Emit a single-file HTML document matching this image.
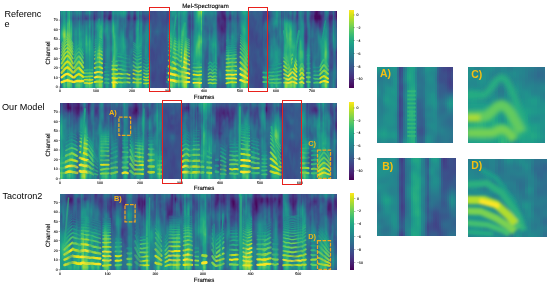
<!DOCTYPE html><html><head><meta charset="utf-8"><title>Mel-Spectrogram</title><style>
html,body{margin:0;padding:0;background:#fff}
body{width:550px;height:286px;position:relative;overflow:hidden;font-family:"Liberation Sans",sans-serif;color:#000}
.sp{position:absolute;display:flex;overflow:hidden}
.sp i{display:block;flex:0 0 1px;height:100%}
.p2 i{flex:0 0 2px}
.p3 i{flex:0 0 3px}
.t{position:absolute;white-space:nowrap;line-height:1}
.rb{position:absolute;border:1.4px solid #e8211c;box-sizing:border-box}
.db{position:absolute;border:1.2px dashed #eaa81c;box-sizing:border-box}
.yl{position:absolute;color:#f4b515;font-weight:bold;font-size:7.4px;line-height:1;white-space:nowrap}
.pl{position:absolute;color:#f5bf12;font-weight:bold;font-size:10.4px;line-height:1;white-space:nowrap}
svg{position:absolute;left:0;top:0}
.hm{overflow:hidden}
svg text{font-family:"Liberation Sans",sans-serif;fill:#000;stroke:#000;stroke-width:.9px;text-rendering:geometricPrecision}
</style></head><body>
<svg width="0" height="0"><defs><filter id="bl" x="-5%" y="-5%" width="110%" height="110%"><feGaussianBlur stdDeviation="0.6"/></filter></defs></svg>
<div class="sp" style="left:60px;top:11px;width:277px;height:76.5px"><i style="background:linear-gradient(#29798e,#2a778e,#31678e,#375a8c,#375b8d,#33628d,#2f6c8e,#2d708e,#287c8e,#24878e,#238a8d,#25858e,#2c728e,#32648e,#33638d,#31668e,#2d718e,#297b8e,#297a8e,#25858e,#23888e,#24868e,#26828e,#297b8e,#2c718e,#2e6e8e,#32658e,#32658e,#33638d,#38598c,#3e4a89)"></i><i style="background:linear-gradient(#1f998a,#1f958b,#24878e,#287c8e,#297a8e,#25848e,#228d8d,#1f978b,#20a486,#25ab82,#22a785,#1f9e89,#228d8d,#277f8e,#277e8e,#26818e,#25858e,#228b8d,#21908d,#1f9a8a,#1f998a,#1f998a,#1f968b,#238a8d,#26828e,#25838e,#25838e,#27808e,#27808e,#2a768e,#32648e)"></i><i style="background:linear-gradient(#20928c,#228c8d,#25838e,#27808e,#25838e,#218f8d,#1f9a8a,#23a983,#35b779,#42be71,#37b878,#24aa83,#1f998a,#20928c,#1f948c,#1f9a8a,#1e9b8a,#1e9c89,#20a386,#1fa287,#1f9f88,#1e9c89,#1f998a,#218f8d,#228d8d,#20928c,#1f998a,#1f958b,#1f9a8a,#20928c,#26818e)"></i><i style="background:linear-gradient(#1fa088,#1f9a8a,#20928c,#1f948c,#1e9c89,#1fa287,#28ae80,#3bbb75,#58c765,#7ad151,#70cf57,#50c46a,#32b67a,#32b67a,#38b977,#42be71,#44bf70,#46c06f,#42be71,#2eb37c,#28ae80,#24aa83,#22a884,#21a585,#21a685,#25ac82,#32b67a,#34b679,#3aba76,#35b779,#24aa83)"></i><i style="background:linear-gradient(#1fa088,#1e9b8a,#20938c,#1f968b,#1fa188,#21a685,#2db27d,#44bf70,#69cd5b,#8ed645,#8ed645,#70cf57,#50c46a,#48c16e,#50c46a,#5ac864,#5ec962,#5ac864,#4ac16d,#34b679,#2db27d,#2cb17e,#2cb17e,#28ae80,#24aa83,#2ab07f,#3aba76,#42be71,#4ac16d,#4ec36b,#32b67a)"></i><i style="background:linear-gradient(#20928c,#228d8d,#25848e,#23898e,#1f948c,#1f9f88,#24aa83,#2fb47c,#4cc26c,#60ca60,#69cd5b,#50c46a,#32b67a,#28ae80,#2ab07f,#29af7f,#2fb47c,#27ad81,#24aa83,#20a386,#1fa287,#20a486,#22a785,#1fa187,#1f988b,#1f9e89,#20a386,#26ad81,#31b57b,#37b878,#26ad81)"></i><i style="background:linear-gradient(#277e8e,#29798e,#2c718e,#2a788e,#24868e,#1f978b,#1e9d89,#20a386,#2ab07f,#3bbb75,#44bf70,#37b878,#25ab82,#22a785,#24aa83,#23a983,#23a983,#21a585,#20a386,#1fa187,#21a585,#21a585,#22a884,#1fa188,#1f958b,#1f978b,#1f9e89,#21a685,#29af7f,#2ab07f,#1fa187)"></i><i style="background:linear-gradient(#1e9c89,#1e9b8a,#1f948c,#1f9a8a,#21a585,#31b57b,#37b878,#3dbc74,#50c46a,#6ccd5a,#7ad151,#7ad151,#6ccd5a,#69cd5b,#69cd5b,#69cd5b,#63cb5f,#56c667,#4ec36b,#4cc26c,#54c568,#4ec36b,#50c46a,#46c06f,#35b779,#37b878,#42be71,#56c667,#65cb5e,#5ac864,#35b779)"></i><i style="background:linear-gradient(#21a585,#22a884,#20a486,#20a486,#2ab07f,#3aba76,#3bbb75,#3dbc74,#4ac16d,#60ca60,#6ece58,#75d054,#75d054,#70cf57,#67cc5c,#69cd5b,#65cb5e,#5cc863,#4ec36b,#46c06f,#4cc26c,#4ec36b,#50c46a,#44bf70,#3dbc74,#40bd72,#4ac16d,#5ec962,#6ccd5a,#5cc863,#3bbb75)"></i><i style="background:linear-gradient(#23a983,#25ac82,#25ab82,#25ab82,#3fbc73,#48c16e,#46c06f,#46c06f,#4cc26c,#5ec962,#69cd5b,#6ece58,#70cf57,#6ccd5a,#6ccd5a,#67cc5c,#6ccd5a,#67cc5c,#58c765,#4ac16d,#4ec36b,#58c765,#52c569,#3fbc73,#3fbc73,#46c06f,#4cc26c,#56c667,#69cd5b,#5cc863,#3aba76)"></i><i style="background:linear-gradient(#25858e,#23888e,#26828e,#26828e,#1e9c89,#21a585,#24aa83,#2db27d,#35b779,#44bf70,#4ac16d,#48c16e,#50c46a,#52c569,#60ca60,#5ec962,#5ac864,#50c46a,#4ac16d,#40bd72,#44bf70,#46c06f,#3aba76,#2cb17e,#2cb17e,#32b67a,#34b679,#35b779,#48c16e,#48c16e,#28ae80)"></i><i style="background:linear-gradient(#24878e,#228c8d,#26818e,#297b8e,#1f968b,#21a585,#25ac82,#2eb37c,#35b779,#3fbc73,#3bbb75,#34b679,#3aba76,#3fbc73,#50c46a,#56c667,#4ec36b,#3dbc74,#3aba76,#37b878,#3bbb75,#35b779,#2fb47c,#27ad81,#2ab07f,#2db27d,#28ae80,#2ab07f,#34b679,#3dbc74,#25ab82)"></i><i style="background:linear-gradient(#2c728e,#2a778e,#31678e,#375a8c,#2e6e8e,#277e8e,#24868e,#218e8d,#21908d,#1f948c,#21908d,#228d8d,#21918c,#20938c,#1f9f88,#20a386,#1fa188,#1f958b,#21908d,#218f8d,#228d8d,#23898e,#228c8d,#218f8d,#21918c,#228d8d,#23888e,#24868e,#228d8d,#20928c,#23888e)"></i><i style="background:linear-gradient(#2c718e,#2c738e,#34608d,#3c508b,#34618d,#2e6d8e,#2b758e,#277e8e,#287c8e,#27808e,#297b8e,#287c8e,#277f8e,#26818e,#228b8d,#218f8d,#218e8d,#24878e,#26828e,#26828e,#277e8e,#29798e,#27808e,#25848e,#26828e,#2a768e,#2c738e,#2d708e,#29798e,#277e8e,#2b748e)"></i><i style="background:linear-gradient(#277e8e,#29798e,#31668e,#375a8c,#30698e,#2e6e8e,#2a778e,#25848e,#23898e,#228d8d,#24878e,#23888e,#228d8d,#21908d,#1f958b,#1f978b,#1f968b,#1f9a8a,#1f9a8a,#1e9c89,#1f988b,#1f978b,#1e9c89,#1f968b,#218f8d,#26818e,#27808e,#25838e,#21908d,#1f978b,#228b8d)"></i><i style="background:linear-gradient(#26828e,#29798e,#31668e,#375b8d,#306a8e,#2d718e,#297a8e,#23888e,#20928c,#1f958b,#218e8d,#20928c,#1f988b,#1e9c89,#1fa187,#1fa287,#1f9e89,#20a486,#22a884,#27ad81,#23a983,#27ad81,#29af7f,#20a386,#1e9d89,#20928c,#20938c,#1fa088,#25ac82,#31b57b,#24aa83)"></i><i style="background:linear-gradient(#228d8d,#25848e,#2d708e,#33628d,#2e6e8e,#2a768e,#277f8e,#238a8d,#20938c,#1f968b,#20928c,#20938c,#1e9c89,#1f9e89,#22a785,#21a585,#1fa287,#21a685,#26ad81,#2cb17e,#26ad81,#2eb37c,#2db27d,#21a685,#20a386,#1e9c89,#1fa187,#2ab07f,#3dbc74,#4ac16d,#2fb47c)"></i><i style="background:linear-gradient(#228d8d,#24878e,#2c718e,#355f8d,#2e6f8e,#2a788e,#27808e,#23888e,#23888e,#228b8d,#24878e,#24868e,#21918c,#20938c,#1e9c89,#1f9e89,#1fa088,#20a386,#26ad81,#28ae80,#28ae80,#2eb37c,#2db27d,#24aa83,#22a884,#20a386,#25ab82,#37b878,#4ec36b,#54c568,#32b67a)"></i><i style="background:linear-gradient(#26828e,#277f8e,#31688e,#3c4f8a,#2d708e,#287d8e,#25838e,#218e8d,#228d8d,#21918c,#228d8d,#228c8d,#1f978b,#1f978b,#1e9c89,#1fa287,#1fa088,#1fa188,#24aa83,#28ae80,#2ab07f,#2db27d,#34b679,#2fb47c,#28ae80,#22a884,#26ad81,#35b779,#4cc26c,#58c765,#3aba76)"></i><i style="background:linear-gradient(#228b8d,#238a8d,#2b758e,#32648e,#26818e,#228d8d,#1f948c,#1e9d89,#1fa287,#21a685,#20a386,#1fa187,#24aa83,#24aa83,#24aa83,#27ad81,#21a685,#20a386,#28ae80,#2eb37c,#2eb37c,#37b878,#3fbc73,#40bd72,#37b878,#2db27d,#34b679,#3aba76,#4ac16d,#5cc863,#3fbc73)"></i><i style="background:linear-gradient(#277e8e,#297b8e,#31678e,#365d8d,#2e6e8e,#29798e,#26828e,#23898e,#1f968b,#1f9f88,#1e9c89,#1f9e89,#20a486,#25ac82,#24aa83,#25ab82,#22a785,#20a486,#25ab82,#25ac82,#23a983,#2cb17e,#29af7f,#31b57b,#2fb47c,#2eb37c,#35b779,#31b57b,#35b779,#3fbc73,#28ae80)"></i><i style="background:linear-gradient(#2b758e,#2b748e,#32648e,#355f8d,#2e6d8e,#2b748e,#26828e,#24868e,#21908d,#1f978b,#1f958b,#1e9b8a,#1fa188,#23a983,#21a585,#21a585,#20a486,#1fa187,#20a486,#20a386,#20a386,#22a785,#23a983,#25ac82,#2eb37c,#37b878,#3fbc73,#3bbb75,#3aba76,#35b779,#24aa83)"></i><i style="background:linear-gradient(#39568c,#375b8d,#3d4d8a,#3e4989,#365d8d,#31688e,#297a8e,#25838e,#228b8d,#228d8d,#228b8d,#20928c,#1f968b,#1f988b,#20938c,#20938c,#218f8d,#228d8d,#218f8d,#218f8d,#20928c,#20938c,#1f968b,#1f998a,#20a486,#27ad81,#2cb17e,#29af7f,#27ad81,#22a785,#1f998a)"></i><i style="background:linear-gradient(#34608d,#32648e,#39568c,#3c508b,#33638d,#2e6f8e,#287d8e,#25838e,#228c8d,#228c8d,#238a8d,#21918c,#20938c,#1f948c,#20938c,#20928c,#228c8d,#24868e,#25858e,#26828e,#25848e,#25848e,#24878e,#228c8d,#1f968b,#1f9e89,#1e9c89,#1e9d89,#1f9a8a,#20928c,#24878e)"></i><i style="background:linear-gradient(#33628d,#31688e,#3a538b,#3d4d8a,#31678e,#2c718e,#2a788e,#287c8e,#25838e,#24878e,#23888e,#228d8d,#21908d,#20928c,#218f8d,#228b8d,#24868e,#277e8e,#29798e,#2a768e,#297b8e,#287d8e,#27808e,#24878e,#20928c,#1f948c,#20928c,#1e9b8a,#1fa088,#1e9d89,#20928c)"></i><i style="background:linear-gradient(#2f6b8e,#2c718e,#3c4f8a,#414287,#306a8e,#2a778e,#26818e,#24868e,#228d8d,#20938c,#1e9d89,#1fa188,#21a585,#23a983,#1fa088,#1e9c89,#1f998a,#228d8d,#24878e,#25858e,#23888e,#228c8d,#228c8d,#1f968b,#1fa088,#1fa188,#20a386,#25ab82,#37b878,#38b977,#25ab82)"></i><i style="background:linear-gradient(#297b8e,#287d8e,#3a548c,#423f85,#2d708e,#277e8e,#228b8d,#1f948c,#1f998a,#1f9f88,#27ad81,#2cb17e,#31b57b,#34b679,#27ad81,#24aa83,#23a983,#1e9b8a,#1f958b,#21908d,#218f8d,#20928c,#20928c,#1e9c89,#1fa188,#21a685,#27ad81,#31b57b,#4cc26c,#4ec36b,#2db27d)"></i><i style="background:linear-gradient(#277f8e,#287c8e,#38588c,#3f4788,#2f6b8e,#2a778e,#26818e,#25848e,#238a8d,#218e8d,#1f9a8a,#1fa088,#21a685,#26ad81,#22a785,#20a486,#1fa188,#1f978b,#1f948c,#21908d,#228d8d,#218f8d,#21908d,#1e9d89,#1fa088,#22a884,#29af7f,#3aba76,#50c46a,#4ec36b,#2db27d)"></i><i style="background:linear-gradient(#25838e,#287d8e,#355e8d,#3b528b,#2f6c8e,#29798e,#26828e,#277f8e,#27808e,#24868e,#21908d,#1f978b,#1fa188,#21a685,#1fa287,#20a386,#1f9e89,#1f978b,#20928c,#20928c,#228d8d,#218e8d,#218f8d,#1f9a8a,#1fa188,#22a785,#29af7f,#40bd72,#4cc26c,#46c06f,#2cb17e)"></i><i style="background:linear-gradient(#1f9a8a,#1f958b,#2a778e,#2e6e8e,#24878e,#20928c,#1e9c89,#1f968b,#20928c,#1f988b,#1fa187,#25ac82,#2fb47c,#2fb47c,#2db27d,#2fb47c,#26ad81,#23a983,#1fa188,#1fa188,#1f9e89,#1f9e89,#1f9e89,#20a386,#27ad81,#2db27d,#3aba76,#5ac864,#6ccd5a,#5ec962,#44bf70)"></i><i style="background:linear-gradient(#27808e,#26818e,#31678e,#34608d,#287c8e,#24868e,#228b8d,#24878e,#25838e,#23898e,#20928c,#1f9e89,#22a884,#22a884,#22a884,#23a983,#1fa188,#1fa287,#1f9a8a,#1f988b,#1e9b8a,#1f988b,#1f998a,#1e9b8a,#21a685,#25ac82,#29af7f,#3fbc73,#58c765,#54c568,#37b878)"></i><i style="background:linear-gradient(#2e6d8e,#2e6f8e,#365c8d,#38588c,#2d718e,#2a788e,#2a768e,#2c728e,#2c738e,#2a788e,#26818e,#238a8d,#1f978b,#1e9d89,#1f9f88,#1fa188,#1f988b,#1f998a,#1f948c,#21918c,#20938c,#20938c,#1f968b,#1f978b,#1e9d89,#20a486,#21a685,#29af7f,#3dbc74,#42be71,#2db27d)"></i><i style="background:linear-gradient(#2f6b8e,#30698e,#375b8d,#375b8d,#29798e,#25838e,#25838e,#24868e,#23888e,#238a8d,#218f8d,#20928c,#1f978b,#1f968b,#1f998a,#1e9c89,#1e9b8a,#1f978b,#1f948c,#1f948c,#1f968b,#1f988b,#1f9f88,#1f9e89,#1f9f88,#1fa088,#1e9c89,#1f9f88,#22a884,#26ad81,#1fa287)"></i><i style="background:linear-gradient(#32648e,#38588c,#3f4889,#414487,#32658e,#2c728e,#2a768e,#297b8e,#2a788e,#2a788e,#26818e,#26828e,#25838e,#27808e,#25848e,#228d8d,#20928c,#218f8d,#24878e,#25848e,#26828e,#277e8e,#25848e,#24868e,#228b8d,#23888e,#24878e,#238a8d,#21908d,#1f948c,#218e8d)"></i><i style="background:linear-gradient(#3a548c,#3e4989,#453581,#472e7c,#3c508b,#34618d,#32658e,#2f6c8e,#32648e,#32658e,#2d708e,#2c738e,#2d708e,#2f6c8e,#2d708e,#287d8e,#25848e,#25858e,#277e8e,#2a788e,#2c718e,#2f6c8e,#2e6f8e,#2a778e,#277f8e,#277f8e,#26818e,#26828e,#25858e,#228c8d,#25838e)"></i><i style="background:linear-gradient(#3a538b,#3a548c,#404588,#3f4788,#31688e,#297b8e,#277e8e,#26828e,#297b8e,#27808e,#238a8d,#21908d,#228b8d,#23888e,#23898e,#1f988b,#20a386,#25ac82,#24aa83,#1fa088,#1f968b,#20928c,#1f948c,#1fa188,#21a685,#22a785,#22a785,#20a486,#24aa83,#31b57b,#20a486)"></i><i style="background:linear-gradient(#3d4d8a,#3a538b,#3e4989,#3a548c,#2a768e,#228c8d,#21908d,#228d8d,#25838e,#23888e,#228c8d,#218e8d,#218e8d,#218e8d,#21918c,#1fa187,#29af7f,#37b878,#3bbb75,#29af7f,#22a785,#21a585,#21a585,#29af7f,#2eb37c,#31b57b,#2eb37c,#2db27d,#3aba76,#4cc26c,#2fb47c)"></i><i style="background:linear-gradient(#38598c,#355f8d,#3a548c,#375b8d,#27808e,#1f988b,#1fa088,#1e9c89,#1f948c,#1f968b,#1f988b,#20938c,#1f948c,#1e9b8a,#1fa187,#2cb17e,#3bbb75,#42be71,#46c06f,#35b779,#29af7f,#27ad81,#26ad81,#2ab07f,#29af7f,#2eb37c,#31b57b,#38b977,#46c06f,#4ec36b,#34b679)"></i><i style="background:linear-gradient(#31668e,#30698e,#355f8d,#34608d,#26818e,#1e9c89,#21a685,#20a386,#1fa187,#1fa187,#1fa287,#1fa088,#1fa187,#25ab82,#2cb17e,#3fbc73,#4cc26c,#52c569,#54c568,#42be71,#2db27d,#26ad81,#28ae80,#28ae80,#25ab82,#2cb17e,#35b779,#48c16e,#58c765,#5ac864,#3aba76)"></i><i style="background:linear-gradient(#306a8e,#2e6d8e,#32648e,#32648e,#25858e,#1f9f88,#26ad81,#25ac82,#29af7f,#2db27d,#2eb37c,#34b679,#32b67a,#44bf70,#4cc26c,#58c765,#65cb5e,#67cc5c,#69cd5b,#5cc863,#42be71,#38b977,#3aba76,#38b977,#35b779,#40bd72,#4ec36b,#69cd5b,#7cd250,#7fd34e,#50c46a)"></i><i style="background:linear-gradient(#32648e,#306a8e,#33638d,#32658e,#24878e,#1f9a8a,#26ad81,#28ae80,#31b57b,#2fb47c,#35b779,#38b977,#2eb37c,#2fb47c,#31b57b,#38b977,#44bf70,#3fbc73,#44bf70,#3fbc73,#31b57b,#2fb47c,#32b67a,#35b779,#3aba76,#3dbc74,#42be71,#5cc863,#75d054,#7fd34e,#50c46a)"></i><i style="background:linear-gradient(#2d718e,#2b748e,#30698e,#2d718e,#228d8d,#1f9f88,#27ad81,#2db27d,#34b679,#2eb37c,#35b779,#38b977,#2cb17e,#26ad81,#25ac82,#2eb37c,#3aba76,#31b57b,#35b779,#2fb47c,#25ac82,#26ad81,#29af7f,#2fb47c,#32b67a,#34b679,#32b67a,#46c06f,#65cb5e,#75d054,#50c46a)"></i><i style="background:linear-gradient(#2a788e,#297a8e,#2f6c8e,#2b758e,#238a8d,#1e9d89,#1fa187,#24aa83,#22a884,#1fa187,#1fa188,#20a386,#1fa088,#1f998a,#1f958b,#1e9d89,#1fa088,#1f9f88,#1f9f88,#1f988b,#218e8d,#238a8d,#218e8d,#21918c,#20938c,#1f968b,#1f988b,#21a585,#32b67a,#37b878,#25ac82)"></i><i style="background:linear-gradient(#365c8d,#355f8d,#3d4e8a,#39568c,#306a8e,#287d8e,#27808e,#238a8d,#23888e,#277f8e,#2b758e,#2b748e,#2a768e,#2b748e,#2b758e,#2a788e,#2c738e,#2b758e,#2b758e,#2e6e8e,#33628d,#365d8d,#34618d,#32648e,#30698e,#2e6e8e,#2c738e,#26818e,#23888e,#26828e,#29798e)"></i><i style="background:linear-gradient(#424086,#404588,#46337f,#433d84,#3a538b,#2f6b8e,#2d718e,#287d8e,#26828e,#2a768e,#31688e,#355e8d,#34618d,#33638d,#31668e,#30698e,#306a8e,#30698e,#31688e,#32658e,#365c8d,#375b8d,#33628d,#32658e,#2f6c8e,#2e6d8e,#2a778e,#277f8e,#297b8e,#2d708e,#32658e)"></i><i style="background:linear-gradient(#3e4c8a,#3e4989,#443b84,#3d4d8a,#31688e,#297a8e,#26828e,#218e8d,#20928c,#24878e,#297b8e,#2d708e,#2c718e,#2c718e,#2c728e,#297a8e,#277e8e,#287c8e,#2a788e,#29798e,#2b748e,#297a8e,#26818e,#26828e,#24878e,#26828e,#21908d,#1f958b,#20928c,#238a8d,#27808e)"></i><i style="background:linear-gradient(#39558c,#3b518b,#414487,#3b528b,#2b748e,#25838e,#21908d,#1f998a,#1f968b,#228d8d,#24868e,#277f8e,#297b8e,#287c8e,#287c8e,#25858e,#23888e,#23888e,#25848e,#26828e,#27808e,#24868e,#23888e,#238a8d,#228b8d,#238a8d,#1f968b,#1f9f88,#1f9f88,#1f9e89,#1f958b)"></i><i style="background:linear-gradient(#365c8d,#38598c,#3f4788,#3f4889,#2c718e,#25848e,#20928c,#1f988b,#1f968b,#20928c,#20928c,#228c8d,#24868e,#24878e,#228b8d,#20928c,#20928c,#20928c,#21908d,#228b8d,#24868e,#228c8d,#23888e,#238a8d,#23888e,#228d8d,#20928c,#1f978b,#1e9d89,#1fa187,#1f9a8a)"></i><i style="background:linear-gradient(#39558c,#3b518b,#463480,#482576,#33628d,#29798e,#25838e,#23898e,#24878e,#238a8d,#218f8d,#228b8d,#25858e,#24878e,#228c8d,#218f8d,#218e8d,#218e8d,#228c8d,#23888e,#26828e,#25848e,#25838e,#26818e,#25838e,#25848e,#25858e,#228b8d,#21908d,#20938c,#238a8d)"></i><i style="background:linear-gradient(#414287,#433e85,#482374,#481769,#39568c,#2d708e,#297b8e,#25838e,#26828e,#26828e,#25848e,#25848e,#27808e,#25848e,#23888e,#238a8d,#238a8d,#23888e,#25838e,#26828e,#26818e,#26818e,#26828e,#27808e,#26828e,#277f8e,#27808e,#26828e,#25838e,#26818e,#2a788e)"></i><i style="background:linear-gradient(#433d84,#443a83,#482475,#482576,#3a538b,#2f6b8e,#2b758e,#287d8e,#297b8e,#2b758e,#2c728e,#2c728e,#2d708e,#2b748e,#297a8e,#277e8e,#2a768e,#2c728e,#2d708e,#2c728e,#29798e,#27808e,#277e8e,#277f8e,#287d8e,#27808e,#26818e,#26828e,#27808e,#2a788e,#2c738e)"></i><i style="background:linear-gradient(#3b528b,#3a538b,#423f85,#3f4788,#31668e,#29798e,#27808e,#24878e,#24878e,#277e8e,#29798e,#2a768e,#2c728e,#2b758e,#277e8e,#26828e,#2a768e,#2d718e,#2d718e,#2a768e,#277f8e,#23898e,#238a8d,#238a8d,#23888e,#228c8d,#20928c,#1f9a8a,#1f9a8a,#1f968b,#228d8d)"></i><i style="background:linear-gradient(#25848e,#24878e,#2a788e,#287d8e,#20938c,#1fa187,#22a884,#28ae80,#26ad81,#20a486,#1fa088,#1e9b8a,#1f978b,#1f978b,#1fa187,#20a486,#1e9c89,#1e9b8a,#1fa088,#21a585,#25ab82,#2eb37c,#37b878,#38b977,#3bbb75,#3fbc73,#52c569,#6ccd5a,#8bd646,#8ed645,#69cd5b)"></i><i style="background:linear-gradient(#1f988b,#1f988b,#24878e,#25858e,#1e9c89,#26ad81,#34b679,#3aba76,#3aba76,#35b779,#35b779,#29af7f,#27ad81,#26ad81,#2ab07f,#2cb17e,#28ae80,#2fb47c,#40bd72,#52c569,#56c667,#54c568,#5cc863,#6ccd5a,#70cf57,#75d054,#8ed645,#b2dd2d,#e5e419,#f6e620,#d2e21b)"></i><i style="background:linear-gradient(#228d8d,#23898e,#2b758e,#2d708e,#25838e,#1f958b,#20a386,#22a884,#23a983,#2ab07f,#35b779,#31b57b,#38b977,#3bbb75,#3aba76,#37b878,#38b977,#3bbb75,#44bf70,#46c06f,#46c06f,#3aba76,#3aba76,#48c16e,#4cc26c,#5cc863,#73d056,#95d840,#c0df25,#dae319,#b2dd2d)"></i><i style="background:linear-gradient(#228b8d,#23898e,#2c738e,#2e6f8e,#277f8e,#228c8d,#1f988b,#1e9b8a,#1f998a,#1fa187,#23a983,#23a983,#27ad81,#2cb17e,#2db27d,#2db27d,#2eb37c,#2cb17e,#2cb17e,#27ad81,#2eb37c,#29af7f,#27ad81,#2cb17e,#2ab07f,#40bd72,#4ec36b,#5ec962,#7ad151,#89d548,#63cb5f)"></i><i style="background:linear-gradient(#23898e,#228b8d,#2a768e,#2c718e,#26818e,#228b8d,#20928c,#20928c,#20928c,#1f958b,#1f9a8a,#1f9a8a,#1f9e89,#1fa287,#21a685,#25ab82,#24aa83,#21a685,#1fa287,#1e9d89,#20a486,#20a486,#20a386,#20a386,#1fa287,#2ab07f,#2cb17e,#2db27d,#34b679,#3aba76,#25ac82)"></i><i style="background:linear-gradient(#218f8d,#21918c,#27808e,#2a778e,#24878e,#228d8d,#228d8d,#228c8d,#228c8d,#228b8d,#21918c,#1f948c,#1f968b,#1e9b8a,#1f9a8a,#1f9e89,#1e9c89,#1f978b,#1f958b,#218e8d,#21908d,#20928c,#1f948c,#20938c,#20938c,#1fa088,#1fa088,#1fa188,#21a585,#1fa287,#1f968b)"></i><i style="background:linear-gradient(#20928c,#218f8d,#277e8e,#2b758e,#277e8e,#26828e,#25838e,#26818e,#26818e,#27808e,#23888e,#21908d,#21918c,#20938c,#20938c,#20928c,#218e8d,#228c8d,#228d8d,#25858e,#26818e,#26828e,#25848e,#26828e,#25858e,#218f8d,#20938c,#1f9f88,#20a486,#1f9f88,#20928c)"></i><i style="background:linear-gradient(#20928c,#228d8d,#2a778e,#2f6c8e,#306a8e,#2d718e,#2b748e,#2c738e,#2a778e,#287c8e,#25848e,#228d8d,#218f8d,#1f948c,#1f948c,#218f8d,#21908d,#20928c,#218e8d,#25848e,#277e8e,#287d8e,#26818e,#277f8e,#24868e,#218e8d,#1f948c,#1fa287,#22a884,#20a386,#20938c)"></i><i style="background:linear-gradient(#1f988b,#1f968b,#277e8e,#31688e,#31668e,#2e6e8e,#2d718e,#2a778e,#27808e,#23888e,#228d8d,#20928c,#20938c,#1f988b,#1f978b,#20928c,#1f958b,#1f988b,#21918c,#24878e,#24868e,#25838e,#24878e,#238a8d,#20928c,#1f998a,#1f9f88,#24aa83,#29af7f,#27ad81,#1f9f88)"></i><i style="background:linear-gradient(#1f9a8a,#1e9c89,#25848e,#2e6d8e,#2e6e8e,#2c738e,#2d718e,#297b8e,#25858e,#218f8d,#20938c,#1f998a,#1e9b8a,#1e9d89,#1f9a8a,#1f998a,#1f9a8a,#1f998a,#1f948c,#228b8d,#21918c,#228d8d,#218e8d,#20928c,#1f958b,#1f968b,#1f9a8a,#1f9e89,#22a785,#28ae80,#1fa188)"></i><i style="background:linear-gradient(#1f988b,#1f978b,#25858e,#2d708e,#2d718e,#2c738e,#2d718e,#2a778e,#25848e,#218f8d,#1f998a,#1fa088,#1fa088,#1fa188,#1f9f88,#1e9d89,#1f9e89,#1f958b,#20928c,#21908d,#1f978b,#1f978b,#1f988b,#1f988b,#1f968b,#1f968b,#1f998a,#20938c,#1e9b8a,#1fa088,#21908d)"></i><i style="background:linear-gradient(#22a785,#1f9f88,#238a8d,#2c738e,#2c718e,#2a768e,#297b8e,#277e8e,#23888e,#20928c,#1e9c89,#20a486,#20a486,#22a785,#22a785,#1fa187,#1f9f88,#1f948c,#20928c,#20928c,#1e9b8a,#1f9e89,#1f9e89,#1fa188,#1e9b8a,#1e9b8a,#1f9e89,#1e9b8a,#20a386,#1e9b8a,#238a8d)"></i><i style="background:linear-gradient(#1fa188,#1e9b8a,#25848e,#2e6e8e,#2f6b8e,#2d718e,#2a778e,#2c738e,#2a778e,#29798e,#26828e,#21918c,#1f968b,#1f9e89,#1fa287,#1e9d89,#1f968b,#20938c,#20928c,#20928c,#1f998a,#1e9b8a,#1f9a8a,#1f9f88,#1f998a,#1f998a,#1f9e89,#1fa187,#26ad81,#1f998a,#23888e)"></i><i style="background:linear-gradient(#1f988b,#1f968b,#277e8e,#2e6f8e,#2c718e,#2b758e,#2a778e,#2e6e8e,#2e6d8e,#2f6c8e,#2c738e,#25838e,#23898e,#218e8d,#1f998a,#1f948c,#20938c,#1f958b,#1f958b,#20928c,#1f978b,#1f988b,#1f968b,#1f9a8a,#1f958b,#1f978b,#1e9c89,#1fa088,#22a785,#1f968b,#26828e)"></i><i style="background:linear-gradient(#26828e,#287d8e,#33628d,#38588c,#33638d,#32648e,#32648e,#375b8d,#38588c,#38598c,#355f8d,#2e6f8e,#29798e,#297b8e,#26828e,#287c8e,#27808e,#26818e,#26818e,#277f8e,#26818e,#27808e,#27808e,#25838e,#26828e,#24878e,#228b8d,#218f8d,#20938c,#218e8d,#297a8e)"></i><i style="background:linear-gradient(#2d708e,#31668e,#3e4a89,#424086,#3a548c,#375a8c,#38588c,#3a548c,#39558c,#38588c,#375b8d,#31688e,#2c718e,#2b758e,#2a778e,#2d718e,#2c728e,#2b748e,#29798e,#297a8e,#2a768e,#2b758e,#2a768e,#2a768e,#2b758e,#297a8e,#287d8e,#25838e,#23898e,#24878e,#2a778e)"></i><i style="background:linear-gradient(#3a548c,#3c508b,#453581,#472e7c,#3e4989,#3a548c,#3a548c,#39568c,#375b8d,#355e8d,#33628d,#32658e,#31668e,#2e6d8e,#2e6d8e,#2f6c8e,#2e6e8e,#2d708e,#2a768e,#2a778e,#2a788e,#2a768e,#2c728e,#2f6c8e,#30698e,#31688e,#2e6d8e,#2a768e,#287c8e,#277e8e,#2c718e)"></i><i style="background:linear-gradient(#3a548c,#3b518b,#443983,#463480,#3e4c8a,#38598c,#365d8d,#355f8d,#31678e,#2e6f8e,#2c728e,#2e6d8e,#30698e,#2e6d8e,#2e6f8e,#2d718e,#2b758e,#2a768e,#287c8e,#287d8e,#26818e,#287d8e,#2a788e,#2d708e,#2f6b8e,#31668e,#2e6e8e,#297a8e,#26818e,#26828e,#2a788e)"></i><i style="background:linear-gradient(#31678e,#31668e,#3b528b,#3e4989,#38598c,#32648e,#31668e,#32658e,#2e6f8e,#2b758e,#297a8e,#2a768e,#2c738e,#2d708e,#2c718e,#2a778e,#287d8e,#297a8e,#287c8e,#277e8e,#277e8e,#26818e,#26818e,#297b8e,#2a768e,#2d718e,#2b748e,#25858e,#228b8d,#228c8d,#27808e)"></i><i style="background:linear-gradient(#2e6d8e,#2e6f8e,#355e8d,#3b528b,#355e8d,#31678e,#32658e,#32658e,#2d708e,#2d718e,#2a788e,#297a8e,#2c738e,#2e6e8e,#2c718e,#297b8e,#26818e,#2a778e,#2b758e,#2a778e,#297a8e,#25838e,#25858e,#26818e,#297a8e,#2b758e,#2a768e,#25838e,#23888e,#23888e,#297b8e)"></i><i style="background:linear-gradient(#2c728e,#2d708e,#365d8d,#3c508b,#365d8d,#32648e,#34608d,#31688e,#2d708e,#2d708e,#2b748e,#2a768e,#2d718e,#2e6f8e,#2c718e,#297b8e,#297b8e,#2c718e,#2e6f8e,#2d718e,#2a778e,#25848e,#25838e,#287c8e,#2b748e,#2c728e,#2a768e,#277e8e,#24878e,#25858e,#2c738e)"></i><i style="background:linear-gradient(#34618d,#375b8d,#414287,#46327e,#3d4e8a,#375a8c,#38588c,#34618d,#34608d,#34618d,#34618d,#32648e,#31678e,#306a8e,#2e6d8e,#2c728e,#2d718e,#2f6b8e,#306a8e,#2e6d8e,#2c738e,#287c8e,#287d8e,#2a778e,#2d718e,#2e6f8e,#2a768e,#277e8e,#228d8d,#228c8d,#29798e)"></i><i style="background:linear-gradient(#3e4c8a,#3f4788,#472d7b,#481f70,#404588,#3a548c,#38598c,#365d8d,#38598c,#375a8c,#39568c,#375b8d,#31678e,#2c718e,#2a778e,#297b8e,#2a768e,#2d718e,#2c718e,#2b758e,#2b758e,#2a788e,#277f8e,#277e8e,#29798e,#2a788e,#26828e,#238a8d,#1f968b,#1f978b,#238a8d)"></i><i style="background:linear-gradient(#3a538b,#3c508b,#453581,#472c7a,#3b518b,#33638d,#2f6c8e,#2d718e,#2c728e,#2e6f8e,#306a8e,#2c718e,#2a788e,#26828e,#23888e,#24878e,#26828e,#26828e,#24878e,#228c8d,#24878e,#23888e,#228d8d,#228c8d,#228d8d,#228d8d,#1f988b,#1fa088,#23a983,#21a585,#1f9a8a)"></i><i style="background:linear-gradient(#2b758e,#2b758e,#33628d,#39558c,#29798e,#23888e,#218f8d,#1f978b,#1f998a,#1f968b,#1f948c,#1e9c89,#1f9f88,#1fa287,#21a585,#1fa088,#1f978b,#1f958b,#1f9a8a,#1e9d89,#1f9e89,#1fa188,#1fa187,#20a386,#21a685,#22a785,#34b679,#40bd72,#4ec36b,#44bf70,#28ae80)"></i><i style="background:linear-gradient(#26828e,#25838e,#2a768e,#31678e,#218e8d,#1e9c89,#1e9d89,#22a785,#1fa287,#20a386,#20a486,#22a884,#22a785,#22a884,#28ae80,#24aa83,#20a486,#1fa188,#1f9e89,#1fa188,#22a785,#26ad81,#2ab07f,#2db27d,#2eb37c,#31b57b,#48c16e,#56c667,#63cb5f,#5ec962,#31b57b)"></i><i style="background:linear-gradient(#228d8d,#228b8d,#277f8e,#297b8e,#1f978b,#1fa287,#1f9e89,#1fa287,#1e9d89,#1f9e89,#1fa088,#1fa187,#1fa188,#20a386,#24aa83,#23a983,#21a585,#1f9e89,#1f998a,#1e9b8a,#1f9f88,#21a685,#29af7f,#2ab07f,#2fb47c,#35b779,#40bd72,#4ec36b,#5cc863,#54c568,#2eb37c)"></i><i style="background:linear-gradient(#30698e,#2f6b8e,#38598c,#33628d,#2c738e,#277f8e,#287d8e,#277f8e,#26828e,#228b8d,#21918c,#1f968b,#1f998a,#1fa187,#20a486,#20a386,#1e9c89,#1f948c,#20928c,#218f8d,#228c8d,#20928c,#1f9a8a,#1f998a,#1fa287,#20a486,#22a884,#29af7f,#38b977,#2db27d,#1fa187)"></i><i style="background:linear-gradient(#2c738e,#2a788e,#34618d,#306a8e,#297a8e,#228b8d,#228d8d,#21918c,#20928c,#1f958b,#1f968b,#1e9b8a,#1e9d89,#1fa287,#1e9d89,#1f978b,#1f948c,#21908d,#21908d,#24878e,#25848e,#238a8d,#20928c,#20928c,#1fa188,#21a685,#22a785,#28ae80,#32b67a,#26ad81,#1e9c89)"></i><i style="background:linear-gradient(#2a778e,#297b8e,#31678e,#306a8e,#297b8e,#218e8d,#20928c,#20928c,#20928c,#20928c,#1f968b,#1e9b8a,#1e9c89,#1f9a8a,#1f958b,#218e8d,#21918c,#21908d,#20928c,#228d8d,#238a8d,#20928c,#1f958b,#1f968b,#1fa088,#20a386,#1fa188,#20a386,#24aa83,#20a386,#21908d)"></i><i style="background:linear-gradient(#39568c,#375a8c,#3f4889,#3e4c8a,#355e8d,#2e6f8e,#2c718e,#2c718e,#2a768e,#297a8e,#25838e,#25848e,#26828e,#287c8e,#297b8e,#2b758e,#2b748e,#2b758e,#2b758e,#2c738e,#2b748e,#297b8e,#297b8e,#277e8e,#26828e,#26828e,#277f8e,#26818e,#23898e,#24868e,#2a788e)"></i><i style="background:linear-gradient(#355e8d,#355e8d,#3f4788,#424186,#3b528b,#355e8d,#32648e,#33628d,#2f6c8e,#2a768e,#277f8e,#287d8e,#297a8e,#2a768e,#297b8e,#2b758e,#2c738e,#2b758e,#2d718e,#2e6e8e,#2d708e,#2b748e,#2c728e,#2a768e,#287c8e,#287d8e,#27808e,#25858e,#228b8d,#25858e,#297a8e)"></i><i style="background:linear-gradient(#32658e,#34618d,#3f4889,#443983,#3e4c8a,#38588c,#32648e,#31678e,#2d708e,#287d8e,#277e8e,#297b8e,#2a788e,#2a778e,#287c8e,#297b8e,#287c8e,#287d8e,#2a768e,#2e6d8e,#2e6f8e,#2a768e,#2a768e,#287d8e,#25838e,#228b8d,#20928c,#1f9a8a,#1fa088,#1f988b,#23898e)"></i><i style="background:linear-gradient(#2f6b8e,#31678e,#3c508b,#433e85,#3b518b,#33628d,#2e6f8e,#2a768e,#277f8e,#23898e,#24878e,#24878e,#23898e,#23898e,#218f8d,#20928c,#20938c,#21918c,#228b8d,#26828e,#277e8e,#26828e,#24878e,#218f8d,#1f948c,#1f9e89,#1fa187,#22a884,#2eb37c,#29af7f,#1fa088)"></i><i style="background:linear-gradient(#31688e,#31668e,#3c508b,#414487,#375b8d,#2e6d8e,#297b8e,#26828e,#23888e,#228b8d,#228b8d,#218f8d,#228d8d,#24878e,#228b8d,#20928c,#20938c,#228d8d,#228b8d,#24878e,#25838e,#24868e,#218e8d,#1f968b,#1fa188,#20a486,#23a983,#27ad81,#34b679,#34b679,#23a983)"></i><i style="background:linear-gradient(#2e6d8e,#31688e,#3c508b,#3e4989,#355f8d,#2c738e,#277e8e,#26818e,#24878e,#238a8d,#228c8d,#218f8d,#23898e,#25848e,#25838e,#24868e,#228b8d,#25858e,#23898e,#238a8d,#23888e,#238a8d,#228c8d,#20928c,#1f9e89,#1e9d89,#1fa187,#21a685,#22a785,#21a585,#1f9a8a)"></i><i style="background:linear-gradient(#2b748e,#31678e,#3d4d8a,#3e4989,#375b8d,#2e6f8e,#2b758e,#2b748e,#287d8e,#26828e,#26828e,#277e8e,#2a768e,#2c738e,#2c718e,#2e6f8e,#2a778e,#2a768e,#2a788e,#297b8e,#27808e,#26818e,#297b8e,#287d8e,#25838e,#24878e,#228b8d,#20928c,#20928c,#21918c,#24868e)"></i><i style="background:linear-gradient(#2e6d8e,#355f8d,#3e4a89,#3d4d8a,#365c8d,#2f6c8e,#2c718e,#2c738e,#287d8e,#27808e,#287d8e,#2c738e,#2f6c8e,#32648e,#33628d,#365d8d,#32648e,#32658e,#33628d,#30698e,#2b748e,#2a778e,#2c738e,#2c728e,#2e6f8e,#2c738e,#2b758e,#287d8e,#26818e,#26828e,#297a8e)"></i><i style="background:linear-gradient(#3b518b,#3c4f8a,#414487,#3f4788,#39558c,#34608d,#31688e,#2e6d8e,#2b748e,#2c718e,#2c728e,#2f6c8e,#32658e,#365d8d,#38598c,#3b518b,#3a538b,#39558c,#3b528b,#3a548c,#365c8d,#33638d,#31678e,#31668e,#355f8d,#355f8d,#365c8d,#33638d,#30698e,#30698e,#33638d)"></i><i style="background:linear-gradient(#3e4a89,#3d4e8a,#3e4a89,#3e4c8a,#3a538b,#38598c,#365d8d,#34608d,#34618d,#365d8d,#365d8d,#365d8d,#375b8d,#39568c,#3b518b,#3e4989,#3f4889,#3e4989,#3f4889,#3e4989,#3e4c8a,#3b518b,#39558c,#3a548c,#3c4f8a,#3e4c8a,#3e4989,#3d4d8a,#39558c,#3a548c,#3c4f8a)"></i><i style="background:linear-gradient(#3e4c8a,#3c4f8a,#3d4e8a,#3c508b,#3a548c,#3a538b,#3a538b,#38598c,#375a8c,#39558c,#39568c,#375a8c,#375a8c,#39558c,#3c4f8a,#3e4989,#3f4889,#3e4989,#3e4a89,#3e4a89,#3e4a89,#3e4c8a,#3d4e8a,#3d4e8a,#3f4889,#414487,#414287,#404688,#3d4d8a,#3b518b,#3c508b)"></i><i style="background:linear-gradient(#3e4c8a,#3c508b,#3c508b,#3b528b,#39558c,#3a538b,#3b528b,#39568c,#375b8d,#375a8c,#38588c,#38598c,#38598c,#39568c,#3a538b,#3d4e8a,#3e4989,#3f4788,#3f4889,#3e4989,#3e4c8a,#3d4d8a,#3c4f8a,#3c4f8a,#3e4a89,#404588,#414287,#404588,#3e4c8a,#3b528b,#3a538b)"></i><i style="background:linear-gradient(#3f4889,#3e4c8a,#3d4d8a,#3c508b,#3b518b,#3a538b,#39558c,#38588c,#355e8d,#365d8d,#39568c,#3a538b,#3a538b,#39558c,#3a548c,#3c508b,#3e4c8a,#3f4889,#3e4989,#3e4c8a,#3d4e8a,#3c4f8a,#3c4f8a,#3d4d8a,#3e4989,#3f4788,#404588,#3f4889,#3c508b,#3a538b,#3a538b)"></i><i style="background:linear-gradient(#3e4a89,#3d4d8a,#3d4d8a,#3c4f8a,#3c4f8a,#3b518b,#39558c,#375b8d,#34618d,#365d8d,#3a548c,#3b518b,#3c508b,#3a548c,#39558c,#3b518b,#3c4f8a,#3d4d8a,#3e4c8a,#3e4a89,#3d4d8a,#3d4e8a,#3d4d8a,#3e4a89,#3f4889,#3f4889,#3e4989,#3e4c8a,#3c4f8a,#3c4f8a,#3d4d8a)"></i><i style="background:linear-gradient(#3c508b,#3b518b,#3d4e8a,#3c508b,#3b528b,#3a538b,#38588c,#355f8d,#31678e,#355f8d,#39568c,#3a548c,#3b528b,#3a548c,#3a538b,#3c4f8a,#3d4e8a,#3e4a89,#3e4a89,#3e4c8a,#3c4f8a,#3b518b,#3c508b,#3c4f8a,#3e4c8a,#3e4c8a,#3d4d8a,#3d4e8a,#3c4f8a,#3c4f8a,#3c4f8a)"></i><i style="background:linear-gradient(#39558c,#39568c,#3b518b,#3b528b,#39558c,#38588c,#375b8d,#34618d,#30698e,#33628d,#375a8c,#39568c,#39558c,#3a548c,#3c508b,#3d4e8a,#3d4e8a,#3d4d8a,#3c4f8a,#3b518b,#3b518b,#3b518b,#3c508b,#3b528b,#3b518b,#3c4f8a,#3c4f8a,#3c4f8a,#3c508b,#3b518b,#3b518b)"></i><i style="background:linear-gradient(#38598c,#375b8d,#38588c,#3a548c,#39568c,#375b8d,#365c8d,#355f8d,#31668e,#34608d,#38598c,#39558c,#3a538b,#3a538b,#3c508b,#3d4e8a,#3d4e8a,#3c508b,#3a538b,#3a538b,#3b528b,#3c4f8a,#3d4d8a,#3b518b,#3b518b,#3d4d8a,#3d4d8a,#3d4e8a,#3c508b,#3b518b,#3c508b)"></i><i style="background:linear-gradient(#39568c,#375a8c,#38588c,#39558c,#38598c,#365c8d,#365d8d,#355e8d,#34618d,#375b8d,#39568c,#39558c,#3b528b,#3b518b,#3c508b,#3d4e8a,#3d4d8a,#3c508b,#3a538b,#39558c,#39568c,#3b518b,#3d4e8a,#3c508b,#3c4f8a,#3e4c8a,#3e4a89,#3e4c8a,#3c4f8a,#3c508b,#3c4f8a)"></i><i style="background:linear-gradient(#3b518b,#39558c,#3a538b,#3a538b,#38588c,#365c8d,#365c8d,#365c8d,#365d8d,#38588c,#3a548c,#3a538b,#3c4f8a,#3c4f8a,#3b518b,#3c508b,#3d4e8a,#3c4f8a,#3b528b,#39558c,#38588c,#3b528b,#3c4f8a,#3d4e8a,#3e4a89,#3f4889,#3f4788,#404688,#3f4889,#3e4c8a,#3e4c8a)"></i><i style="background:linear-gradient(#3b528b,#39558c,#3a538b,#3b518b,#3b528b,#39568c,#38598c,#375a8c,#375b8d,#3a548c,#3b528b,#3b528b,#3c508b,#3c508b,#3a538b,#3a538b,#3b528b,#3a548c,#39558c,#39558c,#3a548c,#3c4f8a,#3d4e8a,#3d4d8a,#3e4989,#3f4788,#3f4788,#404688,#3f4788,#3e4c8a,#3d4d8a)"></i><i style="background:linear-gradient(#3a548c,#39568c,#3b528b,#3c4f8a,#3d4e8a,#3b518b,#3a548c,#38588c,#38588c,#3b528b,#3c508b,#3b528b,#3a548c,#3a538b,#3a538b,#3a538b,#3a548c,#39568c,#38598c,#38588c,#3a548c,#3c508b,#3c508b,#3c508b,#3e4a89,#404688,#404588,#404588,#404588,#3f4889,#3e4a89)"></i><i style="background:linear-gradient(#38598c,#38588c,#3b528b,#3c508b,#3d4e8a,#3c4f8a,#3a538b,#38588c,#38598c,#3a548c,#3b518b,#3b518b,#3a548c,#39558c,#3a538b,#3a548c,#3a548c,#3a538b,#39558c,#3a548c,#3a538b,#3b518b,#3c508b,#3c508b,#3e4a89,#414487,#424186,#424186,#424186,#404588,#3f4889)"></i><i style="background:linear-gradient(#365c8d,#365c8d,#39558c,#3b528b,#3d4d8a,#3d4e8a,#39558c,#365c8d,#365c8d,#39568c,#3a538b,#3c508b,#3b518b,#39558c,#39558c,#38588c,#3a548c,#3b518b,#3b518b,#3b528b,#3b528b,#3c508b,#3d4d8a,#3f4889,#404588,#424086,#423f85,#424186,#424186,#414487,#404588)"></i><i style="background:linear-gradient(#365c8d,#365c8d,#39568c,#3b518b,#3d4d8a,#3d4e8a,#39558c,#375b8d,#375a8c,#39568c,#3a548c,#3c508b,#3b528b,#3a548c,#3a548c,#39568c,#3a538b,#3b528b,#3a538b,#3a538b,#3b528b,#3b518b,#3d4d8a,#3f4788,#414287,#424186,#414287,#404588,#404688,#404588,#414287)"></i><i style="background:linear-gradient(#3a538b,#3b528b,#3e4c8a,#3f4788,#3f4788,#3e4a89,#3b518b,#39568c,#38598c,#38588c,#38588c,#39568c,#39568c,#39568c,#39558c,#39558c,#3a538b,#3a548c,#3a538b,#3b528b,#3c508b,#3c4f8a,#3c4f8a,#3d4e8a,#3f4889,#3f4889,#3f4889,#3d4d8a,#3d4d8a,#3f4889,#404688)"></i><i style="background:linear-gradient(#3d4d8a,#3f4788,#414287,#424086,#3e4989,#3c508b,#375a8c,#365d8d,#31668e,#30698e,#306a8e,#31688e,#34608d,#365c8d,#355e8d,#365d8d,#355f8d,#355e8d,#39568c,#39558c,#39558c,#3a548c,#38588c,#355e8d,#355e8d,#355f8d,#355e8d,#355e8d,#355e8d,#375a8c,#3a548c)"></i><i style="background:linear-gradient(#3a538b,#3c508b,#3e4c8a,#3e4a89,#3b528b,#355e8d,#31678e,#306a8e,#2a788e,#277f8e,#26818e,#297a8e,#2d718e,#306a8e,#2e6e8e,#31678e,#30698e,#31688e,#33628d,#34618d,#34618d,#34608d,#31668e,#2d718e,#2b758e,#2a768e,#29798e,#2b758e,#2a788e,#2c728e,#30698e)"></i><i style="background:linear-gradient(#2c738e,#2b758e,#2d718e,#2d718e,#2b758e,#277e8e,#25838e,#24878e,#1f988b,#20a486,#23a983,#20a486,#1fa088,#1f998a,#1e9c89,#20928c,#21918c,#218f8d,#21908d,#218e8d,#21908d,#228c8d,#21918c,#1e9d89,#1fa088,#1fa287,#27ad81,#29af7f,#2cb17e,#25ab82,#1f9a8a)"></i><i style="background:linear-gradient(#287c8e,#277f8e,#2a788e,#287c8e,#26828e,#23888e,#218e8d,#21908d,#1e9d89,#25ac82,#2eb37c,#32b67a,#31b57b,#2db27d,#32b67a,#27ad81,#22a884,#1fa188,#1fa287,#20a486,#22a884,#20a486,#21a685,#29af7f,#26ad81,#28ae80,#3dbc74,#4cc26c,#5cc863,#5ac864,#32b67a)"></i><i style="background:linear-gradient(#218f8d,#21908d,#23888e,#27808e,#228c8d,#20928c,#1f998a,#1f9a8a,#1fa088,#24aa83,#29af7f,#32b67a,#38b977,#3dbc74,#44bf70,#32b67a,#29af7f,#22a785,#22a785,#24aa83,#2db27d,#31b57b,#35b779,#3aba76,#2db27d,#28ae80,#38b977,#4cc26c,#67cc5c,#73d056,#4ac16d)"></i><i style="background:linear-gradient(#1f9a8a,#1f9a8a,#218e8d,#2a788e,#24878e,#218f8d,#1f968b,#1f978b,#1e9d89,#1fa187,#23a983,#2eb37c,#3fbc73,#4ec36b,#48c16e,#3aba76,#29af7f,#23a983,#21a585,#22a884,#2ab07f,#32b67a,#3fbc73,#3fbc73,#2db27d,#29af7f,#38b977,#44bf70,#5ac864,#5ec962,#3dbc74)"></i><i style="background:linear-gradient(#1f9a8a,#1f988b,#228c8d,#287c8e,#26828e,#24868e,#228d8d,#228d8d,#1f968b,#1e9b8a,#20a386,#29af7f,#3dbc74,#4ec36b,#3bbb75,#37b878,#2ab07f,#26ad81,#22a785,#22a785,#25ab82,#27ad81,#2fb47c,#31b57b,#26ad81,#2ab07f,#35b779,#38b977,#48c16e,#44bf70,#27ad81)"></i><i style="background:linear-gradient(#1e9b8a,#1f988b,#238a8d,#26828e,#27808e,#26828e,#25848e,#24878e,#20928c,#1f9a8a,#1fa287,#28ae80,#3aba76,#46c06f,#38b977,#3dbc74,#38b977,#35b779,#37b878,#31b57b,#2db27d,#2cb17e,#2fb47c,#2fb47c,#2eb37c,#3aba76,#3fbc73,#42be71,#52c569,#44bf70,#22a884)"></i><i style="background:linear-gradient(#1e9d89,#1f9a8a,#218e8d,#24878e,#24878e,#238a8d,#24868e,#25858e,#228d8d,#20938c,#1e9b8a,#20a386,#2ab07f,#34b679,#2eb37c,#32b67a,#2eb37c,#32b67a,#3bbb75,#32b67a,#2cb17e,#27ad81,#24aa83,#20a386,#21a685,#27ad81,#2db27d,#35b779,#3fbc73,#2cb17e,#1f978b)"></i><i style="background:linear-gradient(#228b8d,#228c8d,#25838e,#297b8e,#2a778e,#297b8e,#2a778e,#2c728e,#2a788e,#287d8e,#25858e,#20928c,#1f9f88,#20a486,#20a386,#20a486,#1fa187,#23a983,#25ab82,#1fa188,#1e9b8a,#1f998a,#1f998a,#20938c,#1f998a,#1fa187,#22a884,#25ac82,#28ae80,#1fa188,#25848e)"></i><i style="background:linear-gradient(#26828e,#24868e,#277f8e,#2c728e,#2e6d8e,#2d718e,#2c718e,#2d718e,#2b748e,#2b758e,#277e8e,#238a8d,#1f968b,#1e9b8a,#1fa088,#1fa088,#1e9d89,#1e9d89,#1e9b8a,#238a8d,#25858e,#25848e,#21908d,#20938c,#1e9b8a,#20a386,#25ab82,#25ab82,#25ab82,#1f9e89,#26828e)"></i><i style="background:linear-gradient(#1f968b,#1f9f88,#1f978b,#218e8d,#228b8d,#228c8d,#1f948c,#1f9a8a,#1f998a,#1f988b,#1e9d89,#22a884,#2db27d,#37b878,#40bd72,#40bd72,#34b679,#26ad81,#23a983,#1f998a,#1f948c,#20928c,#1f9f88,#22a884,#2db27d,#35b779,#48c16e,#48c16e,#44bf70,#38b977,#1f9e89)"></i><i style="background:linear-gradient(#1f978b,#1f9e89,#20928c,#218e8d,#218e8d,#228b8d,#20938c,#1f998a,#1f998a,#1f988b,#1fa088,#24aa83,#34b679,#44bf70,#42be71,#3bbb75,#2eb37c,#24aa83,#25ab82,#1fa287,#1f9f88,#1e9c89,#1f9f88,#21a585,#28ae80,#2eb37c,#35b779,#35b779,#38b977,#2eb37c,#1f978b)"></i><i style="background:linear-gradient(#21918c,#228c8d,#287c8e,#29798e,#287d8e,#29798e,#277f8e,#25848e,#228c8d,#218f8d,#1f968b,#1e9b8a,#21a685,#28ae80,#25ac82,#24aa83,#23a983,#20a486,#24aa83,#21a685,#21a585,#1fa287,#1e9d89,#1fa187,#26ad81,#2cb17e,#26ad81,#22a785,#23a983,#1fa187,#23898e)"></i><i style="background:linear-gradient(#1f9a8a,#1f958b,#23888e,#25858e,#228c8d,#23898e,#218f8d,#1f998a,#23a983,#28ae80,#2cb17e,#25ac82,#2ab07f,#31b57b,#2eb37c,#37b878,#40bd72,#3aba76,#4ac16d,#40bd72,#3dbc74,#3aba76,#31b57b,#38b977,#5ac864,#65cb5e,#50c46a,#3dbc74,#3aba76,#2fb47c,#1e9d89)"></i><i style="background:linear-gradient(#1f958b,#1f978b,#218e8d,#228d8d,#20928c,#1f958b,#1fa088,#23a983,#35b779,#3dbc74,#40bd72,#34b679,#31b57b,#35b779,#37b878,#48c16e,#56c667,#54c568,#67cc5c,#5ac864,#56c667,#52c569,#40bd72,#50c46a,#73d056,#89d548,#7cd250,#6ece58,#65cb5e,#56c667,#2cb17e)"></i><i style="background:linear-gradient(#1f9f88,#1fa188,#1f988b,#1f968b,#1f968b,#1fa188,#26ad81,#31b57b,#42be71,#4ac16d,#4ec36b,#4ac16d,#42be71,#46c06f,#50c46a,#5cc863,#67cc5c,#6ccd5a,#7cd250,#73d056,#70cf57,#6ccd5a,#50c46a,#56c667,#63cb5f,#7fd34e,#86d549,#86d549,#8ed645,#7ad151,#4cc26c)"></i><i style="background:linear-gradient(#21a585,#1fa287,#1f988b,#20938c,#1f968b,#1fa088,#22a785,#2ab07f,#38b977,#3fbc73,#42be71,#4ac16d,#52c569,#60ca60,#69cd5b,#7ad151,#89d548,#93d741,#9dd93b,#93d741,#95d840,#95d840,#70cf57,#6ccd5a,#63cb5f,#7cd250,#86d549,#95d840,#b0dd2f,#a5db36,#75d054)"></i><i style="background:linear-gradient(#1fa187,#1e9b8a,#20928c,#21908d,#20928c,#1f978b,#1f988b,#1e9d89,#21a685,#25ab82,#25ab82,#2ab07f,#3bbb75,#52c569,#58c765,#67cc5c,#75d054,#7cd250,#81d34d,#7ad151,#8bd646,#89d548,#6ece58,#63cb5f,#5ac864,#65cb5e,#75d054,#89d548,#a2da37,#a0da39,#73d056)"></i><i style="background:linear-gradient(#1f988b,#21908d,#24878e,#24878e,#23898e,#228c8d,#218e8d,#20928c,#1e9b8a,#1e9c89,#1e9d89,#22a884,#31b57b,#40bd72,#4ec36b,#58c765,#5ec962,#60ca60,#63cb5f,#67cc5c,#77d153,#70cf57,#60ca60,#50c46a,#4ec36b,#52c569,#67cc5c,#77d153,#90d743,#8bd646,#6ccd5a)"></i><i style="background:linear-gradient(#26818e,#297a8e,#2e6f8e,#31678e,#2f6b8e,#30698e,#2f6b8e,#2e6e8e,#2a768e,#2c728e,#2a788e,#24878e,#20938c,#1e9d89,#21a585,#21a585,#20a486,#21a585,#1fa187,#20a486,#22a884,#1fa187,#1e9b8a,#20928c,#20928c,#1f958b,#1e9d89,#20a486,#2ab07f,#27ad81,#21a585)"></i><i style="background:linear-gradient(#31678e,#32658e,#3b528b,#3e4a89,#3a548c,#3b528b,#3a538b,#38598c,#34608d,#365d8d,#306a8e,#2b748e,#277e8e,#26828e,#228d8d,#228d8d,#23888e,#23888e,#27808e,#26828e,#25838e,#277e8e,#287c8e,#297a8e,#29798e,#277e8e,#25838e,#23898e,#20928c,#21908d,#26818e)"></i><i style="background:linear-gradient(#355e8d,#375a8c,#414287,#423f85,#3e4a89,#404688,#414287,#3e4a89,#3a538b,#39558c,#34618d,#32648e,#306a8e,#2e6d8e,#2c738e,#29798e,#2c728e,#2c718e,#306a8e,#306a8e,#2f6b8e,#30698e,#2e6f8e,#2e6f8e,#2f6b8e,#2d718e,#2b758e,#2c718e,#2a788e,#29798e,#2f6b8e)"></i><i style="background:linear-gradient(#32658e,#355f8d,#3e4989,#404588,#3d4d8a,#3e4989,#404688,#3d4d8a,#3b518b,#3a548c,#375b8d,#375b8d,#365c8d,#365d8d,#33628d,#306a8e,#32648e,#30698e,#33638d,#33628d,#33628d,#33628d,#2f6c8e,#306a8e,#32648e,#306a8e,#2e6f8e,#31678e,#2e6e8e,#2c728e,#30698e)"></i><i style="background:linear-gradient(#2a768e,#2e6f8e,#34618d,#375b8d,#34608d,#355e8d,#365c8d,#33628d,#306a8e,#2d708e,#2b748e,#2a768e,#2b758e,#2b758e,#287d8e,#27808e,#277f8e,#24878e,#26828e,#277e8e,#297b8e,#297a8e,#26828e,#27808e,#297a8e,#26818e,#26818e,#277e8e,#27808e,#27808e,#2c718e)"></i><i style="background:linear-gradient(#355e8d,#375b8d,#3a538b,#3d4d8a,#3a538b,#3c508b,#3e4c8a,#3b528b,#34608d,#32648e,#2f6b8e,#2e6f8e,#2c728e,#2b758e,#297a8e,#297a8e,#27808e,#25858e,#25838e,#26828e,#277f8e,#277e8e,#25848e,#26828e,#277f8e,#25848e,#26828e,#26828e,#26828e,#25838e,#2d718e)"></i><i style="background:linear-gradient(#2b748e,#2c738e,#31688e,#34618d,#33638d,#33628d,#365d8d,#33638d,#2d718e,#2b748e,#287d8e,#26818e,#24868e,#25858e,#24878e,#23898e,#218f8d,#20928c,#1f958b,#1f978b,#20928c,#228b8d,#20928c,#228c8d,#218f8d,#20938c,#1f948c,#1f988b,#1e9d89,#1fa187,#20928c)"></i><i style="background:linear-gradient(#228d8d,#218e8d,#25838e,#287d8e,#277f8e,#287d8e,#297a8e,#287d8e,#25838e,#24878e,#21918c,#20938c,#1e9b8a,#1f9a8a,#1e9c89,#1e9c89,#1fa188,#1fa287,#20a386,#21a585,#1f9e89,#1f958b,#1f9e89,#1f978b,#1f9e89,#1fa088,#1fa287,#25ac82,#35b779,#3fbc73,#2db27d)"></i><i style="background:linear-gradient(#21908d,#20938c,#20928c,#218e8d,#20928c,#228d8d,#228c8d,#228c8d,#218f8d,#21918c,#1f978b,#1f9a8a,#1fa188,#21a585,#25ab82,#25ac82,#26ad81,#25ac82,#21a685,#1fa187,#1f9a8a,#1f958b,#1e9d89,#1e9b8a,#1fa088,#1fa188,#20a386,#27ad81,#3fbc73,#52c569,#38b977)"></i><i style="background:linear-gradient(#20a386,#21a685,#20a386,#1f9e89,#1fa187,#1f968b,#20938c,#21918c,#20928c,#1f988b,#1f9e89,#1fa287,#25ab82,#31b57b,#3aba76,#3dbc74,#3bbb75,#2fb47c,#26ad81,#21a585,#20a386,#1fa088,#20a486,#20a486,#22a785,#23a983,#25ac82,#31b57b,#4ac16d,#65cb5e,#3bbb75)"></i><i style="background:linear-gradient(#35b779,#34b679,#2ab07f,#22a884,#21a585,#1f998a,#20928c,#228b8d,#20928c,#1e9c89,#21a585,#26ad81,#37b878,#48c16e,#46c06f,#3dbc74,#38b977,#2db27d,#25ab82,#20a386,#23a983,#22a785,#21a685,#21a685,#23a983,#24aa83,#2db27d,#3bbb75,#5ac864,#75d054,#40bd72)"></i><i style="background:linear-gradient(#5ac864,#52c569,#40bd72,#2fb47c,#26ad81,#1fa287,#1f9a8a,#1f948c,#1e9d89,#22a785,#34b679,#3dbc74,#52c569,#60ca60,#58c765,#40bd72,#38b977,#2eb37c,#25ac82,#21a585,#26ad81,#26ad81,#24aa83,#22a884,#25ac82,#29af7f,#3dbc74,#4cc26c,#75d054,#86d549,#58c765)"></i><i style="background:linear-gradient(#67cc5c,#5ec962,#40bd72,#2cb17e,#25ac82,#20a486,#1f9e89,#1e9d89,#1fa188,#25ac82,#3fbc73,#4ac16d,#60ca60,#5ac864,#50c46a,#3bbb75,#3dbc74,#32b67a,#27ad81,#21a685,#25ab82,#28ae80,#25ac82,#26ad81,#2eb37c,#37b878,#48c16e,#5ac864,#84d44b,#93d741,#75d054)"></i><i style="background:linear-gradient(#6ccd5a,#5ac864,#37b878,#25ac82,#25ac82,#21a685,#20a386,#20a486,#1fa088,#20a386,#2fb47c,#3dbc74,#50c46a,#3bbb75,#34b679,#2ab07f,#2db27d,#29af7f,#22a785,#1f9e89,#1e9d89,#20a486,#21a585,#22a884,#28ae80,#2fb47c,#32b67a,#3aba76,#52c569,#56c667,#3fbc73)"></i><i style="background:linear-gradient(#addc30,#89d548,#5ac864,#42be71,#4cc26c,#3dbc74,#37b878,#3aba76,#2ab07f,#26ad81,#34b679,#44bf70,#50c46a,#37b878,#2cb17e,#25ac82,#26ad81,#25ac82,#20a486,#1f9a8a,#1f978b,#1e9b8a,#1f9f88,#20a486,#23a983,#28ae80,#22a785,#1fa187,#20a386,#1fa187,#1f948c)"></i><i style="background:linear-gradient(#2db27d,#1fa287,#20928c,#24878e,#23898e,#24878e,#26818e,#25848e,#287d8e,#287d8e,#24878e,#20938c,#1f998a,#218e8d,#24868e,#26818e,#26828e,#25848e,#26828e,#287c8e,#2a788e,#2a768e,#29798e,#277e8e,#26828e,#25848e,#287d8e,#2b748e,#2c718e,#2e6e8e,#34618d)"></i><i style="background:linear-gradient(#25ac82,#1f9f88,#228c8d,#26828e,#26828e,#26818e,#2b748e,#2b748e,#2b758e,#2a788e,#277e8e,#238a8d,#228b8d,#26828e,#277e8e,#2a768e,#2a768e,#297a8e,#287c8e,#2a778e,#2b748e,#2c738e,#2b758e,#29798e,#297a8e,#297a8e,#29798e,#2a768e,#2b748e,#2e6e8e,#33628d)"></i><i style="background:linear-gradient(#1f998a,#21908d,#2a788e,#2d708e,#2b748e,#2b758e,#2f6b8e,#306a8e,#2a768e,#297a8e,#297b8e,#25858e,#24868e,#26828e,#277e8e,#2a768e,#2e6f8e,#2e6e8e,#2e6d8e,#31668e,#32648e,#32648e,#30698e,#2f6b8e,#2f6c8e,#2d708e,#2c728e,#2b748e,#2c738e,#2e6e8e,#33638d)"></i><i style="background:linear-gradient(#218f8d,#23898e,#2d718e,#32648e,#306a8e,#2d718e,#31678e,#32658e,#2e6f8e,#2c728e,#2b758e,#287d8e,#26828e,#277f8e,#29798e,#2d718e,#31678e,#32648e,#355e8d,#355e8d,#375b8d,#38588c,#34608d,#32658e,#31688e,#2f6b8e,#306a8e,#2e6e8e,#306a8e,#32658e,#365d8d)"></i><i style="background:linear-gradient(#228d8d,#23888e,#2b758e,#30698e,#306a8e,#2c718e,#306a8e,#32658e,#31688e,#2e6f8e,#2c738e,#297b8e,#297a8e,#2a778e,#2e6f8e,#31668e,#34608d,#365d8d,#38598c,#33628d,#34618d,#375b8d,#34608d,#31668e,#31678e,#2f6b8e,#2f6b8e,#2e6f8e,#306a8e,#31688e,#355e8d)"></i><i style="background:linear-gradient(#24878e,#25848e,#2a778e,#2c718e,#2f6c8e,#2e6f8e,#31688e,#34618d,#34608d,#2f6b8e,#2c718e,#2a788e,#2e6f8e,#2e6f8e,#30698e,#33628d,#355f8d,#375b8d,#375a8c,#34608d,#34608d,#34618d,#31668e,#2f6c8e,#2f6c8e,#2d708e,#2c718e,#2d718e,#2e6e8e,#306a8e,#34608d)"></i><i style="background:linear-gradient(#25848e,#25838e,#2a788e,#2b748e,#2d718e,#2c728e,#2e6d8e,#31688e,#33638d,#2e6e8e,#2a778e,#287d8e,#2c738e,#2c738e,#2b758e,#2d708e,#2d708e,#2e6d8e,#2e6d8e,#2e6d8e,#2e6d8e,#2b748e,#2a768e,#29798e,#29798e,#297b8e,#287d8e,#297b8e,#297b8e,#2a768e,#2e6d8e)"></i><i style="background:linear-gradient(#23888e,#25858e,#29798e,#2c728e,#2d718e,#2c718e,#2c718e,#2b758e,#2c738e,#277e8e,#23898e,#218f8d,#23898e,#23898e,#23898e,#24878e,#25848e,#27808e,#26828e,#26818e,#25838e,#228c8d,#24868e,#23888e,#25838e,#25838e,#228d8d,#21908d,#1f978b,#20938c,#24878e)"></i><i style="background:linear-gradient(#23898e,#23888e,#2a788e,#2c738e,#2c718e,#2e6e8e,#2e6e8e,#2e6e8e,#2f6b8e,#2c738e,#287c8e,#25858e,#228b8d,#228d8d,#23888e,#238a8d,#26828e,#297b8e,#277e8e,#277e8e,#24868e,#228c8d,#26828e,#26828e,#287d8e,#277f8e,#23898e,#21908d,#1f9e89,#1f9a8a,#23898e)"></i><i style="background:linear-gradient(#24878e,#238a8d,#297a8e,#2b748e,#2b748e,#2d718e,#2f6c8e,#30698e,#32648e,#2e6f8e,#2a778e,#25858e,#218f8d,#20938c,#218f8d,#228d8d,#24878e,#287c8e,#297b8e,#297a8e,#25838e,#238a8d,#27808e,#27808e,#277f8e,#26828e,#238a8d,#20928c,#1e9c89,#1f958b,#25858e)"></i><i style="background:linear-gradient(#25858e,#24878e,#297a8e,#2c718e,#2b748e,#2b758e,#2d708e,#2f6c8e,#2e6e8e,#2a788e,#26828e,#228d8d,#1f948c,#1e9d89,#1f9a8a,#1f948c,#1f948c,#238a8d,#24878e,#24868e,#24878e,#228d8d,#23888e,#24878e,#228d8d,#1f948c,#1f958b,#1e9c89,#1fa187,#1e9b8a,#228d8d)"></i><i style="background:linear-gradient(#26828e,#26828e,#2a768e,#2c718e,#2a768e,#287c8e,#287c8e,#2a768e,#277e8e,#25848e,#228d8d,#20938c,#1f9a8a,#20a486,#1f9f88,#1f958b,#1f978b,#218f8d,#21908d,#21918c,#21908d,#20928c,#21918c,#20928c,#1e9b8a,#1fa187,#1f9f88,#1fa187,#20a486,#1f9e89,#218f8d)"></i><i style="background:linear-gradient(#27808e,#26818e,#2e6f8e,#2e6f8e,#2a788e,#277e8e,#277f8e,#287c8e,#25838e,#23888e,#218f8d,#1f948c,#1f998a,#1fa187,#1f998a,#21908d,#218e8d,#218e8d,#21918c,#21918c,#21908d,#218f8d,#218e8d,#20928c,#1f978b,#1e9d89,#1e9c89,#1f9e89,#1fa287,#1f9f88,#218f8d)"></i><i style="background:linear-gradient(#23898e,#238a8d,#2a768e,#2c738e,#2a788e,#287c8e,#297a8e,#297b8e,#25838e,#238a8d,#218e8d,#1f958b,#1f9e89,#21a685,#20a386,#1f9e89,#1e9d89,#1fa188,#20a386,#20a486,#1fa188,#1e9b8a,#1f998a,#1f9e89,#1fa088,#20a386,#20a486,#21a685,#22a884,#20a486,#20928c)"></i><i style="background:linear-gradient(#2c738e,#2b758e,#31678e,#34608d,#33638d,#31688e,#31688e,#2e6d8e,#2b748e,#297a8e,#277f8e,#24868e,#228b8d,#21918c,#20938c,#20928c,#218f8d,#20928c,#21908d,#20928c,#21908d,#228c8d,#24868e,#23888e,#228c8d,#218f8d,#218f8d,#218f8d,#238a8d,#26828e,#2c718e)"></i><i style="background:linear-gradient(#3b528b,#3c508b,#433e85,#453781,#453882,#424186,#404588,#3e4a89,#3a548c,#365c8d,#33628d,#31688e,#2e6f8e,#2c728e,#2a768e,#2b748e,#2c718e,#2c728e,#31668e,#33638d,#33628d,#31668e,#32658e,#30698e,#2e6e8e,#2c728e,#2d718e,#2e6e8e,#31678e,#365c8d,#3c508b)"></i><i style="background:linear-gradient(#3f4889,#404588,#463480,#472c7a,#472d7b,#463480,#453882,#423f85,#3f4788,#3b518b,#3a538b,#39558c,#34618d,#31688e,#306a8e,#2f6c8e,#2f6b8e,#31688e,#375b8d,#3b528b,#3a538b,#375a8c,#34608d,#30698e,#2d708e,#2c728e,#2f6b8e,#31678e,#33628d,#365c8d,#3b518b)"></i><i style="background:linear-gradient(#404588,#433d84,#463480,#472c7a,#472d7b,#472f7d,#46307e,#453781,#424086,#3e4a89,#3d4d8a,#3e4c8a,#38588c,#365c8d,#365d8d,#355f8d,#34618d,#34618d,#375b8d,#39558c,#38588c,#365c8d,#33628d,#2e6e8e,#297b8e,#287d8e,#2c738e,#2f6b8e,#32648e,#34608d,#38598c)"></i><i style="background:linear-gradient(#443b84,#443983,#453781,#46327e,#463480,#463480,#472d7b,#46307e,#443983,#404588,#3e4a89,#3d4e8a,#3a548c,#39568c,#3a538b,#3a538b,#38598c,#34608d,#32648e,#34618d,#33638d,#33638d,#31678e,#2d708e,#287d8e,#26828e,#29798e,#2d718e,#30698e,#34618d,#365c8d)"></i><i style="background:linear-gradient(#472c7a,#472c7a,#472a7a,#472c7a,#453581,#46307e,#482677,#482173,#472f7d,#433d84,#404588,#3e4c8a,#3c4f8a,#3a538b,#3d4d8a,#3f4889,#3c4f8a,#365d8d,#32658e,#33638d,#31668e,#31688e,#31688e,#2f6b8e,#2c728e,#2c738e,#2d708e,#2f6c8e,#31668e,#375b8d,#3a548c)"></i><i style="background:linear-gradient(#482979,#482576,#481f70,#482576,#46337f,#472e7c,#482979,#482071,#472d7b,#433e85,#3e4989,#3b528b,#3b528b,#38588c,#3b518b,#3c4f8a,#39558c,#34618d,#31688e,#306a8e,#2e6d8e,#2d708e,#2e6f8e,#2f6c8e,#2e6d8e,#2e6d8e,#2e6e8e,#31678e,#33628d,#375a8c,#3b528b)"></i><i style="background:linear-gradient(#472f7d,#472c7a,#481b6d,#481f70,#472e7c,#472d7b,#472a7a,#482878,#472c7a,#424086,#3d4d8a,#3c508b,#3b518b,#3b528b,#3d4d8a,#3d4d8a,#39558c,#34618d,#32658e,#31678e,#31688e,#2e6d8e,#2e6f8e,#2e6f8e,#31688e,#2f6c8e,#2d708e,#30698e,#33638d,#375a8c,#3a548c)"></i><i style="background:linear-gradient(#46337f,#46337f,#481c6e,#48186a,#482475,#482878,#482677,#472a7a,#472e7c,#423f85,#3f4788,#3f4788,#3f4889,#424186,#424086,#404588,#3a548c,#33628d,#31688e,#31668e,#355f8d,#32658e,#306a8e,#2c718e,#2f6b8e,#2d708e,#2c728e,#2f6b8e,#33628d,#38598c,#3a548c)"></i><i style="background:linear-gradient(#404688,#404688,#472e7c,#482071,#482878,#472d7b,#472c7a,#463480,#443983,#404588,#3e4989,#3e4c8a,#3e4989,#423f85,#414487,#3d4e8a,#33628d,#2f6c8e,#2c718e,#2d708e,#31678e,#2e6d8e,#2c728e,#297b8e,#297a8e,#287c8e,#287d8e,#2c738e,#30698e,#365c8d,#38588c)"></i><i style="background:linear-gradient(#2f6c8e,#31688e,#3a548c,#414287,#3e4a89,#3b518b,#3c508b,#38598c,#355f8d,#31688e,#2e6d8e,#2d708e,#2f6c8e,#32648e,#2e6d8e,#2b758e,#24878e,#218f8d,#20928c,#21908d,#21908d,#1f948c,#1f978b,#1f9f88,#1fa187,#1fa287,#1fa088,#1f998a,#218e8d,#26818e,#2a768e)"></i><i style="background:linear-gradient(#2b758e,#2d708e,#365c8d,#3e4a89,#39558c,#34608d,#32648e,#31688e,#2d718e,#29798e,#26828e,#24878e,#25858e,#26818e,#23898e,#21908d,#20a486,#27ad81,#2cb17e,#29af7f,#29af7f,#28ae80,#27ad81,#2cb17e,#2fb47c,#32b67a,#31b57b,#2cb17e,#23a983,#1f9e89,#228d8d)"></i><i style="background:linear-gradient(#2d708e,#2f6c8e,#375a8c,#3e4a89,#375b8d,#306a8e,#2e6e8e,#2e6d8e,#2c728e,#2a778e,#26828e,#25858e,#24878e,#25858e,#218e8d,#1f988b,#25ab82,#2fb47c,#38b977,#3fbc73,#3bbb75,#2eb37c,#29af7f,#2ab07f,#31b57b,#3aba76,#3dbc74,#3aba76,#31b57b,#24aa83,#1f958b)"></i><i style="background:linear-gradient(#355f8d,#375b8d,#414287,#463480,#3d4e8a,#33638d,#33638d,#33638d,#33628d,#31678e,#2c718e,#2c718e,#2a778e,#29798e,#25838e,#21918c,#1e9b8a,#1fa287,#22a785,#28ae80,#2fb47c,#25ac82,#21a585,#22a884,#2cb17e,#2db27d,#2eb37c,#29af7f,#24aa83,#1e9b8a,#24868e)"></i><i style="background:linear-gradient(#34618d,#375b8d,#433d84,#453581,#3c508b,#34618d,#34608d,#33628d,#33628d,#30698e,#2b748e,#2c728e,#297b8e,#277e8e,#23888e,#20928c,#20928c,#1e9b8a,#1fa287,#22a785,#26ad81,#23a983,#25ab82,#28ae80,#34b679,#2fb47c,#37b878,#2cb17e,#25ac82,#1f9f88,#228b8d)"></i><i style="background:linear-gradient(#2a788e,#2b748e,#38598c,#3a548c,#33638d,#2e6f8e,#2e6e8e,#2e6e8e,#2c718e,#297b8e,#23898e,#23898e,#218f8d,#228c8d,#20928c,#1f948c,#1f958b,#1f9f88,#25ab82,#2ab07f,#2cb17e,#2eb37c,#38b977,#3dbc74,#44bf70,#46c06f,#4cc26c,#3fbc73,#3fbc73,#32b67a,#20a386)"></i><i style="background:linear-gradient(#25858e,#26818e,#31688e,#31668e,#2c728e,#297a8e,#29798e,#2a768e,#287d8e,#23888e,#1f958b,#1f958b,#1f968b,#20928c,#20938c,#20938c,#1f968b,#20a386,#2db27d,#31b57b,#34b679,#3dbc74,#3dbc74,#42be71,#44bf70,#4cc26c,#4ec36b,#48c16e,#52c569,#4cc26c,#2ab07f)"></i><i style="background:linear-gradient(#287d8e,#2a778e,#32648e,#32648e,#2c718e,#29798e,#297a8e,#2b758e,#297b8e,#25848e,#218e8d,#218e8d,#218f8d,#228d8d,#21908d,#21908d,#1f948c,#21a585,#2db27d,#2db27d,#28ae80,#2db27d,#29af7f,#2db27d,#31b57b,#3aba76,#3dbc74,#37b878,#46c06f,#42be71,#27ad81)"></i><i style="background:linear-gradient(#297b8e,#2b758e,#306a8e,#31668e,#2d708e,#29798e,#277e8e,#287c8e,#277f8e,#24868e,#238a8d,#228d8d,#228b8d,#23898e,#238a8d,#228b8d,#21918c,#1fa187,#25ac82,#27ad81,#20a486,#1fa287,#1fa287,#22a884,#2db27d,#37b878,#35b779,#31b57b,#32b67a,#37b878,#21a585)"></i><i style="background:linear-gradient(#29798e,#2a778e,#2e6e8e,#32648e,#2e6d8e,#2a778e,#297b8e,#287c8e,#27808e,#26828e,#26828e,#23888e,#26828e,#297b8e,#29798e,#297a8e,#26818e,#218f8d,#1f978b,#1f988b,#20928c,#218f8d,#1f948c,#1f9e89,#22a884,#25ac82,#25ab82,#22a785,#20a486,#22a785,#20928c)"></i><i style="background:linear-gradient(#2c718e,#2e6f8e,#32648e,#365d8d,#31688e,#2c728e,#2b748e,#2a778e,#297a8e,#277f8e,#277e8e,#25848e,#2a788e,#2c718e,#2e6d8e,#2f6c8e,#2c728e,#27808e,#26828e,#26828e,#25848e,#24878e,#21908d,#1f988b,#1e9b8a,#1e9b8a,#1f968b,#218f8d,#228d8d,#218e8d,#277f8e)"></i><i style="background:linear-gradient(#33628d,#365d8d,#3d4d8a,#3e4989,#3a538b,#355f8d,#33638d,#31678e,#30698e,#2d718e,#2e6e8e,#2d708e,#32648e,#365d8d,#38588c,#3a538b,#365c8d,#32648e,#31688e,#31668e,#2f6b8e,#2d718e,#297a8e,#26818e,#277f8e,#297b8e,#2b758e,#2d708e,#2d718e,#2d718e,#2f6b8e)"></i><i style="background:linear-gradient(#2f6c8e,#31678e,#38598c,#3b518b,#38598c,#33638d,#31678e,#30698e,#2f6b8e,#2d718e,#306a8e,#31678e,#34608d,#38588c,#39568c,#3b518b,#375a8c,#365d8d,#32648e,#34618d,#32658e,#306a8e,#2c738e,#2a768e,#2c728e,#2e6f8e,#2f6b8e,#2f6b8e,#2c718e,#2e6e8e,#2e6d8e)"></i><i style="background:linear-gradient(#2c738e,#2c718e,#31688e,#34608d,#31678e,#2e6e8e,#2e6e8e,#2f6c8e,#2f6b8e,#31688e,#34618d,#355e8d,#365d8d,#39568c,#375b8d,#38598c,#355f8d,#32658e,#31688e,#32648e,#31668e,#2e6f8e,#2b758e,#297a8e,#2a778e,#2b748e,#2c728e,#2a768e,#27808e,#277f8e,#27808e)"></i><i style="background:linear-gradient(#26828e,#27808e,#2a768e,#2c728e,#2a788e,#277e8e,#26818e,#297b8e,#297a8e,#2c738e,#2b748e,#2b758e,#2c718e,#2e6d8e,#2b758e,#2a778e,#29798e,#27808e,#26828e,#26818e,#25838e,#218f8d,#1f988b,#1fa088,#1f9f88,#1f988b,#20938c,#20938c,#1e9d89,#1fa187,#20a386)"></i><i style="background:linear-gradient(#21918c,#228b8d,#26828e,#277e8e,#24878e,#218f8d,#1f968b,#1f948c,#20928c,#228d8d,#20938c,#20938c,#228d8d,#238a8d,#20928c,#1f958b,#20938c,#1f968b,#1f998a,#1e9c89,#1fa188,#22a884,#2db27d,#2fb47c,#37b878,#2fb47c,#2eb37c,#2db27d,#38b977,#40bd72,#40bd72)"></i><i style="background:linear-gradient(#1fa188,#1f968b,#23898e,#24868e,#21908d,#1f988b,#1fa287,#20a486,#1fa188,#1e9d89,#1fa187,#1fa187,#1f9f88,#1f9f88,#1fa187,#22a785,#1fa187,#1fa287,#22a785,#24aa83,#28ae80,#2db27d,#35b779,#31b57b,#40bd72,#42be71,#4ac16d,#48c16e,#46c06f,#4ac16d,#3bbb75)"></i><i style="background:linear-gradient(#25ab82,#1fa187,#218f8d,#228c8d,#20938c,#1f9e89,#23a983,#28ae80,#25ac82,#22a884,#21a685,#23a983,#26ad81,#29af7f,#27ad81,#2db27d,#24aa83,#24aa83,#2ab07f,#2cb17e,#31b57b,#3aba76,#3bbb75,#3dbc74,#5ac864,#63cb5f,#70cf57,#69cd5b,#56c667,#56c667,#37b878)"></i><i style="background:linear-gradient(#24aa83,#22a785,#1f968b,#20938c,#1e9c89,#1fa287,#22a785,#2cb17e,#2db27d,#26ad81,#22a884,#28ae80,#35b779,#3dbc74,#37b878,#3aba76,#2fb47c,#32b67a,#3dbc74,#40bd72,#46c06f,#52c569,#56c667,#60ca60,#81d34d,#8ed645,#98d83e,#90d743,#7ad151,#73d056,#44bf70)"></i><i style="background:linear-gradient(#21a685,#21a585,#1f988b,#20928c,#1f998a,#1f9e89,#1fa088,#22a884,#22a884,#21a585,#1fa088,#20a386,#26ad81,#34b679,#37b878,#32b67a,#32b67a,#3bbb75,#4ac16d,#50c46a,#52c569,#56c667,#56c667,#65cb5e,#7ad151,#89d548,#8ed645,#7fd34e,#73d056,#6ece58,#42be71)"></i><i style="background:linear-gradient(#1e9d89,#1f9e89,#20928c,#238a8d,#228d8d,#21918c,#20938c,#1e9b8a,#1e9c89,#1e9d89,#1f988b,#1f988b,#1fa088,#29af7f,#2db27d,#2db27d,#38b977,#3dbc74,#46c06f,#44bf70,#42be71,#3bbb75,#3fbc73,#48c16e,#4ac16d,#5ac864,#63cb5f,#52c569,#50c46a,#48c16e,#2eb37c)"></i><i style="background:linear-gradient(#218f8d,#21908d,#26818e,#2b758e,#2c738e,#287c8e,#27808e,#23888e,#228d8d,#218e8d,#228d8d,#238a8d,#228d8d,#1f978b,#1e9c89,#1fa088,#28ae80,#28ae80,#24aa83,#21a685,#20a386,#1e9b8a,#1fa088,#1f9f88,#1fa187,#26ad81,#29af7f,#25ab82,#25ab82,#20a386,#1f968b)"></i><i style="background:linear-gradient(#2f6c8e,#2f6c8e,#375a8c,#3d4d8a,#3d4d8a,#3b528b,#39558c,#365c8d,#375b8d,#365d8d,#34608d,#355e8d,#33628d,#32648e,#2d708e,#2c728e,#287c8e,#29798e,#2e6f8e,#2e6d8e,#2e6d8e,#33638d,#32648e,#33628d,#31668e,#2c728e,#2c738e,#2c728e,#2b748e,#2c728e,#306a8e)"></i><i style="background:linear-gradient(#31678e,#31668e,#39568c,#3c4f8a,#3b518b,#3d4e8a,#3e4c8a,#3d4d8a,#3f4788,#3e4989,#3c4f8a,#3b528b,#39568c,#39558c,#34608d,#33628d,#33638d,#355e8d,#3a538b,#39568c,#365c8d,#3a548c,#3a538b,#3a538b,#3a538b,#365c8d,#365d8d,#375a8c,#365d8d,#34608d,#365c8d)"></i><i style="background:linear-gradient(#365d8d,#355f8d,#39558c,#3a538b,#3a538b,#3b518b,#3c4f8a,#3e4c8a,#3f4889,#3f4889,#3e4989,#3e4a89,#3e4c8a,#3c4f8a,#3a548c,#39568c,#39568c,#39568c,#3a548c,#3a548c,#38598c,#38588c,#38588c,#375a8c,#38588c,#39558c,#3a548c,#3b518b,#3b528b,#38588c,#38588c)"></i><i style="background:linear-gradient(#38588c,#375a8c,#39558c,#3a538b,#3a538b,#3b528b,#3b518b,#3e4c8a,#3f4889,#3f4788,#3f4788,#3f4889,#3e4a89,#3c4f8a,#3b518b,#3b528b,#3b528b,#3a538b,#3a548c,#3a538b,#3a548c,#38588c,#375b8d,#365c8d,#375b8d,#39558c,#3c508b,#3d4e8a,#3c508b,#39568c,#375a8c)"></i><i style="background:linear-gradient(#365c8d,#365d8d,#39558c,#3b518b,#3a538b,#39558c,#3b528b,#3d4d8a,#3e4989,#3f4788,#404688,#3f4889,#3e4c8a,#3c4f8a,#3b518b,#3b518b,#3a538b,#3a548c,#3a538b,#3b518b,#3c508b,#3b518b,#3a548c,#39568c,#39568c,#3a548c,#3c4f8a,#3d4d8a,#3c4f8a,#3a548c,#39568c)"></i><i style="background:linear-gradient(#33638d,#33628d,#38588c,#3b518b,#3b518b,#3a538b,#3b518b,#3d4e8a,#3d4d8a,#3e4c8a,#3e4989,#3f4889,#3e4c8a,#3c4f8a,#3b518b,#3b528b,#3a548c,#3a538b,#3b528b,#3b518b,#3c4f8a,#3d4d8a,#3c508b,#3a538b,#3a538b,#3b528b,#3c4f8a,#3d4e8a,#3c4f8a,#3b518b,#3a538b)"></i><i style="background:linear-gradient(#31678e,#32658e,#365c8d,#39568c,#3b528b,#3b518b,#3b518b,#3b518b,#3c508b,#3d4e8a,#3e4c8a,#3e4a89,#3e4c8a,#3d4e8a,#3c4f8a,#3b518b,#3a548c,#3c508b,#3c508b,#3b518b,#3d4e8a,#3e4c8a,#3c4f8a,#3a538b,#3b528b,#3d4e8a,#3e4c8a,#3e4c8a,#3e4c8a,#3d4d8a,#3d4e8a)"></i><i style="background:linear-gradient(#32658e,#32648e,#355f8d,#375b8d,#3a538b,#3b518b,#39558c,#39558c,#3b518b,#3d4d8a,#3e4989,#3f4889,#3e4a89,#3d4e8a,#3c508b,#3a538b,#39558c,#3b518b,#3c508b,#3c508b,#3d4d8a,#3e4a89,#3d4d8a,#3c508b,#3d4e8a,#3e4a89,#3f4889,#3e4989,#3f4889,#3e4989,#3e4a89)"></i><i style="background:linear-gradient(#34618d,#33628d,#355f8d,#375b8d,#39558c,#39568c,#38598c,#38588c,#3a538b,#3e4c8a,#3f4788,#404688,#3f4889,#3e4989,#3d4d8a,#3a548c,#39568c,#3a548c,#3a538b,#3a538b,#3c508b,#3e4a89,#3e4c8a,#3d4e8a,#3d4d8a,#3e4a89,#3f4788,#3f4889,#3f4889,#3f4889,#3e4989)"></i><i style="background:linear-gradient(#365d8d,#34608d,#355f8d,#365d8d,#365c8d,#375b8d,#38598c,#38588c,#3a548c,#3d4e8a,#3e4a89,#3e4c8a,#3d4d8a,#3e4989,#3e4c8a,#39558c,#375a8c,#38588c,#39558c,#38588c,#39568c,#3c4f8a,#3c4f8a,#3d4e8a,#3e4c8a,#3e4989,#3f4788,#3f4889,#3e4989,#3e4989,#3e4a89)"></i><i style="background:linear-gradient(#355e8d,#355f8d,#365c8d,#365d8d,#355e8d,#375a8c,#39568c,#38598c,#38598c,#3b528b,#3b518b,#3a538b,#3b518b,#3e4c8a,#3e4c8a,#3a548c,#375b8d,#38598c,#38598c,#375a8c,#38598c,#3a538b,#3c508b,#3d4d8a,#3e4c8a,#3d4d8a,#3e4c8a,#3e4a89,#3f4889,#3f4788,#404688)"></i><i style="background:linear-gradient(#33628d,#33628d,#375b8d,#375a8c,#375b8d,#375a8c,#38598c,#375b8d,#365c8d,#39568c,#3a548c,#3a548c,#3c508b,#3d4d8a,#3d4d8a,#3a538b,#39558c,#3a548c,#38588c,#375b8d,#38588c,#3a548c,#3b518b,#3d4e8a,#3e4c8a,#3d4d8a,#3d4d8a,#3e4989,#404588,#414487,#414487)"></i><i style="background:linear-gradient(#33628d,#34618d,#375b8d,#38598c,#375a8c,#365c8d,#375b8d,#365c8d,#355e8d,#375b8d,#38598c,#3a548c,#3c4f8a,#3d4d8a,#3c508b,#3b528b,#3c508b,#3c4f8a,#3a548c,#38588c,#39568c,#39558c,#3a538b,#3c508b,#3e4c8a,#3e4989,#3e4989,#404688,#404588,#404688,#3f4788)"></i><i style="background:linear-gradient(#365d8d,#355e8d,#38588c,#3a548c,#39568c,#38598c,#38598c,#375a8c,#365d8d,#375b8d,#38588c,#3a538b,#3d4e8a,#3e4a89,#3c4f8a,#3b518b,#3d4e8a,#3d4e8a,#3a538b,#38588c,#38598c,#38598c,#39558c,#3b518b,#3d4d8a,#3e4c8a,#3e4a89,#404688,#414487,#404688,#3f4788)"></i><i style="background:linear-gradient(#3a538b,#3b528b,#3e4c8a,#3f4788,#3e4c8a,#3c508b,#39558c,#38598c,#375a8c,#39568c,#3a538b,#3b518b,#3b528b,#3c508b,#3a538b,#3a548c,#3a538b,#3b528b,#3a548c,#39558c,#38598c,#375b8d,#365c8d,#375a8c,#39558c,#3a538b,#3a538b,#3c508b,#3d4e8a,#3b518b,#3c4f8a)"></i><i style="background:linear-gradient(#3e4989,#404688,#433e85,#423f85,#3f4788,#3b518b,#355f8d,#32658e,#34618d,#34608d,#355e8d,#375a8c,#355e8d,#365c8d,#365c8d,#34618d,#34618d,#365c8d,#375a8c,#39568c,#365c8d,#355e8d,#31678e,#30698e,#306a8e,#306a8e,#2e6f8e,#2d708e,#2d708e,#2d718e,#31668e)"></i><i style="background:linear-gradient(#404688,#404588,#423f85,#414287,#3d4e8a,#34618d,#31678e,#31668e,#355e8d,#34618d,#355f8d,#375b8d,#375b8d,#365c8d,#365d8d,#31668e,#31688e,#31668e,#355f8d,#375b8d,#355e8d,#355f8d,#2f6c8e,#2c718e,#2a768e,#277e8e,#25858e,#23898e,#25848e,#23898e,#297a8e)"></i><i style="background:linear-gradient(#433e85,#414287,#424186,#3f4788,#375b8d,#2d708e,#2d718e,#2f6c8e,#33638d,#32648e,#34608d,#365c8d,#38598c,#355e8d,#355f8d,#31688e,#2e6e8e,#2c718e,#31668e,#32658e,#31668e,#306a8e,#2c728e,#297b8e,#26828e,#228d8d,#21908d,#1f978b,#1f948c,#1f958b,#25848e)"></i><i style="background:linear-gradient(#423f85,#414487,#423f85,#404688,#34608d,#2c718e,#2b748e,#2c728e,#31688e,#34618d,#365d8d,#38588c,#38588c,#355f8d,#34608d,#306a8e,#2c728e,#2c738e,#30698e,#31688e,#30698e,#2f6b8e,#2c718e,#287c8e,#24868e,#218f8d,#21918c,#1e9c89,#1e9b8a,#1f968b,#25848e)"></i><i style="background:linear-gradient(#404588,#414287,#453581,#443b84,#3a538b,#33628d,#306a8e,#30698e,#375b8d,#3c4f8a,#3e4c8a,#3e4a89,#3b518b,#375a8c,#34618d,#30698e,#2d708e,#2e6f8e,#31678e,#34608d,#355f8d,#34608d,#30698e,#2c718e,#297a8e,#26828e,#24868e,#23898e,#23888e,#26828e,#2b758e)"></i><i style="background:linear-gradient(#404588,#433e85,#46307e,#443a83,#3b518b,#365d8d,#31678e,#31678e,#365c8d,#3d4e8a,#404688,#3e4c8a,#39558c,#39568c,#33628d,#32648e,#306a8e,#2f6b8e,#31678e,#33638d,#355e8d,#355f8d,#32658e,#2d708e,#2a768e,#287d8e,#25838e,#27808e,#297a8e,#2b748e,#30698e)"></i><i style="background:linear-gradient(#3c4f8a,#3d4e8a,#414487,#3e4989,#365c8d,#31668e,#2f6c8e,#2d708e,#2f6c8e,#34618d,#365d8d,#33638d,#30698e,#31668e,#2e6d8e,#2e6e8e,#2c728e,#2a778e,#2b748e,#2a768e,#2e6f8e,#2e6f8e,#2d718e,#287c8e,#25838e,#23898e,#20928c,#218f8d,#228b8d,#238a8d,#29798e)"></i><i style="background:linear-gradient(#38598c,#375b8d,#3a538b,#38598c,#32658e,#2e6d8e,#2e6d8e,#2e6f8e,#2e6d8e,#30698e,#306a8e,#2c718e,#2b748e,#2c738e,#297b8e,#277e8e,#26818e,#24878e,#25848e,#26828e,#297b8e,#297b8e,#297b8e,#26828e,#228d8d,#21908d,#1f998a,#1e9d89,#1e9c89,#1fa187,#218f8d)"></i><i style="background:linear-gradient(#32658e,#33638d,#365d8d,#30698e,#2e6f8e,#2c738e,#2d718e,#2e6d8e,#306a8e,#2e6e8e,#2e6e8e,#29798e,#277e8e,#27808e,#23898e,#228c8d,#21918c,#1f948c,#21918c,#23898e,#26828e,#25858e,#25858e,#238a8d,#20928c,#1f948c,#1e9c89,#1fa188,#21a585,#29af7f,#1f9e89)"></i><i style="background:linear-gradient(#2b748e,#2d708e,#32658e,#2c738e,#2a788e,#287c8e,#2b748e,#2e6f8e,#306a8e,#2e6f8e,#2d708e,#297a8e,#27808e,#26828e,#25858e,#228b8d,#21908d,#1f948c,#21918c,#23888e,#23888e,#218e8d,#218e8d,#228c8d,#20928c,#20928c,#1f968b,#1f9e89,#20a486,#29af7f,#1fa187)"></i><i style="background:linear-gradient(#277e8e,#287c8e,#2c738e,#277e8e,#25838e,#23898e,#27808e,#29798e,#2d718e,#2c728e,#29798e,#26828e,#25848e,#23888e,#25848e,#238a8d,#228d8d,#21918c,#218f8d,#218e8d,#218f8d,#20938c,#21918c,#228b8d,#21908d,#20928c,#20928c,#1f998a,#1e9b8a,#20a386,#1f988b)"></i><i style="background:linear-gradient(#277e8e,#26818e,#277e8e,#25838e,#218e8d,#20928c,#25848e,#2a788e,#2d708e,#2b758e,#297b8e,#25858e,#23888e,#23898e,#23888e,#228d8d,#20928c,#1f958b,#20938c,#1f948c,#1f958b,#1f948c,#20928c,#218e8d,#1f948c,#1f978b,#1f968b,#1e9d89,#1f9e89,#1fa088,#20928c)"></i><i style="background:linear-gradient(#277e8e,#24878e,#24868e,#24878e,#1f968b,#1f948c,#26828e,#2e6d8e,#31688e,#2e6d8e,#2d708e,#297b8e,#26828e,#25858e,#228b8d,#218e8d,#1f9a8a,#1e9b8a,#1e9b8a,#1f968b,#1f9a8a,#1f948c,#1f948c,#21918c,#1f968b,#1e9b8a,#1e9c89,#22a785,#26ad81,#27ad81,#1f9f88)"></i><i style="background:linear-gradient(#21918c,#1f988b,#1f958b,#218f8d,#1e9c89,#1f958b,#25848e,#2e6e8e,#31678e,#31678e,#2e6e8e,#2a768e,#297b8e,#26818e,#238a8d,#218e8d,#1f9a8a,#1e9b8a,#1f9e89,#1e9b8a,#1e9d89,#1f948c,#1f978b,#1f948c,#1e9b8a,#1fa088,#1fa188,#26ad81,#2eb37c,#37b878,#29af7f)"></i><i style="background:linear-gradient(#20928c,#1f968b,#1f958b,#228b8d,#20928c,#218f8d,#25848e,#2b758e,#2e6f8e,#2d708e,#2a788e,#2a778e,#2a768e,#287d8e,#23888e,#21908d,#1f988b,#1f988b,#1f9a8a,#1e9c89,#1e9b8a,#21918c,#20928c,#20928c,#1f958b,#1f968b,#1f9a8a,#20a386,#22a785,#26ad81,#1fa287)"></i><i style="background:linear-gradient(#26828e,#24868e,#26818e,#29798e,#27808e,#287c8e,#2a778e,#2c728e,#2c728e,#2b748e,#2b758e,#2d708e,#2e6d8e,#2c728e,#277e8e,#238a8d,#20928c,#20928c,#218f8d,#1f948c,#20928c,#23898e,#23888e,#25858e,#25858e,#26828e,#23898e,#20928c,#1e9c89,#1f9e89,#218f8d)"></i><i style="background:linear-gradient(#27808e,#26828e,#297b8e,#2a788e,#26818e,#297b8e,#297a8e,#297b8e,#27808e,#277f8e,#297a8e,#2a778e,#2c738e,#2a788e,#297b8e,#23898e,#218e8d,#218f8d,#228b8d,#218f8d,#24868e,#25848e,#25838e,#287d8e,#277e8e,#297b8e,#25838e,#238a8d,#1f968b,#1f978b,#24868e)"></i><i style="background:linear-gradient(#277f8e,#26818e,#297a8e,#277e8e,#238a8d,#23888e,#25838e,#25838e,#23888e,#24868e,#26828e,#27808e,#287c8e,#297b8e,#29798e,#25838e,#24878e,#23898e,#24878e,#25838e,#297a8e,#297a8e,#287d8e,#2b758e,#2a768e,#2a768e,#287d8e,#27808e,#24878e,#228b8d,#26818e)"></i><i style="background:linear-gradient(#365c8d,#375a8c,#39558c,#355f8d,#2e6e8e,#2c728e,#2e6e8e,#2e6e8e,#2c738e,#2a788e,#287d8e,#287c8e,#2a768e,#2d718e,#2d718e,#2b758e,#297a8e,#297b8e,#297b8e,#2b748e,#306a8e,#2f6b8e,#2e6f8e,#306a8e,#306a8e,#31688e,#2d718e,#2c718e,#297a8e,#287c8e,#2a768e)"></i><i style="background:linear-gradient(#31668e,#32648e,#355e8d,#31688e,#2a778e,#297a8e,#2b748e,#2c718e,#2c738e,#29798e,#287c8e,#297b8e,#2b748e,#2d718e,#2c718e,#2c718e,#2a768e,#297b8e,#297b8e,#2b748e,#2e6e8e,#2f6c8e,#2e6e8e,#2f6b8e,#31668e,#33628d,#2f6b8e,#2e6e8e,#2a768e,#2a768e,#2d718e)"></i><i style="background:linear-gradient(#31668e,#34618d,#38598c,#32658e,#297a8e,#277f8e,#287d8e,#297a8e,#287c8e,#277e8e,#27808e,#27808e,#287c8e,#277e8e,#26828e,#26828e,#24868e,#21908d,#228d8d,#25838e,#26818e,#277e8e,#287c8e,#297a8e,#2b758e,#2d718e,#2a768e,#297b8e,#25858e,#24878e,#26828e)"></i><i style="background:linear-gradient(#2a768e,#2c718e,#2d718e,#287c8e,#1f978b,#21a585,#21a685,#21a685,#22a785,#21a585,#23a983,#20a486,#1fa088,#20a386,#22a785,#24aa83,#25ac82,#2eb37c,#29af7f,#21a685,#23a983,#21a685,#1fa287,#1fa088,#1e9b8a,#1f978b,#1f9a8a,#24aa83,#3aba76,#46c06f,#38b977)"></i><i style="background:linear-gradient(#31678e,#32658e,#31688e,#2b758e,#1f948c,#23a983,#26ad81,#2cb17e,#29af7f,#2fb47c,#35b779,#2eb37c,#2cb17e,#2eb37c,#2eb37c,#2ab07f,#29af7f,#34b679,#3bbb75,#2fb47c,#37b878,#38b977,#35b779,#2cb17e,#25ac82,#24aa83,#2cb17e,#4ac16d,#77d153,#93d741,#7ad151)"></i><i style="background:linear-gradient(#306a8e,#31688e,#2f6b8e,#2a788e,#1f978b,#28ae80,#2cb17e,#34b679,#37b878,#42be71,#4ec36b,#4cc26c,#4cc26c,#4cc26c,#4cc26c,#35b779,#2cb17e,#34b679,#44bf70,#3bbb75,#38b977,#3bbb75,#40bd72,#2cb17e,#28ae80,#2cb17e,#3bbb75,#60ca60,#90d743,#a2da37,#7cd250)"></i><i style="background:linear-gradient(#2e6e8e,#31688e,#33638d,#2c738e,#20938c,#25ab82,#26ad81,#26ad81,#2db27d,#35b779,#3aba76,#3bbb75,#40bd72,#42be71,#3fbc73,#2db27d,#23a983,#29af7f,#3aba76,#3aba76,#2fb47c,#32b67a,#38b977,#28ae80,#28ae80,#2ab07f,#37b878,#54c568,#77d153,#84d44b,#5cc863)"></i><i style="background:linear-gradient(#306a8e,#32658e,#39568c,#31668e,#228c8d,#20a486,#24aa83,#21a685,#24aa83,#2fb47c,#31b57b,#37b878,#37b878,#34b679,#2db27d,#29af7f,#23a983,#2eb37c,#3bbb75,#3aba76,#2fb47c,#2fb47c,#35b779,#2eb37c,#2eb37c,#2cb17e,#3aba76,#4ac16d,#60ca60,#6ccd5a,#4ec36b)"></i><i style="background:linear-gradient(#2a768e,#2b748e,#33628d,#30698e,#228b8d,#21a585,#2ab07f,#2eb37c,#31b57b,#44bf70,#46c06f,#4cc26c,#42be71,#3dbc74,#32b67a,#2eb37c,#2cb17e,#38b977,#3dbc74,#3dbc74,#34b679,#32b67a,#38b977,#3aba76,#3dbc74,#38b977,#40bd72,#4ec36b,#67cc5c,#69cd5b,#50c46a)"></i><i style="background:linear-gradient(#277e8e,#27808e,#306a8e,#31678e,#24868e,#1fa187,#26ad81,#35b779,#46c06f,#4ec36b,#4ac16d,#54c568,#44bf70,#42be71,#3aba76,#2eb37c,#2fb47c,#3aba76,#3aba76,#46c06f,#42be71,#3fbc73,#3bbb75,#3bbb75,#46c06f,#48c16e,#46c06f,#5ac864,#81d34d,#7ad151,#52c569)"></i><i style="background:linear-gradient(#2c738e,#2a768e,#32648e,#355e8d,#277e8e,#1f9a8a,#20a486,#26ad81,#35b779,#38b977,#32b67a,#3aba76,#37b878,#35b779,#35b779,#27ad81,#26ad81,#2ab07f,#2cb17e,#38b977,#42be71,#40bd72,#31b57b,#2eb37c,#38b977,#3dbc74,#44bf70,#58c765,#81d34d,#7fd34e,#4cc26c)"></i><i style="background:linear-gradient(#34608d,#32648e,#3a538b,#3b528b,#2f6c8e,#25838e,#21908d,#1f958b,#1f9f88,#1fa187,#1fa187,#22a884,#27ad81,#29af7f,#31b57b,#27ad81,#22a884,#23a983,#25ab82,#26ad81,#2db27d,#2fb47c,#25ac82,#22a884,#24aa83,#27ad81,#32b67a,#3dbc74,#5cc863,#60ca60,#3aba76)"></i><i style="background:linear-gradient(#30698e,#2e6d8e,#33628d,#33628d,#2d708e,#277f8e,#228c8d,#20928c,#1f988b,#1f998a,#1f9a8a,#1f9f88,#20a386,#25ab82,#2eb37c,#28ae80,#25ac82,#24aa83,#26ad81,#23a983,#26ad81,#29af7f,#25ac82,#28ae80,#29af7f,#2cb17e,#38b977,#42be71,#5ec962,#6ccd5a,#48c16e)"></i><i style="background:linear-gradient(#297a8e,#277e8e,#2d708e,#31688e,#2e6f8e,#287d8e,#24868e,#238a8d,#21908d,#20938c,#1f958b,#1e9b8a,#1fa088,#23a983,#2cb17e,#2cb17e,#2eb37c,#29af7f,#2ab07f,#28ae80,#2cb17e,#31b57b,#32b67a,#44bf70,#48c16e,#44bf70,#54c568,#5cc863,#7cd250,#8ed645,#65cb5e)"></i><i style="background:linear-gradient(#2b758e,#2a788e,#32648e,#375b8d,#32648e,#2c738e,#287d8e,#27808e,#25838e,#228c8d,#218e8d,#20938c,#1f988b,#1e9c89,#22a785,#26ad81,#29af7f,#2ab07f,#29af7f,#29af7f,#2fb47c,#37b878,#38b977,#48c16e,#3bbb75,#32b67a,#3aba76,#44bf70,#5cc863,#63cb5f,#46c06f)"></i><i style="background:linear-gradient(#39558c,#38598c,#404688,#404688,#39558c,#32658e,#2e6e8e,#2c718e,#2c738e,#297a8e,#287c8e,#297b8e,#287d8e,#277f8e,#218f8d,#1f968b,#1f9a8a,#1fa287,#1fa187,#1fa088,#20a386,#24aa83,#25ab82,#29af7f,#20a486,#1e9c89,#1e9d89,#21a585,#29af7f,#2ab07f,#21a685)"></i><i style="background:linear-gradient(#414287,#404688,#453882,#423f85,#3c508b,#365d8d,#365d8d,#34608d,#33638d,#32658e,#32658e,#34608d,#33628d,#31688e,#2a788e,#27808e,#25848e,#218e8d,#218e8d,#238a8d,#228b8d,#21908d,#20928c,#1f948c,#228c8d,#24878e,#24878e,#228d8d,#1f998a,#1f988b,#20928c)"></i><i style="background:linear-gradient(#34608d,#32648e,#365c8d,#365d8d,#2f6b8e,#2b748e,#2d708e,#2c728e,#29798e,#297b8e,#2a788e,#2a778e,#277e8e,#25848e,#21918c,#1f998a,#1fa088,#20a486,#20a486,#1fa088,#1e9b8a,#1e9c89,#1fa088,#1f9f88,#1e9d89,#1e9c89,#1e9b8a,#1f9f88,#25ab82,#22a785,#1f9f88)"></i><i style="background:linear-gradient(#2a778e,#287d8e,#2a768e,#2d708e,#29798e,#277e8e,#287c8e,#27808e,#25848e,#228b8d,#238a8d,#21918c,#1f9e89,#1fa187,#21a685,#26ad81,#31b57b,#31b57b,#2eb37c,#29af7f,#21a585,#20a486,#25ac82,#25ab82,#23a983,#22a884,#22a884,#28ae80,#37b878,#2eb37c,#25ab82)"></i><i style="background:linear-gradient(#25848e,#238a8d,#26828e,#277f8e,#25858e,#23888e,#24878e,#228c8d,#21908d,#1f958b,#20938c,#1fa188,#2db27d,#31b57b,#34b679,#37b878,#4ac16d,#44bf70,#40bd72,#35b779,#28ae80,#28ae80,#3aba76,#37b878,#35b779,#37b878,#3dbc74,#4cc26c,#5cc863,#50c46a,#32b67a)"></i><i style="background:linear-gradient(#277e8e,#26828e,#297a8e,#277e8e,#23898e,#21908d,#228c8d,#21908d,#20938c,#20938c,#21918c,#1f988b,#22a785,#25ab82,#29af7f,#2db27d,#42be71,#42be71,#3dbc74,#2fb47c,#2db27d,#2db27d,#44bf70,#42be71,#4ac16d,#4ec36b,#58c765,#65cb5e,#70cf57,#65cb5e,#38b977)"></i><i style="background:linear-gradient(#2c738e,#2a778e,#2d708e,#2a768e,#25858e,#218f8d,#218f8d,#1f948c,#1f968b,#20938c,#20928c,#20928c,#1f9a8a,#1f9e89,#1fa188,#22a785,#35b779,#3aba76,#37b878,#27ad81,#25ac82,#26ad81,#38b977,#3bbb75,#4ec36b,#4ac16d,#50c46a,#58c765,#5cc863,#54c568,#2db27d)"></i><i style="background:linear-gradient(#2b758e,#2b748e,#31678e,#306a8e,#2b758e,#26818e,#24878e,#23898e,#238a8d,#25848e,#26818e,#26828e,#23888e,#228b8d,#228d8d,#1f948c,#20a386,#21a685,#21a685,#1e9b8a,#1f978b,#1f948c,#1f9f88,#1fa287,#23a983,#23a983,#22a785,#25ac82,#25ac82,#22a785,#1f998a)"></i><i style="background:linear-gradient(#32648e,#365c8d,#3f4788,#3f4788,#3d4e8a,#375b8d,#33638d,#355f8d,#365d8d,#39568c,#3b518b,#39558c,#375a8c,#355f8d,#32648e,#2f6b8e,#2b748e,#2b758e,#29798e,#2a778e,#2c718e,#30698e,#2e6f8e,#2c718e,#2d718e,#2d718e,#2f6c8e,#2d708e,#2e6e8e,#306a8e,#31688e)"></i><i style="background:linear-gradient(#365c8d,#3a538b,#404688,#404588,#3f4788,#3b518b,#3a548c,#3d4e8a,#3e4989,#414487,#423f85,#414287,#414487,#3d4e8a,#39568c,#355f8d,#31678e,#2f6b8e,#2e6d8e,#2d718e,#2e6d8e,#31668e,#33638d,#32658e,#34608d,#33628d,#365c8d,#365c8d,#365d8d,#38598c,#3b528b)"></i><i style="background:linear-gradient(#31668e,#34618d,#375a8c,#39568c,#3a548c,#38598c,#3a538b,#3e4989,#414487,#414287,#433e85,#423f85,#423f85,#3d4e8a,#38588c,#32648e,#2e6d8e,#2a768e,#2a768e,#2a778e,#2c728e,#2c718e,#2f6c8e,#2f6c8e,#31688e,#2e6f8e,#2e6d8e,#2e6f8e,#2e6e8e,#2f6c8e,#375b8d)"></i><i style="background:linear-gradient(#26828e,#27808e,#29798e,#2b748e,#2b748e,#2b748e,#2e6f8e,#33638d,#355e8d,#365d8d,#39558c,#375a8c,#355f8d,#2e6e8e,#29798e,#23888e,#228c8d,#1f988b,#1e9b8a,#1f988b,#20938c,#20928c,#20938c,#20928c,#218f8d,#1e9b8a,#1fa088,#20a386,#1fa287,#1fa188,#228b8d)"></i><i style="background:linear-gradient(#287c8e,#277e8e,#2b758e,#2e6f8e,#2b758e,#287d8e,#287d8e,#2a768e,#2b748e,#2c728e,#2f6c8e,#2e6f8e,#2b758e,#277f8e,#23888e,#1f968b,#1f998a,#1fa287,#21a685,#1fa188,#1fa188,#1fa088,#21a585,#20a386,#20a486,#2ab07f,#35b779,#37b878,#38b977,#32b67a,#21a685)"></i><i style="background:linear-gradient(#2f6b8e,#2e6f8e,#34618d,#39568c,#33628d,#2c718e,#29798e,#2a788e,#29798e,#297a8e,#2a778e,#2b748e,#2b758e,#2a778e,#287d8e,#24878e,#228d8d,#20928c,#21918c,#24878e,#23888e,#228b8d,#218f8d,#218e8d,#20938c,#1e9d89,#1fa287,#1fa287,#20a486,#1fa287,#1f988b)"></i><i style="background:linear-gradient(#3b528b,#39568c,#414487,#433e85,#3e4a89,#38588c,#34618d,#32658e,#2f6b8e,#2e6d8e,#2d708e,#31668e,#32658e,#31668e,#32658e,#2f6c8e,#2f6c8e,#2e6d8e,#2f6b8e,#34608d,#33628d,#31688e,#2f6b8e,#2e6d8e,#2c728e,#297b8e,#277e8e,#27808e,#26818e,#287d8e,#2c728e)"></i><i style="background:linear-gradient(#424086,#404588,#463480,#453781,#404688,#3c508b,#375a8c,#32648e,#2e6e8e,#2d708e,#2c718e,#31668e,#31678e,#2f6c8e,#32658e,#31688e,#33638d,#355f8d,#355e8d,#39568c,#375b8d,#34608d,#33638d,#31668e,#30698e,#2d708e,#2c738e,#2c738e,#2d708e,#306a8e,#355e8d)"></i><i style="background:linear-gradient(#433d84,#433e85,#46327e,#453781,#3d4e8a,#375a8c,#34608d,#2f6b8e,#2b748e,#2a768e,#2b748e,#31688e,#2f6c8e,#2c718e,#2e6e8e,#2e6f8e,#2e6e8e,#306a8e,#30698e,#31668e,#2f6c8e,#2d708e,#2c728e,#2d718e,#2d708e,#2b748e,#297a8e,#2b748e,#2e6f8e,#2f6c8e,#32658e)"></i><i style="background:linear-gradient(#424086,#423f85,#46337f,#453781,#3c508b,#365c8d,#355f8d,#32658e,#2f6b8e,#2e6f8e,#2e6d8e,#32648e,#31678e,#2f6c8e,#2e6d8e,#2f6c8e,#2c728e,#2d718e,#2c738e,#2c738e,#297b8e,#26818e,#26818e,#297b8e,#287c8e,#287c8e,#277e8e,#297a8e,#2b758e,#2a768e,#2e6e8e)"></i><i style="background:linear-gradient(#463480,#482979,#481467,#481b6d,#443b84,#3c508b,#375a8c,#355f8d,#34618d,#31688e,#2f6c8e,#31688e,#2e6e8e,#2d718e,#2d718e,#2c728e,#2b748e,#2b758e,#297b8e,#297a8e,#297b8e,#26828e,#24868e,#27808e,#25858e,#25838e,#26818e,#26828e,#26818e,#25858e,#2a778e)"></i><i style="background:linear-gradient(#482071,#471365,#46085c,#46085c,#482576,#414487,#3a538b,#365d8d,#33628d,#306a8e,#2f6b8e,#2f6b8e,#2d718e,#2d708e,#2e6f8e,#2d718e,#2d708e,#2b758e,#287c8e,#2b758e,#2d708e,#2b748e,#27808e,#27808e,#24878e,#25858e,#26828e,#25838e,#23888e,#23898e,#2a778e)"></i><i style="background:linear-gradient(#471164,#460a5d,#46085c,#46085c,#481d6f,#443b84,#3d4e8a,#355e8d,#30698e,#2e6f8e,#2f6b8e,#2e6d8e,#2d708e,#2e6d8e,#2f6c8e,#2f6c8e,#2e6f8e,#2b748e,#29798e,#2d708e,#2f6c8e,#2e6f8e,#2a778e,#297a8e,#277e8e,#277f8e,#277f8e,#27808e,#23898e,#23888e,#2a778e)"></i><i style="background:linear-gradient(#471365,#471063,#46085c,#46085c,#481f70,#443a83,#3c4f8a,#32648e,#2e6f8e,#2b748e,#2a768e,#2b758e,#2b748e,#2e6f8e,#2e6f8e,#2d708e,#2c738e,#2a788e,#2a778e,#2d718e,#2d718e,#2c718e,#2b758e,#2a788e,#2a778e,#287d8e,#287d8e,#277f8e,#23898e,#218e8d,#26828e)"></i><i style="background:linear-gradient(#482374,#481d6f,#46085c,#460b5e,#482878,#443b84,#3e4c8a,#33638d,#2d718e,#287c8e,#23888e,#24878e,#25858e,#277e8e,#29798e,#297a8e,#297b8e,#297b8e,#2a788e,#2c728e,#2c728e,#2c738e,#2c728e,#29798e,#297a8e,#277e8e,#297b8e,#287d8e,#25858e,#24868e,#287c8e)"></i><i style="background:linear-gradient(#472c7a,#482576,#46085c,#460a5d,#482576,#472e7c,#443983,#3c508b,#33628d,#2b748e,#25838e,#23898e,#228c8d,#24868e,#27808e,#287d8e,#2a778e,#2a768e,#2c738e,#2d718e,#2e6d8e,#2e6d8e,#2e6e8e,#2a778e,#29798e,#277e8e,#2a788e,#29798e,#277e8e,#2b758e,#31678e)"></i><i style="background:linear-gradient(#414287,#424086,#481769,#481467,#472d7b,#46307e,#443a83,#3b518b,#33628d,#2c718e,#26818e,#218e8d,#1f998a,#1f948c,#21908d,#238a8d,#24868e,#26828e,#26828e,#26828e,#297a8e,#29798e,#287c8e,#25858e,#23888e,#228c8d,#24868e,#26828e,#23898e,#25848e,#2c728e)"></i><i style="background:linear-gradient(#3d4e8a,#3e4c8a,#482979,#482576,#46337f,#443a83,#404688,#39568c,#34618d,#2f6c8e,#277e8e,#218f8d,#1f9a8a,#1e9c89,#1f9a8a,#1f978b,#1f988b,#1f958b,#20928c,#1f958b,#218f8d,#218e8d,#218f8d,#20928c,#20938c,#1f978b,#20938c,#21918c,#1f9e89,#20a386,#1f958b)"></i><i style="background:linear-gradient(#3b518b,#3e4a89,#453581,#443983,#424086,#3e4a89,#38588c,#34618d,#31688e,#2c738e,#26828e,#20928c,#1f988b,#1f9e89,#1fa287,#1fa188,#1fa187,#1fa287,#1f9f88,#1fa188,#1f9f88,#1f9e89,#1f9a8a,#1f948c,#1f968b,#1f9e89,#1fa088,#1fa287,#2db27d,#35b779,#24aa83)"></i><i style="background:linear-gradient(#3e4a89,#404688,#433e85,#3f4889,#3b518b,#355e8d,#2d708e,#2a768e,#287d8e,#24878e,#20928c,#1f9f88,#1f9e89,#1fa188,#21a585,#1fa287,#20a386,#22a884,#21a685,#1fa187,#20a386,#21a585,#1f9e89,#1f968b,#1e9b8a,#20a386,#22a785,#27ad81,#3aba76,#42be71,#25ac82)"></i><i style="background:linear-gradient(#30698e,#31668e,#365d8d,#34608d,#34618d,#2e6d8e,#297b8e,#25838e,#238a8d,#21918c,#1f9a8a,#20a386,#25ab82,#26ad81,#2ab07f,#2cb17e,#34b679,#3dbc74,#3bbb75,#29af7f,#2cb17e,#2ab07f,#23a983,#22a785,#25ac82,#2fb47c,#34b679,#40bd72,#5ac864,#5ec962,#37b878)"></i><i style="background:linear-gradient(#287d8e,#2a788e,#2e6d8e,#30698e,#306a8e,#2a768e,#25838e,#21908d,#1f958b,#1f978b,#1f9e89,#20a386,#2db27d,#34b679,#38b977,#46c06f,#5ec962,#60ca60,#56c667,#3fbc73,#3dbc74,#3aba76,#34b679,#32b67a,#38b977,#44bf70,#48c16e,#5cc863,#89d548,#95d840,#65cb5e)"></i><i style="background:linear-gradient(#23898e,#26828e,#2b758e,#306a8e,#2f6b8e,#2a778e,#25838e,#218f8d,#1f968b,#1f948c,#1f988b,#20a386,#25ab82,#2ab07f,#31b57b,#3bbb75,#4ec36b,#4ac16d,#40bd72,#32b67a,#34b679,#32b67a,#31b57b,#37b878,#3aba76,#46c06f,#46c06f,#54c568,#75d054,#81d34d,#58c765)"></i><i style="background:linear-gradient(#238a8d,#277e8e,#306a8e,#365c8d,#365d8d,#2f6c8e,#2b748e,#287d8e,#25838e,#25848e,#25858e,#21908d,#21908d,#1f988b,#1f9a8a,#1f9f88,#22a785,#23a983,#21a685,#1e9d89,#1e9b8a,#1f968b,#1f958b,#1f9e89,#1fa187,#25ac82,#25ab82,#2cb17e,#34b679,#37b878,#25ab82)"></i><i style="background:linear-gradient(#2a768e,#2e6d8e,#3b528b,#404588,#3c4f8a,#34608d,#31678e,#2d718e,#2c728e,#2a768e,#2a778e,#2a768e,#297a8e,#25838e,#277f8e,#25848e,#228d8d,#21918c,#218f8d,#26828e,#287d8e,#2a778e,#297a8e,#27808e,#26828e,#21908d,#218e8d,#1f948c,#1f988b,#1f978b,#23888e)"></i><i style="background:linear-gradient(#3d4d8a,#414487,#472a7a,#482374,#472f7d,#433e85,#3f4788,#3b528b,#3c508b,#39558c,#39558c,#3a548c,#375b8d,#375b8d,#3a548c,#375a8c,#355f8d,#34618d,#34618d,#38588c,#38588c,#3a538b,#39558c,#365d8d,#34618d,#2f6b8e,#32658e,#2f6b8e,#2c718e,#2d708e,#33638d)"></i><i style="background:linear-gradient(#404688,#424086,#482979,#482173,#472f7d,#453882,#414487,#3d4e8a,#3c4f8a,#39568c,#39558c,#38588c,#375b8d,#3a538b,#3c508b,#3b518b,#3c4f8a,#3c508b,#3b518b,#3c4f8a,#3c508b,#3e4a89,#3e4989,#39558c,#34618d,#32658e,#355f8d,#33628d,#31678e,#31688e,#355f8d)"></i><i style="background:linear-gradient(#3f4788,#424186,#482677,#482475,#443983,#424086,#3e4a89,#3a548c,#38588c,#34618d,#34608d,#34618d,#34608d,#39568c,#39568c,#3c508b,#3f4889,#3f4889,#3c4f8a,#3c4f8a,#3c508b,#3e4989,#404688,#39568c,#31688e,#306a8e,#31668e,#31688e,#2f6b8e,#2d708e,#31668e)"></i><i style="background:linear-gradient(#3b518b,#3d4d8a,#46327e,#453581,#3d4d8a,#39568c,#34608d,#30698e,#306a8e,#2c728e,#2c738e,#2c738e,#2e6f8e,#31678e,#32648e,#38588c,#3c4f8a,#3e4c8a,#3b518b,#3b528b,#3b518b,#3c4f8a,#3c508b,#34608d,#2e6d8e,#2e6f8e,#2e6e8e,#2b748e,#2b748e,#29798e,#2e6f8e)"></i><i style="background:linear-gradient(#2e6d8e,#2f6b8e,#375b8d,#34608d,#2c718e,#2a788e,#25848e,#228c8d,#228c8d,#1f948c,#1f998a,#1e9b8a,#20938c,#228b8d,#26818e,#2c728e,#2f6c8e,#31678e,#34618d,#32648e,#32658e,#30698e,#2e6e8e,#2a778e,#277e8e,#277e8e,#277e8e,#24868e,#26828e,#24878e,#277e8e)"></i><i style="background:linear-gradient(#3e4989,#3e4c8a,#424186,#3f4889,#33628d,#306a8e,#2d718e,#2a768e,#2a788e,#277e8e,#25858e,#228b8d,#24878e,#24878e,#25858e,#287c8e,#2d708e,#2e6e8e,#31668e,#31668e,#2f6c8e,#2c738e,#2a778e,#287c8e,#26818e,#287d8e,#297b8e,#29798e,#2b758e,#297b8e,#2c728e)"></i><i style="background:linear-gradient(#463480,#443b84,#453581,#424086,#365d8d,#30698e,#2f6b8e,#2c718e,#2a768e,#297b8e,#287d8e,#26828e,#277f8e,#27808e,#287d8e,#2c728e,#34618d,#33628d,#365d8d,#355f8d,#33638d,#306a8e,#2e6f8e,#2b748e,#297a8e,#2a768e,#2b758e,#2f6b8e,#306a8e,#31688e,#34608d)"></i><i style="background:linear-gradient(#471063,#471365,#470e61,#482071,#433e85,#3e4c8a,#3d4d8a,#355e8d,#33628d,#31688e,#31668e,#306a8e,#2f6b8e,#31668e,#355e8d,#3e4c8a,#453781,#423f85,#433e85,#404588,#404688,#3f4889,#3b528b,#375b8d,#33638d,#34608d,#355e8d,#3c508b,#3c4f8a,#3f4788,#414287)"></i></div><svg class="hm" style="left:60px;top:11px" width="277" height="76.5" viewBox="0 0 277 76" preserveAspectRatio="none"><defs><linearGradient id="g10" gradientUnits="userSpaceOnUse" x1="0" x2="277" y1="0" y2="0"><stop offset="0" stop-color="#ffffff"/><stop offset="0.00722" stop-color="#ffffff"/><stop offset="0.01444" stop-color="#ffffff"/><stop offset="0.02166" stop-color="#ffffff"/><stop offset="0.02888" stop-color="#fefefe"/><stop offset="0.0361" stop-color="#eeeeee"/><stop offset="0.04332" stop-color="#ededed"/><stop offset="0.05054" stop-color="#ffffff"/><stop offset="0.05776" stop-color="#ffffff"/><stop offset="0.06498" stop-color="#ffffff"/><stop offset="0.0722" stop-color="#ffffff"/><stop offset="0.07942" stop-color="#fdfdfd"/><stop offset="0.08664" stop-color="#f8f8f8"/><stop offset="0.09386" stop-color="#eeeeee"/><stop offset="0.1011" stop-color="#e9e9e9"/><stop offset="0.1083" stop-color="#fdfdfd"/><stop offset="0.1155" stop-color="#ffffff"/><stop offset="0.1227" stop-color="#ffffff"/><stop offset="0.13" stop-color="#ffffff"/><stop offset="0.1372" stop-color="#cfcfcf"/><stop offset="0.1444" stop-color="#bcbcbc"/><stop offset="0.1516" stop-color="#d7d7d7"/><stop offset="0.1588" stop-color="#c3c3c3"/><stop offset="0.1661" stop-color="#c4c4c4"/><stop offset="0.1733" stop-color="#e6e6e6"/><stop offset="0.1805" stop-color="#f5f5f5"/><stop offset="0.1877" stop-color="#ececec"/><stop offset="0.1949" stop-color="#ffffff"/><stop offset="0.2022" stop-color="#ffffff"/><stop offset="0.2094" stop-color="#ffffff"/><stop offset="0.2166" stop-color="#ffffff"/><stop offset="0.2238" stop-color="#f3f3f3"/><stop offset="0.231" stop-color="#949494"/><stop offset="0.2383" stop-color="#888888"/><stop offset="0.2455" stop-color="#f5f5f5"/><stop offset="0.2527" stop-color="#ffffff"/><stop offset="0.2599" stop-color="#f5f5f5"/><stop offset="0.2671" stop-color="#dddddd"/><stop offset="0.2744" stop-color="#a2a2a2"/><stop offset="0.2816" stop-color="#919191"/><stop offset="0.2888" stop-color="#b3b3b3"/><stop offset="0.296" stop-color="#aaaaaa"/><stop offset="0.3032" stop-color="#d8d8d8"/><stop offset="0.3105" stop-color="#ffffff"/><stop offset="0.3177" stop-color="#ffffff"/><stop offset="0.3249" stop-color="#ffffff"/><stop offset="0.3321" stop-color="#ffffff"/><stop offset="0.3394" stop-color="#ffffff"/><stop offset="0.3466" stop-color="#c3c3c3"/><stop offset="0.3538" stop-color="#797979"/><stop offset="0.361" stop-color="#acacac"/><stop offset="0.3682" stop-color="#d0d0d0"/><stop offset="0.3755" stop-color="#a0a0a0"/><stop offset="0.3827" stop-color="#a2a2a2"/><stop offset="0.3899" stop-color="#e8e8e8"/><stop offset="0.3971" stop-color="#ffffff"/><stop offset="0.4043" stop-color="#f7f7f7"/><stop offset="0.4116" stop-color="#fbfbfb"/><stop offset="0.4188" stop-color="#f7f7f7"/><stop offset="0.426" stop-color="#aeaeae"/><stop offset="0.4332" stop-color="#727272"/><stop offset="0.4404" stop-color="#5c5c5c"/><stop offset="0.4477" stop-color="#6b6b6b"/><stop offset="0.4549" stop-color="#e3e3e3"/><stop offset="0.4621" stop-color="#ffffff"/><stop offset="0.4693" stop-color="#ffffff"/><stop offset="0.4765" stop-color="#ffffff"/><stop offset="0.4838" stop-color="#ffffff"/><stop offset="0.491" stop-color="#ffffff"/><stop offset="0.4982" stop-color="#ffffff"/><stop offset="0.5054" stop-color="#ffffff"/><stop offset="0.5126" stop-color="#ffffff"/><stop offset="0.5199" stop-color="#f0f0f0"/><stop offset="0.5271" stop-color="#dfdfdf"/><stop offset="0.5343" stop-color="#f9f9f9"/><stop offset="0.5415" stop-color="#ffffff"/><stop offset="0.5487" stop-color="#ffffff"/><stop offset="0.556" stop-color="#ffffff"/><stop offset="0.5632" stop-color="#aaaaaa"/><stop offset="0.5704" stop-color="#595959"/><stop offset="0.5776" stop-color="#777777"/><stop offset="0.5848" stop-color="#e5e5e5"/><stop offset="0.5921" stop-color="#ffffff"/><stop offset="0.5993" stop-color="#ffffff"/><stop offset="0.6065" stop-color="#ffffff"/><stop offset="0.6137" stop-color="#ffffff"/><stop offset="0.6209" stop-color="#fbfbfb"/><stop offset="0.6282" stop-color="#f9f9f9"/><stop offset="0.6354" stop-color="#ffffff"/><stop offset="0.6426" stop-color="#ffffff"/><stop offset="0.6498" stop-color="#ffffff"/><stop offset="0.657" stop-color="#ffffff"/><stop offset="0.6643" stop-color="#d2d2d2"/><stop offset="0.6715" stop-color="#a6a6a6"/><stop offset="0.6787" stop-color="#eaeaea"/><stop offset="0.6859" stop-color="#ffffff"/><stop offset="0.6931" stop-color="#f5f5f5"/><stop offset="0.7004" stop-color="#d2d2d2"/><stop offset="0.7076" stop-color="#dddddd"/><stop offset="0.7148" stop-color="#f6f6f6"/><stop offset="0.722" stop-color="#ffffff"/><stop offset="0.7292" stop-color="#ffffff"/><stop offset="0.7365" stop-color="#ffffff"/><stop offset="0.7437" stop-color="#f9f9f9"/><stop offset="0.7509" stop-color="#d5d5d5"/><stop offset="0.7581" stop-color="#bbbbbb"/><stop offset="0.7653" stop-color="#dadada"/><stop offset="0.7726" stop-color="#fafafa"/><stop offset="0.7798" stop-color="#f4f4f4"/><stop offset="0.787" stop-color="#ffffff"/><stop offset="0.7942" stop-color="#c4c4c4"/><stop offset="0.8014" stop-color="#8a8a8a"/><stop offset="0.8087" stop-color="#949494"/><stop offset="0.8159" stop-color="#aeaeae"/><stop offset="0.8231" stop-color="#f7f7f7"/><stop offset="0.8303" stop-color="#ececec"/><stop offset="0.8375" stop-color="#b8b8b8"/><stop offset="0.8448" stop-color="#d9d9d9"/><stop offset="0.852" stop-color="#e5e5e5"/><stop offset="0.8592" stop-color="#dedede"/><stop offset="0.8664" stop-color="#d3d3d3"/><stop offset="0.8736" stop-color="#d4d4d4"/><stop offset="0.8809" stop-color="#c5c5c5"/><stop offset="0.8881" stop-color="#e4e4e4"/><stop offset="0.8953" stop-color="#ffffff"/><stop offset="0.9025" stop-color="#f1f1f1"/><stop offset="0.9097" stop-color="#f4f4f4"/><stop offset="0.917" stop-color="#f8f8f8"/><stop offset="0.9242" stop-color="#f9f9f9"/><stop offset="0.9314" stop-color="#ffffff"/><stop offset="0.9386" stop-color="#fcfcfc"/><stop offset="0.9458" stop-color="#e3e3e3"/><stop offset="0.9531" stop-color="#f3f3f3"/><stop offset="0.9603" stop-color="#ffffff"/><stop offset="0.9675" stop-color="#ffffff"/><stop offset="0.9747" stop-color="#ffffff"/><stop offset="0.9819" stop-color="#ffffff"/><stop offset="0.9892" stop-color="#ffffff"/><stop offset="0.9964" stop-color="#ffffff"/></linearGradient><mask id="m10" maskUnits="userSpaceOnUse" x="0" y="0" width="277" height="76"><rect width="277" height="76" fill="url(#g10)"/></mask><linearGradient id="g11" gradientUnits="userSpaceOnUse" x1="0" x2="277" y1="0" y2="0"><stop offset="0" stop-color="#f0f0f0"/><stop offset="0.00722" stop-color="#c4c4c4"/><stop offset="0.01444" stop-color="#e3e3e3"/><stop offset="0.02166" stop-color="#ffffff"/><stop offset="0.02888" stop-color="#ffffff"/><stop offset="0.0361" stop-color="#e8e8e8"/><stop offset="0.04332" stop-color="#c6c6c6"/><stop offset="0.05054" stop-color="#d5d5d5"/><stop offset="0.05776" stop-color="#9e9e9e"/><stop offset="0.06498" stop-color="#bbbbbb"/><stop offset="0.0722" stop-color="#ffffff"/><stop offset="0.07942" stop-color="#ffffff"/><stop offset="0.08664" stop-color="#f4f4f4"/><stop offset="0.09386" stop-color="#e1e1e1"/><stop offset="0.1011" stop-color="#c6c6c6"/><stop offset="0.1083" stop-color="#a0a0a0"/><stop offset="0.1155" stop-color="#c8c8c8"/><stop offset="0.1227" stop-color="#f1f1f1"/><stop offset="0.13" stop-color="#9b9b9b"/><stop offset="0.1372" stop-color="#686868"/><stop offset="0.1444" stop-color="#eaeaea"/><stop offset="0.1516" stop-color="#ffffff"/><stop offset="0.1588" stop-color="#ffffff"/><stop offset="0.1661" stop-color="#bbbbbb"/><stop offset="0.1733" stop-color="#777777"/><stop offset="0.1805" stop-color="#a9a9a9"/><stop offset="0.1877" stop-color="#ececec"/><stop offset="0.1949" stop-color="#f6f6f6"/><stop offset="0.2022" stop-color="#f9f9f9"/><stop offset="0.2094" stop-color="#ffffff"/><stop offset="0.2166" stop-color="#ffffff"/><stop offset="0.2238" stop-color="#ffffff"/><stop offset="0.231" stop-color="#b5b5b5"/><stop offset="0.2383" stop-color="#8f8f8f"/><stop offset="0.2455" stop-color="#404040"/><stop offset="0.2527" stop-color="#525252"/><stop offset="0.2599" stop-color="#a7a7a7"/><stop offset="0.2671" stop-color="#b2b2b2"/><stop offset="0.2744" stop-color="#cfcfcf"/><stop offset="0.2816" stop-color="#d4d4d4"/><stop offset="0.2888" stop-color="#f9f9f9"/><stop offset="0.296" stop-color="#f3f3f3"/><stop offset="0.3032" stop-color="#c0c0c0"/><stop offset="0.3105" stop-color="#d9d9d9"/><stop offset="0.3177" stop-color="#ffffff"/><stop offset="0.3249" stop-color="#cecece"/><stop offset="0.3321" stop-color="#bbbbbb"/><stop offset="0.3394" stop-color="#e7e7e7"/><stop offset="0.3466" stop-color="#dddddd"/><stop offset="0.3538" stop-color="#5a5a5a"/><stop offset="0.361" stop-color="#505050"/><stop offset="0.3682" stop-color="#9a9a9a"/><stop offset="0.3755" stop-color="#b7b7b7"/><stop offset="0.3827" stop-color="#bcbcbc"/><stop offset="0.3899" stop-color="#cfcfcf"/><stop offset="0.3971" stop-color="#a7a7a7"/><stop offset="0.4043" stop-color="#9e9e9e"/><stop offset="0.4116" stop-color="#ffffff"/><stop offset="0.4188" stop-color="#f5f5f5"/><stop offset="0.426" stop-color="#c2c2c2"/><stop offset="0.4332" stop-color="#aaaaaa"/><stop offset="0.4404" stop-color="#b1b1b1"/><stop offset="0.4477" stop-color="#f6f6f6"/><stop offset="0.4549" stop-color="#b8b8b8"/><stop offset="0.4621" stop-color="#868686"/><stop offset="0.4693" stop-color="#c6c6c6"/><stop offset="0.4765" stop-color="#a2a2a2"/><stop offset="0.4838" stop-color="#a5a5a5"/><stop offset="0.491" stop-color="#c7c7c7"/><stop offset="0.4982" stop-color="#e0e0e0"/><stop offset="0.5054" stop-color="#ffffff"/><stop offset="0.5126" stop-color="#ffffff"/><stop offset="0.5199" stop-color="#939393"/><stop offset="0.5271" stop-color="#525252"/><stop offset="0.5343" stop-color="#cecece"/><stop offset="0.5415" stop-color="#ffffff"/><stop offset="0.5487" stop-color="#ffffff"/><stop offset="0.556" stop-color="#fafafa"/><stop offset="0.5632" stop-color="#c0c0c0"/><stop offset="0.5704" stop-color="#bebebe"/><stop offset="0.5776" stop-color="#d8d8d8"/><stop offset="0.5848" stop-color="#fcfcfc"/><stop offset="0.5921" stop-color="#d3d3d3"/><stop offset="0.5993" stop-color="#ededed"/><stop offset="0.6065" stop-color="#ffffff"/><stop offset="0.6137" stop-color="#dadada"/><stop offset="0.6209" stop-color="#8f8f8f"/><stop offset="0.6282" stop-color="#9e9e9e"/><stop offset="0.6354" stop-color="#dedede"/><stop offset="0.6426" stop-color="#ffffff"/><stop offset="0.6498" stop-color="#ececec"/><stop offset="0.657" stop-color="#afafaf"/><stop offset="0.6643" stop-color="#a2a2a2"/><stop offset="0.6715" stop-color="#9c9c9c"/><stop offset="0.6787" stop-color="#8b8b8b"/><stop offset="0.6859" stop-color="#494949"/><stop offset="0.6931" stop-color="#797979"/><stop offset="0.7004" stop-color="#e5e5e5"/><stop offset="0.7076" stop-color="#eaeaea"/><stop offset="0.7148" stop-color="#b6b6b6"/><stop offset="0.722" stop-color="#c1c1c1"/><stop offset="0.7292" stop-color="#fbfbfb"/><stop offset="0.7365" stop-color="#c9c9c9"/><stop offset="0.7437" stop-color="#525252"/><stop offset="0.7509" stop-color="#3f3f3f"/><stop offset="0.7581" stop-color="#414141"/><stop offset="0.7653" stop-color="#757575"/><stop offset="0.7726" stop-color="#bfbfbf"/><stop offset="0.7798" stop-color="#e6e6e6"/><stop offset="0.787" stop-color="#ffffff"/><stop offset="0.7942" stop-color="#ffffff"/><stop offset="0.8014" stop-color="#eeeeee"/><stop offset="0.8087" stop-color="#dbdbdb"/><stop offset="0.8159" stop-color="#c7c7c7"/><stop offset="0.8231" stop-color="#5f5f5f"/><stop offset="0.8303" stop-color="#7d7d7d"/><stop offset="0.8375" stop-color="#d1d1d1"/><stop offset="0.8448" stop-color="#f1f1f1"/><stop offset="0.852" stop-color="#ffffff"/><stop offset="0.8592" stop-color="#ffffff"/><stop offset="0.8664" stop-color="#efefef"/><stop offset="0.8736" stop-color="#d3d3d3"/><stop offset="0.8809" stop-color="#949494"/><stop offset="0.8881" stop-color="#414141"/><stop offset="0.8953" stop-color="#8b8b8b"/><stop offset="0.9025" stop-color="#828282"/><stop offset="0.9097" stop-color="#d3d3d3"/><stop offset="0.917" stop-color="#f8f8f8"/><stop offset="0.9242" stop-color="#7c7c7c"/><stop offset="0.9314" stop-color="#b0b0b0"/><stop offset="0.9386" stop-color="#ffffff"/><stop offset="0.9458" stop-color="#ffffff"/><stop offset="0.9531" stop-color="#ffffff"/><stop offset="0.9603" stop-color="#b8b8b8"/><stop offset="0.9675" stop-color="#9f9f9f"/><stop offset="0.9747" stop-color="#ffffff"/><stop offset="0.9819" stop-color="#ffffff"/><stop offset="0.9892" stop-color="#ebebeb"/><stop offset="0.9964" stop-color="#f9f9f9"/></linearGradient><mask id="m11" maskUnits="userSpaceOnUse" x="0" y="0" width="277" height="76"><rect width="277" height="76" fill="url(#g11)"/></mask></defs><g fill="none" stroke-linecap="round" stroke-linejoin="round"><g mask="url(#m10)"><g filter="url(#bl)"><path d="M1.7,70.7L3.1,70.2L4.5,69.6L5.9,69.2L7.4,68.8L8.8,69.2L10.2,69.7L11.6,69.9L13,70.5" stroke="#fde725" stroke-width="2.4"/><path d="M1.7,65.8L3.1,64.7L4.5,63.6L5.9,62.8L7.4,62.4L8.8,63L10.2,63.7L11.6,64.8L13,65.9" stroke="#fde725" stroke-width="2.3"/><path d="M14.3,70.5L15.8,70L17.3,69.5L18.8,69.5L20.2,69.8L21.7,69.6L23.2,69.7" stroke="#f6e620" stroke-width="2.4"/><path d="M14.3,65.9L15.8,64.3L17.3,63.4L18.8,62.6L20.2,63.3L21.7,64.2L23.2,65.4" stroke="#dfe318" stroke-width="2.3"/><path d="M24.3,71.6L25.7,71.5L27.1,71.6L28.5,71.9L29.9,71.9L31.3,71.5L32.7,71.1" stroke="#e7e419" stroke-width="1.5"/><path d="M24.3,68.3L25.7,68.3L27.1,68.4L28.5,68.5L29.9,68.4L31.3,68.5L32.7,68.4" stroke="#cde11d" stroke-width="1.5"/><path d="M24.3,65.4L25.7,65.3L27.1,65.2L28.5,65L29.9,65L31.3,64.9L32.7,64.8" stroke="#98d83e" stroke-width="1.5"/><path d="M24.3,61.8L25.7,61.7L27.1,61.7L28.5,61.7L29.9,61.6L31.3,61.7L32.7,61.7" stroke="#70cf57" stroke-width="1.4"/><path d="M34.8,70.6L36.3,70.2L37.8,70.1L39.2,70.2L40.7,70.3L42.2,70.1" stroke="#d0e11c" stroke-width="2.1"/><path d="M34.8,66L36.3,65.5L37.8,65.2L39.2,65.4L40.7,65.9L42.2,66.2" stroke="#fde725" stroke-width="2.1"/><path d="M34.8,61.4L36.3,61L37.8,60.6L39.2,60.6L40.7,60.8L42.2,61.4" stroke="#fde725" stroke-width="2"/><path d="M44.8,71.3L46.1,71.1L47.4,71.3L48.7,71.6" stroke="#40bd72" stroke-width="1.7"/><path d="M44.8,67.4L46.1,67.5L47.4,67.7L48.7,67.7" stroke="#37b878" stroke-width="1.7"/><path d="M44.8,63.6L46.1,63.4L47.4,63.4L48.7,63.7" stroke="#27ad81" stroke-width="1.6"/><path d="M52.3,71L53.5,70.9L54.8,70.8L56,70.9L57.2,71.2" stroke="#fde725" stroke-width="1.9"/><path d="M52.3,66.4L53.5,66.6L54.8,66.8L56,67L57.2,67.0" stroke="#e2e418" stroke-width="1.8"/><path d="M52.3,62.7L53.5,62.5L54.8,62.5L56,62.6L57.2,62.7" stroke="#aadc32" stroke-width="1.8"/><path d="M57.8,70.6L59.3,70.9L60.8,71L62.3,71.1L63.8,71L65.2,70.9L66.7,70.8L68.2,70.8L69.7,71.1" stroke="#98d83e" stroke-width="1.8"/><path d="M57.8,66.2L59.3,66.3L60.8,66.6L62.3,66.7L63.8,66.5L65.2,66.5L66.7,66.7L68.2,67L69.7,67.0" stroke="#8bd646" stroke-width="1.8"/><path d="M57.8,62.3L59.3,62.2L60.8,62.4L62.3,62.6L63.8,62.7L65.2,62.5L66.7,62.4L68.2,63L69.7,63.4" stroke="#a2da37" stroke-width="1.8"/><path d="M73.3,71L74.6,71L75.9,71.1L77.2,71.2L78.4,71.1L79.7,71.1L81,71.1" stroke="#cde11d" stroke-width="1.8"/><path d="M73.3,66.8L74.6,67.2L75.9,67.6L77.2,67.9L78.4,67.9L79.7,67.7L81,67.4" stroke="#cde11d" stroke-width="1.7"/><path d="M73.3,62.2L74.6,62.8L75.9,63.4L77.2,63.5L78.4,63.5L79.7,63.5L81,63.4" stroke="#c5e021" stroke-width="1.7"/><path d="M83.7,72L85.1,72L86.5,72L87.8,71.8L89.2,71.5" stroke="#b0dd2f" stroke-width="1.4"/><path d="M83.7,68.1L85.1,68.6L86.5,68.7L87.8,68.7L89.2,68.7" stroke="#c8e020" stroke-width="1.4"/><path d="M83.7,65.3L85.1,65.9L86.5,66.2L87.8,65.7L89.2,65.4" stroke="#addc30" stroke-width="1.4"/><path d="M83.7,61.8L85.1,62.4L86.5,62.8L87.8,62.7L89.2,62.3" stroke="#8bd646" stroke-width="1.3"/><path d="M106.8,70.6L108.3,70.9" stroke="#218f8d" stroke-width="2"/><path d="M106.8,65.9L108.3,65.8" stroke="#218f8d" stroke-width="2"/><path d="M106.8,61.4L108.3,61.5" stroke="#25848e" stroke-width="1.9"/><path d="M108.9,68.2L110.3,68.6L111.7,68.8L113.2,69L114.6,69.4L116,69.8" stroke="#fde725" stroke-width="2.7"/><path d="M108.9,61.9L110.3,62.3L111.7,62.7L113.2,63L114.6,63.3L116,63.7" stroke="#fde725" stroke-width="2.6"/><path d="M116.6,69.6L118,70.1L119.3,70.1L120.7,70.1" stroke="#c0df25" stroke-width="2.4"/><path d="M116.6,63.6L118,64.3L119.3,64.9L120.7,65.1" stroke="#d8e219" stroke-width="2.3"/><path d="M121.3,69.9L122.6,70.1L124,70.4L125.3,70.6L126.6,70.7L128,70.6L129.3,70.5" stroke="#fde725" stroke-width="2.1"/><path d="M121.3,64.9L122.6,64.9L124,65.4L125.3,65.9L126.6,66.2L128,66.4L129.3,66.5" stroke="#fde725" stroke-width="2"/><path d="M121.3,60.4L122.6,60.5L124,60.9L125.3,61.3L126.6,61.5L128,61.7L129.3,62.3" stroke="#fde725" stroke-width="2"/><path d="M133.3,71.4L134.6,71.3L136,71.3L137.3,71.3L138.6,71.3L140,71.6L141.3,71.4" stroke="#fde725" stroke-width="1.7"/><path d="M133.3,67.7L134.6,67.5L136,67.6L137.3,67.6L138.6,67.5L140,67.7L141.3,67.9" stroke="#70cf57" stroke-width="1.7"/><path d="M133.3,63.2L134.6,63.2L136,63.5L137.3,63.7L138.6,63.7L140,63.5L141.3,63.3" stroke="#e5e419" stroke-width="1.6"/><path d="M148.3,71.7L149.7,71.4L151.1,71.5L152.5,72L153.9,71.8L155.3,71.6L156.7,71.7" stroke="#98d83e" stroke-width="1.5"/><path d="M148.3,68.5L149.7,68L151.1,68L152.5,68.6L153.9,68.1L155.3,68.1L156.7,68.7" stroke="#8bd646" stroke-width="1.5"/><path d="M148.3,65.4L149.7,64.7L151.1,64.8L152.5,65.9L153.9,65L155.3,64.8L156.7,65.4" stroke="#73d056" stroke-width="1.4"/><path d="M148.3,62.6L149.7,61.4L151.1,61.1L152.5,62.3L153.9,61.4L155.3,61.3L156.7,62.0" stroke="#5ec962" stroke-width="1.4"/><path d="M166.3,71.8L167.7,71.4L169.1,71.1L170.5,70.8L172,70.8L173.4,70.9L174.8,71L176.2,70.9" stroke="#c5e021" stroke-width="1.8"/><path d="M166.3,67L167.7,66.9L169.1,66.9L170.5,67L172,66.9L173.4,66.9L174.8,67L176.2,67.3" stroke="#fde725" stroke-width="1.7"/><path d="M166.3,63.5L167.7,63.3L169.1,63.3L170.5,63.3L172,63.4L173.4,63.5L174.8,63.1L176.2,62.9" stroke="#f8e621" stroke-width="1.7"/><path d="M180.3,68.7L181.8,69L183.3,69.7L184.7,70.4L186.2,70.6L187.7,70.7" stroke="#fde725" stroke-width="2.3"/><path d="M180.3,62.8L181.8,63.7L183.3,64.4L184.7,65.1L186.2,66L187.7,66.8" stroke="#fde725" stroke-width="2.2"/><path d="M203.3,70.6L204.5,70.6L205.8,70.6L207,70.6L208.2,70.3" stroke="#4ac16d" stroke-width="2"/><path d="M203.3,65.9L204.5,66L205.8,66.1L207,66L208.2,66.0" stroke="#50c46a" stroke-width="2"/><path d="M203.3,61.1L204.5,61.2L205.8,61.4L207,61.4L208.2,61.2" stroke="#25ac82" stroke-width="1.9"/><path d="M209.3,71.5L210.8,71.4L212.2,71.3L213.7,71.3" stroke="#5cc863" stroke-width="1.6"/><path d="M209.3,68.1L210.8,68L212.2,68L213.7,67.9" stroke="#65cb5e" stroke-width="1.5"/><path d="M209.3,64.4L210.8,64.4L212.2,64.5L213.7,64.5" stroke="#4ac16d" stroke-width="1.5"/><path d="M209.3,60.9L210.8,61.1L212.2,61.1L213.7,60.6" stroke="#34b679" stroke-width="1.5"/><path d="M214.3,71.7L215.7,71.6L217.1,71.5L218.4,71.4L219.8,71.2L221.2,71.2" stroke="#56c667" stroke-width="1.6"/><path d="M214.3,67.9L215.7,67.8L217.1,67.7L218.4,67.8L219.8,67.8L221.2,67.4" stroke="#50c46a" stroke-width="1.6"/><path d="M214.3,64.6L215.7,64.4L217.1,64.2L218.4,63.9L219.8,63.6L221.2,63.3" stroke="#32b67a" stroke-width="1.6"/><path d="M223.9,71.1L225.3,71.2L226.7,71.4L228.2,71.5L229.6,71.2L231,70.6L232.4,70.1L233.9,70.7L235.3,71.2L236.7,71.9" stroke="#fde725" stroke-width="1.8"/><path d="M223.9,66.5L225.3,67.1L226.7,67.6L228.2,68.2L229.6,67.5L231,66.6L232.4,65.5L233.9,66.3L235.3,67.2L236.7,68.0" stroke="#fde725" stroke-width="1.8"/><path d="M223.9,62.5L225.3,63.2L226.7,64L228.2,64.6L229.6,63.2L231,61.8L232.4,60.5L233.9,61.9L235.3,63.3L236.7,64.9" stroke="#fde725" stroke-width="1.7"/><path d="M240,71.1L241.2,70.5L242.5,70.7L243.7,71.7" stroke="#fde725" stroke-width="1.8"/><path d="M240,67.8L241.2,66.3L242.5,66L243.7,67.2" stroke="#fde725" stroke-width="1.8"/><path d="M240,63.5L241.2,61.4L242.5,61.4L243.7,63.7" stroke="#e2e418" stroke-width="1.8"/><path d="M246.8,70.4L248.2,70.5L249.7,70.6" stroke="#70cf57" stroke-width="2"/><path d="M246.8,65.8L248.2,65.7L249.7,65.9" stroke="#77d153" stroke-width="2"/><path d="M246.8,61.5L248.2,61.5L249.7,61.5" stroke="#50c46a" stroke-width="1.9"/><path d="M254,71.4L255.4,71.2L256.9,71L258.3,71.1L259.7,71.3" stroke="#4cc26c" stroke-width="1.7"/><path d="M254,67L255.4,67.5L256.9,67.5L258.3,67.6L259.7,67.5" stroke="#42be71" stroke-width="1.7"/><path d="M254,63.8L255.4,63.8L256.9,63.9L258.3,63.8L259.7,63.9" stroke="#35b779" stroke-width="1.6"/><path d="M260.3,70.9L261.6,70.3L262.9,69.9L264.1,69.5L265.4,69.7L266.7,70.2L268,70.7" stroke="#f6e620" stroke-width="2.1"/><path d="M260.3,66.8L261.6,65.8L262.9,65.1L264.1,64.6L265.4,65.5L266.7,66.3L268,67.2" stroke="#d8e219" stroke-width="2"/><path d="M260.3,62.8L261.6,61.3L262.9,59.9L264.1,58.8L265.4,59.9L266.7,61.2L268,62.5" stroke="#90d743" stroke-width="2"/></g></g><g mask="url(#m11)"><g filter="url(#bl)"><path d="M1.7,61.4L3.1,59.5L4.5,57.8L5.9,56.7L7.4,55.9L8.8,56.9L10.2,58.1L11.6,59.5L13,61.2" stroke="#e5e419" stroke-width="2.3"/><path d="M1.7,56.8L3.1,54.5L4.5,52.7L5.9,51.3L7.4,50L8.8,51L10.2,52.5L11.6,54.4L13,56.5" stroke="#cde11d" stroke-width="2.1"/><path d="M1.7,52.2L3.1,49.3L4.5,47.3L5.9,45.5L7.4,44.1L8.8,45.3L10.2,47L11.6,49.3L13,52.3" stroke="#bddf26" stroke-width="1.8"/><path d="M1.7,48L3.1,44.9L4.5,42.6L5.9,41.2L7.4,40L8.8,41.2L10.2,42.8L11.6,45L13,47.4" stroke="#b2dd2d" stroke-width="1.4"/><path d="M1.7,44.3L3.1,41.2L4.5,39.1L5.9,37.4L7.4,36.3L8.8,37.5L10.2,38.9L11.6,40.8L13,43.5" stroke="#a2da37" stroke-width="1.2"/><path d="M1.7,41L3.1,38L4.5,35.6L5.9,33.9L7.4,32.8L8.8,34.1L10.2,35.8L11.6,38L13,40.7" stroke="#95d840" stroke-width="1.1"/><path d="M1.7,38L3.1,35.1L4.5,32.9L5.9,31.2L7.4,29.9L8.8,31L10.2,32.7L11.6,34.9L13,37.7" stroke="#7ad151" stroke-width="1"/><path d="M1.7,35.4L3.1,32.6L4.5,30.5L5.9,28.7L7.4,27.4L8.8,28.8L10.2,30.4L11.6,32.4L13,35.4" stroke="#6ece58" stroke-width="1"/><path d="M1.7,33.1L3.1,30.2L4.5,28L5.9,26.3L7.4,25.2L8.8,26.4L10.2,28L11.6,30.1L13,32.8" stroke="#5ec962" stroke-width="1"/><path d="M14.3,60.6L15.8,58.6L17.3,57.1L18.8,56.3L20.2,57.9L21.7,59.5L23.2,61.2" stroke="#d5e21a" stroke-width="2.3"/><path d="M14.3,56.6L15.8,54.1L17.3,51.9L18.8,50.2L20.2,51.6L21.7,53.6L23.2,56.1" stroke="#a8db34" stroke-width="2.1"/><path d="M14.3,51.5L15.8,48.6L17.3,46.3L18.8,44.9L20.2,46.4L21.7,48.5L23.2,51.6" stroke="#73d056" stroke-width="1.8"/><path d="M14.3,47.1L15.8,43.7L17.3,41.7L18.8,40.4L20.2,41.8L21.7,43.9L23.2,46.8" stroke="#4cc26c" stroke-width="1.4"/><path d="M14.3,43.8L15.8,40.6L17.3,38.3L18.8,36.8L20.2,38.2L21.7,40.3L23.2,43.2" stroke="#35b779" stroke-width="1.2"/><path d="M14.3,40.1L15.8,37.2L17.3,35L18.8,33.4L20.2,34.8L21.7,37L23.2,40.1" stroke="#23a983" stroke-width="1.1"/><path d="M24.3,58.8L25.7,58.7L27.1,58.6L28.5,58.5L29.9,58.5L31.3,58.6L32.7,58.6" stroke="#42be71" stroke-width="1.4"/><path d="M34.8,56.6L36.3,56L37.8,55.6L39.2,55.5L40.7,56.1L42.2,56.9" stroke="#cae11f" stroke-width="2"/><path d="M34.8,52.2L36.3,51.3L37.8,50.7L39.2,50.5L40.7,51.2L42.2,52.0" stroke="#aadc32" stroke-width="1.8"/><path d="M34.8,47.6L36.3,46.7L37.8,46.1L39.2,46.1L40.7,46.8L42.2,47.8" stroke="#bade28" stroke-width="1.5"/><path d="M34.8,44L36.3,43.2L37.8,42.5L39.2,42.4L40.7,43L42.2,43.9" stroke="#a0da39" stroke-width="1.2"/><path d="M34.8,40.8L36.3,39.9L37.8,39.3L39.2,39.2L40.7,39.7L42.2,40.6" stroke="#7ad151" stroke-width="1.1"/><path d="M34.8,37.8L36.3,36.8L37.8,36.2L39.2,36.3L40.7,36.9L42.2,37.6" stroke="#3fbc73" stroke-width="1"/><path d="M34.8,35.3L36.3,34.5L37.8,33.8L39.2,33.6L40.7,34.2L42.2,35.1" stroke="#2ab07f" stroke-width="1"/><path d="M34.8,33L36.3,32L37.8,31.4L39.2,31.5L40.7,32.1L42.2,32.9" stroke="#24aa83" stroke-width="1"/><path d="M34.8,30.9L36.3,29.9L37.8,29.2L39.2,29.1L40.7,29.9L42.2,30.9" stroke="#22a785" stroke-width="1"/><path d="M34.8,28.9L36.3,28L37.8,27.3L39.2,27.1L40.7,27.6L42.2,28.7" stroke="#20a386" stroke-width="1"/><path d="M44.8,60.5L46.1,60.3L47.4,60.1L48.7,60.1" stroke="#21a585" stroke-width="1.6"/><path d="M44.8,56L46.1,56L47.4,56.1L48.7,56.1" stroke="#1e9d89" stroke-width="1.6"/><path d="M44.8,52.2L46.1,52.3L47.4,52.2L48.7,52.2" stroke="#21908d" stroke-width="1.5"/><path d="M52.3,58L53.5,58L54.8,58L56,58.3L57.2,58.5" stroke="#cae11f" stroke-width="1.8"/><path d="M52.3,54.2L53.5,54.3L54.8,54.3L56,54.2L57.2,54.2" stroke="#90d743" stroke-width="1.7"/><path d="M52.3,50.1L53.5,50.4L54.8,50.4L56,50L57.2,50.0" stroke="#42be71" stroke-width="1.5"/><path d="M57.8,57.5L59.3,57.7L60.8,57.8L62.3,58.3L63.8,58.7L65.2,59L66.7,59.1L68.2,59.2L69.7,59.5" stroke="#4ac16d" stroke-width="1.7"/><path d="M57.8,53.2L59.3,53.9L60.8,54L62.3,54.1L63.8,54.6L65.2,54.9L66.7,55.2L68.2,55.4L69.7,55.6" stroke="#2ab07f" stroke-width="1.7"/><path d="M57.8,49.1L59.3,49.5L60.8,49.7L62.3,49.8L63.8,50.4L65.2,51.1L66.7,51.4L68.2,51.3L69.7,51.4" stroke="#23a983" stroke-width="1.5"/><path d="M57.8,45L59.3,45.3L60.8,45.7L62.3,46.1L63.8,46.6L65.2,46.9L66.7,47.2L68.2,47.6L69.7,47.9" stroke="#24aa83" stroke-width="1.3"/><path d="M57.8,42L59.3,42.5L60.8,42.9L62.3,43.2L63.8,43.4L65.2,43.7L66.7,44.1L68.2,44.4L69.7,44.7" stroke="#1fa187" stroke-width="1.1"/><path d="M73.3,58.6L74.6,59L75.9,59.3L77.2,60L78.4,60.2L79.7,60L81,59.2" stroke="#c0df25" stroke-width="1.6"/><path d="M73.3,53.9L74.6,55.2L75.9,56L77.2,56.4L78.4,56L79.7,55.8L81,55.4" stroke="#6ece58" stroke-width="1.6"/><path d="M73.3,50.2L74.6,51.2L75.9,51.9L77.2,52.7L78.4,52.4L79.7,51.9L81,51.3" stroke="#42be71" stroke-width="1.5"/><path d="M73.3,46.4L74.6,47.3L75.9,48.2L77.2,48.8L78.4,48.3L79.7,47.8L81,47.3" stroke="#3aba76" stroke-width="1.3"/><path d="M73.3,42.9L74.6,44.2L75.9,45.2L77.2,45.8L78.4,45.3L79.7,44.8L81,44.1" stroke="#35b779" stroke-width="1.1"/><path d="M73.3,40L74.6,41L75.9,41.9L77.2,42.7L78.4,42.4L79.7,41.8L81,41.1" stroke="#2ab07f" stroke-width="1"/><path d="M73.3,37.7L74.6,38.7L75.9,39.4L77.2,40.1L78.4,39.9L79.7,39.5L81,38.8" stroke="#22a785" stroke-width="1"/><path d="M73.3,35.3L74.6,36.3L75.9,37.2L77.2,38L78.4,37.6L79.7,37.1L81,36.4" stroke="#21a585" stroke-width="1"/><path d="M73.3,33.2L74.6,34.3L75.9,35.1L77.2,35.7L78.4,35.3L79.7,34.9L81,34.1" stroke="#24aa83" stroke-width="1"/><path d="M73.3,31.4L74.6,32.3L75.9,33.1L77.2,33.8L78.4,33.5L79.7,33L81,32.3" stroke="#21a685" stroke-width="1"/><path d="M83.7,58.5L85.1,59.3L86.5,59.7L87.8,59.4L89.2,59.1" stroke="#5ac864" stroke-width="1.3"/><path d="M83.7,55.4L85.1,56.3L86.5,57.1L87.8,56.7L89.2,55.8" stroke="#3bbb75" stroke-width="1.3"/><path d="M83.7,52.4L85.1,53.2L86.5,53.8L87.8,53.2L89.2,52.5" stroke="#25ac82" stroke-width="1.3"/><path d="M83.7,48.8L85.1,49.9L86.5,50.7L87.8,50.1L89.2,49.4" stroke="#1e9b8a" stroke-width="1.1"/><path d="M83.7,46.1L85.1,47.1L86.5,48L87.8,47.4L89.2,46.5" stroke="#1f968b" stroke-width="1"/><path d="M106.8,56.9L108.3,57.2" stroke="#2b758e" stroke-width="1.9"/><path d="M108.9,55L110.3,55.9L111.7,56.8L113.2,57.1L114.6,57.1L116,57.7" stroke="#dfe318" stroke-width="2.5"/><path d="M108.9,49.2L110.3,49.6L111.7,50.3L113.2,51L114.6,52L116,52.9" stroke="#a8db34" stroke-width="2.2"/><path d="M108.9,43.8L110.3,44.4L111.7,45.1L113.2,45.8L114.6,46.5L116,46.9" stroke="#7ad151" stroke-width="1.7"/><path d="M108.9,39.3L110.3,39.6L111.7,40.3L113.2,41.3L114.6,42L116,42.7" stroke="#6ece58" stroke-width="1.4"/><path d="M108.9,35.1L110.3,35.8L111.7,36.4L113.2,37L114.6,37.9L116,38.9" stroke="#7ad151" stroke-width="1.2"/><path d="M108.9,32.1L110.3,32.6L111.7,33.3L113.2,34.2L114.6,35L116,35.7" stroke="#69cd5b" stroke-width="1"/><path d="M108.9,29.1L110.3,29.8L111.7,30.5L113.2,31.3L114.6,32L116,32.6" stroke="#5ac864" stroke-width="1"/><path d="M108.9,26.2L110.3,27L111.7,27.9L113.2,28.7L114.6,29.4L116,30.3" stroke="#4ac16d" stroke-width="1"/><path d="M108.9,24.4L110.3,24.9L111.7,25.6L113.2,26.3L114.6,27.1L116,27.9" stroke="#2db27d" stroke-width="1"/><path d="M116.6,58.3L118,59L119.3,59.6L120.7,60.1" stroke="#90d743" stroke-width="2.2"/><path d="M116.6,52.5L118,53.1L119.3,54.2L120.7,54.9" stroke="#6ece58" stroke-width="2.1"/><path d="M116.6,46.6L118,47.9L119.3,49.2L120.7,50.3" stroke="#65cb5e" stroke-width="1.8"/><path d="M116.6,42.8L118,43.4L119.3,44.5L120.7,45.8" stroke="#5ac864" stroke-width="1.5"/><path d="M116.6,39L118,39.6L119.3,40.6L120.7,41.9" stroke="#46c06f" stroke-width="1.2"/><path d="M116.6,35.4L118,36.2L119.3,37.2L120.7,38.3" stroke="#3dbc74" stroke-width="1.1"/><path d="M116.6,32.7L118,33.5L119.3,34.3L120.7,35.4" stroke="#37b878" stroke-width="1"/><path d="M116.6,30.2L118,31.1L119.3,31.9L120.7,33.0" stroke="#2db27d" stroke-width="1"/><path d="M121.3,55.3L122.6,55.6L124,56L125.3,56.4L126.6,56.9L128,57.5L129.3,58.0" stroke="#fde725" stroke-width="1.9"/><path d="M121.3,49.4L122.6,50L124,50.6L125.3,51.2L126.6,52L128,52.6L129.3,53.2" stroke="#fde725" stroke-width="1.8"/><path d="M121.3,45.3L122.6,45.9L124,46.6L125.3,47.4L126.6,48L128,48.6L129.3,49.3" stroke="#f8e621" stroke-width="1.5"/><path d="M121.3,41.5L122.6,42.3L124,42.8L125.3,43.4L126.6,43.9L128,44.7L129.3,45.4" stroke="#c8e020" stroke-width="1.3"/><path d="M121.3,38.2L122.6,38.9L124,39.5L125.3,40L126.6,40.7L128,41.5L129.3,42.1" stroke="#a8db34" stroke-width="1.1"/><path d="M121.3,35.3L122.6,36L124,36.5L125.3,37.3L126.6,38L128,38.5L129.3,39.0" stroke="#89d548" stroke-width="1"/><path d="M121.3,33.1L122.6,33.5L124,34L125.3,34.7L126.6,35.4L128,35.9L129.3,36.5" stroke="#69cd5b" stroke-width="1"/><path d="M121.3,30.6L122.6,31.2L124,31.8L125.3,32.3L126.6,33L128,33.6L129.3,34.2" stroke="#58c765" stroke-width="1"/><path d="M121.3,28.6L122.6,29.1L124,29.7L125.3,30.2L126.6,30.8L128,31.5L129.3,32.2" stroke="#50c46a" stroke-width="1"/><path d="M121.3,26.6L122.6,27L124,27.5L125.3,28.1L126.6,28.9L128,29.6L129.3,30.1" stroke="#3aba76" stroke-width="1"/><path d="M121.3,24.7L122.6,25.3L124,26L125.3,26.6L126.6,27.2L128,27.8L129.3,28.5" stroke="#34b679" stroke-width="1"/><path d="M133.3,59.5L134.6,59.9L136,60L137.3,60.2L138.6,60.2L140,60L141.3,59.8" stroke="#95d840" stroke-width="1.6"/><path d="M133.3,56.1L134.6,56.2L136,56.2L137.3,56.2L138.6,56.1L140,56L141.3,55.9" stroke="#65cb5e" stroke-width="1.6"/><path d="M133.3,52.4L134.6,52.5L136,52.4L137.3,52.5L138.6,52.7L140,52.8L141.3,52.8" stroke="#2ab07f" stroke-width="1.5"/><path d="M148.3,58.6L149.7,57.5L151.1,58L152.5,59.8L153.9,58L155.3,57.7L156.7,58.8" stroke="#3bbb75" stroke-width="1.4"/><path d="M148.3,56L149.7,54.5L151.1,54.7L152.5,56.7L153.9,54.9L155.3,54.5L156.7,55.8" stroke="#28ae80" stroke-width="1.4"/><path d="M148.3,52.5L149.7,50.8L151.1,51.2L152.5,53.6L153.9,51.4L155.3,50.9L156.7,52.2" stroke="#20a486" stroke-width="1.3"/><path d="M166.3,59L167.7,59.2L169.1,59.3L170.5,59.2L172,58.9L173.4,59L174.8,59.3L176.2,59.4" stroke="#d0e11c" stroke-width="1.7"/><path d="M166.3,55.6L167.7,55.4L169.1,55.3L170.5,55.2L172,55.1L173.4,54.9L174.8,54.7L176.2,54.9" stroke="#a2da37" stroke-width="1.6"/><path d="M166.3,51.6L167.7,51.6L169.1,51.5L170.5,51.2L172,51L173.4,51.1L174.8,51.2L176.2,50.9" stroke="#98d83e" stroke-width="1.5"/><path d="M166.3,47.9L167.7,47.7L169.1,47.5L170.5,47.4L172,47.3L173.4,47.3L174.8,47.3L176.2,47.1" stroke="#81d34d" stroke-width="1.3"/><path d="M166.3,44.5L167.7,44.3L169.1,44.4L170.5,44.3L172,44L173.4,43.7L174.8,43.6L176.2,43.5" stroke="#5cc863" stroke-width="1.1"/><path d="M166.3,41.7L167.7,41.5L169.1,41.4L170.5,41.3L172,41.2L173.4,41L174.8,40.8L176.2,40.8" stroke="#32b67a" stroke-width="1"/><path d="M166.3,38.9L167.7,39L169.1,38.9L170.5,38.9L172,38.9L173.4,38.7L174.8,38.6L176.2,38.5" stroke="#27ad81" stroke-width="1"/><path d="M166.3,36.7L167.7,36.7L169.1,36.6L170.5,36.5L172,36.3L173.4,36.2L174.8,36.2L176.2,36.1" stroke="#1fa287" stroke-width="1"/><path d="M166.3,35.1L167.7,34.9L169.1,34.6L170.5,34.3L172,34.2L173.4,34.2L174.8,34.1L176.2,33.9" stroke="#1f988b" stroke-width="1"/><path d="M166.3,32.9L167.7,32.7L169.1,32.5L170.5,32.4L172,32.4L173.4,32.3L174.8,32.1L176.2,31.9" stroke="#218f8d" stroke-width="1"/><path d="M166.3,30.9L167.7,30.8L169.1,30.8L170.5,30.7L172,30.5L173.4,30.4L174.8,30.3L176.2,30.2" stroke="#228d8d" stroke-width="1"/><path d="M166.3,29.1L167.7,29L169.1,28.9L170.5,28.8L172,28.7L173.4,28.6L174.8,28.6L176.2,28.6" stroke="#218e8d" stroke-width="1"/><path d="M180.3,57L181.8,58.2L183.3,59L184.7,60L186.2,61.5L187.7,62.7" stroke="#fde725" stroke-width="2.2"/><path d="M180.3,51L181.8,52.4L183.3,54L184.7,55.5L186.2,56.9L187.7,58.5" stroke="#c0df25" stroke-width="2"/><path d="M180.3,45.5L181.8,46.8L183.3,48.4L184.7,50.5L186.2,52.4L187.7,54.1" stroke="#84d44b" stroke-width="1.8"/><path d="M180.3,41L181.8,42.5L183.3,44.3L184.7,46.1L186.2,48.2L187.7,50.4" stroke="#73d056" stroke-width="1.5"/><path d="M180.3,37.3L181.8,38.7L183.3,40.4L184.7,42.2L186.2,44L187.7,46.3" stroke="#60ca60" stroke-width="1.2"/><path d="M180.3,34.2L181.8,35.8L183.3,37.3L184.7,39L186.2,41.1L187.7,43.3" stroke="#60ca60" stroke-width="1.1"/><path d="M180.3,31L181.8,32.7L183.3,34.4L184.7,36.2L186.2,38L187.7,39.9" stroke="#50c46a" stroke-width="1"/><path d="M180.3,28.7L181.8,30.2L183.3,31.8L184.7,33.4L186.2,35.2L187.7,37.4" stroke="#3aba76" stroke-width="1"/><path d="M180.3,26.3L181.8,27.8L183.3,29.4L184.7,31.2L186.2,33.1L187.7,35.3" stroke="#2db27d" stroke-width="1"/><path d="M180.3,23.8L181.8,25.4L183.3,27.2L184.7,29.2L186.2,31.1L187.7,33.2" stroke="#25ac82" stroke-width="1"/><path d="M209.3,57.7L210.8,57.5L212.2,57.6L213.7,57.7" stroke="#20a386" stroke-width="1.5"/><path d="M209.3,53.9L210.8,54.1L212.2,54.1L213.7,53.8" stroke="#1f998a" stroke-width="1.4"/><path d="M214.3,61L215.7,60.6L217.1,60.5L218.4,60.3L219.8,60L221.2,59.7" stroke="#2ab07f" stroke-width="1.6"/><path d="M214.3,57.9L215.7,57.3L217.1,56.8L218.4,56.4L219.8,56.1L221.2,55.7" stroke="#21a585" stroke-width="1.5"/><path d="M214.3,54.2L215.7,53.7L217.1,53L218.4,52.6L219.8,52.4L221.2,52.2" stroke="#1e9d89" stroke-width="1.5"/><path d="M223.9,58.3L225.3,59.4L226.7,60.4L228.2,61.4L229.6,59.6L231,57.7L232.4,55.9L233.9,57.8L235.3,59.3L236.7,60.6" stroke="#d5e21a" stroke-width="1.7"/><path d="M223.9,54.6L225.3,55.8L226.7,56.7L228.2,57.7L229.6,55.4L231,53.1L232.4,50.9L233.9,53.2L235.3,55.5L236.7,57.6" stroke="#bddf26" stroke-width="1.6"/><path d="M223.9,49.9L225.3,51.3L226.7,52.7L228.2,54.1L229.6,51.5L231,49L232.4,46.9L233.9,49L235.3,51.3L236.7,53.7" stroke="#8bd646" stroke-width="1.5"/><path d="M223.9,46.5L225.3,47.8L226.7,49.2L228.2,50.8L229.6,47.8L231,45.1L232.4,42.8L233.9,45.2L235.3,47.7L236.7,50.5" stroke="#54c568" stroke-width="1.3"/><path d="M240,59.7L241.2,57.1L242.5,57.1L243.7,59.6" stroke="#a2da37" stroke-width="1.7"/><path d="M240,56.3L241.2,52.8L242.5,52.6L243.7,55.9" stroke="#4ec36b" stroke-width="1.7"/><path d="M246.8,57.5L248.2,57.3L249.7,57.0" stroke="#32b67a" stroke-width="1.9"/><path d="M246.8,52.5L248.2,52.3L249.7,52.1" stroke="#25ab82" stroke-width="1.8"/><path d="M246.8,47.6L248.2,47.8L249.7,48.0" stroke="#1fa188" stroke-width="1.5"/><path d="M246.8,44.2L248.2,44.1L249.7,44.1" stroke="#22a884" stroke-width="1.3"/><path d="M246.8,40.6L248.2,40.7L249.7,40.8" stroke="#1f998a" stroke-width="1.1"/><path d="M254,59.9L255.4,60L256.9,60L258.3,60L259.7,60.0" stroke="#23a983" stroke-width="1.6"/><path d="M254,56L255.4,56.1L256.9,56.1L258.3,56.2L259.7,56.3" stroke="#1f988b" stroke-width="1.6"/><path d="M260.3,58.8L261.6,56.5L262.9,54.7L264.1,53.7L265.4,55L266.7,56.7L268,58.6" stroke="#6ece58" stroke-width="1.9"/><path d="M260.3,55L261.6,51.9L262.9,49.5L264.1,48.1L265.4,49.7L266.7,52.1L268,55.0" stroke="#38b977" stroke-width="1.7"/><path d="M224.0,20.0L227.0,34.0L231.0,56.0" stroke="#22a884" stroke-width="2.4"/><path d="M239.0,20.0L236.0,36.0L232.5,56.0" stroke="#20a386" stroke-width="2.2"/><path d="M262.0,30.0L265.5,10.0" stroke="#1e9c89" stroke-width="1.4"/><path d="M111.0,50.0L114.0,20.0L116.0,4.0" stroke="#20a386" stroke-width="1.6"/><path d="M122.0,55.0L124.0,30.0L125.0,12.0" stroke="#26ad81" stroke-width="1.8"/><path d="M36.0,48.0L38.0,24.0L39.0,8.0" stroke="#20a386" stroke-width="1.6"/></g></g></g></svg>
<div class="sp" style="left:60px;top:103px;width:277px;height:76px"><i style="background:linear-gradient(#414487,#3f4788,#3c4f8a,#3b528b,#365d8d,#2c718e,#26828e,#228b8d,#21908d,#1f9a8a,#1fa088,#1f9e89,#1f9e89,#1f968b,#1f958b,#218e8d,#228b8d,#228c8d,#23888e,#228c8d,#218f8d,#1f968b,#1e9d89,#22a785,#23a983,#24aa83,#27ad81,#27ad81,#3bbb75,#48c16e,#2fb47c)"></i><i style="background:linear-gradient(#355e8d,#355e8d,#32658e,#31678e,#2d718e,#25848e,#21918c,#1e9b8a,#1fa287,#26ad81,#27ad81,#27ad81,#26ad81,#24aa83,#22a785,#1e9d89,#1f9f88,#1f9f88,#1fa088,#20a486,#22a884,#26ad81,#29af7f,#2db27d,#28ae80,#2ab07f,#34b679,#3dbc74,#5ec962,#67cc5c,#4ec36b)"></i><i style="background:linear-gradient(#3c4f8a,#3c508b,#38588c,#365c8d,#32658e,#2a778e,#25838e,#228d8d,#20938c,#1f9a8a,#1f9a8a,#1e9b8a,#1e9d89,#1f9e89,#1e9d89,#218e8d,#20928c,#1f948c,#1f9a8a,#1fa088,#20a386,#20a486,#25ab82,#24aa83,#21a685,#22a884,#25ac82,#2cb17e,#3fbc73,#40bd72,#2db27d)"></i><i style="background:linear-gradient(#443983,#433e85,#414487,#3c4f8a,#38598c,#31688e,#2b748e,#25838e,#24868e,#228b8d,#228c8d,#228b8d,#218e8d,#20928c,#20938c,#238a8d,#23898e,#23888e,#218e8d,#1f948c,#1f998a,#1f948c,#1fa088,#1fa188,#1fa187,#1fa287,#1f9e89,#1fa188,#23a983,#24aa83,#1f988b)"></i><i style="background:linear-gradient(#443a83,#433d84,#433d84,#3d4d8a,#365c8d,#32648e,#2c738e,#24878e,#25848e,#23898e,#228b8d,#25848e,#23888e,#228b8d,#228d8d,#228b8d,#23888e,#27808e,#24878e,#21908d,#1f998a,#20928c,#1f9e89,#1fa088,#21a585,#21a585,#1e9b8a,#1e9d89,#1fa187,#1fa187,#20928c)"></i><i style="background:linear-gradient(#443983,#453882,#463480,#404588,#365d8d,#33638d,#2c738e,#26828e,#277f8e,#26828e,#25848e,#25848e,#24878e,#24878e,#25858e,#23888e,#23888e,#26828e,#238a8d,#20938c,#1e9d89,#1f988b,#1e9d89,#1f9f88,#20a486,#20a486,#1f998a,#1f9a8a,#1e9c89,#1e9b8a,#218e8d)"></i><i style="background:linear-gradient(#46307e,#472c7a,#472e7c,#433e85,#375b8d,#32648e,#2c718e,#29798e,#2a788e,#2a778e,#297b8e,#26828e,#26828e,#26818e,#287d8e,#26818e,#24868e,#23888e,#21908d,#1f958b,#1e9c89,#1e9c89,#1f9e89,#1fa187,#22a884,#21a585,#1fa188,#1fa287,#22a884,#20a486,#1f968b)"></i><i style="background:linear-gradient(#481f70,#471365,#471365,#472f7d,#3c4f8a,#365d8d,#31688e,#2e6e8e,#2e6d8e,#2f6c8e,#2c738e,#287c8e,#297b8e,#287c8e,#2a788e,#287c8e,#25838e,#228c8d,#1f958b,#1f978b,#1f9e89,#1fa187,#21a585,#21a585,#24aa83,#24aa83,#24aa83,#28ae80,#35b779,#2eb37c,#1fa287)"></i><i style="background:linear-gradient(#481769,#460a5d,#46085c,#482475,#3c4f8a,#355f8d,#31688e,#2e6e8e,#2e6f8e,#2f6b8e,#2b758e,#297a8e,#2a788e,#297a8e,#287d8e,#277f8e,#26828e,#228c8d,#1f958b,#1f988b,#1f9e89,#1fa187,#21a685,#20a486,#22a785,#23a983,#27ad81,#2eb37c,#3aba76,#31b57b,#21a585)"></i><i style="background:linear-gradient(#46327e,#482173,#460b5e,#472f7d,#375a8c,#306a8e,#2c718e,#2a768e,#2a778e,#2c738e,#277e8e,#26828e,#25838e,#25838e,#23888e,#228d8d,#228b8d,#1f948c,#1e9d89,#1fa187,#25ac82,#27ad81,#2cb17e,#31b57b,#34b679,#32b67a,#3dbc74,#44bf70,#4cc26c,#3dbc74,#24aa83)"></i><i style="background:linear-gradient(#463480,#482374,#470e61,#482677,#3e4989,#39568c,#355e8d,#33638d,#32658e,#31678e,#2c738e,#297a8e,#26828e,#26818e,#25838e,#238a8d,#238a8d,#20938c,#1f9a8a,#1fa188,#28ae80,#28ae80,#29af7f,#32b67a,#31b57b,#2cb17e,#3aba76,#37b878,#38b977,#2cb17e,#1f998a)"></i><i style="background:linear-gradient(#423f85,#46327e,#482979,#453781,#3c508b,#39558c,#365c8d,#32658e,#31688e,#2e6d8e,#2a788e,#287c8e,#24878e,#24868e,#24878e,#228b8d,#20928c,#1f9f88,#20a386,#21a685,#2db27d,#28ae80,#29af7f,#2fb47c,#28ae80,#26ad81,#2eb37c,#29af7f,#2ab07f,#22a884,#21918c)"></i><i style="background:linear-gradient(#424186,#443983,#453781,#433d84,#3c508b,#39568c,#365d8d,#32658e,#306a8e,#2d718e,#2a778e,#297a8e,#26828e,#26828e,#26818e,#25848e,#218e8d,#1e9d89,#22a785,#25ac82,#2fb47c,#2db27d,#35b779,#34b679,#29af7f,#28ae80,#27ad81,#27ad81,#2db27d,#25ac82,#1f9a8a)"></i><i style="background:linear-gradient(#46337f,#46307e,#482979,#472e7c,#423f85,#3e4c8a,#38588c,#375b8d,#355f8d,#31678e,#30698e,#2c728e,#2c738e,#2d708e,#2d708e,#2a778e,#277e8e,#228b8d,#1f958b,#1e9d89,#1fa287,#21a685,#25ac82,#22a785,#20a386,#20a386,#1fa088,#1fa188,#20a386,#1fa187,#20938c)"></i><i style="background:linear-gradient(#463480,#46307e,#482677,#472e7c,#443a83,#3e4989,#39568c,#39568c,#365c8d,#32658e,#306a8e,#2a778e,#2b758e,#2d708e,#2d708e,#2b748e,#26818e,#24878e,#218f8d,#1f948c,#1f988b,#1e9c89,#1e9b8a,#1e9b8a,#1f9a8a,#1e9d89,#1f998a,#1f998a,#1f978b,#1f968b,#23888e)"></i><i style="background:linear-gradient(#46337f,#472d7b,#481f70,#482979,#46337f,#414287,#3c508b,#38588c,#34608d,#2f6c8e,#2c718e,#297a8e,#2b758e,#2e6f8e,#2f6c8e,#2e6f8e,#277f8e,#26828e,#238a8d,#218e8d,#218f8d,#20928c,#228d8d,#20928c,#20928c,#21918c,#218e8d,#228c8d,#238a8d,#24868e,#297a8e)"></i><i style="background:linear-gradient(#472d7b,#482979,#481a6c,#482071,#482878,#443a83,#3f4788,#3a538b,#355e8d,#2f6b8e,#2e6d8e,#2d708e,#30698e,#34618d,#355f8d,#33638d,#2e6e8e,#2b758e,#277e8e,#26828e,#26828e,#25848e,#277f8e,#26828e,#26828e,#297a8e,#29798e,#2b748e,#2d718e,#2d708e,#31678e)"></i><i style="background:linear-gradient(#482475,#482173,#481668,#481c6e,#482071,#453581,#3f4889,#3b528b,#365d8d,#31668e,#30698e,#31688e,#33628d,#39568c,#39568c,#365d8d,#34618d,#306a8e,#2d708e,#2c738e,#2b748e,#2b748e,#2b748e,#2c728e,#2e6e8e,#31688e,#31678e,#33628d,#365d8d,#355e8d,#375b8d)"></i><i style="background:linear-gradient(#482173,#481a6c,#471365,#481b6d,#482576,#443983,#3a548c,#355e8d,#31678e,#2f6b8e,#2d708e,#2c718e,#31688e,#365d8d,#365d8d,#33638d,#32658e,#2e6d8e,#2a768e,#2b758e,#2b758e,#2c718e,#2c718e,#2c728e,#2f6b8e,#2f6b8e,#2e6d8e,#30698e,#33628d,#32658e,#34618d)"></i><i style="background:linear-gradient(#46327e,#482677,#482071,#482878,#453781,#404688,#33628d,#2e6e8e,#2b758e,#29798e,#287d8e,#287d8e,#2b748e,#2e6e8e,#2d718e,#2a768e,#2a788e,#26828e,#228c8d,#23888e,#25838e,#297b8e,#2a768e,#287c8e,#297b8e,#27808e,#25838e,#277e8e,#29798e,#297a8e,#2c738e)"></i><i style="background:linear-gradient(#3c508b,#404588,#46307e,#423f85,#3a538b,#33628d,#297b8e,#228c8d,#20938c,#1f998a,#1f988b,#20938c,#218f8d,#21918c,#1f998a,#1fa287,#22a884,#29af7f,#2db27d,#27ad81,#20a486,#1e9c89,#1f968b,#1f9a8a,#1fa187,#21a685,#25ac82,#22a884,#22a884,#26ad81,#1fa188)"></i><i style="background:linear-gradient(#375b8d,#3d4d8a,#472a7a,#433e85,#375a8c,#2e6f8e,#25848e,#1f998a,#1e9b8a,#1fa088,#1e9d89,#1f998a,#1f978b,#1fa088,#2ab07f,#3fbc73,#42be71,#42be71,#3bbb75,#35b779,#28ae80,#25ab82,#24aa83,#23a983,#28ae80,#2cb17e,#38b977,#48c16e,#56c667,#65cb5e,#42be71)"></i><i style="background:linear-gradient(#31678e,#365c8d,#423f85,#3e4c8a,#32658e,#297b8e,#228b8d,#1f978b,#1e9b8a,#1f9e89,#1f9f88,#1fa088,#1fa088,#24aa83,#42be71,#5ac864,#54c568,#4ec36b,#42be71,#40bd72,#3aba76,#37b878,#34b679,#29af7f,#29af7f,#2eb37c,#46c06f,#67cc5c,#84d44b,#93d741,#58c765)"></i><i style="background:linear-gradient(#2a788e,#2d718e,#355f8d,#31668e,#2c738e,#27808e,#24878e,#228d8d,#1f958b,#1e9c89,#20a486,#24aa83,#26ad81,#32b67a,#58c765,#65cb5e,#65cb5e,#58c765,#50c46a,#58c765,#58c765,#4ec36b,#46c06f,#35b779,#37b878,#3dbc74,#52c569,#77d153,#a0da39,#addc30,#63cb5f)"></i><i style="background:linear-gradient(#23888e,#26828e,#2b748e,#297a8e,#25838e,#24878e,#24878e,#228c8d,#1f998a,#20a386,#29af7f,#31b57b,#34b679,#44bf70,#63cb5f,#70cf57,#7ad151,#6ccd5a,#77d153,#7fd34e,#77d153,#5ac864,#56c667,#5ac864,#5ac864,#67cc5c,#6ece58,#89d548,#a5db36,#b8de29,#7cd250)"></i><i style="background:linear-gradient(#2c728e,#2f6c8e,#355f8d,#32658e,#2c738e,#297a8e,#287c8e,#25848e,#20928c,#1fa187,#29af7f,#2fb47c,#32b67a,#3bbb75,#48c16e,#52c569,#67cc5c,#63cb5f,#6ece58,#73d056,#5ec962,#3fbc73,#3bbb75,#4ac16d,#4cc26c,#5ac864,#58c765,#5cc863,#69cd5b,#6ece58,#4cc26c)"></i><i style="background:linear-gradient(#38598c,#3c4f8a,#3f4788,#3d4d8a,#365d8d,#30698e,#2d718e,#297b8e,#25858e,#20928c,#1fa188,#22a785,#25ac82,#2db27d,#35b779,#35b779,#50c46a,#56c667,#5ac864,#60ca60,#50c46a,#37b878,#34b679,#3aba76,#35b779,#3aba76,#34b679,#35b779,#3fbc73,#37b878,#21a685)"></i><i style="background:linear-gradient(#3b518b,#404588,#424086,#404588,#3a538b,#34618d,#30698e,#2b748e,#2a768e,#2a788e,#25848e,#228b8d,#20928c,#1e9b8a,#1fa187,#1fa287,#28ae80,#2db27d,#2cb17e,#29af7f,#29af7f,#21a585,#21a585,#21a585,#1fa187,#1fa188,#1e9b8a,#1e9b8a,#21a585,#1fa287,#218e8d)"></i><i style="background:linear-gradient(#46327e,#472a7a,#482979,#472e7c,#443a83,#3d4e8a,#3a538b,#34608d,#355f8d,#355e8d,#32658e,#2f6b8e,#2c738e,#297b8e,#26828e,#24878e,#228d8d,#228d8d,#228c8d,#238a8d,#228b8d,#26818e,#25838e,#25838e,#24868e,#238a8d,#25858e,#25858e,#218e8d,#20928c,#25838e)"></i><i style="background:linear-gradient(#46337f,#453781,#443b84,#443a83,#414287,#3b528b,#38588c,#365c8d,#365c8d,#355e8d,#34618d,#306a8e,#2b748e,#2a768e,#26828e,#228b8d,#228d8d,#228d8d,#228b8d,#238a8d,#228c8d,#27808e,#26818e,#26828e,#23888e,#20928c,#1f968b,#1f9e89,#1fa187,#1f9f88,#20928c)"></i><i style="background:linear-gradient(#404588,#3c4f8a,#3a538b,#3b528b,#365d8d,#34608d,#33638d,#355e8d,#365c8d,#355e8d,#355e8d,#31678e,#2c728e,#2b748e,#26818e,#228b8d,#21918c,#1f958b,#1f968b,#1e9b8a,#1e9b8a,#218f8d,#228d8d,#228b8d,#228b8d,#1f958b,#1fa187,#25ac82,#28ae80,#1fa187,#21908d)"></i><i style="background:linear-gradient(#33628d,#32658e,#31668e,#2e6d8e,#2b758e,#2b758e,#2d718e,#2f6c8e,#31688e,#34608d,#355f8d,#33638d,#30698e,#2d708e,#297b8e,#25848e,#21908d,#1f968b,#1e9d89,#22a884,#22a884,#1f9f88,#1e9c89,#1f978b,#238a8d,#218f8d,#1f978b,#1fa088,#20a386,#1f948c,#27808e)"></i><i style="background:linear-gradient(#2f6c8e,#2e6d8e,#2f6b8e,#2a768e,#297b8e,#297a8e,#2b758e,#2c738e,#2b748e,#306a8e,#2f6c8e,#2d718e,#2c728e,#2a788e,#26828e,#23888e,#20938c,#1f958b,#1f9a8a,#21a685,#21a585,#1fa188,#1fa188,#1f9a8a,#23888e,#23898e,#228b8d,#228d8d,#218e8d,#23888e,#2a778e)"></i><i style="background:linear-gradient(#2e6d8e,#2f6c8e,#31688e,#2d708e,#2c718e,#2c718e,#2c718e,#2c728e,#297a8e,#2b758e,#2a788e,#26818e,#26828e,#26828e,#228b8d,#23888e,#228d8d,#228c8d,#218f8d,#1f968b,#1f998a,#1f998a,#1f978b,#20928c,#24868e,#228c8d,#228c8d,#228c8d,#238a8d,#228b8d,#277e8e)"></i><i style="background:linear-gradient(#355e8d,#38588c,#3d4d8a,#3c4f8a,#3c4f8a,#3a548c,#33628d,#33638d,#2e6f8e,#2e6d8e,#2f6c8e,#2b748e,#2a788e,#2a788e,#287d8e,#2a768e,#297a8e,#29798e,#297b8e,#277f8e,#24868e,#23888e,#26828e,#297a8e,#2c718e,#2c728e,#2c738e,#297a8e,#27808e,#25848e,#29798e)"></i><i style="background:linear-gradient(#3a538b,#3e4c8a,#443b84,#453781,#443b84,#3f4889,#355f8d,#34608d,#31688e,#31688e,#31678e,#2c718e,#2a788e,#2b748e,#297a8e,#2a778e,#287c8e,#287d8e,#297a8e,#2a778e,#287d8e,#26828e,#277e8e,#2b758e,#2e6d8e,#31678e,#31678e,#2b748e,#26828e,#228d8d,#26828e)"></i><i style="background:linear-gradient(#3d4d8a,#3e4989,#453882,#46327e,#443a83,#3e4989,#34618d,#33628d,#32648e,#32658e,#32658e,#2c718e,#297b8e,#2a768e,#287d8e,#277f8e,#26828e,#26828e,#277e8e,#2c738e,#2c738e,#297a8e,#287d8e,#29798e,#2e6f8e,#30698e,#31678e,#2f6c8e,#2b748e,#277f8e,#2a768e)"></i><i style="background:linear-gradient(#3e4a89,#3e4989,#443983,#443a83,#433e85,#3e4a89,#375a8c,#33628d,#34608d,#31668e,#2e6d8e,#2a788e,#277e8e,#2a778e,#2b748e,#2a768e,#287c8e,#277f8e,#287d8e,#2a778e,#2a768e,#297a8e,#277e8e,#287c8e,#2b748e,#2d708e,#2e6d8e,#32658e,#31668e,#30698e,#34608d)"></i><i style="background:linear-gradient(#3b518b,#3a538b,#3f4788,#3d4e8a,#3e4c8a,#3c508b,#38588c,#33638d,#31688e,#2b758e,#287d8e,#25848e,#25848e,#297a8e,#2b758e,#2a768e,#287c8e,#25838e,#23888e,#24878e,#23888e,#23888e,#23888e,#26828e,#297b8e,#29798e,#2a768e,#2e6e8e,#30698e,#34618d,#39568c)"></i><i style="background:linear-gradient(#30698e,#2e6f8e,#31688e,#2f6b8e,#30698e,#306a8e,#2d718e,#2a768e,#277f8e,#228b8d,#21908d,#1f948c,#20928c,#218e8d,#21908d,#20928c,#1f968b,#1e9c89,#1fa187,#1fa187,#20a486,#1fa188,#1f9f88,#1f998a,#20928c,#21918c,#228b8d,#25858e,#25838e,#297a8e,#2f6b8e)"></i><i style="background:linear-gradient(#297b8e,#27808e,#2a778e,#2a768e,#2a788e,#287d8e,#277f8e,#277f8e,#25858e,#228d8d,#20928c,#1f958b,#1f958b,#1e9d89,#1fa187,#20a386,#20a486,#22a785,#25ac82,#25ab82,#23a983,#1fa287,#1f9e89,#1e9d89,#1f988b,#1f958b,#21908d,#21908d,#20928c,#218f8d,#26818e)"></i><i style="background:linear-gradient(#238a8d,#228b8d,#277f8e,#297b8e,#27808e,#25858e,#26818e,#297a8e,#297a8e,#26828e,#24878e,#21918c,#1f978b,#20a486,#21a585,#23a983,#26ad81,#27ad81,#31b57b,#31b57b,#2db27d,#22a884,#1fa088,#1f9f88,#1e9d89,#1f998a,#1f958b,#1e9c89,#20a386,#21a585,#1f978b)"></i><i style="background:linear-gradient(#24878e,#24878e,#287c8e,#29798e,#26828e,#24878e,#26828e,#2a778e,#2e6e8e,#2c728e,#297a8e,#23898e,#21918c,#1fa187,#1fa287,#22a884,#25ac82,#25ab82,#29af7f,#2eb37c,#2cb17e,#21a585,#1e9b8a,#1f998a,#1f9a8a,#1f998a,#1f9a8a,#20a386,#29af7f,#2eb37c,#21a585)"></i><i style="background:linear-gradient(#2e6f8e,#2d708e,#306a8e,#31678e,#2e6f8e,#2a768e,#2c738e,#2f6c8e,#30698e,#31678e,#2c728e,#25838e,#21908d,#1fa088,#21a585,#25ab82,#24aa83,#21a585,#22a884,#28ae80,#25ab82,#1fa188,#1f988b,#20938c,#21918c,#1f948c,#1f9a8a,#21a585,#2fb47c,#35b779,#23a983)"></i><i style="background:linear-gradient(#39558c,#3b528b,#3d4d8a,#3e4c8a,#3b518b,#39558c,#38598c,#375a8c,#34608d,#32648e,#2a768e,#24868e,#1f948c,#1fa187,#23a983,#27ad81,#22a884,#1fa188,#1fa088,#20a486,#1fa188,#1f9a8a,#20928c,#218f8d,#228d8d,#218f8d,#1f998a,#23a983,#32b67a,#37b878,#24aa83)"></i><i style="background:linear-gradient(#3c508b,#3d4d8a,#414287,#414287,#3e4a89,#3d4d8a,#3b518b,#3a548c,#355e8d,#30698e,#297b8e,#23888e,#20938c,#1fa287,#26ad81,#2ab07f,#24aa83,#1fa188,#1e9b8a,#1f988b,#20928c,#218e8d,#23898e,#228c8d,#20928c,#20938c,#1fa188,#2ab07f,#3dbc74,#44bf70,#2db27d)"></i><i style="background:linear-gradient(#3c508b,#3a538b,#404688,#404688,#3b518b,#39568c,#375b8d,#375a8c,#33628d,#2e6f8e,#29798e,#24868e,#218e8d,#1f9e89,#21a685,#25ab82,#21a585,#1f9f88,#1f9a8a,#20938c,#24878e,#24868e,#25838e,#238a8d,#1f948c,#1f998a,#1fa287,#29af7f,#37b878,#42be71,#2db27d)"></i><i style="background:linear-gradient(#3a548c,#38598c,#3d4d8a,#3d4d8a,#38588c,#355e8d,#33638d,#355f8d,#33638d,#2e6f8e,#2b748e,#26828e,#228b8d,#1f958b,#1e9c89,#1fa088,#1f9f88,#1e9d89,#1e9b8a,#1f988b,#23888e,#25848e,#25838e,#238a8d,#20938c,#1f968b,#1e9c89,#21a685,#27ad81,#2eb37c,#21a685)"></i><i style="background:linear-gradient(#375a8c,#365c8d,#3b518b,#3a538b,#365c8d,#30698e,#2e6f8e,#2e6d8e,#2f6c8e,#2c738e,#297a8e,#24868e,#21918c,#1f948c,#1f988b,#1e9c89,#1e9b8a,#1f958b,#20938c,#21918c,#25848e,#26828e,#26828e,#25858e,#228b8d,#228d8d,#228d8d,#1f948c,#1e9d89,#20a486,#1f988b)"></i><i style="background:linear-gradient(#375b8d,#375a8c,#3e4989,#3f4788,#3d4d8a,#39568c,#355e8d,#355f8d,#33628d,#31678e,#2d708e,#2a788e,#277e8e,#26818e,#277f8e,#287c8e,#297b8e,#2c718e,#2d708e,#2d708e,#2f6b8e,#2f6b8e,#2e6e8e,#2b758e,#2a788e,#297b8e,#2a768e,#297a8e,#26828e,#228b8d,#25838e)"></i><i style="background:linear-gradient(#355e8d,#375a8c,#3e4c8a,#3f4788,#404588,#3f4889,#3d4d8a,#3d4e8a,#365c8d,#34618d,#2e6d8e,#2d708e,#2c728e,#2b758e,#2d718e,#2e6e8e,#2e6d8e,#31678e,#32658e,#31668e,#32648e,#33628d,#30698e,#2b748e,#2b748e,#297b8e,#29798e,#297a8e,#287d8e,#24878e,#25838e)"></i><i style="background:linear-gradient(#2d718e,#306a8e,#32658e,#34618d,#375b8d,#39568c,#39558c,#39568c,#32648e,#2f6b8e,#2a768e,#2b758e,#2a788e,#26818e,#277f8e,#27808e,#27808e,#277e8e,#277f8e,#287c8e,#2a788e,#2c738e,#2a778e,#27808e,#26828e,#228c8d,#228c8d,#21918c,#1f988b,#1fa088,#1e9c89)"></i><i style="background:linear-gradient(#31688e,#33638d,#355e8d,#38598c,#3b518b,#3f4889,#414487,#3f4889,#3c508b,#38598c,#32658e,#30698e,#2e6f8e,#297a8e,#277f8e,#26828e,#24868e,#25858e,#23888e,#25838e,#26818e,#287d8e,#297b8e,#277e8e,#277f8e,#228c8d,#21918c,#1f9a8a,#21a685,#25ac82,#20a386)"></i><i style="background:linear-gradient(#306a8e,#31668e,#34608d,#355f8d,#38588c,#3b518b,#3c508b,#38588c,#39568c,#355e8d,#31668e,#2e6e8e,#2e6e8e,#2b748e,#2a788e,#287d8e,#25848e,#24868e,#23898e,#24878e,#23888e,#24868e,#25858e,#24878e,#25838e,#228d8d,#1f948c,#1fa188,#24aa83,#24aa83,#1f9f88)"></i><i style="background:linear-gradient(#30698e,#33628d,#355e8d,#365c8d,#365c8d,#375b8d,#355e8d,#31668e,#31668e,#2e6d8e,#2e6d8e,#2b748e,#2c718e,#2c718e,#2b748e,#2b758e,#27808e,#26828e,#25838e,#24878e,#228b8d,#238a8d,#23898e,#228c8d,#23898e,#21918c,#1f948c,#1f9f88,#22a785,#22a785,#1e9b8a)"></i><i style="background:linear-gradient(#2c728e,#31688e,#355e8d,#38598c,#365c8d,#375a8c,#33628d,#2e6e8e,#2d718e,#2b748e,#2c718e,#2a778e,#2b758e,#2b758e,#29798e,#297a8e,#26818e,#26828e,#26828e,#228d8d,#1f948c,#21918c,#20928c,#20928c,#20928c,#1f978b,#1f9a8a,#1fa088,#22a785,#25ab82,#1e9d89)"></i><i style="background:linear-gradient(#287c8e,#2d718e,#365d8d,#39568c,#3b528b,#3c4f8a,#39568c,#33638d,#31678e,#30698e,#31668e,#2f6c8e,#31678e,#306a8e,#2f6c8e,#2c728e,#2a768e,#287d8e,#277e8e,#26828e,#238a8d,#24868e,#24868e,#25848e,#26828e,#25858e,#24878e,#228c8d,#218f8d,#20928c,#24868e)"></i><i style="background:linear-gradient(#2a768e,#2e6d8e,#375a8c,#38588c,#3a538b,#3a538b,#38588c,#33638d,#31688e,#2e6d8e,#2e6e8e,#2c728e,#306a8e,#2f6b8e,#30698e,#2d708e,#2d718e,#2a768e,#297a8e,#29798e,#277e8e,#287c8e,#29798e,#29798e,#2b748e,#2a788e,#2a788e,#297b8e,#297a8e,#287d8e,#2e6f8e)"></i><i style="background:linear-gradient(#32648e,#355e8d,#3b528b,#38588c,#39558c,#365c8d,#34618d,#31678e,#31688e,#2e6f8e,#2c718e,#2c718e,#2f6c8e,#32648e,#33628d,#31678e,#33638d,#33628d,#32658e,#30698e,#2e6d8e,#2f6c8e,#306a8e,#2e6f8e,#306a8e,#2e6d8e,#2e6d8e,#2f6c8e,#2e6d8e,#2e6e8e,#355f8d)"></i><i style="background:linear-gradient(#33628d,#355e8d,#39558c,#365d8d,#365c8d,#33638d,#306a8e,#2e6d8e,#2e6f8e,#2b748e,#2b748e,#2e6e8e,#32648e,#38588c,#38598c,#375b8d,#375b8d,#375a8c,#39558c,#375b8d,#34608d,#355f8d,#32648e,#2e6e8e,#2e6d8e,#2f6c8e,#2f6b8e,#31688e,#306a8e,#306a8e,#355f8d)"></i><i style="background:linear-gradient(#31688e,#31678e,#38598c,#365d8d,#365d8d,#355f8d,#32648e,#31668e,#306a8e,#2b748e,#2c738e,#2f6b8e,#355e8d,#3a538b,#38588c,#3a538b,#38588c,#375a8c,#3b518b,#3b528b,#38588c,#3a538b,#355e8d,#306a8e,#2f6c8e,#31678e,#31678e,#30698e,#31668e,#31668e,#355f8d)"></i><i style="background:linear-gradient(#33638d,#31668e,#3c508b,#39558c,#39558c,#39558c,#38598c,#39568c,#38588c,#33628d,#33638d,#375a8c,#3b528b,#3c4f8a,#375a8c,#3a548c,#38588c,#3a538b,#3d4e8a,#3c4f8a,#3a538b,#3b528b,#375b8d,#31688e,#2f6c8e,#31668e,#33638d,#31668e,#33628d,#33638d,#365c8d)"></i><i style="background:linear-gradient(#2d718e,#2c718e,#34608d,#32648e,#32658e,#32648e,#32648e,#355e8d,#39568c,#365d8d,#34608d,#365c8d,#34618d,#33628d,#2d708e,#2c718e,#2d708e,#30698e,#31668e,#31668e,#2e6d8e,#2e6d8e,#2d708e,#297b8e,#297b8e,#29798e,#2c738e,#2c738e,#2d718e,#2d718e,#31688e)"></i><i style="background:linear-gradient(#23888e,#26828e,#2a768e,#2b758e,#2c728e,#2c738e,#2a768e,#2c738e,#2f6c8e,#2f6c8e,#2d718e,#2c718e,#297b8e,#26818e,#23888e,#21918c,#228c8d,#24878e,#25848e,#26828e,#23898e,#228c8d,#228c8d,#1f978b,#1f988b,#1e9c89,#1f958b,#1f958b,#1f978b,#1f948c,#23888e)"></i><i style="background:linear-gradient(#1f988b,#20928c,#228b8d,#238a8d,#26828e,#24868e,#23888e,#228d8d,#23888e,#24878e,#23898e,#238a8d,#20928c,#1f978b,#1e9c89,#1fa088,#1e9c89,#1e9d89,#1f998a,#1f998a,#1e9c89,#1fa187,#20a386,#21a685,#21a685,#24aa83,#20a486,#22a785,#28ae80,#25ac82,#1f998a)"></i><i style="background:linear-gradient(#26828e,#26828e,#277f8e,#277e8e,#297a8e,#26818e,#26828e,#238a8d,#23888e,#25858e,#26828e,#24868e,#228c8d,#21908d,#1f968b,#20938c,#20928c,#1f978b,#1f998a,#1f9e89,#1fa188,#22a884,#2ab07f,#29af7f,#25ac82,#24aa83,#20a486,#25ab82,#2fb47c,#2cb17e,#1f9f88)"></i><i style="background:linear-gradient(#287d8e,#287d8e,#287c8e,#2a788e,#29798e,#277f8e,#26818e,#25848e,#25848e,#27808e,#297b8e,#26828e,#25858e,#218e8d,#20928c,#218f8d,#228c8d,#21918c,#1f998a,#1fa088,#1fa187,#22a884,#2eb37c,#27ad81,#22a884,#1fa188,#1f9a8a,#1fa287,#26ad81,#23a983,#1f968b)"></i><i style="background:linear-gradient(#287c8e,#29798e,#2c738e,#2d708e,#2c728e,#2a778e,#29798e,#29798e,#2a778e,#2a768e,#2c738e,#297b8e,#287d8e,#24868e,#23888e,#228b8d,#25848e,#25838e,#20928c,#1f968b,#1f948c,#1f9e89,#1f9f88,#1f978b,#20928c,#238a8d,#25838e,#23898e,#20928c,#228b8d,#297a8e)"></i><i style="background:linear-gradient(#2e6e8e,#31678e,#39558c,#3c4f8a,#3b528b,#3a548c,#365d8d,#34618d,#34608d,#355e8d,#355f8d,#30698e,#2f6b8e,#2c738e,#2c728e,#2b758e,#2e6d8e,#306a8e,#2a788e,#297b8e,#297a8e,#27808e,#29798e,#2b748e,#2e6d8e,#31678e,#32658e,#306a8e,#2e6e8e,#31688e,#365c8d)"></i><i style="background:linear-gradient(#306a8e,#365d8d,#414287,#443983,#433d84,#423f85,#3e4a89,#39558c,#39568c,#3a538b,#3a548c,#33628d,#32658e,#306a8e,#2e6d8e,#2d718e,#30698e,#31678e,#2b758e,#29798e,#297a8e,#287d8e,#2b758e,#2e6e8e,#31668e,#32648e,#33628d,#31668e,#2f6b8e,#33628d,#375a8c)"></i><i style="background:linear-gradient(#30698e,#365c8d,#433e85,#453781,#443a83,#423f85,#3e4a89,#3a548c,#365d8d,#375a8c,#375a8c,#31688e,#31688e,#306a8e,#2d718e,#2b748e,#2c718e,#2c728e,#277e8e,#24878e,#238a8d,#228d8d,#24878e,#297a8e,#2a768e,#297a8e,#297a8e,#297a8e,#277f8e,#2a788e,#2d708e)"></i><i style="background:linear-gradient(#34608d,#38588c,#433e85,#453882,#463480,#423f85,#3e4c8a,#3a538b,#355e8d,#34608d,#365d8d,#31688e,#31678e,#30698e,#2d708e,#2b748e,#2a788e,#287d8e,#25858e,#218e8d,#21908d,#20928c,#238a8d,#277e8e,#297a8e,#277e8e,#25848e,#25848e,#228b8d,#228d8d,#26818e)"></i><i style="background:linear-gradient(#39558c,#3c4f8a,#433d84,#463480,#482979,#443b84,#3f4788,#3b528b,#365d8d,#33638d,#34618d,#31668e,#31668e,#31668e,#2e6f8e,#2b758e,#277f8e,#25858e,#24878e,#23898e,#23898e,#238a8d,#27808e,#297a8e,#2a778e,#297a8e,#27808e,#26828e,#228c8d,#20938c,#26818e)"></i><i style="background:linear-gradient(#3f4889,#414287,#46307e,#482677,#481f70,#463480,#414487,#3c4f8a,#375a8c,#31668e,#31688e,#2f6b8e,#2f6c8e,#30698e,#2e6d8e,#2c728e,#277f8e,#26828e,#287d8e,#287c8e,#287c8e,#27808e,#297a8e,#2b758e,#2d708e,#2c728e,#2b758e,#2a788e,#25838e,#228b8d,#2a768e)"></i><i style="background:linear-gradient(#433d84,#443983,#482677,#481b6d,#481a6c,#46327e,#414487,#3c508b,#365c8d,#31668e,#2d708e,#2a768e,#2b748e,#2d708e,#2e6e8e,#2c728e,#297b8e,#297a8e,#2c728e,#2b748e,#2b758e,#297a8e,#297a8e,#2d708e,#32658e,#34618d,#34618d,#31668e,#2c738e,#287c8e,#2e6d8e)"></i><i style="background:linear-gradient(#472e7c,#482878,#48186a,#471063,#481a6c,#472d7b,#424086,#3d4e8a,#365c8d,#32648e,#2e6f8e,#2b748e,#2c728e,#2c718e,#2b748e,#297a8e,#26818e,#27808e,#297a8e,#277f8e,#277f8e,#25858e,#24868e,#2a778e,#2f6b8e,#32648e,#31668e,#2e6f8e,#297a8e,#287d8e,#2d718e)"></i><i style="background:linear-gradient(#463480,#482677,#481769,#460a5d,#481d6f,#472d7b,#423f85,#3e4c8a,#375a8c,#34618d,#31678e,#31688e,#30698e,#306a8e,#2c728e,#287d8e,#24878e,#23888e,#23898e,#218f8d,#20938c,#1e9b8a,#1f988b,#23888e,#277e8e,#297a8e,#287c8e,#25838e,#21908d,#218e8d,#287d8e)"></i><i style="background:linear-gradient(#3e4989,#453882,#482576,#482071,#472c7a,#424086,#3a538b,#355f8d,#31688e,#2e6f8e,#2c728e,#2b748e,#2a768e,#2b748e,#297a8e,#23898e,#1f968b,#1e9c89,#1fa088,#21a685,#22a785,#25ab82,#21a585,#1f988b,#228d8d,#228b8d,#228d8d,#20938c,#1fa088,#1e9c89,#23888e)"></i><i style="background:linear-gradient(#39558c,#3f4788,#443983,#453781,#463480,#3e4c8a,#33638d,#2e6e8e,#2b748e,#2a788e,#297b8e,#277f8e,#24868e,#26828e,#25848e,#20928c,#1f9e89,#21a585,#28ae80,#2db27d,#2ab07f,#2db27d,#29af7f,#22a884,#1e9b8a,#1f978b,#1f988b,#1f9f88,#1fa287,#1fa187,#218f8d)"></i><i style="background:linear-gradient(#355e8d,#39558c,#3c4f8a,#3c4f8a,#3d4d8a,#365c8d,#2e6e8e,#2b748e,#29798e,#2b758e,#2b758e,#2a778e,#27808e,#27808e,#25848e,#20928c,#1fa287,#26ad81,#34b679,#38b977,#3bbb75,#3dbc74,#3dbc74,#38b977,#25ac82,#20a486,#1f9f88,#1fa287,#1fa088,#1f9e89,#228c8d)"></i><i style="background:linear-gradient(#3a548c,#3d4d8a,#404688,#3e4a89,#3d4e8a,#39568c,#31688e,#2e6f8e,#2a778e,#2d708e,#2d708e,#2e6e8e,#2e6e8e,#2c718e,#287d8e,#23898e,#1e9b8a,#21a585,#24aa83,#24aa83,#24aa83,#26ad81,#28ae80,#27ad81,#23a983,#21a685,#1e9b8a,#1f9e89,#1f9f88,#1f988b,#24868e)"></i><i style="background:linear-gradient(#3a548c,#3c4f8a,#3e4989,#3c4f8a,#39568c,#34618d,#2c738e,#2a778e,#26818e,#297a8e,#29798e,#2a768e,#2c718e,#2a788e,#26828e,#238a8d,#1f978b,#20a386,#21a685,#21a585,#1fa187,#24aa83,#27ad81,#27ad81,#2ab07f,#27ad81,#1fa187,#1f9e89,#1e9d89,#20938c,#27808e)"></i><i style="background:linear-gradient(#2d708e,#2e6e8e,#2f6c8e,#2e6f8e,#2a788e,#25848e,#1f958b,#1e9b8a,#1f9f88,#1f998a,#1f958b,#21918c,#23888e,#228d8d,#20928c,#1f988b,#22a884,#2db27d,#35b779,#32b67a,#2cb17e,#32b67a,#38b977,#3aba76,#42be71,#3dbc74,#31b57b,#25ab82,#20a486,#1f988b,#26828e)"></i><i style="background:linear-gradient(#27808e,#287d8e,#287c8e,#287d8e,#25848e,#20938c,#1fa287,#25ab82,#21a585,#1f9f88,#1f998a,#21908d,#23888e,#23898e,#21908d,#20928c,#1fa188,#22a785,#26ad81,#22a884,#21a685,#1fa187,#21a585,#21a585,#25ab82,#24aa83,#22a785,#20a386,#1f998a,#238a8d,#29798e)"></i><i style="background:linear-gradient(#2f6c8e,#31688e,#32658e,#33638d,#31688e,#2c738e,#26818e,#24878e,#26828e,#277f8e,#297a8e,#2d708e,#2e6f8e,#2e6e8e,#2b748e,#2a788e,#26828e,#26828e,#25858e,#26828e,#26818e,#287d8e,#277f8e,#287c8e,#287d8e,#29798e,#2a788e,#29798e,#2b748e,#31688e,#355f8d)"></i><i style="background:linear-gradient(#31678e,#33628d,#39568c,#39558c,#365c8d,#33628d,#2f6b8e,#2e6e8e,#2c718e,#2c718e,#2e6d8e,#306a8e,#2f6c8e,#30698e,#2e6e8e,#2b748e,#2a778e,#2a768e,#2b748e,#2c738e,#2b748e,#2b758e,#2b758e,#2c728e,#2c738e,#2c718e,#2e6f8e,#31688e,#31668e,#365d8d,#3c508b)"></i><i style="background:linear-gradient(#34618d,#355f8d,#3d4e8a,#3e4c8a,#3c508b,#3b528b,#365d8d,#32658e,#2e6d8e,#306a8e,#30698e,#31668e,#32648e,#31668e,#2f6b8e,#2c718e,#2c728e,#2c718e,#2f6c8e,#2e6e8e,#2d708e,#2c718e,#2d718e,#2d708e,#2e6e8e,#2e6d8e,#2e6f8e,#31678e,#31688e,#355f8d,#3a548c)"></i><i style="background:linear-gradient(#365d8d,#365d8d,#3d4d8a,#404588,#414487,#424186,#3a548c,#32658e,#2f6b8e,#31668e,#31678e,#355e8d,#39558c,#375a8c,#32648e,#2f6b8e,#2f6c8e,#2f6c8e,#31668e,#31688e,#31678e,#2f6b8e,#2f6b8e,#31688e,#2f6b8e,#306a8e,#306a8e,#306a8e,#30698e,#33628d,#365d8d)"></i><i style="background:linear-gradient(#2f6b8e,#30698e,#39568c,#3e4c8a,#404588,#404588,#375a8c,#2e6e8e,#2b748e,#2c718e,#2c738e,#31678e,#355e8d,#34608d,#2f6b8e,#2e6f8e,#2d708e,#2d718e,#2c738e,#2b758e,#2b758e,#287d8e,#297b8e,#2b748e,#29798e,#2a788e,#2c728e,#2d708e,#2e6d8e,#2f6b8e,#33638d)"></i><i style="background:linear-gradient(#277f8e,#2a788e,#306a8e,#34608d,#38588c,#34618d,#2b748e,#25838e,#228c8d,#228d8d,#218e8d,#287d8e,#2a768e,#2a788e,#277f8e,#25848e,#238a8d,#21918c,#1f998a,#1f9f88,#20a386,#22a785,#21a585,#1fa188,#1e9d89,#1e9b8a,#20938c,#218e8d,#238a8d,#23888e,#297b8e)"></i><i style="background:linear-gradient(#2d708e,#30698e,#34618d,#365c8d,#3a548c,#32648e,#2c738e,#277e8e,#24868e,#24878e,#25858e,#2a788e,#2a768e,#297b8e,#277f8e,#238a8d,#20938c,#1f9e89,#23a983,#2ab07f,#31b57b,#2eb37c,#2eb37c,#28ae80,#23a983,#23a983,#20a486,#1f9f88,#1e9c89,#1f998a,#228c8d)"></i><i style="background:linear-gradient(#375b8d,#39558c,#39568c,#365d8d,#365d8d,#30698e,#2e6d8e,#2c718e,#29798e,#297a8e,#29798e,#2c738e,#2a768e,#287c8e,#277f8e,#218e8d,#1f968b,#1fa088,#25ac82,#31b57b,#34b679,#2fb47c,#31b57b,#2db27d,#29af7f,#29af7f,#24aa83,#21a585,#1fa287,#20a486,#1f958b)"></i><i style="background:linear-gradient(#3b518b,#3c4f8a,#3a538b,#365d8d,#355f8d,#31678e,#31668e,#306a8e,#2d708e,#2e6d8e,#2e6e8e,#306a8e,#2e6e8e,#2c728e,#297b8e,#25858e,#228d8d,#20928c,#1e9d89,#21a685,#21a685,#22a785,#21a585,#20a386,#20a386,#1fa187,#1e9c89,#1f9a8a,#1f998a,#1f9a8a,#23888e)"></i><i style="background:linear-gradient(#38588c,#375a8c,#365c8d,#34608d,#32648e,#2e6e8e,#2d708e,#2c728e,#2c738e,#31688e,#33628d,#355e8d,#31668e,#2d708e,#287d8e,#25838e,#25838e,#25848e,#23888e,#1f958b,#1e9b8a,#1fa188,#1e9d89,#1f988b,#1f988b,#1e9c89,#1f988b,#1f948c,#21918c,#218f8d,#287d8e)"></i><i style="background:linear-gradient(#34618d,#32658e,#33638d,#32648e,#2e6d8e,#297b8e,#26828e,#25838e,#287d8e,#2d718e,#32648e,#32648e,#2c718e,#297b8e,#25858e,#238a8d,#24878e,#25838e,#26828e,#21918c,#1f9a8a,#1fa188,#1f9f88,#1f958b,#1f958b,#1f9e89,#1e9b8a,#1f968b,#21918c,#228c8d,#287d8e)"></i><i style="background:linear-gradient(#31688e,#2f6b8e,#31668e,#2f6b8e,#2a778e,#25858e,#24868e,#24868e,#297b8e,#2b748e,#30698e,#2e6f8e,#297b8e,#26818e,#26828e,#238a8d,#238a8d,#25838e,#277f8e,#228b8d,#1f968b,#1f9e89,#1fa088,#1f968b,#1f988b,#1fa187,#1f988b,#1f958b,#20938c,#228d8d,#277e8e)"></i><i style="background:linear-gradient(#2a778e,#297a8e,#2b758e,#26828e,#228c8d,#1f978b,#1f958b,#1f958b,#228d8d,#238a8d,#25838e,#24868e,#228d8d,#218e8d,#228b8d,#20928c,#21908d,#23888e,#25848e,#228c8d,#1f988b,#1fa088,#20a486,#1f9f88,#1fa287,#26ad81,#1fa188,#1e9d89,#1f9f88,#1f948c,#26828e)"></i><i style="background:linear-gradient(#25838e,#26818e,#26828e,#21908d,#1f998a,#1fa088,#1e9c89,#1e9c89,#1e9c89,#1f988b,#1f968b,#1f948c,#20938c,#21908d,#218f8d,#20928c,#21908d,#228d8d,#238a8d,#228b8d,#20928c,#1e9c89,#20a486,#20a486,#25ab82,#2fb47c,#27ad81,#25ac82,#2ab07f,#22a884,#21908d)"></i><i style="background:linear-gradient(#2c738e,#2e6e8e,#2e6e8e,#2b758e,#287d8e,#26828e,#27808e,#26828e,#23888e,#24868e,#238a8d,#228b8d,#24878e,#26818e,#25838e,#25848e,#26828e,#25858e,#25848e,#26828e,#24868e,#218f8d,#1f988b,#1e9d89,#22a785,#29af7f,#2eb37c,#2eb37c,#42be71,#38b977,#1fa188)"></i><i style="background:linear-gradient(#277e8e,#297a8e,#2b748e,#29798e,#287d8e,#26818e,#26818e,#24868e,#218e8d,#228b8d,#21908d,#228c8d,#25838e,#287c8e,#26818e,#238a8d,#228b8d,#218f8d,#20938c,#1f968b,#1f9a8a,#20a386,#25ab82,#27ad81,#32b67a,#3fbc73,#50c46a,#58c765,#67cc5c,#52c569,#2eb37c)"></i><i style="background:linear-gradient(#277f8e,#297b8e,#2b758e,#297a8e,#287c8e,#26828e,#24878e,#228b8d,#20928c,#218f8d,#21908d,#24868e,#287c8e,#297a8e,#287c8e,#27808e,#27808e,#26828e,#24868e,#228c8d,#1f948c,#1fa187,#22a785,#22a884,#24aa83,#29af7f,#3aba76,#46c06f,#48c16e,#35b779,#22a785)"></i><i style="background:linear-gradient(#287c8e,#2a778e,#2c738e,#2a768e,#2b758e,#2a778e,#287c8e,#287c8e,#26828e,#26818e,#26828e,#287c8e,#2a768e,#2a778e,#2a768e,#2d708e,#2c718e,#2b748e,#2c718e,#2b758e,#277e8e,#228b8d,#20928c,#21918c,#20928c,#20938c,#1e9d89,#1fa187,#1fa187,#1e9c89,#218f8d)"></i><i style="background:linear-gradient(#32648e,#32648e,#34608d,#365c8d,#375b8d,#38588c,#3a548c,#3a548c,#39568c,#39558c,#375a8c,#365c8d,#355f8d,#355e8d,#38598c,#3c508b,#3c4f8a,#3a538b,#3c508b,#3b518b,#39568c,#355e8d,#31668e,#30698e,#2f6c8e,#306a8e,#2f6b8e,#30698e,#31668e,#32648e,#355e8d)"></i><i style="background:linear-gradient(#375a8c,#375b8d,#3a538b,#3d4e8a,#3c4f8a,#3c4f8a,#3e4c8a,#3e4c8a,#3e4c8a,#3e4c8a,#3c4f8a,#3a538b,#39568c,#38588c,#3a548c,#3c508b,#3e4c8a,#3e4a89,#3f4889,#3e4989,#3d4e8a,#3c508b,#3a548c,#375a8c,#365c8d,#38598c,#39568c,#3a548c,#3a538b,#3a538b,#3b528b)"></i><i style="background:linear-gradient(#39568c,#38588c,#3c508b,#3e4989,#3e4a89,#3d4d8a,#3d4e8a,#3d4d8a,#3e4c8a,#3d4e8a,#3b518b,#3a548c,#38588c,#38598c,#38588c,#3b528b,#3d4e8a,#3e4c8a,#3f4788,#3f4889,#3d4d8a,#3d4e8a,#3c508b,#39558c,#39568c,#3a538b,#3b518b,#3b518b,#3c508b,#3b528b,#3a548c)"></i><i style="background:linear-gradient(#39558c,#38588c,#3b518b,#3f4788,#3f4889,#3d4e8a,#3c4f8a,#3e4c8a,#3e4a89,#3d4d8a,#3c508b,#3a538b,#3a548c,#39568c,#39558c,#3c508b,#3c4f8a,#3d4e8a,#3f4788,#404688,#3e4a89,#3d4e8a,#3b528b,#39558c,#3a548c,#3c508b,#3c4f8a,#3c508b,#3d4e8a,#3c4f8a,#3b528b)"></i><i style="background:linear-gradient(#38588c,#38598c,#3b528b,#3e4989,#3f4889,#3d4d8a,#3c508b,#3c4f8a,#3d4d8a,#3e4a89,#3d4d8a,#3c4f8a,#3b518b,#3a548c,#3b528b,#3d4e8a,#3c4f8a,#3d4e8a,#3f4889,#3f4788,#3e4989,#3d4d8a,#3c508b,#3b528b,#3c508b,#3d4e8a,#3c4f8a,#3c508b,#3c508b,#3b518b,#3a538b)"></i><i style="background:linear-gradient(#39568c,#38588c,#3b518b,#3e4c8a,#3e4989,#3e4a89,#3e4c8a,#3d4d8a,#3e4989,#3f4889,#3e4989,#3d4d8a,#3b528b,#39558c,#3b528b,#3c4f8a,#3d4e8a,#3d4d8a,#3e4a89,#3e4c8a,#3d4d8a,#3c4f8a,#3c508b,#3c4f8a,#3d4e8a,#3d4e8a,#3c508b,#3b518b,#3b518b,#3b528b,#3a538b)"></i><i style="background:linear-gradient(#39568c,#38598c,#3a538b,#3d4d8a,#3e4a89,#3e4989,#3f4788,#404688,#404688,#404688,#3f4889,#3c4f8a,#39558c,#38588c,#39568c,#3a538b,#3c4f8a,#3d4d8a,#3d4d8a,#3c508b,#3b528b,#3a538b,#3b528b,#3c4f8a,#3c4f8a,#3c4f8a,#3c4f8a,#3c4f8a,#3d4d8a,#3e4c8a,#3d4d8a)"></i><i style="background:linear-gradient(#365d8d,#365d8d,#39558c,#3b518b,#3b518b,#3d4e8a,#3e4989,#3f4788,#404688,#404688,#3f4889,#3c4f8a,#39568c,#365c8d,#375b8d,#38598c,#3b528b,#3d4e8a,#3c4f8a,#3b518b,#3b528b,#3a538b,#3c508b,#3d4e8a,#3d4e8a,#3d4e8a,#3d4d8a,#3d4e8a,#3e4a89,#3f4889,#3f4788)"></i><i style="background:linear-gradient(#34618d,#355f8d,#39568c,#39568c,#38588c,#3c4f8a,#3e4989,#3e4a89,#3e4989,#414287,#404588,#3e4c8a,#39568c,#33638d,#33628d,#365d8d,#39558c,#3c4f8a,#3c508b,#3c508b,#3c4f8a,#3c4f8a,#3e4c8a,#3e4989,#3e4c8a,#3d4d8a,#3d4d8a,#3d4d8a,#3e4a89,#3f4788,#404688)"></i><i style="background:linear-gradient(#32658e,#33628d,#38588c,#38588c,#365c8d,#3d4d8a,#404588,#3d4d8a,#3d4e8a,#424186,#414487,#3e4c8a,#38588c,#31688e,#31688e,#355f8d,#38598c,#3b528b,#3c508b,#3c4f8a,#3d4e8a,#3d4e8a,#3e4c8a,#3f4889,#3f4889,#3e4989,#3e4a89,#3e4c8a,#3f4889,#404688,#404588)"></i><i style="background:linear-gradient(#32648e,#32648e,#375a8c,#375b8d,#355e8d,#3c4f8a,#3f4889,#3c508b,#3b518b,#414487,#404588,#3d4d8a,#39568c,#30698e,#306a8e,#355f8d,#375a8c,#39558c,#3b518b,#3c4f8a,#3e4c8a,#3e4c8a,#3e4a89,#3f4788,#404688,#3f4788,#3e4a89,#3e4a89,#3f4889,#404688,#404588)"></i><i style="background:linear-gradient(#34608d,#33628d,#365c8d,#355f8d,#34618d,#3b528b,#3d4e8a,#3b528b,#3b518b,#3f4788,#3f4788,#3e4c8a,#39558c,#31668e,#31688e,#355f8d,#38598c,#3a538b,#3c508b,#3c4f8a,#3e4c8a,#3f4889,#3f4788,#404688,#404588,#3f4788,#3e4a89,#3e4c8a,#3e4c8a,#3e4a89,#3e4a89)"></i><i style="background:linear-gradient(#365d8d,#355e8d,#375a8c,#365c8d,#375b8d,#3b518b,#3d4d8a,#3c4f8a,#3c4f8a,#3e4989,#3e4989,#3d4e8a,#39558c,#34608d,#34618d,#365c8d,#39558c,#3c508b,#3c508b,#3b528b,#3c4f8a,#3e4989,#3f4788,#3f4788,#3f4788,#3f4788,#3e4989,#3e4a89,#3e4a89,#3d4d8a,#3d4d8a)"></i><i style="background:linear-gradient(#365d8d,#365d8d,#38588c,#39558c,#3a538b,#3d4e8a,#3e4989,#3e4c8a,#3d4d8a,#3e4a89,#3e4c8a,#3d4d8a,#3c4f8a,#38588c,#375a8c,#39568c,#3b528b,#3c4f8a,#3b518b,#3a548c,#3b518b,#3e4c8a,#3e4a89,#3e4c8a,#3e4c8a,#3e4c8a,#3e4a89,#3e4989,#3e4c8a,#3d4e8a,#3c4f8a)"></i><i style="background:linear-gradient(#34608d,#33628d,#365d8d,#39568c,#3b528b,#3d4d8a,#3d4d8a,#3d4e8a,#3e4c8a,#3e4989,#3e4c8a,#3e4a89,#3e4a89,#3b528b,#39558c,#3a538b,#3c508b,#3c508b,#3b528b,#3a548c,#3a538b,#3c4f8a,#3c4f8a,#3b518b,#3c508b,#3c4f8a,#3d4d8a,#3e4a89,#3d4d8a,#3c508b,#3c508b)"></i><i style="background:linear-gradient(#355e8d,#33628d,#34608d,#38598c,#3a538b,#3c4f8a,#3c508b,#3c508b,#3e4c8a,#3e4989,#3d4d8a,#3e4a89,#3e4989,#3c508b,#3b528b,#3a538b,#3b528b,#3b518b,#3a538b,#39558c,#3a548c,#3b518b,#3b518b,#39558c,#39558c,#3a538b,#3c508b,#3d4d8a,#3c4f8a,#3b518b,#3b518b)"></i><i style="background:linear-gradient(#365d8d,#34618d,#355e8d,#38588c,#3a548c,#3b518b,#3c508b,#3d4e8a,#3e4989,#3f4889,#3e4989,#3e4989,#3e4a89,#3c4f8a,#3b518b,#3a538b,#3a538b,#3b528b,#3a538b,#3a548c,#3a538b,#3c508b,#3b518b,#39568c,#38598c,#38588c,#3a538b,#3c508b,#3b518b,#3b528b,#3b518b)"></i><i style="background:linear-gradient(#34618d,#33628d,#375b8d,#3a548c,#3a538b,#3a548c,#3b528b,#3d4d8a,#3e4989,#3f4889,#3e4989,#3e4989,#3e4a89,#3d4e8a,#3c508b,#3b518b,#3b528b,#3b528b,#3c508b,#3b518b,#3b528b,#3c508b,#3b518b,#39568c,#375b8d,#375b8d,#38588c,#3a538b,#3a538b,#3a548c,#3b518b)"></i><i style="background:linear-gradient(#32658e,#32648e,#38598c,#3b528b,#3b528b,#3a538b,#3b518b,#3d4e8a,#3e4c8a,#3c4f8a,#3b518b,#3b518b,#3c508b,#3b518b,#3b528b,#3b528b,#3a538b,#3a538b,#3b518b,#3c508b,#3c508b,#3c508b,#3b528b,#39568c,#375a8c,#375b8d,#39568c,#3a548c,#38588c,#38588c,#39558c)"></i><i style="background:linear-gradient(#355e8d,#365c8d,#3b518b,#3e4a89,#3e4a89,#3e4c8a,#3d4d8a,#3c4f8a,#3c508b,#3a548c,#38588c,#38598c,#38588c,#38598c,#38598c,#375b8d,#375b8d,#375b8d,#38588c,#3a548c,#3b528b,#3b528b,#39558c,#375a8c,#355f8d,#365d8d,#38588c,#375a8c,#34618d,#365d8d,#365c8d)"></i><i style="background:linear-gradient(#3d4e8a,#3f4889,#433d84,#453781,#433e85,#3f4788,#3c508b,#3b528b,#365c8d,#33628d,#33638d,#31688e,#33638d,#30698e,#2f6b8e,#2f6c8e,#31678e,#306a8e,#31688e,#31678e,#31668e,#32658e,#306a8e,#2e6e8e,#2d718e,#2d708e,#2f6c8e,#2c728e,#277e8e,#2a768e,#2c718e)"></i><i style="background:linear-gradient(#39558c,#3e4a89,#433d84,#414287,#3b518b,#365d8d,#2f6b8e,#32658e,#2c718e,#2a788e,#297a8e,#27808e,#297b8e,#24868e,#238a8d,#238a8d,#25848e,#23898e,#228d8d,#21918c,#21918c,#21908d,#1f948c,#1f998a,#1f9e89,#1e9d89,#1e9b8a,#1fa187,#29af7f,#28ae80,#23a983)"></i><i style="background:linear-gradient(#38598c,#3c508b,#453581,#414487,#365c8d,#2f6b8e,#29798e,#2d708e,#2a768e,#297a8e,#297b8e,#25858e,#25838e,#218f8d,#218f8d,#20938c,#20928c,#1f948c,#1f998a,#1f9f88,#1fa188,#20a386,#20a486,#25ac82,#29af7f,#2ab07f,#2fb47c,#34b679,#44bf70,#48c16e,#32b67a)"></i><i style="background:linear-gradient(#365d8d,#3a548c,#46337f,#414287,#32658e,#2c718e,#287c8e,#2c718e,#2c718e,#29798e,#287c8e,#25848e,#24878e,#21908d,#218f8d,#20938c,#1f988b,#1f998a,#1fa188,#20a486,#22a785,#28ae80,#29af7f,#32b67a,#2fb47c,#2fb47c,#3aba76,#3dbc74,#46c06f,#3fbc73,#28ae80)"></i><i style="background:linear-gradient(#3c4f8a,#414487,#482677,#433d84,#355f8d,#306a8e,#2d708e,#32658e,#34608d,#30698e,#2c718e,#2a778e,#26818e,#26828e,#26818e,#26828e,#21908d,#1f978b,#1fa287,#22a884,#23a983,#25ac82,#27ad81,#29af7f,#25ab82,#27ad81,#34b679,#3aba76,#40bd72,#38b977,#25ac82)"></i><i style="background:linear-gradient(#3e4a89,#423f85,#482878,#433e85,#38588c,#33628d,#30698e,#34608d,#34608d,#355f8d,#31678e,#2e6d8e,#2b758e,#29798e,#2a778e,#2a788e,#25848e,#1f968b,#1fa187,#21a685,#22a785,#21a685,#21a585,#20a486,#1fa088,#21a585,#29af7f,#2eb37c,#2fb47c,#2fb47c,#23a983)"></i><i style="background:linear-gradient(#443983,#46307e,#481d6f,#46307e,#3e4989,#3a548c,#34618d,#375b8d,#34608d,#365c8d,#365c8d,#33628d,#306a8e,#2d708e,#2c718e,#2d708e,#2a778e,#24878e,#20928c,#1f958b,#1f978b,#20938c,#218f8d,#218e8d,#228b8d,#20938c,#1f998a,#1e9b8a,#1f998a,#1f9a8a,#21918c)"></i><i style="background:linear-gradient(#38598c,#3a538b,#424086,#3f4889,#39558c,#3a548c,#355f8d,#365d8d,#34608d,#34608d,#365d8d,#33638d,#2f6b8e,#2d708e,#2c718e,#2d708e,#2c728e,#287d8e,#23898e,#228b8d,#228c8d,#24868e,#277f8e,#277f8e,#26818e,#218f8d,#21908d,#20928c,#21908d,#21908d,#25848e)"></i><i style="background:linear-gradient(#2c728e,#2e6f8e,#355f8d,#34618d,#32658e,#34618d,#33628d,#32658e,#32658e,#31688e,#31688e,#2e6e8e,#2c738e,#2a768e,#2c738e,#2c738e,#2a778e,#277f8e,#228d8d,#20938c,#20938c,#218f8d,#228c8d,#228c8d,#20928c,#1fa287,#22a785,#23a983,#23a983,#22a884,#1e9c89)"></i><i style="background:linear-gradient(#277f8e,#297a8e,#2f6c8e,#31678e,#30698e,#31678e,#33638d,#30698e,#2e6d8e,#2e6f8e,#2e6d8e,#2b748e,#297a8e,#277f8e,#287c8e,#287c8e,#26828e,#25858e,#21918c,#1e9d89,#1f9f88,#1e9d89,#1e9d89,#1e9d89,#1fa187,#27ad81,#2fb47c,#35b779,#37b878,#35b779,#27ad81)"></i><i style="background:linear-gradient(#26828e,#297b8e,#2f6c8e,#33638d,#32648e,#31668e,#34618d,#31668e,#2f6b8e,#2f6b8e,#306a8e,#2c728e,#2a768e,#297b8e,#287d8e,#26818e,#25848e,#24878e,#21908d,#1e9d89,#1f9e89,#1e9d89,#1e9d89,#1e9c89,#1f9f88,#1fa287,#22a785,#24aa83,#23a983,#22a785,#1f998a)"></i><i style="background:linear-gradient(#24878e,#27808e,#2b748e,#2f6c8e,#2f6c8e,#2e6d8e,#2f6b8e,#2e6f8e,#2d718e,#2e6f8e,#2d708e,#29798e,#287d8e,#26828e,#24868e,#218f8d,#21918c,#20928c,#1f998a,#1fa287,#1fa188,#1f9f88,#1f9f88,#1f9e89,#1f9f88,#1f9e89,#1fa187,#21a585,#24aa83,#22a884,#1f968b)"></i><i style="background:linear-gradient(#26828e,#287d8e,#2c718e,#30698e,#31668e,#33638d,#32658e,#2f6c8e,#2f6b8e,#30698e,#2e6d8e,#2c738e,#29798e,#277e8e,#26828e,#228b8d,#218f8d,#20928c,#1e9b8a,#1f9f88,#1e9d89,#1e9b8a,#1f9e89,#1f9f88,#1fa287,#1fa188,#22a785,#27ad81,#35b779,#37b878,#24aa83)"></i><i style="background:linear-gradient(#29798e,#2e6f8e,#365d8d,#39558c,#3b518b,#3d4d8a,#3c4f8a,#375a8c,#365c8d,#34608d,#306a8e,#2e6e8e,#2c718e,#2b758e,#2a788e,#277e8e,#25858e,#23898e,#20938c,#1f968b,#1f958b,#1f978b,#1f9e89,#1f9f88,#22a785,#22a785,#25ac82,#2cb17e,#37b878,#34b679,#24aa83)"></i><i style="background:linear-gradient(#23898e,#2a788e,#355e8d,#365c8d,#34608d,#34608d,#34618d,#30698e,#2e6f8e,#2b748e,#287d8e,#27808e,#287d8e,#287d8e,#27808e,#25838e,#228b8d,#20938c,#1e9c89,#1e9d89,#1fa187,#1fa287,#23a983,#26ad81,#32b67a,#32b67a,#31b57b,#31b57b,#37b878,#2fb47c,#1fa287)"></i><i style="background:linear-gradient(#2b748e,#31668e,#414487,#404588,#3c508b,#3c4f8a,#3b518b,#39558c,#365d8d,#34618d,#33638d,#32648e,#31668e,#33638d,#2f6b8e,#2d718e,#29798e,#25838e,#228b8d,#228c8d,#20928c,#218f8d,#1f968b,#1e9d89,#1fa187,#21a685,#24aa83,#25ac82,#28ae80,#22a884,#21918c)"></i><i style="background:linear-gradient(#27808e,#287d8e,#33628d,#38598c,#375a8c,#39558c,#375a8c,#375a8c,#34608d,#33638d,#34608d,#33628d,#31678e,#32648e,#2f6b8e,#2c718e,#297a8e,#26828e,#23888e,#23898e,#218f8d,#228d8d,#218e8d,#20938c,#20928c,#1f978b,#1fa088,#20a486,#21a685,#1f9a8a,#25858e)"></i><i style="background:linear-gradient(#20938c,#20928c,#26828e,#2b758e,#30698e,#355f8d,#33638d,#33638d,#32648e,#31688e,#32648e,#33638d,#31678e,#32658e,#31688e,#2f6b8e,#2e6f8e,#29798e,#27808e,#26828e,#24878e,#23888e,#25838e,#24878e,#26828e,#25838e,#23898e,#228d8d,#228d8d,#29798e,#32658e)"></i><i style="background:linear-gradient(#1e9d89,#1f948c,#24878e,#277f8e,#2e6f8e,#33638d,#32658e,#33638d,#31668e,#2e6e8e,#31688e,#355f8d,#33638d,#34608d,#34608d,#31678e,#30698e,#2c728e,#29798e,#277e8e,#277e8e,#26818e,#287d8e,#25858e,#25838e,#26828e,#26828e,#26828e,#287d8e,#2e6d8e,#38598c)"></i><i style="background:linear-gradient(#20a486,#1f9e89,#21918c,#228d8d,#26818e,#2a768e,#2b748e,#2c718e,#2a788e,#25848e,#25838e,#277e8e,#26828e,#277e8e,#26818e,#228c8d,#218f8d,#20928c,#1f958b,#1f9a8a,#1f978b,#1e9b8a,#1f998a,#1f9f88,#1fa088,#1fa088,#1e9d89,#1f968b,#1f948c,#218f8d,#26818e)"></i><i style="background:linear-gradient(#1f9a8a,#1f958b,#23898e,#26828e,#297b8e,#2c718e,#2f6c8e,#306a8e,#2c738e,#26828e,#23888e,#23888e,#228d8d,#228d8d,#20928c,#1f978b,#1f998a,#1f958b,#1f988b,#1f9e89,#1e9c89,#1fa188,#1fa088,#1e9d89,#1e9b8a,#1f9f88,#1fa088,#1e9c89,#1f9f88,#1f9e89,#20938c)"></i><i style="background:linear-gradient(#35b779,#2db27d,#26ad81,#1fa187,#1f988b,#20928c,#228d8d,#21918c,#1f988b,#1f9e89,#21a685,#22a785,#2eb37c,#37b878,#34b679,#32b67a,#2fb47c,#26ad81,#25ac82,#2fb47c,#31b57b,#2fb47c,#2ab07f,#20a386,#1fa088,#1fa287,#22a785,#21a585,#21a585,#1fa287,#1f978b)"></i><i style="background:linear-gradient(#38b977,#2fb47c,#28ae80,#20a486,#1e9b8a,#1f948c,#20938c,#20938c,#20938c,#20938c,#1f9a8a,#20a486,#2eb37c,#35b779,#2db27d,#2cb17e,#2ab07f,#22a884,#21a585,#26ad81,#29af7f,#22a884,#1fa287,#1f958b,#20928c,#20928c,#1f988b,#1f958b,#1f948c,#20928c,#25848e)"></i><i style="background:linear-gradient(#2fb47c,#26ad81,#20a386,#1f9f88,#1f978b,#21918c,#20928c,#23898e,#25858e,#25858e,#24878e,#1f948c,#1fa088,#1fa187,#1fa088,#21a585,#1fa287,#1f9e89,#1fa188,#21a685,#22a884,#1fa088,#1e9d89,#1f948c,#20928c,#21908d,#1f948c,#20938c,#1f968b,#20928c,#25858e)"></i><i style="background:linear-gradient(#2cb17e,#24aa83,#1fa187,#1f9e89,#1f978b,#218f8d,#21918c,#25848e,#26818e,#24868e,#25848e,#218e8d,#20938c,#1f968b,#1f998a,#1fa088,#1fa088,#1e9c89,#1f9f88,#1fa187,#20a386,#1fa088,#1e9d89,#1f988b,#1f988b,#1f978b,#1f978b,#1f9a8a,#1fa188,#1f9e89,#21908d)"></i><i style="background:linear-gradient(#1fa287,#1f9a8a,#20928c,#238a8d,#25838e,#277e8e,#287c8e,#2d718e,#2f6c8e,#2c738e,#2c728e,#297a8e,#25838e,#24878e,#228d8d,#21918c,#20938c,#20928c,#20928c,#20928c,#20928c,#20928c,#1f958b,#20928c,#1f958b,#1f968b,#1f958b,#1e9b8a,#21a585,#22a785,#1f998a)"></i><i style="background:linear-gradient(#20a486,#1e9b8a,#21908d,#238a8d,#26828e,#297a8e,#2a768e,#2c738e,#2e6e8e,#2d718e,#2d708e,#287c8e,#23888e,#228b8d,#20928c,#1f968b,#1f988b,#1e9d89,#1fa088,#1fa188,#1f9a8a,#1f988b,#1fa088,#1e9b8a,#1fa088,#1fa188,#1fa187,#24aa83,#34b679,#3bbb75,#25ab82)"></i><i style="background:linear-gradient(#22a785,#1f9a8a,#218e8d,#228c8d,#27808e,#2a778e,#2a778e,#29798e,#2b748e,#2c718e,#2d718e,#297b8e,#25848e,#228c8d,#1f978b,#1e9c89,#1fa088,#21a685,#27ad81,#2ab07f,#21a585,#1e9c89,#1fa088,#1e9d89,#1fa188,#1fa287,#21a585,#29af7f,#3aba76,#44bf70,#2eb37c)"></i><i style="background:linear-gradient(#1f948c,#23888e,#297b8e,#29798e,#2c738e,#2e6d8e,#2c728e,#2b758e,#2c718e,#2d708e,#2e6f8e,#2d718e,#297b8e,#24868e,#20928c,#1f968b,#1f988b,#1e9c89,#1f9e89,#1fa187,#1f988b,#218e8d,#228c8d,#23898e,#228c8d,#228d8d,#21908d,#1e9b8a,#22a785,#23a983,#1f9e89)"></i><i style="background:linear-gradient(#238a8d,#25848e,#2b758e,#2c738e,#2b758e,#2a778e,#277f8e,#277f8e,#29798e,#2b758e,#2c728e,#2c718e,#297b8e,#24878e,#21908d,#1f988b,#1e9c89,#1f9a8a,#1f998a,#1e9b8a,#1f968b,#228c8d,#25858e,#26818e,#25848e,#25848e,#24878e,#21918c,#1fa088,#1f9f88,#1f948c)"></i><i style="background:linear-gradient(#2d708e,#30698e,#375a8c,#38598c,#365d8d,#31678e,#2c718e,#2b748e,#2e6e8e,#34618d,#365d8d,#375a8c,#355f8d,#30698e,#2c738e,#277e8e,#26828e,#277e8e,#277f8e,#26818e,#287c8e,#2c728e,#2e6d8e,#2d708e,#2b758e,#2a768e,#2a788e,#287d8e,#228c8d,#218f8d,#25858e)"></i><i style="background:linear-gradient(#2e6e8e,#33628d,#39558c,#3a548c,#375a8c,#31668e,#2d708e,#2a778e,#2c718e,#33638d,#375b8d,#39568c,#38598c,#33638d,#2f6b8e,#2b758e,#29798e,#287c8e,#277f8e,#26818e,#2a768e,#2f6c8e,#31678e,#2e6d8e,#2c718e,#2a778e,#29798e,#29798e,#25858e,#23898e,#277e8e)"></i><i style="background:linear-gradient(#2e6f8e,#33628d,#39568c,#39568c,#39568c,#355e8d,#30698e,#2e6e8e,#2f6b8e,#355f8d,#39558c,#3d4e8a,#3c4f8a,#38598c,#34608d,#2f6c8e,#2b748e,#277f8e,#287c8e,#277f8e,#2d718e,#31688e,#31688e,#32648e,#31668e,#2a768e,#287d8e,#297b8e,#27808e,#27808e,#2c738e)"></i><i style="background:linear-gradient(#30698e,#34608d,#3c508b,#3c508b,#3e4989,#3c508b,#39568c,#375a8c,#375b8d,#38588c,#3b528b,#3e4a89,#3c4f8a,#39568c,#365d8d,#2e6d8e,#2a768e,#277f8e,#297a8e,#287c8e,#2c738e,#2d718e,#2c738e,#30698e,#31668e,#2c738e,#277e8e,#277e8e,#25858e,#25838e,#2a768e)"></i><i style="background:linear-gradient(#375b8d,#3a548c,#424186,#443b84,#453581,#453781,#443a83,#433e85,#404688,#3f4889,#3e4c8a,#3e4a89,#3a538b,#375b8d,#355f8d,#2e6d8e,#2d708e,#2c728e,#2e6f8e,#2c728e,#2c718e,#2b758e,#2b748e,#31678e,#32648e,#306a8e,#2a768e,#2a788e,#228b8d,#228c8d,#25838e)"></i><i style="background:linear-gradient(#365d8d,#38598c,#3f4788,#453781,#46327e,#46337f,#453882,#443b84,#414487,#404688,#3e4a89,#3e4c8a,#3b518b,#365d8d,#34618d,#2e6d8e,#2e6f8e,#2d708e,#2e6f8e,#2c728e,#2c738e,#2b758e,#2d718e,#34618d,#365c8d,#38598c,#31688e,#2d708e,#24868e,#228d8d,#228c8d)"></i><i style="background:linear-gradient(#34608d,#375a8c,#3f4788,#443983,#46327e,#46337f,#443983,#433d84,#424086,#414287,#3f4788,#414487,#414287,#3c4f8a,#38588c,#32658e,#2d708e,#2d718e,#2d708e,#2d718e,#2c718e,#2c738e,#306a8e,#375a8c,#3c508b,#3e4a89,#365c8d,#2e6d8e,#277e8e,#24868e,#23888e)"></i><i style="background:linear-gradient(#365c8d,#3a538b,#433e85,#46327e,#482979,#472a7a,#46327e,#453581,#453581,#453781,#443983,#443983,#463480,#423f85,#3e4989,#375a8c,#32648e,#306a8e,#2f6b8e,#31678e,#31688e,#31688e,#365c8d,#3a548c,#3d4d8a,#3e4989,#39568c,#30698e,#2a778e,#25838e,#26828e)"></i><i style="background:linear-gradient(#355f8d,#3b518b,#443b84,#472f7d,#472d7b,#472d7b,#453581,#443a83,#453781,#443a83,#433e85,#404588,#443983,#3f4788,#3b518b,#375b8d,#34618d,#31668e,#30698e,#31688e,#31688e,#31668e,#355e8d,#34618d,#375b8d,#355f8d,#32648e,#2b758e,#25858e,#20928c,#228d8d)"></i><i style="background:linear-gradient(#375a8c,#3d4d8a,#443983,#472d7b,#472a7a,#46337f,#443b84,#423f85,#424186,#3f4788,#3f4889,#3c4f8a,#414287,#39558c,#365d8d,#33628d,#32658e,#31668e,#2e6f8e,#2c718e,#2c738e,#2c718e,#2e6f8e,#2e6e8e,#306a8e,#2d708e,#29798e,#24868e,#1f988b,#20a386,#1e9c89)"></i><i style="background:linear-gradient(#38588c,#3b528b,#433e85,#472f7d,#482677,#453781,#423f85,#404688,#3c508b,#3b518b,#3d4d8a,#3a548c,#3b518b,#355f8d,#33638d,#31688e,#30698e,#30698e,#2a788e,#287d8e,#27808e,#277e8e,#297b8e,#2b758e,#2a768e,#297b8e,#24868e,#218f8d,#1fa188,#21a685,#1fa188)"></i><i style="background:linear-gradient(#39568c,#3a538b,#443b84,#472a7a,#482071,#46327e,#433e85,#3b518b,#375b8d,#39558c,#3b528b,#39568c,#375b8d,#34608d,#34618d,#31678e,#306a8e,#30698e,#2a768e,#277e8e,#277e8e,#277e8e,#277e8e,#287c8e,#26828e,#238a8d,#21918c,#1f988b,#21a585,#21a685,#1f9e89)"></i><i style="background:linear-gradient(#355f8d,#39558c,#424186,#472c7a,#482475,#472d7b,#443a83,#3a548c,#375b8d,#39568c,#365c8d,#365c8d,#33638d,#31668e,#32658e,#30698e,#2e6f8e,#2d708e,#2b748e,#29798e,#2a788e,#297a8e,#287c8e,#27808e,#24878e,#1f948c,#1f948c,#1e9c89,#21a685,#1fa088,#20928c)"></i><i style="background:linear-gradient(#38588c,#3d4d8a,#423f85,#46327e,#472d7b,#472f7d,#433e85,#3d4d8a,#3a538b,#39558c,#375b8d,#355f8d,#33638d,#31668e,#33638d,#33638d,#30698e,#2d718e,#2d708e,#2c728e,#2d718e,#2c738e,#2c728e,#2b758e,#297a8e,#25848e,#277e8e,#26818e,#228b8d,#25858e,#2a788e)"></i><i style="background:linear-gradient(#3a538b,#3f4889,#443b84,#46337f,#472e7c,#453581,#3e4c8a,#3b518b,#39558c,#38598c,#355e8d,#32648e,#32648e,#32658e,#365c8d,#365c8d,#34608d,#2e6f8e,#2e6d8e,#2e6d8e,#2f6b8e,#2e6d8e,#2f6b8e,#2f6c8e,#306a8e,#31688e,#32648e,#32658e,#2d708e,#2c738e,#2e6d8e)"></i><i style="background:linear-gradient(#39568c,#3e4c8a,#433d84,#472f7d,#482677,#453581,#3d4e8a,#3b528b,#39558c,#375a8c,#34608d,#32648e,#32658e,#31668e,#365d8d,#355f8d,#355f8d,#31688e,#33628d,#31668e,#32658e,#32658e,#31688e,#31688e,#33628d,#365c8d,#375a8c,#365d8d,#306a8e,#2c728e,#2f6c8e)"></i><i style="background:linear-gradient(#355e8d,#3b528b,#414287,#453781,#482979,#472e7c,#423f85,#414287,#3e4a89,#3a538b,#38598c,#34618d,#32648e,#31678e,#33638d,#32658e,#33638d,#34618d,#375a8c,#355e8d,#34608d,#33628d,#31688e,#31688e,#32648e,#33638d,#33638d,#33638d,#2e6d8e,#2a768e,#2e6d8e)"></i><i style="background:linear-gradient(#32648e,#355e8d,#3c508b,#414487,#453882,#453781,#453781,#443a83,#414487,#3e4c8a,#39558c,#31668e,#2e6e8e,#2b748e,#2c728e,#2c738e,#2c718e,#306a8e,#31688e,#31678e,#306a8e,#2e6e8e,#2d718e,#2b748e,#2b748e,#2a788e,#297a8e,#2c738e,#2a778e,#277e8e,#2c738e)"></i><i style="background:linear-gradient(#34618d,#365c8d,#3c4f8a,#424186,#433e85,#423f85,#443983,#414287,#3e4a89,#3c4f8a,#365c8d,#2d718e,#29798e,#287d8e,#297a8e,#297b8e,#297a8e,#2c738e,#2a788e,#2b748e,#2a768e,#2a788e,#29798e,#26818e,#24868e,#228b8d,#21908d,#228b8d,#23898e,#238a8d,#277e8e)"></i><i style="background:linear-gradient(#355e8d,#39568c,#3f4788,#443a83,#453882,#433d84,#443a83,#3f4889,#3c4f8a,#3a538b,#355e8d,#2c728e,#2a768e,#2a768e,#2b758e,#2a788e,#29798e,#2c738e,#297a8e,#297b8e,#287c8e,#277f8e,#277e8e,#24868e,#228d8d,#20928c,#1f998a,#1f958b,#1f958b,#1f958b,#24878e)"></i><i style="background:linear-gradient(#365d8d,#39568c,#3f4788,#443b84,#463480,#453781,#443a83,#404688,#3d4e8a,#3b518b,#355f8d,#2d708e,#2c718e,#2d718e,#2b758e,#2a768e,#2a788e,#297a8e,#287d8e,#26828e,#25848e,#228c8d,#238a8d,#228b8d,#228d8d,#20928c,#1f998a,#1f9a8a,#1e9d89,#1e9d89,#21908d)"></i><i style="background:linear-gradient(#375a8c,#39568c,#3f4788,#433e85,#453882,#433d84,#404688,#3b518b,#375a8c,#365d8d,#30698e,#2d718e,#2d708e,#2e6e8e,#29798e,#277e8e,#277f8e,#26828e,#26818e,#25858e,#238a8d,#20938c,#1f948c,#218f8d,#21908d,#20928c,#1e9b8a,#1fa287,#22a884,#22a884,#1e9d89)"></i><i style="background:linear-gradient(#375b8d,#38598c,#404688,#414287,#414287,#3d4e8a,#38588c,#32658e,#2e6f8e,#2c718e,#297b8e,#287d8e,#297b8e,#2a768e,#26828e,#238a8d,#228c8d,#228b8d,#25848e,#24868e,#228b8d,#20928c,#1f988b,#20928c,#1f958b,#1f948c,#1e9d89,#21a585,#26ad81,#29af7f,#23a983)"></i><i style="background:linear-gradient(#38598c,#38588c,#3c508b,#3c4f8a,#3b528b,#355e8d,#31678e,#2d718e,#2a788e,#297a8e,#277f8e,#297a8e,#287d8e,#297a8e,#26828e,#25858e,#228b8d,#228b8d,#23898e,#23898e,#218f8d,#1f958b,#1e9b8a,#1f998a,#20938c,#20928c,#1f958b,#1e9d89,#20a386,#22a884,#22a785)"></i><i style="background:linear-gradient(#3a548c,#39558c,#38588c,#39558c,#39568c,#355e8d,#32658e,#2f6b8e,#2e6f8e,#2c718e,#2b758e,#2c718e,#2c738e,#2b758e,#2a788e,#2b748e,#287c8e,#277f8e,#26828e,#26828e,#23888e,#228d8d,#218e8d,#218f8d,#24868e,#25858e,#238a8d,#21918c,#1f948c,#1f968b,#1f948c)"></i><i style="background:linear-gradient(#33638d,#32648e,#32658e,#32648e,#31668e,#31688e,#31688e,#2e6d8e,#2e6f8e,#2b748e,#2a778e,#2a788e,#2b758e,#2a768e,#2b758e,#2c718e,#2a778e,#2a788e,#277e8e,#287d8e,#24868e,#23898e,#25848e,#23898e,#25848e,#25858e,#218e8d,#21908d,#21908d,#23898e,#277f8e)"></i><i style="background:linear-gradient(#297b8e,#2a788e,#297b8e,#277f8e,#26818e,#26828e,#277e8e,#27808e,#25838e,#218e8d,#21918c,#1f948c,#218e8d,#23888e,#228b8d,#228d8d,#21908d,#218e8d,#20928c,#218f8d,#1f978b,#1e9c89,#1f958b,#1f998a,#1f978b,#1f988b,#1fa188,#1f9e89,#1f9e89,#21918c,#277f8e)"></i><i style="background:linear-gradient(#238a8d,#24878e,#24878e,#228d8d,#228d8d,#218e8d,#23898e,#228d8d,#1f958b,#1f9e89,#22a785,#25ab82,#1fa187,#1e9c89,#1f9e89,#1f9f88,#1f9f88,#1f9f88,#1fa188,#1f9e89,#1fa287,#22a785,#20a386,#21a585,#1fa287,#1fa188,#1fa088,#1e9b8a,#1e9b8a,#21918c,#287c8e)"></i><i style="background:linear-gradient(#25838e,#26828e,#26828e,#25838e,#25838e,#23888e,#25858e,#238a8d,#21918c,#1f978b,#1fa187,#1fa287,#1e9c89,#20928c,#1f948c,#20928c,#21918c,#1f948c,#1f9a8a,#1f978b,#1f998a,#1e9b8a,#1f998a,#1e9b8a,#1e9d89,#1e9b8a,#1f968b,#20928c,#20928c,#218e8d,#2a778e)"></i><i style="background:linear-gradient(#2e6e8e,#2e6e8e,#2f6c8e,#2e6f8e,#2d718e,#2b758e,#2c728e,#2a788e,#277f8e,#228b8d,#20928c,#20938c,#21908d,#24868e,#26828e,#297a8e,#2a778e,#277f8e,#26828e,#24868e,#24878e,#24878e,#24878e,#228b8d,#21908d,#21918c,#20928c,#1f958b,#1f988b,#1f968b,#25838e)"></i><i style="background:linear-gradient(#2f6c8e,#31688e,#32648e,#306a8e,#2d718e,#2b758e,#2c738e,#2a778e,#26818e,#228b8d,#218e8d,#20938c,#1f948c,#21918c,#21908d,#24868e,#24868e,#20928c,#21918c,#1f968b,#1f978b,#1f978b,#1f988b,#1f9a8a,#1e9b8a,#1fa088,#20a386,#27ad81,#2fb47c,#2fb47c,#20a386)"></i><i style="background:linear-gradient(#32658e,#34608d,#39568c,#38598c,#31668e,#2b748e,#29798e,#287d8e,#25858e,#228d8d,#228c8d,#1f978b,#1f9a8a,#1f998a,#1e9d89,#1f948c,#1f948c,#1e9b8a,#1e9b8a,#1fa088,#1fa187,#1fa287,#24aa83,#25ac82,#25ab82,#2db27d,#2fb47c,#42be71,#4ec36b,#42be71,#26ad81)"></i><i style="background:linear-gradient(#32658e,#365d8d,#3b518b,#3b528b,#375b8d,#2c718e,#26828e,#23898e,#20928c,#1f968b,#1f948c,#1f9f88,#1fa287,#1fa088,#21a685,#1fa188,#1fa188,#21a685,#21a585,#21a685,#21a585,#20a486,#28ae80,#2ab07f,#2ab07f,#2fb47c,#38b977,#4ac16d,#50c46a,#42be71,#24aa83)"></i><i style="background:linear-gradient(#2f6c8e,#34618d,#3c4f8a,#3b518b,#365d8d,#2c738e,#25858e,#20928c,#1f998a,#1fa188,#1f9f88,#1fa188,#1fa188,#1f9f88,#21a685,#21a685,#26ad81,#2eb37c,#2cb17e,#25ac82,#22a884,#20a386,#22a884,#25ac82,#26ad81,#25ac82,#2eb37c,#3fbc73,#44bf70,#44bf70,#28ae80)"></i><i style="background:linear-gradient(#2f6c8e,#34608d,#3e4989,#39568c,#2f6c8e,#277e8e,#24868e,#20928c,#1f9a8a,#1fa287,#21a585,#1fa088,#1e9b8a,#1f998a,#20a386,#23a983,#2eb37c,#37b878,#38b977,#34b679,#2fb47c,#27ad81,#25ab82,#25ab82,#22a884,#22a785,#29af7f,#35b779,#42be71,#52c569,#3fbc73)"></i><i style="background:linear-gradient(#2e6e8e,#33638d,#3a548c,#32658e,#2a778e,#25848e,#25858e,#218e8d,#20938c,#1f9e89,#21a585,#1f9f88,#1f9a8a,#1f9a8a,#20a486,#29af7f,#37b878,#3bbb75,#3dbc74,#3bbb75,#3dbc74,#3fbc73,#32b67a,#25ac82,#21a685,#21a585,#26ad81,#2eb37c,#40bd72,#5cc863,#4ac16d)"></i><i style="background:linear-gradient(#2b758e,#2f6b8e,#34618d,#2f6b8e,#2c718e,#29798e,#297b8e,#26828e,#23888e,#1f948c,#1f988b,#20938c,#20928c,#1f958b,#1f9e89,#21a685,#25ab82,#23a983,#24aa83,#27ad81,#2fb47c,#3bbb75,#32b67a,#21a685,#1fa287,#1fa287,#20a386,#24aa83,#2fb47c,#35b779,#25ac82)"></i><i style="background:linear-gradient(#32648e,#355e8d,#375a8c,#365d8d,#355e8d,#32648e,#2e6e8e,#2c738e,#297a8e,#25848e,#25858e,#277e8e,#27808e,#24868e,#228d8d,#218f8d,#228d8d,#238a8d,#228c8d,#1f948c,#1f9f88,#20a486,#1fa287,#20928c,#218e8d,#218f8d,#21908d,#20938c,#1f998a,#21918c,#25838e)"></i><i style="background:linear-gradient(#39568c,#3a538b,#3d4e8a,#3e4c8a,#3f4788,#3d4e8a,#355e8d,#31668e,#2e6f8e,#2a768e,#2b758e,#2e6d8e,#2f6b8e,#2d708e,#2c738e,#2c738e,#2f6b8e,#306a8e,#2e6f8e,#2a778e,#27808e,#25838e,#23888e,#277e8e,#29798e,#2a778e,#287d8e,#287d8e,#287d8e,#2d708e,#34618d)"></i><i style="background:linear-gradient(#30698e,#34608d,#39558c,#3c4f8a,#3f4788,#3c508b,#365d8d,#31668e,#2d708e,#2a788e,#297a8e,#2a778e,#2b748e,#2d718e,#2e6f8e,#2e6e8e,#32648e,#31668e,#2f6b8e,#2a768e,#277f8e,#26828e,#238a8d,#25838e,#26818e,#277f8e,#24868e,#25858e,#26828e,#2a788e,#31668e)"></i><i style="background:linear-gradient(#297b8e,#2f6c8e,#355e8d,#3b528b,#3e4c8a,#3b528b,#365c8d,#33638d,#30698e,#2a768e,#29798e,#297a8e,#297a8e,#2a778e,#2a778e,#2a788e,#2e6e8e,#2c718e,#2a778e,#25838e,#228c8d,#218f8d,#20938c,#218f8d,#218e8d,#238a8d,#20928c,#1f968b,#1f968b,#21908d,#277e8e)"></i><i style="background:linear-gradient(#287c8e,#2e6f8e,#365d8d,#3c508b,#3d4e8a,#3d4d8a,#39558c,#375a8c,#355f8d,#2e6e8e,#2c728e,#2a788e,#29798e,#29798e,#297b8e,#26828e,#297a8e,#287d8e,#26828e,#228b8d,#1f948c,#1f998a,#1f998a,#20928c,#218f8d,#23888e,#21908d,#1e9c89,#1f9f88,#1e9c89,#228c8d)"></i><i style="background:linear-gradient(#2a768e,#2e6d8e,#39558c,#3e4c8a,#404688,#414487,#3e4c8a,#3d4e8a,#3a548c,#32648e,#2e6e8e,#2a768e,#2a778e,#2a778e,#2a778e,#27808e,#287c8e,#297a8e,#277e8e,#25858e,#218e8d,#20938c,#1f948c,#228c8d,#25848e,#287d8e,#26828e,#21908d,#1f978b,#1f958b,#23888e)"></i><i style="background:linear-gradient(#2c718e,#30698e,#3b518b,#3e4989,#414287,#404588,#3e4c8a,#3b528b,#38598c,#31678e,#2d708e,#2a778e,#2a768e,#2a768e,#2a768e,#287c8e,#297b8e,#2b758e,#2b748e,#29798e,#287d8e,#277f8e,#25838e,#277e8e,#2b758e,#2b758e,#297a8e,#26828e,#228d8d,#24878e,#29798e)"></i><i style="background:linear-gradient(#32658e,#34618d,#404688,#414487,#404588,#3e4c8a,#3a538b,#34608d,#33628d,#2f6b8e,#2e6f8e,#2e6e8e,#2f6b8e,#30698e,#2d708e,#297a8e,#277f8e,#27808e,#277f8e,#287c8e,#297a8e,#29798e,#297b8e,#29798e,#2b748e,#287c8e,#287d8e,#26818e,#25848e,#277f8e,#2e6d8e)"></i><i style="background:linear-gradient(#365c8d,#365d8d,#414487,#424086,#404588,#3e4989,#3b518b,#34608d,#33628d,#31688e,#31688e,#32658e,#355f8d,#355f8d,#31688e,#2b748e,#297b8e,#297a8e,#277f8e,#287d8e,#297b8e,#287c8e,#297b8e,#297b8e,#297b8e,#26828e,#26818e,#26828e,#26828e,#29798e,#31678e)"></i><i style="background:linear-gradient(#306a8e,#306a8e,#38598c,#3a538b,#3b528b,#3c508b,#3c508b,#3a548c,#39558c,#375a8c,#355f8d,#34618d,#365d8d,#38598c,#355e8d,#30698e,#2d708e,#2f6b8e,#2e6e8e,#2f6c8e,#2d708e,#2b748e,#2b758e,#297a8e,#277f8e,#25848e,#26828e,#26828e,#277e8e,#2d718e,#34618d)"></i><i style="background:linear-gradient(#2a778e,#2c738e,#31678e,#31678e,#30698e,#306a8e,#32658e,#355e8d,#375a8c,#38588c,#34618d,#306a8e,#31688e,#355f8d,#33638d,#31678e,#2e6e8e,#2e6e8e,#306a8e,#31688e,#2e6e8e,#2d718e,#2c718e,#29798e,#26828e,#23888e,#24878e,#25848e,#26818e,#2a788e,#2f6b8e)"></i><i style="background:linear-gradient(#297a8e,#2c738e,#31678e,#30698e,#2d708e,#2a788e,#2a768e,#2e6f8e,#2f6b8e,#33638d,#30698e,#2c718e,#2f6c8e,#32658e,#306a8e,#2e6d8e,#2d718e,#2c738e,#2e6d8e,#2f6b8e,#2f6c8e,#2e6d8e,#2d708e,#2a788e,#25848e,#24878e,#24868e,#25858e,#26818e,#277e8e,#2c718e)"></i><i style="background:linear-gradient(#26828e,#287d8e,#2c718e,#2a768e,#27808e,#24878e,#228b8d,#24868e,#26828e,#287d8e,#287c8e,#297b8e,#2c738e,#2e6e8e,#297a8e,#26818e,#27808e,#26828e,#287d8e,#297b8e,#2a768e,#2b758e,#2a788e,#287d8e,#25848e,#23898e,#23888e,#228d8d,#24868e,#26828e,#297a8e)"></i><i style="background:linear-gradient(#23898e,#25858e,#277e8e,#26828e,#228c8d,#20928c,#20928c,#21908d,#238a8d,#25858e,#277f8e,#287d8e,#29798e,#2b758e,#26828e,#228c8d,#228c8d,#238a8d,#23898e,#24878e,#24868e,#24878e,#23898e,#228c8d,#228d8d,#20928c,#21908d,#20928c,#218f8d,#228b8d,#27808e)"></i><i style="background:linear-gradient(#24868e,#25848e,#287d8e,#26818e,#228b8d,#1f958b,#20928c,#21908d,#228d8d,#25848e,#277f8e,#29798e,#2c728e,#2c718e,#29798e,#25838e,#25848e,#24868e,#24878e,#25838e,#238a8d,#20928c,#1f998a,#1f9e89,#1e9b8a,#1f9a8a,#1f958b,#1f958b,#1f9a8a,#1f998a,#24878e)"></i><i style="background:linear-gradient(#25838e,#27808e,#2e6d8e,#2d718e,#277e8e,#238a8d,#218e8d,#218f8d,#21918c,#218f8d,#228b8d,#287d8e,#2b758e,#2a778e,#287d8e,#26828e,#24868e,#238a8d,#23898e,#25848e,#21908d,#1f9a8a,#20a386,#22a884,#21a585,#1e9d89,#1f988b,#1f988b,#1fa287,#1fa287,#21918c)"></i><i style="background:linear-gradient(#31678e,#33638d,#414487,#3f4788,#33638d,#2d718e,#2a788e,#27808e,#25858e,#25858e,#25838e,#297a8e,#2c738e,#2a768e,#2a768e,#2a768e,#277f8e,#25838e,#26828e,#26828e,#228c8d,#1f948c,#1f998a,#1e9c89,#1f998a,#218e8d,#228d8d,#228d8d,#1f9a8a,#1f978b,#24868e)"></i><i style="background:linear-gradient(#46337f,#472e7c,#481467,#481668,#453581,#404688,#3a548c,#32648e,#2d708e,#2e6d8e,#2d718e,#2c738e,#2e6f8e,#2d708e,#2f6c8e,#31678e,#2c728e,#2b748e,#2c738e,#2c728e,#29798e,#27808e,#27808e,#277e8e,#297a8e,#2b748e,#2b748e,#2c718e,#297a8e,#2c728e,#32648e)"></i><i style="background:linear-gradient(#433e85,#453882,#472d7b,#472d7b,#433d84,#3e4989,#3a548c,#32648e,#2c718e,#2e6f8e,#2b748e,#2b748e,#2e6d8e,#2e6d8e,#31688e,#32658e,#2f6b8e,#31678e,#31678e,#32658e,#2f6b8e,#2d718e,#2c738e,#2c718e,#2e6f8e,#2f6b8e,#2f6c8e,#31688e,#31668e,#355f8d,#39568c)"></i><i style="background:linear-gradient(#3c4f8a,#3f4889,#433d84,#443b84,#424186,#3e4a89,#3a538b,#33638d,#2e6d8e,#2e6f8e,#2a768e,#2d718e,#2f6b8e,#2e6d8e,#2f6b8e,#2f6c8e,#2e6f8e,#31678e,#33628d,#32648e,#30698e,#2c738e,#29798e,#2a778e,#2a778e,#2d708e,#2e6d8e,#33638d,#355f8d,#38588c,#3b528b)"></i><i style="background:linear-gradient(#3b528b,#3e4c8a,#443b84,#424186,#414287,#3e4c8a,#39558c,#33638d,#306a8e,#2e6f8e,#2c738e,#2c718e,#2e6f8e,#2d708e,#2e6e8e,#2d718e,#2c718e,#31688e,#34608d,#32648e,#31668e,#2c728e,#2a788e,#2a788e,#29798e,#2d708e,#2f6b8e,#33628d,#34608d,#38598c,#3b518b)"></i><i style="background:linear-gradient(#3b528b,#3b528b,#3f4889,#3c4f8a,#3c4f8a,#38598c,#33638d,#2f6b8e,#2c738e,#29798e,#27808e,#25838e,#25848e,#24878e,#26828e,#27808e,#27808e,#2a778e,#2b748e,#2a778e,#29798e,#277f8e,#25848e,#24878e,#24868e,#27808e,#297b8e,#2a788e,#2a788e,#2c738e,#31688e)"></i><i style="background:linear-gradient(#3c508b,#3a548c,#3d4e8a,#3a548c,#375a8c,#33628d,#31678e,#2e6e8e,#297a8e,#25838e,#218e8d,#20938c,#1f988b,#1f9e89,#1e9c89,#1f998a,#1f948c,#24878e,#24868e,#228b8d,#218f8d,#20928c,#1f968b,#1e9d89,#1f9a8a,#1f968b,#20928c,#1f978b,#1f988b,#1f968b,#25848e)"></i><i style="background:linear-gradient(#34608d,#34618d,#38598c,#355e8d,#2f6b8e,#2c718e,#2c718e,#2a788e,#24868e,#20928c,#1f998a,#1f9f88,#20a486,#29af7f,#2eb37c,#29af7f,#21a685,#1f978b,#20928c,#1f978b,#1fa088,#20a386,#21a585,#23a983,#21a585,#20a386,#1fa287,#24aa83,#26ad81,#26ad81,#1f948c)"></i><i style="background:linear-gradient(#2c718e,#2f6c8e,#33638d,#33628d,#31688e,#2d718e,#2b748e,#297a8e,#24878e,#20928c,#1f998a,#1fa188,#21a685,#31b57b,#3aba76,#38b977,#2ab07f,#20a486,#1f968b,#1e9b8a,#20a386,#22a884,#21a585,#22a884,#22a785,#21a685,#21a685,#25ab82,#2db27d,#2eb37c,#1f9a8a)"></i><i style="background:linear-gradient(#287c8e,#2a788e,#2e6e8e,#2e6d8e,#2e6d8e,#297a8e,#26828e,#238a8d,#1f978b,#1fa088,#24aa83,#2fb47c,#38b977,#4cc26c,#50c46a,#48c16e,#35b779,#25ab82,#1f9a8a,#1f9f88,#21a685,#23a983,#21a685,#22a785,#23a983,#25ab82,#24aa83,#28ae80,#34b679,#31b57b,#1fa088)"></i><i style="background:linear-gradient(#2b758e,#2c738e,#31678e,#306a8e,#2d708e,#26818e,#23898e,#20938c,#1f9f88,#25ab82,#31b57b,#4ec36b,#60ca60,#6ccd5a,#65cb5e,#50c46a,#38b977,#26ad81,#1fa088,#1fa187,#22a785,#25ab82,#27ad81,#25ab82,#24aa83,#25ab82,#27ad81,#2fb47c,#3dbc74,#34b679,#20a486)"></i><i style="background:linear-gradient(#2e6f8e,#2f6c8e,#39568c,#355e8d,#2e6f8e,#26828e,#228d8d,#1f968b,#1e9b8a,#21a685,#2ab07f,#4ec36b,#63cb5f,#6ece58,#60ca60,#3fbc73,#26ad81,#20a486,#1f9e89,#1fa088,#20a386,#25ab82,#2db27d,#28ae80,#25ab82,#25ab82,#2ab07f,#34b679,#3bbb75,#2eb37c,#20a386)"></i><i style="background:linear-gradient(#2b758e,#2d718e,#3c508b,#375b8d,#2d718e,#26828e,#228d8d,#20938c,#1f948c,#1e9c89,#21a585,#2db27d,#44bf70,#56c667,#4cc26c,#32b67a,#24aa83,#1fa187,#1f9e89,#1e9c89,#1f9e89,#20a486,#25ab82,#26ad81,#22a884,#24aa83,#29af7f,#32b67a,#37b878,#2cb17e,#20a486)"></i><i style="background:linear-gradient(#25838e,#287d8e,#355f8d,#32658e,#2b758e,#26828e,#218f8d,#1f958b,#1f988b,#1f9e89,#21a585,#28ae80,#34b679,#3fbc73,#3bbb75,#2fb47c,#29af7f,#23a983,#21a585,#1fa088,#1e9b8a,#1fa188,#1fa287,#22a785,#21a685,#23a983,#2eb37c,#32b67a,#34b679,#2db27d,#22a785)"></i><i style="background:linear-gradient(#32648e,#34618d,#3f4889,#3f4788,#39558c,#34618d,#2b748e,#26828e,#228b8d,#20928c,#1f998a,#1fa187,#1f9e89,#1fa187,#1f9f88,#1f9a8a,#1f9a8a,#1f948c,#218f8d,#25848e,#2a788e,#277e8e,#26818e,#26828e,#24868e,#228b8d,#1f988b,#1f978b,#1e9b8a,#1f988b,#228d8d)"></i><i style="background:linear-gradient(#3a548c,#3b528b,#414487,#424186,#3e4a89,#3b518b,#32648e,#2b758e,#26828e,#25838e,#238a8d,#21918c,#23898e,#238a8d,#23898e,#25848e,#25858e,#277f8e,#297b8e,#2c718e,#34608d,#31668e,#2f6b8e,#2e6d8e,#2c738e,#29798e,#277f8e,#277e8e,#26828e,#26828e,#297a8e)"></i><i style="background:linear-gradient(#443a83,#453882,#46307e,#472f7d,#453781,#433e85,#3b518b,#34618d,#31688e,#31688e,#2e6e8e,#2c738e,#2c718e,#2d718e,#2e6f8e,#2f6c8e,#30698e,#34618d,#38588c,#3b528b,#414487,#3f4889,#3e4c8a,#39568c,#365d8d,#34608d,#33628d,#34618d,#33638d,#34618d,#33628d)"></i><i style="background:linear-gradient(#443983,#46327e,#472c7a,#472a7a,#46327e,#443983,#3f4889,#3a548c,#375b8d,#365d8d,#33638d,#32658e,#33638d,#34618d,#365c8d,#38588c,#39568c,#39558c,#3c508b,#3c4f8a,#404688,#3e4989,#3e4c8a,#39568c,#38588c,#38588c,#39568c,#39558c,#39568c,#3b518b,#3d4e8a)"></i><i style="background:linear-gradient(#39558c,#3b518b,#3f4788,#414287,#404588,#3f4788,#3e4a89,#3c4f8a,#3a548c,#39568c,#375a8c,#38598c,#39568c,#39558c,#3b528b,#3c4f8a,#3b528b,#39568c,#39558c,#3a538b,#3b518b,#3b518b,#3c508b,#3a538b,#39558c,#39558c,#3a538b,#3a538b,#39558c,#3a548c,#3a538b)"></i><i style="background:linear-gradient(#365c8d,#365c8d,#3b528b,#3e4a89,#3d4e8a,#3c4f8a,#3d4d8a,#3d4e8a,#3c508b,#3b528b,#3a548c,#39558c,#39558c,#39558c,#3a548c,#3c508b,#3b528b,#38588c,#38598c,#38598c,#38588c,#3a548c,#3b518b,#3b518b,#3b528b,#3b528b,#3c508b,#3c4f8a,#3a538b,#3a548c,#3a538b)"></i><i style="background:linear-gradient(#38598c,#375a8c,#3b518b,#3e4c8a,#3b518b,#3b528b,#3c4f8a,#3d4e8a,#3d4e8a,#3c4f8a,#3b528b,#3a548c,#39558c,#39568c,#39558c,#3b518b,#3a538b,#375a8c,#355e8d,#355e8d,#375a8c,#3a538b,#3c4f8a,#3c508b,#3b518b,#3b518b,#3c4f8a,#3d4e8a,#3c4f8a,#3c4f8a,#3d4d8a)"></i><i style="background:linear-gradient(#39568c,#38588c,#3a538b,#3c4f8a,#3a538b,#39558c,#3a538b,#3c508b,#3e4a89,#3f4889,#3e4c8a,#3c508b,#3a538b,#3a548c,#3a548c,#3a548c,#3a548c,#38598c,#355f8d,#355f8d,#38598c,#3a538b,#3c508b,#3b518b,#3b528b,#3c508b,#3c4f8a,#3d4d8a,#3d4d8a,#3e4c8a,#3e4989)"></i><i style="background:linear-gradient(#38598c,#375b8d,#39568c,#3b528b,#39558c,#375a8c,#375a8c,#3a548c,#3d4d8a,#3f4889,#3e4a89,#3c4f8a,#3a548c,#39568c,#39558c,#39558c,#3a538b,#39558c,#375a8c,#38598c,#3a538b,#3b528b,#3b518b,#3b518b,#3a538b,#3a538b,#3b528b,#3c4f8a,#3d4d8a,#3f4889,#414487)"></i><i style="background:linear-gradient(#375b8d,#365d8d,#38598c,#3a548c,#39568c,#365d8d,#365d8d,#38598c,#3c508b,#3e4c8a,#3c4f8a,#3b528b,#39568c,#375a8c,#38598c,#3a548c,#3b528b,#3b528b,#3a548c,#39558c,#3a548c,#39558c,#3b528b,#3c508b,#3b518b,#3b528b,#3a538b,#3b518b,#3c4f8a,#3e4a89,#404688)"></i><i style="background:linear-gradient(#39568c,#375a8c,#38588c,#3a548c,#39558c,#365c8d,#34618d,#33628d,#375a8c,#3c508b,#3c508b,#3a548c,#38598c,#365d8d,#38598c,#3b518b,#3d4e8a,#3d4d8a,#3b518b,#39568c,#375b8d,#365c8d,#38588c,#3a538b,#3b528b,#3c508b,#3c508b,#3c508b,#3d4e8a,#3e4c8a,#3f4889)"></i><i style="background:linear-gradient(#3b528b,#39568c,#375a8c,#38588c,#39558c,#375b8d,#34608d,#31688e,#32658e,#39568c,#3a538b,#38588c,#355e8d,#33638d,#375b8d,#3b518b,#3d4d8a,#3e4c8a,#3d4d8a,#3b528b,#39568c,#375a8c,#375a8c,#38598c,#39568c,#3b518b,#3c4f8a,#3c4f8a,#3c4f8a,#3d4d8a,#3d4d8a)"></i><i style="background:linear-gradient(#3d4e8a,#3a538b,#365c8d,#365c8d,#39568c,#38598c,#365d8d,#31688e,#31678e,#375a8c,#39558c,#365c8d,#32658e,#306a8e,#34618d,#39558c,#3c508b,#3d4d8a,#3d4d8a,#3c4f8a,#3c508b,#3b528b,#3a548c,#38598c,#375a8c,#39558c,#3b528b,#3b528b,#3c508b,#3c4f8a,#3c4f8a)"></i><i style="background:linear-gradient(#3b518b,#39558c,#375b8d,#375b8d,#39558c,#39568c,#365c8d,#31678e,#31668e,#375a8c,#38588c,#365d8d,#31668e,#2f6b8e,#33628d,#39568c,#3b528b,#3c4f8a,#3e4c8a,#3d4d8a,#3d4d8a,#3c4f8a,#3a538b,#39568c,#38588c,#38588c,#39568c,#3a548c,#3b518b,#3c508b,#3b518b)"></i><i style="background:linear-gradient(#38598c,#375b8d,#38598c,#38588c,#39558c,#39558c,#365c8d,#32648e,#33628d,#375b8d,#38598c,#375b8d,#355f8d,#32658e,#34608d,#39558c,#3b518b,#3c4f8a,#3e4a89,#3e4c8a,#3c508b,#39558c,#375b8d,#365c8d,#365c8d,#375b8d,#38598c,#39558c,#3b528b,#3c4f8a,#3d4e8a)"></i><i style="background:linear-gradient(#34618d,#33628d,#375b8d,#38588c,#38598c,#38598c,#365c8d,#355f8d,#355e8d,#375b8d,#375a8c,#38598c,#365c8d,#34618d,#365d8d,#39558c,#3b518b,#3d4e8a,#3e4a89,#3e4a89,#3b518b,#39558c,#375a8c,#365c8d,#365c8d,#38598c,#39568c,#39568c,#3a538b,#3d4d8a,#3e4989)"></i><i style="background:linear-gradient(#32658e,#31668e,#355f8d,#375b8d,#375a8c,#375b8d,#365c8d,#365d8d,#355e8d,#365d8d,#365c8d,#375b8d,#365c8d,#355e8d,#375b8d,#38588c,#39568c,#3a538b,#3d4e8a,#3e4c8a,#3c508b,#3b528b,#3a548c,#38588c,#38598c,#39568c,#39568c,#38598c,#39568c,#3c4f8a,#3e4c8a)"></i><i style="background:linear-gradient(#32658e,#31678e,#33628d,#365c8d,#38598c,#38598c,#365c8d,#355f8d,#34608d,#355e8d,#365d8d,#365c8d,#365c8d,#365d8d,#375b8d,#38598c,#38588c,#3a538b,#3d4d8a,#3e4a89,#3c4f8a,#3b518b,#3b528b,#3a548c,#39558c,#3a548c,#39568c,#375b8d,#375a8c,#3a538b,#3b518b)"></i><i style="background:linear-gradient(#31688e,#31688e,#34618d,#375b8d,#38598c,#38588c,#375b8d,#355f8d,#355f8d,#365d8d,#365d8d,#365d8d,#375a8c,#375a8c,#375b8d,#375a8c,#39558c,#3b518b,#3e4c8a,#3e4c8a,#3c508b,#3b518b,#3b528b,#39558c,#39558c,#39558c,#38598c,#375b8d,#38598c,#39558c,#39568c)"></i><i style="background:linear-gradient(#31688e,#31688e,#34608d,#375a8c,#38598c,#38598c,#38598c,#375b8d,#365c8d,#375b8d,#365c8d,#365d8d,#375b8d,#38598c,#38598c,#38588c,#3a538b,#3b518b,#3d4e8a,#3c4f8a,#3a538b,#3a538b,#39558c,#375a8c,#375a8c,#38588c,#375a8c,#375b8d,#38588c,#38588c,#38598c)"></i><i style="background:linear-gradient(#32658e,#32658e,#365d8d,#39568c,#38588c,#375a8c,#38588c,#38588c,#375b8d,#375b8d,#375b8d,#365c8d,#365c8d,#365c8d,#38598c,#3a538b,#3c508b,#3c508b,#3b518b,#3a538b,#38588c,#38588c,#38598c,#375a8c,#375b8d,#375a8c,#38598c,#38598c,#375b8d,#375a8c,#38598c)"></i><i style="background:linear-gradient(#33628d,#33628d,#375b8d,#38588c,#365d8d,#355f8d,#365d8d,#365c8d,#34608d,#34608d,#355f8d,#355f8d,#355e8d,#34608d,#375b8d,#39568c,#39568c,#375b8d,#355e8d,#34608d,#34618d,#33638d,#32648e,#32648e,#31668e,#32658e,#33628d,#32648e,#31678e,#31668e,#33628d)"></i><i style="background:linear-gradient(#2a768e,#2b748e,#2c718e,#2b758e,#26818e,#23898e,#218f8d,#218f8d,#21908d,#218f8d,#238a8d,#26828e,#277e8e,#26828e,#277f8e,#277f8e,#26818e,#23898e,#20928c,#1f978b,#1f948c,#1f958b,#20928c,#20938c,#1f968b,#1f968b,#1f958b,#1f998a,#1f9a8a,#20938c,#23888e)"></i><i style="background:linear-gradient(#287c8e,#2a778e,#2a768e,#297b8e,#228d8d,#1f998a,#1fa088,#1fa287,#1f9e89,#1e9c89,#1f948c,#228c8d,#228b8d,#21918c,#20928c,#20928c,#20928c,#1e9b8a,#22a884,#2ab07f,#29af7f,#2cb17e,#25ab82,#25ab82,#28ae80,#2ab07f,#25ab82,#2db27d,#37b878,#29af7f,#1f9e89)"></i><i style="background:linear-gradient(#2a768e,#2c738e,#2a768e,#287c8e,#228d8d,#1f958b,#1e9b8a,#1f9e89,#1f978b,#21918c,#238a8d,#26828e,#23888e,#21908d,#1f958b,#1f988b,#1f968b,#1f9e89,#23a983,#29af7f,#2cb17e,#37b878,#2ab07f,#26ad81,#2cb17e,#2db27d,#26ad81,#34b679,#4cc26c,#44bf70,#28ae80)"></i><i style="background:linear-gradient(#2c718e,#2d708e,#2a768e,#297b8e,#24868e,#228c8d,#21918c,#20928c,#21918c,#24878e,#27808e,#287d8e,#26818e,#24878e,#21918c,#1f998a,#1e9b8a,#1fa187,#21a685,#24aa83,#25ab82,#27ad81,#23a983,#20a486,#25ab82,#24aa83,#25ac82,#35b779,#54c568,#5cc863,#3fbc73)"></i><i style="background:linear-gradient(#2e6f8e,#2f6c8e,#2f6c8e,#2e6f8e,#2a778e,#287c8e,#25838e,#23898e,#228c8d,#25848e,#287c8e,#297a8e,#297a8e,#27808e,#228b8d,#1f9a8a,#1fa187,#22a785,#22a884,#21a685,#20a386,#1f9f88,#1f998a,#20938c,#1f988b,#1e9b8a,#1fa187,#29af7f,#3dbc74,#46c06f,#32b67a)"></i><i style="background:linear-gradient(#3a538b,#3b518b,#3b528b,#38588c,#355e8d,#32648e,#2f6b8e,#2c738e,#2a788e,#2c728e,#2f6c8e,#306a8e,#2f6c8e,#2d718e,#287c8e,#218f8d,#1e9d89,#20a386,#1fa287,#1e9c89,#1f958b,#218f8d,#23888e,#25848e,#25858e,#238a8d,#218f8d,#1fa187,#27ad81,#2eb37c,#22a884)"></i><i style="background:linear-gradient(#424086,#424186,#3f4889,#3c508b,#38598c,#34608d,#33638d,#2e6d8e,#2d718e,#2e6e8e,#30698e,#31688e,#31668e,#31678e,#2c718e,#25838e,#21908d,#1f998a,#20928c,#23898e,#277e8e,#2a788e,#2b758e,#2b758e,#2b748e,#2a788e,#277e8e,#20938c,#20a386,#28ae80,#20a386)"></i><i style="background:linear-gradient(#39558c,#39558c,#38588c,#375a8c,#355e8d,#30698e,#2c718e,#287c8e,#297b8e,#2a778e,#2c728e,#2d708e,#2f6c8e,#2e6d8e,#2a778e,#25838e,#238a8d,#21908d,#24868e,#297b8e,#2f6b8e,#31678e,#32658e,#31668e,#32658e,#31688e,#2e6d8e,#277f8e,#20928c,#1fa088,#1f9a8a)"></i><i style="background:linear-gradient(#3b518b,#3c4f8a,#3e4a89,#3e4a89,#3d4d8a,#34608d,#2e6e8e,#2a788e,#2a778e,#2d718e,#31678e,#34608d,#365d8d,#33638d,#2f6c8e,#2c718e,#29798e,#2a778e,#2d708e,#32648e,#3a548c,#3a538b,#39558c,#3c508b,#3b528b,#3a548c,#365d8d,#306a8e,#297a8e,#23888e,#25858e)"></i><i style="background:linear-gradient(#3d4e8a,#3e4a89,#414487,#404688,#3d4d8a,#34618d,#2d708e,#2a778e,#297a8e,#2c718e,#2e6d8e,#31668e,#365c8d,#34608d,#31688e,#2d718e,#2a788e,#2c738e,#2f6c8e,#32648e,#38598c,#39558c,#375a8c,#3c508b,#39568c,#38598c,#32648e,#2f6c8e,#2a768e,#26818e,#297b8e)"></i><i style="background:linear-gradient(#3f4889,#3f4788,#424086,#433d84,#3e4c8a,#355f8d,#2e6e8e,#2a768e,#2a788e,#2a778e,#2a778e,#2c738e,#32648e,#355f8d,#32658e,#2a768e,#27808e,#29798e,#2c728e,#31678e,#355e8d,#365d8d,#365c8d,#39558c,#375a8c,#34608d,#30698e,#2d718e,#297b8e,#27808e,#2a768e)"></i><i style="background:linear-gradient(#3f4889,#404688,#443b84,#453581,#3f4889,#34618d,#2e6e8e,#2c728e,#2b748e,#29798e,#2b758e,#2c738e,#30698e,#33628d,#31668e,#29798e,#24868e,#25848e,#277e8e,#2c738e,#306a8e,#31688e,#31678e,#33638d,#32658e,#2e6f8e,#2a778e,#287d8e,#228c8d,#238a8d,#27808e)"></i><i style="background:linear-gradient(#3c4f8a,#3e4989,#453581,#46337f,#3e4989,#31668e,#2b758e,#2a768e,#297b8e,#277e8e,#2b758e,#2c728e,#2f6c8e,#30698e,#2e6f8e,#26828e,#228d8d,#218f8d,#24878e,#26818e,#29798e,#2c738e,#2b758e,#2b758e,#2a768e,#277e8e,#25858e,#228d8d,#1e9b8a,#1f9a8a,#1f958b)"></i><i style="background:linear-gradient(#3c508b,#3f4889,#472e7c,#46307e,#3e4989,#30698e,#277e8e,#26828e,#24878e,#24868e,#29798e,#2b748e,#2e6f8e,#2d718e,#287c8e,#228c8d,#20938c,#20938c,#228d8d,#238a8d,#24868e,#27808e,#24868e,#25858e,#26828e,#25858e,#218f8d,#1f978b,#1fa187,#1fa187,#1f9f88)"></i><i style="background:linear-gradient(#39558c,#3e4c8a,#472e7c,#482979,#424086,#34608d,#2b748e,#27808e,#24868e,#25848e,#2a788e,#2d708e,#2f6c8e,#2f6c8e,#29798e,#24878e,#23898e,#23898e,#24878e,#25858e,#24868e,#277e8e,#25858e,#26828e,#287d8e,#287d8e,#25848e,#228d8d,#20928c,#21918c,#23898e)"></i><i style="background:linear-gradient(#30698e,#375a8c,#453781,#472a7a,#424186,#375a8c,#2e6f8e,#26828e,#24878e,#23898e,#26828e,#297a8e,#29798e,#2b758e,#29798e,#25838e,#26828e,#26818e,#277f8e,#287d8e,#277f8e,#2a788e,#287c8e,#2a778e,#2c738e,#2b748e,#297b8e,#25858e,#228b8d,#25838e,#2b758e)"></i><i style="background:linear-gradient(#2a788e,#2f6b8e,#3b518b,#424086,#3c508b,#32658e,#29798e,#238a8d,#218f8d,#1f978b,#1f958b,#21908d,#1f948c,#21918c,#238a8d,#228b8d,#23888e,#23888e,#25858e,#26828e,#26828e,#26818e,#25838e,#27808e,#277f8e,#25848e,#228b8d,#1f988b,#1e9d89,#1f978b,#23888e)"></i><i style="background:linear-gradient(#24878e,#277e8e,#2d718e,#34608d,#31688e,#2a768e,#23898e,#20938c,#1f978b,#1e9d89,#1f978b,#20928c,#1f978b,#1f978b,#20928c,#1f948c,#1f948c,#1f958b,#1f988b,#1f958b,#1f988b,#1f9e89,#1fa088,#1e9d89,#1e9c89,#1fa187,#1fa287,#2db27d,#35b779,#3aba76,#25ac82)"></i><i style="background:linear-gradient(#20928c,#218f8d,#26828e,#2a788e,#27808e,#25858e,#20928c,#1f968b,#1e9d89,#1f9e89,#1f988b,#21918c,#1f958b,#1e9c89,#1f9a8a,#1e9c89,#1fa088,#1fa188,#20a386,#1fa188,#21a585,#26ad81,#2fb47c,#34b679,#2eb37c,#31b57b,#34b679,#5cc863,#73d056,#86d549,#56c667)"></i><i style="background:linear-gradient(#2a768e,#2a778e,#2e6d8e,#31678e,#2e6d8e,#2e6f8e,#2b758e,#287c8e,#23888e,#24878e,#238a8d,#25858e,#218e8d,#1f948c,#1f948c,#1f948c,#1f978b,#1f998a,#1f968b,#1f948c,#1f968b,#1e9d89,#20a486,#24aa83,#22a785,#25ab82,#2db27d,#54c568,#69cd5b,#67cc5c,#3bbb75)"></i><i style="background:linear-gradient(#277e8e,#297b8e,#2d718e,#306a8e,#32658e,#31668e,#2e6f8e,#2a768e,#26828e,#277e8e,#24868e,#25848e,#20928c,#1f998a,#1f998a,#1f988b,#1e9b8a,#1e9c89,#1f998a,#1f9a8a,#1f998a,#1fa287,#20a386,#22a785,#25ab82,#2db27d,#44bf70,#6ccd5a,#70cf57,#63cb5f,#3bbb75)"></i><i style="background:linear-gradient(#1f978b,#228c8d,#26818e,#29798e,#2d708e,#2b758e,#277e8e,#26828e,#218e8d,#228b8d,#228d8d,#228d8d,#1f998a,#1f9f88,#1fa287,#1fa187,#23a983,#20a486,#21a585,#20a386,#1fa187,#23a983,#25ac82,#25ac82,#2cb17e,#35b779,#46c06f,#5ac864,#60ca60,#58c765,#38b977)"></i><i style="background:linear-gradient(#20a486,#1f9a8a,#218e8d,#23888e,#25858e,#218f8d,#20938c,#20928c,#1e9b8a,#1f998a,#1f958b,#1f978b,#1f9f88,#1fa088,#1fa187,#21a585,#27ad81,#20a386,#21a685,#1fa287,#1fa287,#21a585,#25ac82,#29af7f,#31b57b,#35b779,#38b977,#44bf70,#4cc26c,#4ac16d,#2eb37c)"></i><i style="background:linear-gradient(#25848e,#27808e,#2b758e,#2c738e,#29798e,#26828e,#23888e,#25858e,#228b8d,#228c8d,#23898e,#218e8d,#1f978b,#1f998a,#1f9e89,#20a386,#23a983,#1f9f88,#1fa088,#1f9a8a,#1f9a8a,#1f9a8a,#1f9f88,#25ab82,#29af7f,#31b57b,#32b67a,#3dbc74,#42be71,#44bf70,#2fb47c)"></i><i style="background:linear-gradient(#277f8e,#287d8e,#2a768e,#2a768e,#27808e,#23898e,#218f8d,#238a8d,#228b8d,#228b8d,#25858e,#238a8d,#20928c,#1f968b,#1fa188,#21a585,#22a785,#1f9e89,#1f9a8a,#1f948c,#21918c,#21908d,#218e8d,#1f998a,#1fa188,#21a685,#26ad81,#31b57b,#37b878,#3fbc73,#2db27d)"></i><i style="background:linear-gradient(#2a768e,#2c738e,#2d718e,#2c728e,#287c8e,#24868e,#23898e,#25858e,#25858e,#24868e,#277f8e,#26818e,#25848e,#228d8d,#1f978b,#1f9a8a,#1f9e89,#1f968b,#1f948c,#20928c,#24878e,#27808e,#287c8e,#277f8e,#24868e,#228b8d,#1f968b,#1fa188,#26ad81,#32b67a,#25ab82)"></i><i style="background:linear-gradient(#2e6d8e,#2f6b8e,#31688e,#2e6d8e,#297b8e,#25858e,#25858e,#25848e,#26818e,#27808e,#277e8e,#297a8e,#2a778e,#26818e,#218f8d,#20928c,#1f978b,#1f968b,#1f988b,#1f958b,#23898e,#277e8e,#29798e,#2a778e,#27808e,#26828e,#218e8d,#1f998a,#25ab82,#2fb47c,#24aa83)"></i><i style="background:linear-gradient(#31678e,#30698e,#34618d,#33638d,#2c738e,#26828e,#25848e,#228c8d,#23898e,#24878e,#24878e,#27808e,#297a8e,#277f8e,#228c8d,#20928c,#1f988b,#1f968b,#1f998a,#20928c,#228b8d,#27808e,#297b8e,#287c8e,#25858e,#238a8d,#1f948c,#1e9d89,#25ab82,#28ae80,#20a386)"></i><i style="background:linear-gradient(#33638d,#32648e,#375b8d,#38598c,#32658e,#2a768e,#287d8e,#24878e,#23888e,#26828e,#277f8e,#297b8e,#2a768e,#2a788e,#26828e,#23888e,#228d8d,#228b8d,#228b8d,#25848e,#27808e,#29798e,#2c728e,#2c738e,#297b8e,#25838e,#228d8d,#20928c,#1f978b,#1f958b,#23888e)"></i><i style="background:linear-gradient(#3e4c8a,#3e4c8a,#404588,#414287,#3e4989,#365c8d,#31668e,#2e6f8e,#2d708e,#31668e,#34618d,#365d8d,#375a8c,#375b8d,#32658e,#30698e,#2e6e8e,#2e6f8e,#2c718e,#2c718e,#2f6b8e,#32658e,#34608d,#365c8d,#355f8d,#31688e,#2c728e,#2a768e,#2a768e,#2c728e,#31668e)"></i><i style="background:linear-gradient(#3d4d8a,#3d4e8a,#3e4989,#414487,#424186,#3d4e8a,#365c8d,#355f8d,#32648e,#365c8d,#38588c,#3a538b,#3b518b,#3a538b,#365c8d,#32648e,#31678e,#30698e,#2d708e,#2d708e,#32658e,#365c8d,#38588c,#3a548c,#3a538b,#365c8d,#32658e,#31678e,#31688e,#31678e,#355e8d)"></i><i style="background:linear-gradient(#365c8d,#375a8c,#3b518b,#3f4889,#424086,#404588,#3a538b,#3b528b,#39568c,#38588c,#39558c,#38598c,#365c8d,#355e8d,#32648e,#2e6e8e,#2e6e8e,#2d708e,#2c738e,#2d708e,#33638d,#365c8d,#39558c,#38588c,#375b8d,#34618d,#31678e,#32658e,#31668e,#31668e,#33628d)"></i><i style="background:linear-gradient(#2b758e,#2e6d8e,#34608d,#38588c,#3a538b,#3b528b,#38598c,#3a538b,#3d4e8a,#3a548c,#39558c,#34608d,#2f6b8e,#2e6e8e,#2c728e,#297b8e,#297b8e,#2a788e,#297a8e,#2a788e,#2e6d8e,#306a8e,#31678e,#306a8e,#2e6d8e,#2d718e,#2c738e,#2d708e,#2c728e,#2d718e,#2e6d8e)"></i><i style="background:linear-gradient(#26828e,#2b758e,#32658e,#34618d,#33638d,#32658e,#31668e,#355f8d,#38588c,#375a8c,#34618d,#2e6e8e,#297a8e,#277f8e,#25838e,#228c8d,#238a8d,#25848e,#25838e,#25838e,#26818e,#277f8e,#277e8e,#26818e,#26818e,#26828e,#25848e,#26818e,#25838e,#26818e,#287c8e)"></i><i style="background:linear-gradient(#2d718e,#31668e,#3c4f8a,#3f4788,#3c508b,#3c4f8a,#3d4d8a,#3f4788,#443a83,#453781,#414287,#3a538b,#32648e,#2f6b8e,#2c718e,#27808e,#29798e,#2d718e,#2f6c8e,#2e6f8e,#2e6f8e,#30698e,#30698e,#2f6c8e,#2d708e,#2c728e,#2a778e,#297a8e,#27808e,#287c8e,#29798e)"></i><i style="background:linear-gradient(#31668e,#38598c,#433d84,#453581,#404588,#424086,#423f85,#443983,#482979,#482374,#472e7c,#424086,#3a538b,#38598c,#355e8d,#2e6f8e,#31668e,#38598c,#39568c,#34608d,#38588c,#3b518b,#3c508b,#3a538b,#375b8d,#375b8d,#375a8c,#33638d,#306a8e,#32648e,#31678e)"></i></div><svg class="hm" style="left:60px;top:103px" width="277" height="76" viewBox="0 0 277 76" preserveAspectRatio="none"><defs><linearGradient id="g20" gradientUnits="userSpaceOnUse" x1="0" x2="277" y1="0" y2="0"><stop offset="0" stop-color="#595959"/><stop offset="0.00722" stop-color="#5a5a5a"/><stop offset="0.01444" stop-color="#7e7e7e"/><stop offset="0.02166" stop-color="#cfcfcf"/><stop offset="0.02888" stop-color="#ffffff"/><stop offset="0.0361" stop-color="#f5f5f5"/><stop offset="0.04332" stop-color="#c6c6c6"/><stop offset="0.05054" stop-color="#a4a4a4"/><stop offset="0.05776" stop-color="#9b9b9b"/><stop offset="0.06498" stop-color="#b1b1b1"/><stop offset="0.0722" stop-color="#f6f6f6"/><stop offset="0.07942" stop-color="#e0e0e0"/><stop offset="0.08664" stop-color="#d1d1d1"/><stop offset="0.09386" stop-color="#d1d1d1"/><stop offset="0.1011" stop-color="#d1d1d1"/><stop offset="0.1083" stop-color="#d2d2d2"/><stop offset="0.1155" stop-color="#8a8a8a"/><stop offset="0.1227" stop-color="#989898"/><stop offset="0.13" stop-color="#cccccc"/><stop offset="0.1372" stop-color="#bcbcbc"/><stop offset="0.1444" stop-color="#dadada"/><stop offset="0.1516" stop-color="#ffffff"/><stop offset="0.1588" stop-color="#f8f8f8"/><stop offset="0.1661" stop-color="#e2e2e2"/><stop offset="0.1733" stop-color="#dcdcdc"/><stop offset="0.1805" stop-color="#d5d5d5"/><stop offset="0.1877" stop-color="#9c9c9c"/><stop offset="0.1949" stop-color="#a0a0a0"/><stop offset="0.2022" stop-color="#b5b5b5"/><stop offset="0.2094" stop-color="#aaaaaa"/><stop offset="0.2166" stop-color="#b9b9b9"/><stop offset="0.2238" stop-color="#d6d6d6"/><stop offset="0.231" stop-color="#f4f4f4"/><stop offset="0.2383" stop-color="#f2f2f2"/><stop offset="0.2455" stop-color="#dddddd"/><stop offset="0.2527" stop-color="#e8e8e8"/><stop offset="0.2599" stop-color="#e8e8e8"/><stop offset="0.2671" stop-color="#cacaca"/><stop offset="0.2744" stop-color="#b6b6b6"/><stop offset="0.2816" stop-color="#aeaeae"/><stop offset="0.2888" stop-color="#d3d3d3"/><stop offset="0.296" stop-color="#eeeeee"/><stop offset="0.3032" stop-color="#e3e3e3"/><stop offset="0.3105" stop-color="#cfcfcf"/><stop offset="0.3177" stop-color="#bbbbbb"/><stop offset="0.3249" stop-color="#c7c7c7"/><stop offset="0.3321" stop-color="#d2d2d2"/><stop offset="0.3394" stop-color="#d1d1d1"/><stop offset="0.3466" stop-color="#e1e1e1"/><stop offset="0.3538" stop-color="#b0b0b0"/><stop offset="0.361" stop-color="#b3b3b3"/><stop offset="0.3682" stop-color="#dbdbdb"/><stop offset="0.3755" stop-color="#fdfdfd"/><stop offset="0.3827" stop-color="#d4d4d4"/><stop offset="0.3899" stop-color="#737373"/><stop offset="0.3971" stop-color="#595959"/><stop offset="0.4043" stop-color="#6b6b6b"/><stop offset="0.4116" stop-color="#a0a0a0"/><stop offset="0.4188" stop-color="#aeaeae"/><stop offset="0.426" stop-color="#7d7d7d"/><stop offset="0.4332" stop-color="#919191"/><stop offset="0.4404" stop-color="#bdbdbd"/><stop offset="0.4477" stop-color="#eeeeee"/><stop offset="0.4549" stop-color="#cbcbcb"/><stop offset="0.4621" stop-color="#898989"/><stop offset="0.4693" stop-color="#858585"/><stop offset="0.4765" stop-color="#b9b9b9"/><stop offset="0.4838" stop-color="#e2e2e2"/><stop offset="0.491" stop-color="#cbcbcb"/><stop offset="0.4982" stop-color="#9c9c9c"/><stop offset="0.5054" stop-color="#909090"/><stop offset="0.5126" stop-color="#c3c3c3"/><stop offset="0.5199" stop-color="#e0e0e0"/><stop offset="0.5271" stop-color="#e1e1e1"/><stop offset="0.5343" stop-color="#d6d6d6"/><stop offset="0.5415" stop-color="#f6f6f6"/><stop offset="0.5487" stop-color="#fdfdfd"/><stop offset="0.556" stop-color="#f3f3f3"/><stop offset="0.5632" stop-color="#fcfcfc"/><stop offset="0.5704" stop-color="#eeeeee"/><stop offset="0.5776" stop-color="#959595"/><stop offset="0.5848" stop-color="#595959"/><stop offset="0.5921" stop-color="#5a5a5a"/><stop offset="0.5993" stop-color="#9b9b9b"/><stop offset="0.6065" stop-color="#bfbfbf"/><stop offset="0.6137" stop-color="#e2e2e2"/><stop offset="0.6209" stop-color="#f3f3f3"/><stop offset="0.6282" stop-color="#fcfcfc"/><stop offset="0.6354" stop-color="#f8f8f8"/><stop offset="0.6426" stop-color="#dddddd"/><stop offset="0.6498" stop-color="#dedede"/><stop offset="0.657" stop-color="#fefefe"/><stop offset="0.6643" stop-color="#ffffff"/><stop offset="0.6715" stop-color="#f4f4f4"/><stop offset="0.6787" stop-color="#e1e1e1"/><stop offset="0.6859" stop-color="#a8a8a8"/><stop offset="0.6931" stop-color="#9c9c9c"/><stop offset="0.7004" stop-color="#d7d7d7"/><stop offset="0.7076" stop-color="#eaeaea"/><stop offset="0.7148" stop-color="#f7f7f7"/><stop offset="0.722" stop-color="#ffffff"/><stop offset="0.7292" stop-color="#ffffff"/><stop offset="0.7365" stop-color="#ffffff"/><stop offset="0.7437" stop-color="#fefefe"/><stop offset="0.7509" stop-color="#c6c6c6"/><stop offset="0.7581" stop-color="#c7c7c7"/><stop offset="0.7653" stop-color="#e6e6e6"/><stop offset="0.7726" stop-color="#f4f4f4"/><stop offset="0.7798" stop-color="#ffffff"/><stop offset="0.787" stop-color="#eaeaea"/><stop offset="0.7942" stop-color="#959595"/><stop offset="0.8014" stop-color="#7e7e7e"/><stop offset="0.8087" stop-color="#767676"/><stop offset="0.8159" stop-color="#808080"/><stop offset="0.8231" stop-color="#939393"/><stop offset="0.8303" stop-color="#696969"/><stop offset="0.8375" stop-color="#595959"/><stop offset="0.8448" stop-color="#595959"/><stop offset="0.852" stop-color="#aaaaaa"/><stop offset="0.8592" stop-color="#fafafa"/><stop offset="0.8664" stop-color="#f5f5f5"/><stop offset="0.8736" stop-color="#d8d8d8"/><stop offset="0.8809" stop-color="#cfcfcf"/><stop offset="0.8881" stop-color="#f7f7f7"/><stop offset="0.8953" stop-color="#ffffff"/><stop offset="0.9025" stop-color="#ffffff"/><stop offset="0.9097" stop-color="#ffffff"/><stop offset="0.917" stop-color="#dcdcdc"/><stop offset="0.9242" stop-color="#dedede"/><stop offset="0.9314" stop-color="#eeeeee"/><stop offset="0.9386" stop-color="#e5e5e5"/><stop offset="0.9458" stop-color="#dedede"/><stop offset="0.9531" stop-color="#c7c7c7"/><stop offset="0.9603" stop-color="#c9c9c9"/><stop offset="0.9675" stop-color="#d7d7d7"/><stop offset="0.9747" stop-color="#cfcfcf"/><stop offset="0.9819" stop-color="#bfbfbf"/><stop offset="0.9892" stop-color="#bababa"/><stop offset="0.9964" stop-color="#acacac"/></linearGradient><mask id="m20" maskUnits="userSpaceOnUse" x="0" y="0" width="277" height="76"><rect width="277" height="76" fill="url(#g20)"/></mask><linearGradient id="g21" gradientUnits="userSpaceOnUse" x1="0" x2="277" y1="0" y2="0"><stop offset="0" stop-color="#494949"/><stop offset="0.00722" stop-color="#787878"/><stop offset="0.01444" stop-color="#a0a0a0"/><stop offset="0.02166" stop-color="#b7b7b7"/><stop offset="0.02888" stop-color="#959595"/><stop offset="0.0361" stop-color="#c8c8c8"/><stop offset="0.04332" stop-color="#ffffff"/><stop offset="0.05054" stop-color="#ffffff"/><stop offset="0.05776" stop-color="#ffffff"/><stop offset="0.06498" stop-color="#bebebe"/><stop offset="0.0722" stop-color="#b6b6b6"/><stop offset="0.07942" stop-color="#ffffff"/><stop offset="0.08664" stop-color="#ffffff"/><stop offset="0.09386" stop-color="#ffffff"/><stop offset="0.1011" stop-color="#ffffff"/><stop offset="0.1083" stop-color="#ffffff"/><stop offset="0.1155" stop-color="#ffffff"/><stop offset="0.1227" stop-color="#b5b5b5"/><stop offset="0.13" stop-color="#6b6b6b"/><stop offset="0.1372" stop-color="#9a9a9a"/><stop offset="0.1444" stop-color="#888888"/><stop offset="0.1516" stop-color="#787878"/><stop offset="0.1588" stop-color="#7e7e7e"/><stop offset="0.1661" stop-color="#989898"/><stop offset="0.1733" stop-color="#a8a8a8"/><stop offset="0.1805" stop-color="#c8c8c8"/><stop offset="0.1877" stop-color="#909090"/><stop offset="0.1949" stop-color="#787878"/><stop offset="0.2022" stop-color="#b1b1b1"/><stop offset="0.2094" stop-color="#6e6e6e"/><stop offset="0.2166" stop-color="#404040"/><stop offset="0.2238" stop-color="#797979"/><stop offset="0.231" stop-color="#afafaf"/><stop offset="0.2383" stop-color="#9b9b9b"/><stop offset="0.2455" stop-color="#eeeeee"/><stop offset="0.2527" stop-color="#ffffff"/><stop offset="0.2599" stop-color="#f0f0f0"/><stop offset="0.2671" stop-color="#c1c1c1"/><stop offset="0.2744" stop-color="#808080"/><stop offset="0.2816" stop-color="#aeaeae"/><stop offset="0.2888" stop-color="#dedede"/><stop offset="0.296" stop-color="#8d8d8d"/><stop offset="0.3032" stop-color="#939393"/><stop offset="0.3105" stop-color="#d1d1d1"/><stop offset="0.3177" stop-color="#d1d1d1"/><stop offset="0.3249" stop-color="#b6b6b6"/><stop offset="0.3321" stop-color="#939393"/><stop offset="0.3394" stop-color="#575757"/><stop offset="0.3466" stop-color="#606060"/><stop offset="0.3538" stop-color="#9e9e9e"/><stop offset="0.361" stop-color="#dadada"/><stop offset="0.3682" stop-color="#ffffff"/><stop offset="0.3755" stop-color="#ffffff"/><stop offset="0.3827" stop-color="#ffffff"/><stop offset="0.3899" stop-color="#898989"/><stop offset="0.3971" stop-color="#a2a2a2"/><stop offset="0.4043" stop-color="#fefefe"/><stop offset="0.4116" stop-color="#fcfcfc"/><stop offset="0.4188" stop-color="#d6d6d6"/><stop offset="0.426" stop-color="#bababa"/><stop offset="0.4332" stop-color="#eeeeee"/><stop offset="0.4404" stop-color="#ffffff"/><stop offset="0.4477" stop-color="#d5d5d5"/><stop offset="0.4549" stop-color="#919191"/><stop offset="0.4621" stop-color="#d5d5d5"/><stop offset="0.4693" stop-color="#c5c5c5"/><stop offset="0.4765" stop-color="#ababab"/><stop offset="0.4838" stop-color="#dadada"/><stop offset="0.491" stop-color="#b8b8b8"/><stop offset="0.4982" stop-color="#b9b9b9"/><stop offset="0.5054" stop-color="#b8b8b8"/><stop offset="0.5126" stop-color="#7e7e7e"/><stop offset="0.5199" stop-color="#6c6c6c"/><stop offset="0.5271" stop-color="#8d8d8d"/><stop offset="0.5343" stop-color="#d9d9d9"/><stop offset="0.5415" stop-color="#d5d5d5"/><stop offset="0.5487" stop-color="#e3e3e3"/><stop offset="0.556" stop-color="#ffffff"/><stop offset="0.5632" stop-color="#ffffff"/><stop offset="0.5704" stop-color="#e3e3e3"/><stop offset="0.5776" stop-color="#c6c6c6"/><stop offset="0.5848" stop-color="#dddddd"/><stop offset="0.5921" stop-color="#e7e7e7"/><stop offset="0.5993" stop-color="#c2c2c2"/><stop offset="0.6065" stop-color="#8a8a8a"/><stop offset="0.6137" stop-color="#b8b8b8"/><stop offset="0.6209" stop-color="#e6e6e6"/><stop offset="0.6282" stop-color="#ffffff"/><stop offset="0.6354" stop-color="#ffffff"/><stop offset="0.6426" stop-color="#f5f5f5"/><stop offset="0.6498" stop-color="#f8f8f8"/><stop offset="0.657" stop-color="#ffffff"/><stop offset="0.6643" stop-color="#ffffff"/><stop offset="0.6715" stop-color="#f6f6f6"/><stop offset="0.6787" stop-color="#eaeaea"/><stop offset="0.6859" stop-color="#ffffff"/><stop offset="0.6931" stop-color="#fcfcfc"/><stop offset="0.7004" stop-color="#e7e7e7"/><stop offset="0.7076" stop-color="#c5c5c5"/><stop offset="0.7148" stop-color="#dfdfdf"/><stop offset="0.722" stop-color="#f6f6f6"/><stop offset="0.7292" stop-color="#fbfbfb"/><stop offset="0.7365" stop-color="#ffffff"/><stop offset="0.7437" stop-color="#bcbcbc"/><stop offset="0.7509" stop-color="#a8a8a8"/><stop offset="0.7581" stop-color="#e5e5e5"/><stop offset="0.7653" stop-color="#ffffff"/><stop offset="0.7726" stop-color="#ffffff"/><stop offset="0.7798" stop-color="#ffffff"/><stop offset="0.787" stop-color="#c8c8c8"/><stop offset="0.7942" stop-color="#a6a6a6"/><stop offset="0.8014" stop-color="#f5f5f5"/><stop offset="0.8087" stop-color="#f2f2f2"/><stop offset="0.8159" stop-color="#bbbbbb"/><stop offset="0.8231" stop-color="#bdbdbd"/><stop offset="0.8303" stop-color="#c4c4c4"/><stop offset="0.8375" stop-color="#c3c3c3"/><stop offset="0.8448" stop-color="#cccccc"/><stop offset="0.852" stop-color="#898989"/><stop offset="0.8592" stop-color="#5e5e5e"/><stop offset="0.8664" stop-color="#7a7a7a"/><stop offset="0.8736" stop-color="#949494"/><stop offset="0.8809" stop-color="#a4a4a4"/><stop offset="0.8881" stop-color="#4a4a4a"/><stop offset="0.8953" stop-color="#3f3f3f"/><stop offset="0.9025" stop-color="#cbcbcb"/><stop offset="0.9097" stop-color="#ffffff"/><stop offset="0.917" stop-color="#f8f8f8"/><stop offset="0.9242" stop-color="#fdfdfd"/><stop offset="0.9314" stop-color="#ffffff"/><stop offset="0.9386" stop-color="#ffffff"/><stop offset="0.9458" stop-color="#f5f5f5"/><stop offset="0.9531" stop-color="#d9d9d9"/><stop offset="0.9603" stop-color="#e4e4e4"/><stop offset="0.9675" stop-color="#e8e8e8"/><stop offset="0.9747" stop-color="#e0e0e0"/><stop offset="0.9819" stop-color="#f3f3f3"/><stop offset="0.9892" stop-color="#ffffff"/><stop offset="0.9964" stop-color="#ffffff"/></linearGradient><mask id="m21" maskUnits="userSpaceOnUse" x="0" y="0" width="277" height="76"><rect width="277" height="76" fill="url(#g21)"/></mask></defs><g fill="none" stroke-linecap="round" stroke-linejoin="round"><g mask="url(#m20)"><g filter="url(#bl)"><path d="M0.3,70L1.6,69.9L2.8,70L4,70.1L5.3,70.0" stroke="#9bd93c" stroke-width="2.2"/><path d="M0.3,65.1L1.6,65.2L2.8,65.1L4,64.9L5.3,64.7" stroke="#77d153" stroke-width="2.2"/><path d="M5.9,69.4L7.3,69L8.7,68.6L10.1,68.5L11.6,68.8L13,69.2L14.4,69.3L15.8,69.7L17.2,69.9" stroke="#f1e51d" stroke-width="2.6"/><path d="M5.9,64L7.3,63.5L8.7,63.1L10.1,62.9L11.6,62.8L13,62.9L14.4,63.1L15.8,63.7L17.2,64.3" stroke="#fde725" stroke-width="2.5"/><path d="M19.9,68.2L21.2,68.6L22.5,68.7L23.8,68.5L25.1,68.6L26.4,69L27.7,69.2" stroke="#fde725" stroke-width="2.8"/><path d="M19.9,62L21.2,61.9L22.5,62.2L23.8,62.6L25.1,62.8L26.4,62.9L27.7,63.1" stroke="#fde725" stroke-width="2.7"/><path d="M28.3,68.8L29.6,69.4L30.8,69.8L32.1,70.5L33.3,71.4" stroke="#7ad151" stroke-width="2.3"/><path d="M28.3,63.2L29.6,64.1L30.8,65.1L32.1,65.8L33.3,66.3" stroke="#84d44b" stroke-width="2.2"/><path d="M33.9,70.7L35.1,70.9L36.3,71.2L37.5,71.6" stroke="#3bbb75" stroke-width="1.7"/><path d="M33.9,66.5L35.1,67.2L36.3,67.8L37.5,68.5" stroke="#29af7f" stroke-width="1.7"/><path d="M33.9,62.2L35.1,63L36.3,64L37.5,65.0" stroke="#22a884" stroke-width="1.6"/><path d="M40.9,70.7L42.2,70.5L43.5,70.6L44.8,70.5L46.1,70.4L47.4,70.4L48.7,70.2" stroke="#84d44b" stroke-width="2"/><path d="M40.9,66.8L42.2,66.5L43.5,66.3L44.8,66.1L46.1,65.8L47.4,65.7L48.7,65.7" stroke="#81d34d" stroke-width="2"/><path d="M40.9,61.7L42.2,61.9L43.5,61.7L44.8,61.6L46.1,61.7L47.4,61.7L48.7,61.8" stroke="#e5e419" stroke-width="1.9"/><path d="M51.3,70.5L52.8,70.2L54.2,69.8L55.6,69.3L57.1,69.0" stroke="#a2da37" stroke-width="2.3"/><path d="M51.3,65.2L52.8,64.8L54.2,64.5L55.6,64.5L57.1,64.6" stroke="#81d34d" stroke-width="2.2"/><path d="M62.6,70.1L63.9,69.7L65.2,69.5L66.4,69.7L67.7,70.1" stroke="#fbe723" stroke-width="2.3"/><path d="M62.6,64.7L63.9,64.5L65.2,64.4L66.4,64.6L67.7,64.9" stroke="#63cb5f" stroke-width="2.2"/><path d="M70.3,68L71.8,69.1L73.2,70.3L74.7,71.3" stroke="#5ec962" stroke-width="2.5"/><path d="M70.3,60.9L71.8,62.8L73.2,64.8L74.7,66.7" stroke="#67cc5c" stroke-width="2.4"/><path d="M75.3,70.5L76.6,70.7L77.9,70.7L79.2,70.6L80.5,70.8L81.8,71L83.1,71.0" stroke="#b8de29" stroke-width="1.9"/><path d="M75.3,66.4L76.6,66.5L77.9,66.5L79.2,66.4L80.5,66.6L81.8,66.6L83.1,66.4" stroke="#d0e11c" stroke-width="1.8"/><path d="M75.3,61.8L76.6,62.1L77.9,62.3L79.2,62.2L80.5,62L81.8,62L83.1,62.0" stroke="#e5e419" stroke-width="1.8"/><path d="M88.6,69.1L89.9,69.4L91.2,69.4L92.4,69.3L93.7,69.2" stroke="#dae319" stroke-width="2.6"/><path d="M88.6,63.5L89.9,63.3L91.2,63.6L92.4,63.6L93.7,63.4" stroke="#b2dd2d" stroke-width="2.5"/><path d="M98.3,70.6L99.8,70.9L101.3,70.9" stroke="#90d743" stroke-width="1.9"/><path d="M98.3,66.3L99.8,66.6L101.3,66.7" stroke="#77d153" stroke-width="1.9"/><path d="M98.3,62.3L99.8,62.3L101.3,62.0" stroke="#60ca60" stroke-width="1.8"/><path d="M122.8,69.3L124.1,69.1L125.4,69.1L126.7,69L128,69.1L129.3,69.5" stroke="#fde725" stroke-width="2.6"/><path d="M122.8,64L124.1,63.3L125.4,62.9L126.7,63L128,63.5L129.3,64.2" stroke="#fde725" stroke-width="2.5"/><path d="M129.9,69.7L131.3,69.7L132.7,69.7" stroke="#a0da39" stroke-width="2.5"/><path d="M129.9,63.8L131.3,63.6L132.7,63.6" stroke="#9bd93c" stroke-width="2.4"/><path d="M133.3,69.3L134.8,69.3L136.2,69.4L137.7,69.3L139.2,69.1" stroke="#dfe318" stroke-width="2.6"/><path d="M133.3,63.4L134.8,63.6L136.2,63.6L137.7,63.8L139.2,63.8" stroke="#dae319" stroke-width="2.5"/><path d="M141.3,69.7L142.3,69.3L143.4,69.4" stroke="#75d054" stroke-width="2.5"/><path d="M141.3,63.9L142.3,63.7L143.4,63.9" stroke="#81d34d" stroke-width="2.4"/><path d="M147.3,69.7L148.6,69.8L149.8,70.1L151.1,70.0" stroke="#9dd93b" stroke-width="2.3"/><path d="M147.3,64.5L148.6,64.6L149.8,64.7L151.1,64.9" stroke="#89d548" stroke-width="2.3"/><path d="M155.9,68.7L157,68.9L158.1,69.0" stroke="#2db27d" stroke-width="2.7"/><path d="M155.9,62.7L157,62.8L158.1,62.9" stroke="#21918c" stroke-width="2.6"/><path d="M160.8,70.8L162,71L163.2,71L164.5,71L165.7,71.3" stroke="#6ccd5a" stroke-width="1.9"/><path d="M160.8,66.4L162,66.4L163.2,66.4L164.5,66.9L165.7,67.5" stroke="#a8db34" stroke-width="1.8"/><path d="M160.8,61.8L162,62.4L163.2,62.6L164.5,62.8L165.7,63.2" stroke="#67cc5c" stroke-width="1.8"/><path d="M169.9,70.5L171.2,70.5L172.5,70.5L173.8,70.8L175.1,71L176.4,70.8L177.7,70.7" stroke="#54c568" stroke-width="2"/><path d="M169.9,65.9L171.2,66.3L172.5,66.4L173.8,66.1L175.1,66.1L176.4,66.1L177.7,66.3" stroke="#dae319" stroke-width="2"/><path d="M169.9,61.4L171.2,61.3L172.5,61.3L173.8,61.3L175.1,61.1L176.4,61.1L177.7,61.5" stroke="#75d054" stroke-width="1.9"/><path d="M181.1,68.8L182.5,69.1L184,69.1L185.4,69L186.8,69L188.3,68.9L189.7,68.7" stroke="#fde725" stroke-width="2.6"/><path d="M181.1,62.9L182.5,62.8L184,62.8L185.4,63L186.8,63.3L188.3,63.6L189.7,63.6" stroke="#efe51c" stroke-width="2.5"/><path d="M191.6,69.8L193,70.1L194.4,70.2L195.9,70.1L197.3,70.2L198.7,70.0" stroke="#40bd72" stroke-width="2.2"/><path d="M191.6,64.5L193,64.9L194.4,65.1L195.9,65.2L197.3,65.2L198.7,65.0" stroke="#a5db36" stroke-width="2.2"/><path d="M202.1,71.5L203.6,71.4L205.2,71.3L206.7,71.3" stroke="#40bd72" stroke-width="1.7"/><path d="M202.1,67.3L203.6,67.6L205.2,67.5L206.7,67.1" stroke="#3bbb75" stroke-width="1.7"/><path d="M202.1,63.8L203.6,63.7L205.2,63.8L206.7,63.7" stroke="#3aba76" stroke-width="1.6"/><path d="M210.6,68.4L212,68.8L213.4,69.3L214.8,69.8L216.3,69.9L217.7,70.3L219.1,70.9L220.5,71.6" stroke="#d5e21a" stroke-width="2.3"/><path d="M210.6,62.3L212,63L213.4,63.7L214.8,64.3L216.3,65.1L217.7,66.1L219.1,67L220.5,67.6" stroke="#dae319" stroke-width="2.2"/><path d="M241.3,69.6L242.7,69.6L244.2,69.6L245.6,69.7L247.1,70L248.5,70.2" stroke="#89d548" stroke-width="2.2"/><path d="M241.3,64.8L242.7,64.8L244.2,64.9L245.6,64.9L247.1,65L248.5,65.2" stroke="#a2da37" stroke-width="2.2"/><path d="M251.8,70.3L253.3,70.4L254.7,70.3L256.2,70.1" stroke="#4ac16d" stroke-width="2.1"/><path d="M251.8,66L253.3,65.7L254.7,65.7L256.2,65.9" stroke="#81d34d" stroke-width="2"/><path d="M251.8,61.2L253.3,61.2L254.7,61L256.2,60.7" stroke="#3dbc74" stroke-width="2"/><path d="M258.3,71.9L259.7,71.3L261.1,70.6L262.6,70L264,69.5L265.4,69.9L266.9,70.6L268.3,71.1L269.7,71.6" stroke="#f4e61e" stroke-width="1.9"/><path d="M258.3,68.2L259.7,67.3L261.1,66.4L262.6,65.6L264,64.9L265.4,65.4L266.9,66L268.3,66.9L269.7,68.0" stroke="#efe51c" stroke-width="1.9"/><path d="M258.3,65.2L259.7,63.4L261.1,61.7L262.6,60.4L264,59.6L265.4,60.4L266.9,61.3L268.3,62.6L269.7,64.2" stroke="#a5db36" stroke-width="1.9"/></g></g><g mask="url(#m21)"><g filter="url(#bl)"><path d="M0.3,60.5L1.6,60.2L2.8,59.9L4,59.8L5.3,59.8" stroke="#5ac864" stroke-width="2.1"/><path d="M0.3,55L1.6,55L2.8,54.9L4,54.7L5.3,54.3" stroke="#29af7f" stroke-width="2.1"/><path d="M5.9,58.7L7.3,58.1L8.7,57.3L10.1,56.8L11.6,56.6L13,57.1L14.4,57.5L15.8,57.9L17.2,58.3" stroke="#c0df25" stroke-width="2.4"/><path d="M5.9,52.8L7.3,52L8.7,51.5L10.1,51.1L11.6,50.2L13,50.6L14.4,51.5L15.8,52.2L17.2,52.9" stroke="#8bd646" stroke-width="2.2"/><path d="M5.9,47.4L7.3,46.7L8.7,46L10.1,45.4L11.6,44.9L13,45.3L14.4,45.8L15.8,46.3L17.2,47.3" stroke="#52c569" stroke-width="1.7"/><path d="M5.9,43.4L7.3,42.3L8.7,41.5L10.1,40.9L11.6,40.4L13,41.1L14.4,41.9L15.8,42.5L17.2,43.3" stroke="#24aa83" stroke-width="1.4"/><path d="M5.9,39.5L7.3,38.6L8.7,37.9L10.1,37.1L11.6,36.6L13,37.1L14.4,37.7L15.8,38.5L17.2,39.3" stroke="#1e9d89" stroke-width="1.2"/><path d="M5.9,36.1L7.3,35.2L8.7,34.3L10.1,33.9L11.6,33.6L13,33.9L14.4,34.4L15.8,35.1L17.2,36.0" stroke="#21918c" stroke-width="1"/><path d="M5.9,33.1L7.3,32.2L8.7,31.5L10.1,31L11.6,30.7L13,31.2L14.4,31.6L15.8,32.4L17.2,33.5" stroke="#228c8d" stroke-width="1"/><path d="M19.9,54.9L21.2,55.4L22.5,55.7L23.8,56.2L25.1,56.8L26.4,57L27.7,57.3" stroke="#f4e61e" stroke-width="2.6"/><path d="M19.9,49.1L21.2,49.2L22.5,49.7L23.8,50.1L25.1,50.6L26.4,51.4L27.7,51.8" stroke="#d8e219" stroke-width="2.2"/><path d="M19.9,42.9L21.2,43.4L22.5,44L23.8,44.7L25.1,45.1L26.4,45.6L27.7,45.9" stroke="#bddf26" stroke-width="1.7"/><path d="M19.9,38.5L21.2,39.1L22.5,39.5L23.8,40.1L25.1,40.5L26.4,40.9L27.7,41.5" stroke="#b2dd2d" stroke-width="1.4"/><path d="M19.9,35L21.2,35.5L22.5,36.2L23.8,36.7L25.1,37L26.4,37.2L27.7,37.7" stroke="#69cd5b" stroke-width="1.2"/><path d="M19.9,31.9L21.2,32.3L22.5,32.7L23.8,33.1L25.1,33.6L26.4,34L27.7,34.5" stroke="#3bbb75" stroke-width="1"/><path d="M19.9,28.8L21.2,29.3L22.5,29.7L23.8,30.1L25.1,30.7L26.4,31.3L27.7,31.9" stroke="#25ac82" stroke-width="1"/><path d="M28.3,57.8L29.6,58.8L30.8,59.9L32.1,61L33.3,62.1" stroke="#5cc863" stroke-width="2.1"/><path d="M28.3,51.5L29.6,53.2L30.8,54.6L32.1,56.4L33.3,58.2" stroke="#52c569" stroke-width="2"/><path d="M28.3,46.1L29.6,48L30.8,49.9L32.1,51.5L33.3,53.6" stroke="#50c46a" stroke-width="1.8"/><path d="M28.3,41.7L29.6,43.3L30.8,45.3L32.1,47.1L33.3,49.1" stroke="#35b779" stroke-width="1.5"/><path d="M28.3,38.1L29.6,39.7L30.8,41.5L32.1,43.6L33.3,45.7" stroke="#22a785" stroke-width="1.2"/><path d="M28.3,34.5L29.6,36.3L30.8,38.2L32.1,40.3L33.3,42.5" stroke="#1e9b8a" stroke-width="1.1"/><path d="M33.9,57.8L35.1,59.1L36.3,60.5L37.5,61.8" stroke="#21a685" stroke-width="1.6"/><path d="M33.9,53.6L35.1,55.1L36.3,56.7L37.5,58.7" stroke="#22a785" stroke-width="1.6"/><path d="M33.9,49.6L35.1,51.7L36.3,53.6L37.5,55.8" stroke="#1f9e89" stroke-width="1.5"/><path d="M33.9,45.7L35.1,47.7L36.3,49.9L37.5,52.1" stroke="#23888e" stroke-width="1.3"/><path d="M40.9,57.3L42.2,57.1L43.5,57.4L44.8,57.4L46.1,57.2L47.4,57.2L48.7,57.2" stroke="#75d054" stroke-width="1.9"/><path d="M40.9,52.6L42.2,52.8L43.5,52.7L44.8,52.6L46.1,52.7L47.4,52.8L48.7,52.8" stroke="#77d153" stroke-width="1.8"/><path d="M40.9,48L42.2,48.1L43.5,48.1L44.8,48.1L46.1,48.1L47.4,48.3L48.7,48.0" stroke="#77d153" stroke-width="1.5"/><path d="M40.9,44.3L42.2,44.3L43.5,44.5L44.8,44.6L46.1,44.6L47.4,44.6L48.7,44.9" stroke="#54c568" stroke-width="1.3"/><path d="M40.9,41.1L42.2,41.1L43.5,41.1L44.8,41.1L46.1,41.1L47.4,41.2L48.7,41.2" stroke="#52c569" stroke-width="1.1"/><path d="M40.9,38.3L42.2,38.2L43.5,38.2L44.8,38.3L46.1,38.4L47.4,38.4L48.7,38.3" stroke="#4ec36b" stroke-width="1"/><path d="M40.9,35.7L42.2,35.8L43.5,35.9L44.8,35.8L46.1,35.7L47.4,35.8L48.7,35.9" stroke="#38b977" stroke-width="1"/><path d="M40.9,33.2L42.2,33.4L43.5,33.5L44.8,33.4L46.1,33.3L47.4,33.4L48.7,33.6" stroke="#2eb37c" stroke-width="1"/><path d="M40.9,31.4L42.2,31.3L43.5,31.2L44.8,31.3L46.1,31.3L47.4,31.2L48.7,31.3" stroke="#21a585" stroke-width="1"/><path d="M40.9,29.4L42.2,29.5L43.5,29.4L44.8,29.3L46.1,29.2L47.4,29.2L48.7,29.2" stroke="#1f988b" stroke-width="1"/><path d="M51.3,60.5L52.8,60.1L54.2,59.6L55.6,59.2L57.1,58.9" stroke="#48c16e" stroke-width="2.2"/><path d="M51.3,55.3L52.8,55L54.2,54.5L55.6,54L57.1,53.3" stroke="#2eb37c" stroke-width="2.1"/><path d="M51.3,50.4L52.8,49.8L54.2,49.2L55.6,48.6L57.1,48.2" stroke="#25ac82" stroke-width="1.8"/><path d="M51.3,46.3L52.8,45.5L54.2,45L55.6,44.5L57.1,43.9" stroke="#1fa088" stroke-width="1.5"/><path d="M51.3,42.1L52.8,41.5L54.2,40.9L55.6,40.5L57.1,40.0" stroke="#1f978b" stroke-width="1.2"/><path d="M51.3,39.4L52.8,38.6L54.2,37.8L55.6,37.1L57.1,36.5" stroke="#24878e" stroke-width="1.1"/><path d="M62.6,59.4L63.9,59.6L65.2,59.6L66.4,59.4L67.7,59.1" stroke="#52c569" stroke-width="2.2"/><path d="M62.6,54.6L63.9,54.5L65.2,54.4L66.4,54.3L67.7,54.0" stroke="#4cc26c" stroke-width="2.1"/><path d="M62.6,49L63.9,49L65.2,49.2L66.4,49.4L67.7,49.5" stroke="#4cc26c" stroke-width="1.8"/><path d="M62.6,44.8L63.9,44.9L65.2,44.8L66.4,44.5L67.7,44.3" stroke="#2eb37c" stroke-width="1.5"/><path d="M62.6,40.7L63.9,41.2L65.2,41.2L66.4,41.1L67.7,41.0" stroke="#22a884" stroke-width="1.2"/><path d="M62.6,37.6L63.9,37.6L65.2,37.7L66.4,37.9L67.7,37.8" stroke="#21a685" stroke-width="1.1"/><path d="M62.6,35L63.9,34.8L65.2,34.8L66.4,34.9L67.7,34.8" stroke="#1f948c" stroke-width="1"/><path d="M70.3,53.8L71.8,56.8L73.2,59.5L74.7,62.0" stroke="#5ac864" stroke-width="2.3"/><path d="M70.3,46.9L71.8,50.5L73.2,54.3L74.7,58.1" stroke="#44bf70" stroke-width="2.1"/><path d="M70.3,41.6L71.8,45L73.2,49L74.7,53.8" stroke="#29af7f" stroke-width="1.7"/><path d="M70.3,37.6L71.8,40.9L73.2,44.8L74.7,49.6" stroke="#1fa088" stroke-width="1.4"/><path d="M70.3,33.8L71.8,37L73.2,40.7L74.7,45.4" stroke="#20928c" stroke-width="1.2"/><path d="M70.3,30.2L71.8,33.6L73.2,37.6L74.7,42.4" stroke="#24868e" stroke-width="1.1"/><path d="M70.3,27.3L71.8,30.6L73.2,34.6L74.7,39.4" stroke="#287d8e" stroke-width="1"/><path d="M70.3,24.8L71.8,28.2L73.2,32.1L74.7,36.9" stroke="#2a788e" stroke-width="1"/><path d="M70.3,22.5L71.8,25.9L73.2,29.8L74.7,34.7" stroke="#2e6e8e" stroke-width="1"/><path d="M75.3,57.6L76.6,58.1L77.9,58.4L79.2,58.4L80.5,58.3L81.8,58.4L83.1,58.7" stroke="#c2df23" stroke-width="1.8"/><path d="M75.3,53.1L76.6,53.3L77.9,53.8L79.2,54.1L80.5,53.9L81.8,54L83.1,54.4" stroke="#b5de2b" stroke-width="1.7"/><path d="M75.3,49.3L76.6,49.3L77.9,49.5L79.2,49.8L80.5,50.1L81.8,50.2L83.1,50.2" stroke="#8bd646" stroke-width="1.5"/><path d="M75.3,45.5L76.6,45.6L77.9,45.8L79.2,45.9L80.5,46.1L81.8,46.2L83.1,46.2" stroke="#70cf57" stroke-width="1.3"/><path d="M75.3,42.3L76.6,42.4L77.9,42.6L79.2,42.7L80.5,42.9L81.8,43.1L83.1,43.2" stroke="#5cc863" stroke-width="1.1"/><path d="M75.3,39.3L76.6,39.6L77.9,40L79.2,40.1L80.5,40.2L81.8,40.2L83.1,40.1" stroke="#37b878" stroke-width="1"/><path d="M75.3,37L76.6,37.1L77.9,37.2L79.2,37.3L80.5,37.3L81.8,37.5L83.1,37.8" stroke="#20a386" stroke-width="1"/><path d="M75.3,34.7L76.6,34.8L77.9,34.9L79.2,34.9L80.5,35.1L81.8,35.4L83.1,35.6" stroke="#1f958b" stroke-width="1"/><path d="M75.3,32.4L76.6,32.5L77.9,32.7L79.2,32.8L80.5,33.1L81.8,33.3L83.1,33.4" stroke="#24878e" stroke-width="1"/><path d="M75.3,30.4L76.6,30.6L77.9,30.7L79.2,30.8L80.5,31.1L81.8,31.4L83.1,31.5" stroke="#26828e" stroke-width="1"/><path d="M75.3,28.5L76.6,28.7L77.9,28.9L79.2,29.1L80.5,29.2L81.8,29.4L83.1,29.5" stroke="#27808e" stroke-width="1"/><path d="M88.6,57.6L89.9,57.5L91.2,57.3L92.4,57.1L93.7,57.1" stroke="#c2df23" stroke-width="2.4"/><path d="M88.6,51.4L89.9,51.7L91.2,51.9L92.4,51.7L93.7,51.7" stroke="#84d44b" stroke-width="2.2"/><path d="M88.6,45.8L89.9,46.1L91.2,46.3L92.4,46.1L93.7,46.2" stroke="#52c569" stroke-width="1.7"/><path d="M88.6,41.8L89.9,41.8L91.2,41.7L92.4,41.5L93.7,41.4" stroke="#26ad81" stroke-width="1.4"/><path d="M88.6,37.8L89.9,38L91.2,38L92.4,37.8L93.7,37.8" stroke="#1e9c89" stroke-width="1.2"/><path d="M88.6,34.8L89.9,34.8L91.2,34.7L92.4,34.6L93.7,34.8" stroke="#228d8d" stroke-width="1"/><path d="M88.6,31.7L89.9,31.7L91.2,31.8L92.4,31.9L93.7,31.8" stroke="#26818e" stroke-width="1"/><path d="M88.6,29L89.9,29.2L91.2,29.2L92.4,29.2L93.7,29.3" stroke="#2c738e" stroke-width="1"/><path d="M98.3,57.7L99.8,58.1L101.3,58.0" stroke="#34b679" stroke-width="1.8"/><path d="M98.3,53.9L99.8,53.8L101.3,53.8" stroke="#21a585" stroke-width="1.7"/><path d="M98.3,49.1L99.8,49.1L101.3,49.1" stroke="#20928c" stroke-width="1.5"/><path d="M122.8,58.5L124.1,57.6L125.4,57.1L126.7,57.2L128,57.5L129.3,58.0" stroke="#d2e21b" stroke-width="2.4"/><path d="M122.8,53.3L124.1,52.1L125.4,51.2L126.7,50.9L128,51.6L129.3,52.7" stroke="#9dd93b" stroke-width="2.2"/><path d="M122.8,47.4L124.1,46.3L125.4,45.6L126.7,45.7L128,46.4L129.3,47.4" stroke="#67cc5c" stroke-width="1.7"/><path d="M122.8,42.9L124.1,41.8L125.4,41.2L126.7,41.3L128,42L129.3,42.8" stroke="#32b67a" stroke-width="1.4"/><path d="M122.8,39.1L124.1,38L125.4,37.3L126.7,37.2L128,37.9L129.3,39.1" stroke="#1e9d89" stroke-width="1.2"/><path d="M122.8,35.8L124.1,34.8L125.4,34.1L126.7,34.1L128,34.8L129.3,35.9" stroke="#1f968b" stroke-width="1"/><path d="M122.8,33L124.1,32L125.4,31.3L126.7,31.2L128,31.9L129.3,32.8" stroke="#21908d" stroke-width="1"/><path d="M122.8,30.5L124.1,29.6L125.4,28.9L126.7,28.7L128,29.3L129.3,30.2" stroke="#26828e" stroke-width="1"/><path d="M129.9,57.7L131.3,57.9L132.7,58.1" stroke="#67cc5c" stroke-width="2.4"/><path d="M129.9,52.4L131.3,52.2L132.7,52.0" stroke="#50c46a" stroke-width="2.2"/><path d="M129.9,47.7L131.3,47.3L132.7,47.2" stroke="#2cb17e" stroke-width="1.7"/><path d="M129.9,42.9L131.3,42.6L132.7,42.5" stroke="#1f988b" stroke-width="1.4"/><path d="M129.9,38.7L131.3,38.6L132.7,38.6" stroke="#24868e" stroke-width="1.2"/><path d="M133.3,57.9L134.8,57.8L136.2,57.8L137.7,57.9L139.2,57.8" stroke="#b2dd2d" stroke-width="2.4"/><path d="M133.3,51.9L134.8,51.8L136.2,51.9L137.7,51.9L139.2,51.8" stroke="#7fd34e" stroke-width="2.2"/><path d="M133.3,46.3L134.8,46.4L136.2,46.5L137.7,46.6L139.2,46.4" stroke="#67cc5c" stroke-width="1.7"/><path d="M133.3,42.4L134.8,42.3L136.2,42.1L137.7,42L139.2,42.0" stroke="#38b977" stroke-width="1.4"/><path d="M133.3,38.4L134.8,38.5L136.2,38.5L137.7,38.5L139.2,38.4" stroke="#21a585" stroke-width="1.2"/><path d="M133.3,35.2L134.8,35.3L136.2,35.4L137.7,35.3L139.2,35.2" stroke="#1e9b8a" stroke-width="1"/><path d="M133.3,32.1L134.8,32.2L136.2,32.1L137.7,32L139.2,32.1" stroke="#20928c" stroke-width="1"/><path d="M133.3,29.8L134.8,29.8L136.2,29.9L137.7,29.9L139.2,29.8" stroke="#24868e" stroke-width="1"/><path d="M133.3,27.3L134.8,27.3L136.2,27.4L137.7,27.5L139.2,27.5" stroke="#27808e" stroke-width="1"/><path d="M141.3,58.8L142.3,58.5L143.4,58.5" stroke="#58c765" stroke-width="2.3"/><path d="M141.3,52.6L142.3,52.5L143.4,52.3" stroke="#2eb37c" stroke-width="2.2"/><path d="M147.3,59.2L148.6,59.5L149.8,59.7L151.1,59.7" stroke="#5ec962" stroke-width="2.2"/><path d="M147.3,53.4L148.6,53.9L149.8,54.5L151.1,54.7" stroke="#3aba76" stroke-width="2.1"/><path d="M147.3,48.2L148.6,48.8L149.8,49.6L151.1,50.3" stroke="#28ae80" stroke-width="1.8"/><path d="M155.9,56.9L157,56.8L158.1,56.7" stroke="#21908d" stroke-width="2.5"/><path d="M160.8,57.5L162,57.6L163.2,58L164.5,58.7L165.7,59.4" stroke="#31b57b" stroke-width="1.7"/><path d="M160.8,53L162,53.7L163.2,54.3L164.5,55.1L165.7,56.0" stroke="#2ab07f" stroke-width="1.7"/><path d="M160.8,48.9L162,49.4L163.2,50.1L164.5,50.9L165.7,51.7" stroke="#1fa088" stroke-width="1.5"/><path d="M160.8,44.9L162,45.6L163.2,46.4L164.5,47.2L165.7,47.9" stroke="#1f958b" stroke-width="1.3"/><path d="M160.8,41.7L162,42.2L163.2,43.1L164.5,44L165.7,44.9" stroke="#29798e" stroke-width="1.1"/><path d="M169.9,57L171.2,56.9L172.5,56.9L173.8,56.8L175.1,57L176.4,57.5L177.7,57.4" stroke="#5ac864" stroke-width="1.9"/><path d="M169.9,52.1L171.2,52.4L172.5,52.5L173.8,52.8L175.1,52.9L176.4,52.7L177.7,52.7" stroke="#44bf70" stroke-width="1.8"/><path d="M169.9,48.2L171.2,48.2L172.5,48.4L173.8,48.6L175.1,48.5L176.4,48.2L177.7,48.2" stroke="#25ab82" stroke-width="1.5"/><path d="M169.9,44.5L171.2,44.5L172.5,44.5L173.8,44.6L175.1,44.5L176.4,44.5L177.7,44.4" stroke="#1e9c89" stroke-width="1.3"/><path d="M169.9,41.4L171.2,41.4L172.5,41.4L173.8,41.4L175.1,41.4L176.4,41.3L177.7,41.3" stroke="#20928c" stroke-width="1.1"/><path d="M169.9,38L171.2,38.2L172.5,38.3L173.8,38.3L175.1,38.2L176.4,38.3L177.7,38.3" stroke="#25858e" stroke-width="1"/><path d="M181.1,57.1L182.5,57.1L184,57.2L185.4,57.4L186.8,57.5L188.3,57.6L189.7,57.9" stroke="#fde725" stroke-width="2.4"/><path d="M181.1,50.8L182.5,51L184,51.2L185.4,51.5L186.8,51.6L188.3,51.9L189.7,52.3" stroke="#b5de2b" stroke-width="2.2"/><path d="M181.1,45.7L182.5,46.1L184,46.1L185.4,46.4L186.8,46.7L188.3,46.8L189.7,46.7" stroke="#65cb5e" stroke-width="1.7"/><path d="M181.1,40.6L182.5,40.9L184,41.4L185.4,41.8L186.8,42.1L188.3,42.5L189.7,42.7" stroke="#46c06f" stroke-width="1.4"/><path d="M181.1,37L182.5,37.3L184,37.7L185.4,38.1L186.8,38.3L188.3,38.3L189.7,38.4" stroke="#37b878" stroke-width="1.2"/><path d="M181.1,34.1L182.5,34.3L184,34.4L185.4,34.8L186.8,35.1L188.3,35.2L189.7,35.5" stroke="#3aba76" stroke-width="1"/><path d="M181.1,31L182.5,31.3L184,31.7L185.4,32L186.8,32.2L188.3,32.4L189.7,32.5" stroke="#25ac82" stroke-width="1"/><path d="M181.1,28.7L182.5,29L184,29.1L185.4,29.2L186.8,29.4L188.3,29.6L189.7,29.7" stroke="#23a983" stroke-width="1"/><path d="M181.1,26.1L182.5,26.4L184,26.7L185.4,26.9L186.8,27.1L188.3,27.3L189.7,27.4" stroke="#1fa188" stroke-width="1"/><path d="M181.1,24L182.5,24.2L184,24.4L185.4,24.6L186.8,25L188.3,25.3L189.7,25.5" stroke="#1e9d89" stroke-width="1"/><path d="M181.1,22L182.5,22.3L184,22.7L185.4,22.9L186.8,23.1L188.3,23.3L189.7,23.5" stroke="#1f958b" stroke-width="1"/><path d="M191.6,59.3L193,59.3L194.4,59.8L195.9,60.2L197.3,60.1L198.7,60.3" stroke="#5cc863" stroke-width="2.1"/><path d="M191.6,54.2L193,54.4L194.4,54.7L195.9,55.1L197.3,55.6L198.7,55.8" stroke="#4cc26c" stroke-width="2.1"/><path d="M191.6,48.6L193,49.1L194.4,49.7L195.9,50.1L197.3,50.4L198.7,51.1" stroke="#28ae80" stroke-width="1.8"/><path d="M191.6,44.1L193,44.5L194.4,45L195.9,45.5L197.3,45.9L198.7,46.6" stroke="#1fa188" stroke-width="1.5"/><path d="M191.6,40.7L193,41.1L194.4,41.5L195.9,42L197.3,42.4L198.7,42.7" stroke="#1f988b" stroke-width="1.2"/><path d="M191.6,37.6L193,37.9L194.4,38.2L195.9,38.6L197.3,38.9L198.7,39.2" stroke="#21918c" stroke-width="1.1"/><path d="M191.6,34.6L193,35.1L194.4,35.5L195.9,35.7L197.3,36L198.7,36.4" stroke="#26828e" stroke-width="1"/><path d="M202.1,60L203.6,60.2L205.2,60.2L206.7,60.2" stroke="#34b679" stroke-width="1.6"/><path d="M202.1,56.1L203.6,56.2L205.2,56.3L206.7,56.4" stroke="#2ab07f" stroke-width="1.6"/><path d="M202.1,52.5L203.6,52.7L205.2,52.7L206.7,52.5" stroke="#1fa187" stroke-width="1.5"/><path d="M202.1,48.5L203.6,48.8L205.2,48.8L206.7,48.7" stroke="#228d8d" stroke-width="1.3"/><path d="M210.6,55.7L212,56.4L213.4,57.6L214.8,59L216.3,60.3L217.7,61.3L219.1,62.6L220.5,64.0" stroke="#c5e021" stroke-width="2.2"/><path d="M210.6,49.4L212,50.9L213.4,52.7L214.8,54.2L216.3,55.6L217.7,57L219.1,58.5L220.5,60.1" stroke="#95d840" stroke-width="2"/><path d="M210.6,43.8L212,45.4L213.4,47.1L214.8,48.8L216.3,50.4L217.7,52.1L219.1,54.2L220.5,56.3" stroke="#4ec36b" stroke-width="1.7"/><path d="M210.6,39.7L212,41.2L213.4,42.7L214.8,44.4L216.3,46.4L217.7,48.4L219.1,50.3L220.5,52.6" stroke="#4ac16d" stroke-width="1.5"/><path d="M210.6,35.6L212,37L213.4,38.7L214.8,40.5L216.3,42.3L217.7,44.4L219.1,46.5L220.5,48.7" stroke="#46c06f" stroke-width="1.2"/><path d="M210.6,32.4L212,34L213.4,35.6L214.8,37.2L216.3,39L217.7,40.9L219.1,42.9L220.5,45.3" stroke="#50c46a" stroke-width="1.1"/><path d="M210.6,29.5L212,30.8L213.4,32.6L214.8,34.4L216.3,36.2L217.7,38L219.1,40.2L220.5,42.5" stroke="#40bd72" stroke-width="1"/><path d="M241.3,60.1L242.7,60.4L244.2,60.4L245.6,60.1L247.1,60L248.5,60.0" stroke="#a2da37" stroke-width="2.1"/><path d="M241.3,55L242.7,54.6L244.2,54.5L245.6,54.9L247.1,55L248.5,54.6" stroke="#69cd5b" stroke-width="2.1"/><path d="M241.3,49.4L242.7,49.7L244.2,49.9L245.6,50L247.1,50L248.5,49.8" stroke="#58c765" stroke-width="1.8"/><path d="M241.3,45.7L242.7,45.6L244.2,45.4L245.6,45.2L247.1,45.2L248.5,45.3" stroke="#42be71" stroke-width="1.5"/><path d="M241.3,41.6L242.7,41.8L244.2,41.7L245.6,41.6L247.1,41.6L248.5,41.5" stroke="#29af7f" stroke-width="1.2"/><path d="M241.3,38.2L242.7,38.3L244.2,38.4L245.6,38.6L247.1,38.6L248.5,38.5" stroke="#1fa188" stroke-width="1.1"/><path d="M241.3,35.7L242.7,35.6L244.2,35.4L245.6,35.4L247.1,35.5L248.5,35.6" stroke="#20928c" stroke-width="1"/><path d="M251.8,57.1L253.3,56.9L254.7,56.6L256.2,56.7" stroke="#2fb47c" stroke-width="1.9"/><path d="M251.8,52.3L253.3,52.2L254.7,52.1L256.2,52.2" stroke="#23a983" stroke-width="1.8"/><path d="M251.8,47.8L253.3,47.6L254.7,47.7L256.2,47.9" stroke="#20a386" stroke-width="1.5"/><path d="M251.8,43.9L253.3,44L254.7,44.2L256.2,44.1" stroke="#20a386" stroke-width="1.3"/><path d="M251.8,40.6L253.3,40.6L254.7,40.6L256.2,40.6" stroke="#1e9c89" stroke-width="1.1"/><path d="M251.8,37.5L253.3,37.7L254.7,37.7L256.2,37.7" stroke="#228c8d" stroke-width="1"/><path d="M258.3,61.2L259.7,58.8L261.1,57L262.6,55.6L264,54.5L265.4,55.7L266.9,57.2L268.3,58.8L269.7,60.8" stroke="#6ece58" stroke-width="1.8"/><path d="M258.3,57.6L259.7,54.8L261.1,52.4L262.6,50.4L264,49.2L265.4,50.6L266.9,52.3L268.3,54.7L269.7,57.5" stroke="#4cc26c" stroke-width="1.7"/><path d="M258.3,53.8L259.7,50.6L261.1,48.1L262.6,46.2L264,44.7L265.4,46L266.9,47.9L268.3,50.6L269.7,53.7" stroke="#2cb17e" stroke-width="1.5"/><path d="M211.5,24.0L215.0,42.0L219.0,62.0" stroke="#26ad81" stroke-width="1.8"/><path d="M22.0,50.0L24.0,20.0L25.0,6.0" stroke="#20a386" stroke-width="1.8"/><path d="M83.5,40.0L84.0,6.0" stroke="#22a884" stroke-width="1.5"/><path d="M179.5,60.0L180.0,4.0" stroke="#26ad81" stroke-width="1.6"/></g></g></g></svg>
<div class="sp" style="left:60px;top:193.5px;width:277px;height:76.5px"><i style="background:linear-gradient(#29798e,#2a768e,#2f6c8e,#33638d,#2d718e,#297a8e,#277f8e,#26818e,#2b748e,#2f6c8e,#2e6e8e,#2f6c8e,#2e6f8e,#2b748e,#26828e,#238a8d,#20938c,#20938c,#21918c,#20928c,#1fa187,#1fa287,#1fa188,#1fa287,#1f9a8a,#1e9b8a,#1f9a8a,#1e9c89,#1e9b8a,#20a486,#1fa187)"></i><i style="background:linear-gradient(#30698e,#31678e,#33628d,#375b8d,#33638d,#2e6e8e,#2d708e,#2d718e,#33638d,#38598c,#32648e,#31678e,#306a8e,#2e6d8e,#2a768e,#26828e,#218e8d,#1f958b,#1f978b,#1f978b,#21a685,#25ab82,#24aa83,#22a884,#1fa287,#1fa287,#1e9c89,#1f998a,#20938c,#1f978b,#1f948c)"></i><i style="background:linear-gradient(#30698e,#32658e,#32658e,#32648e,#2f6c8e,#29798e,#297b8e,#27808e,#2a788e,#2d718e,#2a768e,#2a778e,#2c718e,#2e6f8e,#2a768e,#26828e,#218e8d,#1f988b,#1f9e89,#1fa088,#28ae80,#32b67a,#32b67a,#2cb17e,#27ad81,#26ad81,#1fa187,#1e9c89,#1f998a,#1e9b8a,#21918c)"></i><i style="background:linear-gradient(#2f6c8e,#32648e,#31668e,#306a8e,#2c718e,#2a778e,#277e8e,#25858e,#25858e,#25858e,#25848e,#25838e,#2a788e,#2c728e,#287c8e,#23898e,#20928c,#1f9a8a,#1fa187,#21a685,#2db27d,#35b779,#38b977,#34b679,#2eb37c,#28ae80,#20a386,#1e9b8a,#1e9c89,#1f9e89,#228d8d)"></i><i style="background:linear-gradient(#31678e,#34608d,#33638d,#30698e,#2d708e,#2e6d8e,#2c738e,#2a778e,#297a8e,#287d8e,#29798e,#2b758e,#2f6c8e,#306a8e,#2c738e,#24868e,#20928c,#1e9b8a,#1fa187,#22a785,#2db27d,#34b679,#37b878,#35b779,#2db27d,#27ad81,#23a983,#1fa187,#1fa287,#20a386,#20928c)"></i><i style="background:linear-gradient(#38598c,#3b528b,#3c508b,#365d8d,#306a8e,#306a8e,#2c728e,#2c738e,#2b748e,#2a768e,#2c718e,#306a8e,#32658e,#306a8e,#2d708e,#26818e,#20928c,#1f9a8a,#1fa088,#22a884,#2db27d,#31b57b,#35b779,#3aba76,#2fb47c,#27ad81,#27ad81,#24aa83,#24aa83,#22a785,#1f948c)"></i><i style="background:linear-gradient(#3c508b,#3f4788,#453882,#3e4a89,#365c8d,#31688e,#2c728e,#297a8e,#287d8e,#29798e,#29798e,#2b758e,#2a778e,#297b8e,#287c8e,#26828e,#21918c,#1e9b8a,#1fa187,#22a884,#28ae80,#2fb47c,#35b779,#3aba76,#2fb47c,#26ad81,#25ac82,#22a785,#22a884,#1f9f88,#218e8d)"></i><i style="background:linear-gradient(#3e4a89,#443b84,#482173,#46327e,#3e4989,#355f8d,#2e6d8e,#2a778e,#29798e,#2c718e,#2a768e,#297a8e,#297b8e,#27808e,#25838e,#25838e,#238a8d,#1f998a,#1e9d89,#1fa287,#23a983,#32b67a,#35b779,#34b679,#2cb17e,#23a983,#21a685,#22a884,#25ab82,#1fa287,#20938c)"></i><i style="background:linear-gradient(#3f4788,#463480,#481668,#482576,#414487,#375b8d,#31678e,#2e6f8e,#2e6e8e,#32648e,#2f6c8e,#2b758e,#2c728e,#297a8e,#27808e,#27808e,#25848e,#21908d,#21918c,#1f958b,#1fa188,#28ae80,#27ad81,#27ad81,#25ab82,#1fa187,#1fa188,#25ac82,#2ab07f,#25ab82,#1e9c89)"></i><i style="background:linear-gradient(#3f4889,#453581,#481467,#482475,#424186,#3a548c,#355e8d,#31668e,#32658e,#365c8d,#33628d,#2e6d8e,#2f6c8e,#2b748e,#2a788e,#297a8e,#26818e,#23888e,#23888e,#228c8d,#1f948c,#1fa187,#1fa088,#20a486,#21a585,#1e9b8a,#1fa088,#24aa83,#28ae80,#28ae80,#1fa187)"></i><i style="background:linear-gradient(#424186,#453581,#471365,#481f70,#453781,#3e4989,#3a538b,#355f8d,#365c8d,#3a548c,#3b528b,#38598c,#38598c,#31668e,#2e6e8e,#2b748e,#29798e,#277e8e,#277e8e,#26818e,#26828e,#23898e,#228d8d,#1f968b,#1f9a8a,#20928c,#1f958b,#1fa188,#24aa83,#2ab07f,#21a585)"></i><i style="background:linear-gradient(#423f85,#453581,#481769,#482173,#453781,#3f4889,#3b528b,#355f8d,#375a8c,#39568c,#3c508b,#3b518b,#3b528b,#33628d,#2e6d8e,#2b758e,#297a8e,#297a8e,#2a788e,#277e8e,#287c8e,#287d8e,#25848e,#218e8d,#228d8d,#23898e,#24878e,#20938c,#1fa287,#25ac82,#1fa187)"></i><i style="background:linear-gradient(#414287,#443983,#482576,#472e7c,#433e85,#3c4f8a,#3a548c,#375a8c,#39558c,#39558c,#3d4e8a,#3c4f8a,#3b528b,#355f8d,#31688e,#2d708e,#2a788e,#297a8e,#2a778e,#287d8e,#277e8e,#26828e,#24878e,#21908d,#228b8d,#23888e,#25848e,#228b8d,#1f978b,#1fa088,#1f998a)"></i><i style="background:linear-gradient(#39558c,#3c4f8a,#414487,#404688,#3e4c8a,#365c8d,#32648e,#32658e,#33638d,#34608d,#39558c,#39568c,#365d8d,#2f6c8e,#29798e,#277f8e,#24868e,#228b8d,#228b8d,#238a8d,#218e8d,#1f958b,#1f998a,#1e9b8a,#1f978b,#1f978b,#1f988b,#1e9b8a,#21a685,#23a983,#1fa188)"></i><i style="background:linear-gradient(#2f6b8e,#33638d,#365d8d,#355e8d,#375b8d,#31678e,#2f6b8e,#31668e,#32648e,#34608d,#3a538b,#39558c,#33628d,#2c718e,#26828e,#238a8d,#20928c,#1f958b,#1f978b,#1f968b,#1e9c89,#1fa188,#1fa188,#1f998a,#1f978b,#1e9c89,#20a486,#26ad81,#34b679,#2eb37c,#22a785)"></i><i style="background:linear-gradient(#2b758e,#2e6d8e,#33628d,#32648e,#34608d,#30698e,#30698e,#33628d,#365c8d,#375b8d,#39558c,#375b8d,#30698e,#2b748e,#26828e,#228b8d,#20938c,#1f978b,#1f988b,#1f9a8a,#1f9e89,#1fa187,#1fa187,#1f9a8a,#1f978b,#1f9a8a,#1fa187,#24aa83,#2cb17e,#28ae80,#1fa287)"></i><i style="background:linear-gradient(#287c8e,#2c738e,#365c8d,#375b8d,#355e8d,#32648e,#32658e,#31668e,#32658e,#32648e,#31688e,#2d708e,#277e8e,#25838e,#218e8d,#20938c,#1f988b,#1e9d89,#1e9c89,#1f9f88,#1f9e89,#1fa287,#22a785,#21a585,#20a386,#1fa187,#20a486,#21a585,#25ab82,#26ad81,#20a486)"></i><i style="background:linear-gradient(#2b758e,#2f6c8e,#414487,#424086,#3e4c8a,#3b518b,#3b528b,#375a8c,#365c8d,#38598c,#365d8d,#31678e,#2c728e,#2a768e,#277f8e,#25848e,#238a8d,#228d8d,#218f8d,#1f988b,#1f9a8a,#20a386,#29af7f,#26ad81,#26ad81,#23a983,#24aa83,#22a884,#27ad81,#29af7f,#21a685)"></i><i style="background:linear-gradient(#2f6b8e,#33638d,#433e85,#453882,#3f4889,#3c4f8a,#3a538b,#375b8d,#365c8d,#365d8d,#365c8d,#31678e,#30698e,#2f6c8e,#2b758e,#277e8e,#25838e,#24878e,#228d8d,#1f9a8a,#1f9f88,#25ab82,#32b67a,#2cb17e,#2ab07f,#28ae80,#2db27d,#31b57b,#35b779,#31b57b,#22a785)"></i><i style="background:linear-gradient(#34618d,#365c8d,#404588,#433d84,#3d4e8a,#39568c,#38588c,#365d8d,#355e8d,#33638d,#33638d,#2f6c8e,#31688e,#2e6d8e,#29798e,#24878e,#228b8d,#218f8d,#21918c,#1e9d89,#1fa187,#26ad81,#2ab07f,#25ab82,#22a884,#22a785,#26ad81,#2ab07f,#28ae80,#20a386,#1f978b)"></i><i style="background:linear-gradient(#31678e,#33628d,#3b518b,#3d4e8a,#39568c,#355e8d,#33628d,#30698e,#2f6c8e,#2d708e,#2e6f8e,#2c738e,#2c728e,#287c8e,#25858e,#1f958b,#1f998a,#1e9d89,#1f9a8a,#1f9f88,#1fa187,#22a785,#22a785,#20a486,#1fa187,#1fa187,#21a585,#21a585,#1f9f88,#21908d,#25858e)"></i><i style="background:linear-gradient(#26818e,#287c8e,#2e6d8e,#2e6e8e,#2c738e,#297b8e,#25848e,#218f8d,#21918c,#218f8d,#23898e,#238a8d,#228b8d,#1e9b8a,#1fa287,#27ad81,#2fb47c,#37b878,#35b779,#37b878,#38b977,#3bbb75,#3aba76,#3aba76,#35b779,#3dbc74,#46c06f,#4ac16d,#3bbb75,#2cb17e,#1fa187)"></i><i style="background:linear-gradient(#2c718e,#2e6d8e,#355f8d,#31678e,#2e6f8e,#287c8e,#228b8d,#1f968b,#1f998a,#1f968b,#218e8d,#218e8d,#20928c,#1fa187,#26ad81,#31b57b,#38b977,#44bf70,#4cc26c,#52c569,#58c765,#5cc863,#5ac864,#58c765,#56c667,#60ca60,#73d056,#77d153,#73d056,#69cd5b,#3fbc73)"></i><i style="background:linear-gradient(#2f6b8e,#31668e,#39568c,#306a8e,#2c728e,#277e8e,#218f8d,#1f968b,#20938c,#1f958b,#218f8d,#21908d,#1f988b,#1fa287,#29af7f,#2fb47c,#37b878,#46c06f,#52c569,#65cb5e,#77d153,#7ad151,#65cb5e,#60ca60,#5cc863,#6ccd5a,#7fd34e,#93d741,#9dd93b,#98d83e,#60ca60)"></i><i style="background:linear-gradient(#3e4c8a,#3e4a89,#443983,#375b8d,#2e6d8e,#29798e,#228d8d,#1f968b,#1f948c,#1f968b,#1f958b,#20938c,#1e9b8a,#1fa088,#21a685,#20a386,#20a386,#22a884,#26ad81,#35b779,#44bf70,#42be71,#2db27d,#2ab07f,#2cb17e,#3fbc73,#5ac864,#7ad151,#93d741,#90d743,#5cc863)"></i><i style="background:linear-gradient(#3e4989,#3f4889,#453882,#365d8d,#2e6e8e,#29798e,#228d8d,#1f958b,#1f958b,#1f998a,#1fa187,#1e9d89,#1fa188,#1fa188,#21a685,#22a785,#23a983,#29af7f,#31b57b,#40bd72,#4cc26c,#44bf70,#31b57b,#34b679,#35b779,#3fbc73,#5ac864,#75d054,#89d548,#89d548,#5ac864)"></i><i style="background:linear-gradient(#3c4f8a,#3e4c8a,#404688,#306a8e,#2a788e,#27808e,#228d8d,#218e8d,#218f8d,#1f988b,#20a386,#1f9f88,#1e9c89,#1f9a8a,#20a486,#23a983,#26ad81,#35b779,#38b977,#3fbc73,#44bf70,#38b977,#32b67a,#3bbb75,#3bbb75,#3bbb75,#56c667,#6ece58,#84d44b,#81d34d,#50c46a)"></i><i style="background:linear-gradient(#3b528b,#3c4f8a,#3a538b,#2c738e,#25848e,#238a8d,#228d8d,#238a8d,#23898e,#21918c,#1e9c89,#1f9a8a,#21918c,#218f8d,#1f9a8a,#20a486,#25ac82,#2eb37c,#2ab07f,#2eb37c,#31b57b,#2cb17e,#2eb37c,#31b57b,#31b57b,#2eb37c,#3bbb75,#52c569,#69cd5b,#75d054,#42be71)"></i><i style="background:linear-gradient(#38588c,#39568c,#365c8d,#2c728e,#25838e,#23888e,#238a8d,#228c8d,#23888e,#23888e,#21918c,#20938c,#23898e,#238a8d,#1f948c,#1e9c89,#1fa287,#21a585,#1f9f88,#1fa188,#21a585,#1fa287,#21a685,#21a685,#21a685,#21a585,#22a785,#2eb37c,#3aba76,#3bbb75,#22a785)"></i><i style="background:linear-gradient(#365d8d,#375b8d,#38598c,#31668e,#2c738e,#2a778e,#27808e,#25838e,#287d8e,#277e8e,#26828e,#23888e,#26818e,#23898e,#21918c,#1f968b,#1f9a8a,#1e9c89,#1f968b,#1f948c,#1f948c,#218e8d,#20928c,#1f978b,#1f978b,#1e9b8a,#1fa088,#25ab82,#25ab82,#1fa187,#21908d)"></i><i style="background:linear-gradient(#38588c,#39568c,#3b528b,#365d8d,#2d708e,#2a788e,#25838e,#23888e,#26828e,#26828e,#27808e,#277f8e,#297b8e,#26828e,#25848e,#218f8d,#20928c,#1e9b8a,#1e9d89,#1e9c89,#1f978b,#218f8d,#21918c,#20938c,#1f948c,#1f9f88,#23a983,#31b57b,#2db27d,#20a486,#20928c)"></i><i style="background:linear-gradient(#355f8d,#33628d,#34608d,#31678e,#2b748e,#287d8e,#23888e,#228d8d,#23888e,#26818e,#277f8e,#29798e,#297a8e,#277e8e,#26828e,#1f948c,#1f988b,#20a486,#22a884,#24aa83,#1fa287,#1f9a8a,#1f998a,#20938c,#1f948c,#1fa188,#28ae80,#38b977,#42be71,#31b57b,#1fa088)"></i><i style="background:linear-gradient(#355f8d,#34618d,#33628d,#31688e,#2e6e8e,#2a788e,#287c8e,#277f8e,#287d8e,#2a768e,#2b758e,#2c728e,#2c738e,#2b758e,#287d8e,#1f948c,#1e9b8a,#1fa287,#21a685,#21a585,#1f9f88,#1e9b8a,#1f9f88,#1f998a,#1f998a,#1fa287,#25ac82,#32b67a,#42be71,#40bd72,#25ac82)"></i><i style="background:linear-gradient(#365d8d,#365c8d,#34608d,#33638d,#31688e,#2c738e,#2b758e,#2a778e,#2c738e,#2d718e,#2c718e,#2d718e,#2f6c8e,#2c728e,#287c8e,#218e8d,#1f948c,#1f998a,#1e9b8a,#1f978b,#20928c,#21918c,#1f998a,#1f998a,#1f9e89,#1fa287,#24aa83,#2cb17e,#34b679,#38b977,#27ad81)"></i><i style="background:linear-gradient(#404688,#3f4788,#3d4d8a,#3b528b,#365d8d,#2f6b8e,#2c728e,#2a778e,#2a768e,#2a768e,#2a778e,#2d718e,#306a8e,#2a768e,#27808e,#23888e,#228d8d,#1f968b,#20938c,#218f8d,#23898e,#24878e,#21918c,#1f958b,#1f9f88,#20a486,#27ad81,#2ab07f,#2cb17e,#28ae80,#1f9f88)"></i><i style="background:linear-gradient(#472e7c,#453781,#424086,#3e4989,#39568c,#32648e,#2e6f8e,#2a768e,#297a8e,#297b8e,#297a8e,#2d718e,#2f6b8e,#2a778e,#26818e,#23888e,#228b8d,#1f948c,#20928c,#21918c,#21908d,#218e8d,#1f948c,#1f958b,#1e9b8a,#20a486,#24aa83,#24aa83,#25ac82,#22a785,#20938c)"></i><i style="background:linear-gradient(#46307e,#443b84,#424186,#3e4a89,#39558c,#33638d,#2d708e,#2a778e,#297b8e,#287c8e,#287c8e,#2c718e,#2e6e8e,#2a778e,#26818e,#228c8d,#218e8d,#20928c,#20928c,#1f968b,#1f998a,#1f998a,#1e9d89,#1f998a,#1f988b,#1fa287,#20a386,#21a585,#25ab82,#25ab82,#1f998a)"></i><i style="background:linear-gradient(#404688,#3f4788,#3f4788,#3e4c8a,#3a538b,#34608d,#2d708e,#2a788e,#287d8e,#29798e,#297b8e,#2c728e,#2c738e,#2a768e,#297b8e,#23888e,#228c8d,#218f8d,#21908d,#1f988b,#1f9e89,#1fa187,#20a386,#1fa088,#1e9b8a,#20a386,#21a685,#26ad81,#38b977,#38b977,#22a884)"></i><i style="background:linear-gradient(#3a538b,#3d4d8a,#404688,#404588,#3e4989,#3a548c,#32658e,#2d718e,#2a768e,#2d708e,#2e6f8e,#2e6d8e,#2c718e,#2c728e,#2d718e,#287d8e,#26818e,#26828e,#26828e,#24868e,#218e8d,#1f958b,#1f978b,#1f978b,#1f9a8a,#1fa188,#22a785,#2db27d,#40bd72,#44bf70,#26ad81)"></i><i style="background:linear-gradient(#3a538b,#3e4a89,#423f85,#443b84,#414487,#3e4a89,#3a548c,#33628d,#30698e,#31668e,#31668e,#31678e,#2e6d8e,#2d718e,#2c728e,#2a788e,#2a788e,#2a778e,#2c738e,#2c728e,#2a768e,#297a8e,#27808e,#24878e,#20928c,#1f9a8a,#1fa088,#20a386,#25ab82,#25ac82,#1f988b)"></i><i style="background:linear-gradient(#3d4e8a,#3f4889,#443983,#453781,#424186,#3f4889,#3e4c8a,#39558c,#355e8d,#355e8d,#365d8d,#355f8d,#32658e,#2e6d8e,#2d718e,#2c738e,#2c728e,#2e6d8e,#2f6b8e,#2e6f8e,#2e6e8e,#2f6c8e,#2b748e,#26818e,#218e8d,#1f948c,#1f948c,#218e8d,#218f8d,#228d8d,#26828e)"></i><i style="background:linear-gradient(#404588,#404688,#443983,#453781,#433d84,#424186,#3e4989,#3d4e8a,#39558c,#375a8c,#38588c,#38598c,#365c8d,#32648e,#31688e,#306a8e,#2f6c8e,#31688e,#306a8e,#2e6f8e,#2d708e,#2e6d8e,#2c728e,#277f8e,#23888e,#228b8d,#238a8d,#25838e,#26818e,#297b8e,#2a768e)"></i><i style="background:linear-gradient(#3d4d8a,#3c508b,#404588,#423f85,#424186,#404688,#3b528b,#39558c,#365c8d,#34618d,#33628d,#34618d,#32648e,#2d708e,#287c8e,#26828e,#25848e,#25848e,#24868e,#23888e,#228c8d,#238a8d,#238a8d,#20928c,#1f9a8a,#1e9d89,#1f9e89,#1f998a,#20938c,#228b8d,#26828e)"></i><i style="background:linear-gradient(#355f8d,#33628d,#39568c,#3d4d8a,#3c4f8a,#3a538b,#375a8c,#34618d,#31668e,#31668e,#2e6e8e,#2e6e8e,#2c718e,#27808e,#21918c,#1e9d89,#1fa188,#20a486,#20a386,#21a585,#21a585,#20a486,#1fa188,#20a386,#29af7f,#2eb37c,#34b679,#31b57b,#2eb37c,#26ad81,#1f9a8a)"></i><i style="background:linear-gradient(#2d718e,#2c718e,#32658e,#375a8c,#365c8d,#375a8c,#355f8d,#2f6c8e,#2b758e,#2b748e,#26818e,#23888e,#21908d,#1fa188,#29af7f,#38b977,#42be71,#50c46a,#50c46a,#52c569,#4ac16d,#46c06f,#3fbc73,#3dbc74,#4ec36b,#50c46a,#56c667,#54c568,#58c765,#56c667,#2db27d)"></i><i style="background:linear-gradient(#2a788e,#2d718e,#32648e,#365d8d,#355f8d,#375b8d,#33628d,#2f6b8e,#29798e,#277f8e,#24878e,#218f8d,#1f988b,#23a983,#2db27d,#38b977,#48c16e,#5ec962,#5ac864,#5ac864,#56c667,#50c46a,#4ec36b,#44bf70,#46c06f,#46c06f,#50c46a,#54c568,#5ec962,#67cc5c,#3dbc74)"></i><i style="background:linear-gradient(#297a8e,#2e6f8e,#355f8d,#365c8d,#355f8d,#355f8d,#32648e,#30698e,#287d8e,#26828e,#25848e,#228c8d,#1f948c,#1fa188,#22a884,#2fb47c,#42be71,#58c765,#58c765,#5ac864,#56c667,#4ec36b,#4ec36b,#42be71,#3fbc73,#3fbc73,#48c16e,#56c667,#65cb5e,#70cf57,#50c46a)"></i><i style="background:linear-gradient(#2d708e,#31678e,#3a548c,#3e4c8a,#3f4788,#414287,#3f4889,#39558c,#2e6d8e,#2c728e,#2c738e,#287d8e,#23888e,#21908d,#1f988b,#23a983,#29af7f,#35b779,#3aba76,#38b977,#34b679,#32b67a,#37b878,#40bd72,#42be71,#40bd72,#46c06f,#4ec36b,#65cb5e,#6ece58,#4ac16d)"></i><i style="background:linear-gradient(#2c718e,#306a8e,#39558c,#3e4a89,#3f4788,#424186,#404588,#3a548c,#32658e,#2e6d8e,#2d708e,#2a768e,#25848e,#23898e,#21918c,#1f9e89,#20a486,#2db27d,#32b67a,#32b67a,#2ab07f,#2eb37c,#2eb37c,#3fbc73,#40bd72,#3dbc74,#3dbc74,#3fbc73,#56c667,#54c568,#32b67a)"></i><i style="background:linear-gradient(#31668e,#355e8d,#3f4889,#433e85,#414287,#443b84,#443a83,#404588,#3b518b,#38598c,#33638d,#306a8e,#2a788e,#287c8e,#277e8e,#23888e,#238a8d,#1f9a8a,#1e9b8a,#1f9e89,#1f958b,#1f998a,#1f988b,#20a386,#1fa188,#1fa187,#1f9f88,#1fa088,#23a983,#21a585,#1f948c)"></i><i style="background:linear-gradient(#375b8d,#3a538b,#424186,#453781,#423f85,#453781,#453781,#433e85,#424186,#414287,#3c508b,#39568c,#32648e,#30698e,#30698e,#2c718e,#2e6d8e,#29798e,#2a788e,#26818e,#277f8e,#26828e,#27808e,#25848e,#26818e,#26818e,#27808e,#26818e,#24868e,#277e8e,#2d708e)"></i><i style="background:linear-gradient(#3b518b,#3d4e8a,#433d84,#472e7c,#46327e,#463480,#443b84,#424186,#423f85,#433e85,#414287,#3e4989,#3b518b,#39568c,#365c8d,#33638d,#38598c,#33628d,#32648e,#2e6d8e,#2c728e,#2a788e,#2b758e,#2d718e,#31668e,#32658e,#31678e,#31678e,#2c718e,#2f6b8e,#355f8d)"></i><i style="background:linear-gradient(#2e6d8e,#306a8e,#39558c,#414287,#423f85,#404688,#3b518b,#39568c,#39568c,#39568c,#3a548c,#38588c,#38588c,#38598c,#33628d,#30698e,#32648e,#30698e,#2d718e,#2b748e,#297b8e,#27808e,#27808e,#2a768e,#2f6b8e,#31678e,#31678e,#30698e,#2c738e,#2e6d8e,#33628d)"></i><i style="background:linear-gradient(#306a8e,#31668e,#3d4e8a,#423f85,#443983,#414287,#3c4f8a,#38588c,#355e8d,#32648e,#34608d,#375b8d,#38588c,#3b528b,#38588c,#33628d,#32648e,#31678e,#2c728e,#2b748e,#29798e,#27808e,#277f8e,#297a8e,#2b758e,#2c718e,#2e6e8e,#2d708e,#2c728e,#30698e,#365d8d)"></i><i style="background:linear-gradient(#38598c,#39568c,#414287,#453781,#46327e,#433d84,#3e4c8a,#365c8d,#33638d,#2f6c8e,#31688e,#33628d,#34618d,#38598c,#375b8d,#34618d,#31668e,#2f6c8e,#2c738e,#297a8e,#277e8e,#26828e,#26828e,#27808e,#277f8e,#27808e,#287c8e,#29798e,#2b748e,#306a8e,#355f8d)"></i><i style="background:linear-gradient(#3d4e8a,#3e4a89,#423f85,#443a83,#443a83,#414287,#3b518b,#33638d,#306a8e,#2c728e,#2c738e,#2c718e,#2c738e,#31668e,#31668e,#31668e,#306a8e,#2c738e,#297a8e,#25838e,#23888e,#228c8d,#238a8d,#23898e,#24878e,#24878e,#24878e,#25858e,#26828e,#297b8e,#2e6d8e)"></i><i style="background:linear-gradient(#3c4f8a,#3b518b,#3d4e8a,#3d4d8a,#3a538b,#375b8d,#31668e,#2c718e,#2a788e,#25838e,#23888e,#218e8d,#218e8d,#277e8e,#29798e,#2c738e,#2a768e,#26818e,#228c8d,#1f948c,#1f998a,#1f9f88,#1e9c89,#1f998a,#1e9b8a,#1f9a8a,#1f9f88,#1fa088,#1fa287,#1fa088,#228c8d)"></i><i style="background:linear-gradient(#3f4788,#3d4d8a,#3f4788,#3d4d8a,#3a548c,#34608d,#2f6c8e,#29798e,#287c8e,#24868e,#21908d,#1f948c,#20928c,#23888e,#26828e,#277f8e,#277e8e,#25848e,#21918c,#1f988b,#1e9b8a,#1fa188,#1f9e89,#1e9b8a,#1fa088,#1fa287,#20a486,#23a983,#27ad81,#27ad81,#1e9d89)"></i><i style="background:linear-gradient(#3f4889,#3e4a89,#414287,#3f4889,#3b528b,#34608d,#2e6d8e,#29798e,#287c8e,#25858e,#20928c,#1f958b,#1f948c,#218f8d,#228b8d,#228b8d,#24878e,#23888e,#1f948c,#1e9c89,#1e9d89,#1fa088,#1fa287,#1fa187,#21a685,#21a685,#20a486,#24aa83,#24aa83,#25ac82,#1fa088)"></i><i style="background:linear-gradient(#424186,#423f85,#443b84,#424086,#3c4f8a,#355f8d,#30698e,#2f6c8e,#2d718e,#2a778e,#25848e,#238a8d,#23888e,#26828e,#287c8e,#277e8e,#297a8e,#287d8e,#24878e,#21918c,#1f948c,#1f968b,#1e9b8a,#1f9e89,#1fa188,#1fa187,#1e9c89,#1fa088,#1e9d89,#1fa188,#1f968b)"></i><i style="background:linear-gradient(#414287,#433e85,#424086,#404688,#39568c,#30698e,#2d708e,#2f6c8e,#2e6e8e,#2d708e,#277e8e,#25848e,#277e8e,#2b748e,#30698e,#30698e,#31678e,#2e6e8e,#297a8e,#26828e,#24868e,#238a8d,#228b8d,#21908d,#218f8d,#20938c,#20938c,#20928c,#218f8d,#20928c,#23898e)"></i><i style="background:linear-gradient(#3e4989,#424186,#443a83,#424186,#3c4f8a,#375b8d,#34618d,#365c8d,#375b8d,#365d8d,#2f6b8e,#2e6e8e,#31668e,#365d8d,#3e4a89,#3f4889,#3e4989,#3a538b,#33628d,#31688e,#2f6c8e,#2d708e,#2e6f8e,#2c718e,#2c728e,#2a778e,#27808e,#277e8e,#2a778e,#2a768e,#2d708e)"></i><i style="background:linear-gradient(#3e4989,#424086,#472e7c,#453581,#443a83,#404588,#3a548c,#39558c,#39558c,#39558c,#355e8d,#38588c,#3b528b,#3d4e8a,#433d84,#453882,#443a83,#3f4788,#39568c,#365c8d,#34618d,#355e8d,#365d8d,#34618d,#32648e,#31668e,#2c728e,#2c718e,#306a8e,#306a8e,#34618d)"></i><i style="background:linear-gradient(#3c4f8a,#3f4889,#453581,#46337f,#46327e,#453882,#3e4c8a,#39558c,#375b8d,#375b8d,#375b8d,#3c508b,#3b528b,#3d4d8a,#423f85,#424086,#404688,#3e4989,#3a548c,#38598c,#32648e,#355f8d,#355f8d,#31668e,#2f6c8e,#2f6c8e,#2c718e,#2c718e,#2e6e8e,#2e6e8e,#33638d)"></i><i style="background:linear-gradient(#404588,#424086,#453581,#46307e,#472d7b,#472e7c,#424186,#3b528b,#38598c,#365c8d,#38598c,#3c4f8a,#3b528b,#3d4e8a,#414287,#3f4889,#3c508b,#3e4989,#3d4e8a,#3c4f8a,#355e8d,#355f8d,#31668e,#2e6e8e,#2c738e,#2c738e,#2b748e,#2c728e,#2d718e,#2e6e8e,#34618d)"></i><i style="background:linear-gradient(#3f4788,#3f4889,#424186,#443a83,#423f85,#414487,#3c4f8a,#355f8d,#32648e,#31678e,#33638d,#375b8d,#3a548c,#3c508b,#3f4788,#3d4e8a,#3b528b,#3c4f8a,#3c508b,#3e4c8a,#39568c,#365d8d,#31678e,#2f6b8e,#2d718e,#2c728e,#2a768e,#2b758e,#2c718e,#2d708e,#33628d)"></i><i style="background:linear-gradient(#34608d,#34618d,#38588c,#3b528b,#375a8c,#355e8d,#33638d,#2c718e,#2a768e,#2a768e,#2d718e,#30698e,#355e8d,#3a538b,#3d4e8a,#3b528b,#3a538b,#38588c,#375b8d,#3a548c,#38598c,#365d8d,#33638d,#33638d,#30698e,#2f6b8e,#2a788e,#297a8e,#2c718e,#2c718e,#32648e)"></i><i style="background:linear-gradient(#2c728e,#2d718e,#31688e,#32658e,#30698e,#2e6f8e,#2c728e,#26828e,#228c8d,#238a8d,#26828e,#287c8e,#2d718e,#32658e,#355e8d,#34608d,#365d8d,#31678e,#30698e,#31678e,#33638d,#32648e,#306a8e,#306a8e,#2c738e,#2a778e,#25848e,#25858e,#25838e,#27808e,#2c738e)"></i><i style="background:linear-gradient(#287c8e,#297a8e,#2c738e,#2d718e,#2e6f8e,#2b758e,#277f8e,#21918c,#1fa287,#1e9d89,#20938c,#21918c,#25858e,#297b8e,#2b748e,#2b748e,#2d718e,#277e8e,#277e8e,#287d8e,#2a788e,#297b8e,#26818e,#26828e,#218e8d,#1f958b,#1fa088,#1fa287,#25ac82,#22a884,#1f9a8a)"></i><i style="background:linear-gradient(#26828e,#26828e,#297a8e,#2c728e,#2f6b8e,#2c738e,#27808e,#21908d,#1e9d89,#1f9a8a,#1f958b,#21918c,#23888e,#27808e,#297b8e,#297a8e,#29798e,#25858e,#25858e,#25848e,#26828e,#25848e,#238a8d,#228d8d,#1f988b,#1f9f88,#24aa83,#26ad81,#38b977,#34b679,#22a785)"></i><i style="background:linear-gradient(#26818e,#26828e,#2a768e,#2e6e8e,#32658e,#2d718e,#297b8e,#25858e,#21918c,#21908d,#218e8d,#23888e,#26828e,#297b8e,#297b8e,#297a8e,#297b8e,#27808e,#26828e,#26828e,#27808e,#26818e,#228b8d,#20928c,#1f9a8a,#1e9b8a,#1f9f88,#20a386,#28ae80,#24aa83,#1f998a)"></i><i style="background:linear-gradient(#277e8e,#297a8e,#2d718e,#306a8e,#31688e,#2c738e,#297b8e,#25838e,#218e8d,#238a8d,#25848e,#277e8e,#2a788e,#2a788e,#287c8e,#297a8e,#27808e,#277e8e,#26828e,#26828e,#27808e,#26818e,#228c8d,#1f948c,#1f958b,#1f968b,#1f948c,#1f958b,#1e9b8a,#20938c,#25848e)"></i><i style="background:linear-gradient(#2e6d8e,#31668e,#365d8d,#38588c,#39568c,#32658e,#2f6b8e,#2c718e,#2a778e,#2c728e,#306a8e,#32648e,#34608d,#33628d,#306a8e,#31668e,#2f6c8e,#30698e,#2d708e,#2d718e,#2e6f8e,#2e6e8e,#2d718e,#297b8e,#29798e,#287c8e,#297a8e,#2a788e,#297b8e,#2b758e,#31668e)"></i><i style="background:linear-gradient(#34608d,#365c8d,#3a538b,#3b528b,#3a548c,#355f8d,#31668e,#2e6d8e,#2e6e8e,#2e6d8e,#32658e,#355f8d,#375a8c,#375b8d,#34608d,#365d8d,#355f8d,#355f8d,#30698e,#2c718e,#2d718e,#306a8e,#31668e,#2d708e,#2e6d8e,#2f6b8e,#306a8e,#31678e,#2e6d8e,#30698e,#38598c)"></i><i style="background:linear-gradient(#38598c,#38598c,#3a538b,#39568c,#365c8d,#33628d,#2f6b8e,#2e6d8e,#2f6c8e,#2e6e8e,#2e6e8e,#31688e,#375a8c,#39568c,#38588c,#39568c,#375b8d,#355e8d,#306a8e,#2b758e,#2a768e,#2e6e8e,#306a8e,#2f6b8e,#306a8e,#31678e,#32658e,#33638d,#2e6d8e,#2f6b8e,#365d8d)"></i><i style="background:linear-gradient(#3a538b,#39568c,#3d4e8a,#3c4f8a,#3c508b,#375a8c,#31678e,#34618d,#34618d,#32658e,#306a8e,#30698e,#39568c,#3b518b,#3c4f8a,#39558c,#38588c,#365d8d,#30698e,#2c718e,#2d708e,#2e6d8e,#31688e,#31668e,#2e6d8e,#2e6f8e,#2f6c8e,#2e6e8e,#29798e,#2a788e,#2f6b8e)"></i><i style="background:linear-gradient(#38598c,#365c8d,#3d4d8a,#3e4a89,#3e4a89,#3b528b,#32658e,#33628d,#32648e,#31668e,#2e6f8e,#2e6f8e,#32648e,#33638d,#355e8d,#32648e,#32658e,#306a8e,#2c728e,#2b748e,#2c728e,#2c738e,#2e6d8e,#2e6e8e,#29798e,#277f8e,#27808e,#26828e,#23888e,#24868e,#2a788e)"></i><i style="background:linear-gradient(#3a548c,#3a538b,#423f85,#453581,#453882,#414287,#3a538b,#355f8d,#31678e,#31668e,#2d708e,#2e6e8e,#306a8e,#2f6b8e,#31678e,#31688e,#31678e,#30698e,#2d708e,#2b748e,#2a768e,#2a778e,#306a8e,#30698e,#2c738e,#277e8e,#26828e,#26828e,#26818e,#277f8e,#2d718e)"></i><i style="background:linear-gradient(#414287,#443b84,#472c7a,#482173,#482071,#472f7d,#423f85,#39568c,#30698e,#306a8e,#2f6c8e,#2f6b8e,#31688e,#32658e,#33628d,#33638d,#34608d,#355f8d,#31688e,#2f6c8e,#2d708e,#2c718e,#30698e,#33628d,#31678e,#2d718e,#2b748e,#2e6f8e,#2e6d8e,#2f6c8e,#375b8d)"></i><i style="background:linear-gradient(#404588,#453882,#482677,#482071,#481c6e,#482878,#453882,#3b518b,#32658e,#30698e,#31668e,#32648e,#34618d,#355e8d,#365c8d,#355e8d,#375a8c,#355e8d,#31668e,#31668e,#306a8e,#2f6c8e,#2e6e8e,#31688e,#2f6c8e,#2d718e,#2d708e,#31688e,#31688e,#33628d,#3c508b)"></i><i style="background:linear-gradient(#3a548c,#404688,#472c7a,#482979,#482979,#472f7d,#453882,#3e4c8a,#375a8c,#31678e,#31668e,#31668e,#31678e,#32648e,#31678e,#30698e,#31678e,#2f6c8e,#2c728e,#2a768e,#29798e,#29798e,#287c8e,#2a788e,#277f8e,#26828e,#26828e,#277f8e,#277f8e,#2a768e,#32648e)"></i><i style="background:linear-gradient(#3b528b,#404688,#472a7a,#482576,#482979,#472a7a,#472d7b,#443983,#3f4788,#365c8d,#34608d,#31668e,#2f6b8e,#31668e,#2e6d8e,#2e6e8e,#2c728e,#2b748e,#287c8e,#26828e,#25858e,#24868e,#25848e,#26818e,#23888e,#228c8d,#20928c,#20928c,#1f958b,#218f8d,#287d8e)"></i><i style="background:linear-gradient(#3c4f8a,#404688,#46307e,#481f70,#481f70,#482576,#472f7d,#463480,#404588,#38598c,#34608d,#306a8e,#2e6d8e,#31668e,#2d708e,#2d718e,#2a788e,#287d8e,#25858e,#228c8d,#20928c,#20928c,#228c8d,#23898e,#228c8d,#218e8d,#1f968b,#1f968b,#1f9e89,#1f978b,#228b8d)"></i><i style="background:linear-gradient(#375a8c,#3a548c,#433e85,#482878,#482878,#463480,#414487,#3f4889,#39558c,#33638d,#2e6e8e,#2b758e,#29798e,#2b758e,#287c8e,#297a8e,#27808e,#25858e,#21908d,#1f958b,#1e9c89,#1f978b,#21908d,#21918c,#20938c,#20928c,#1f988b,#1fa188,#22a884,#1fa188,#1f988b)"></i><i style="background:linear-gradient(#3d4d8a,#404588,#472d7b,#481c6e,#481b6d,#472d7b,#443983,#424186,#3f4889,#3a538b,#33628d,#2f6b8e,#2b748e,#2a788e,#297b8e,#297a8e,#27808e,#25858e,#21918c,#20938c,#1f958b,#1f948c,#21908d,#20928c,#1f978b,#1f978b,#1f9e89,#20a486,#22a884,#1fa187,#1e9b8a)"></i><i style="background:linear-gradient(#38588c,#3c4f8a,#404588,#433e85,#423f85,#3e4a89,#3b528b,#38598c,#375a8c,#34618d,#2e6d8e,#2b758e,#277e8e,#25848e,#25848e,#25858e,#218e8d,#20938c,#1f998a,#1f998a,#1f998a,#1fa188,#1f9e89,#1f9f88,#22a884,#25ab82,#27ad81,#2ab07f,#29af7f,#22a785,#1f9e89)"></i><i style="background:linear-gradient(#297b8e,#2a778e,#2c738e,#2e6e8e,#2c738e,#297a8e,#25838e,#23888e,#23898e,#218f8d,#1f968b,#1fa188,#21a585,#25ab82,#27ad81,#27ad81,#2db27d,#31b57b,#35b779,#32b67a,#35b779,#3dbc74,#3dbc74,#37b878,#48c16e,#58c765,#69cd5b,#7fd34e,#75d054,#63cb5f,#44bf70)"></i><i style="background:linear-gradient(#287d8e,#297b8e,#2a768e,#2c718e,#29798e,#26828e,#238a8d,#218f8d,#21918c,#1f948c,#1f9a8a,#21a585,#21a585,#22a785,#25ac82,#25ac82,#26ad81,#2db27d,#32b67a,#32b67a,#34b679,#38b977,#3aba76,#2db27d,#34b679,#40bd72,#5cc863,#77d153,#73d056,#67cc5c,#48c16e)"></i><i style="background:linear-gradient(#2a768e,#2c718e,#2f6b8e,#31678e,#2f6b8e,#2c738e,#2a778e,#287c8e,#26828e,#23888e,#21908d,#1f988b,#1f9a8a,#1f948c,#1f9a8a,#1f9a8a,#1f998a,#1e9c89,#1f9e89,#1fa187,#20a386,#23a983,#20a486,#1e9c89,#1fa088,#22a884,#28ae80,#31b57b,#2db27d,#29af7f,#22a884)"></i><i style="background:linear-gradient(#2e6e8e,#30698e,#32648e,#34618d,#33638d,#31688e,#306a8e,#306a8e,#2d718e,#29798e,#27808e,#24868e,#23898e,#25858e,#228c8d,#20928c,#20938c,#20938c,#20928c,#1f948c,#20928c,#1f958b,#218e8d,#24878e,#228d8d,#20928c,#21908d,#218e8d,#238a8d,#23898e,#23888e)"></i><i style="background:linear-gradient(#30698e,#30698e,#31678e,#33628d,#31668e,#31678e,#31678e,#32648e,#31678e,#2d708e,#2b758e,#277f8e,#25838e,#26828e,#228b8d,#1e9b8a,#1f9e89,#1f9e89,#1f9a8a,#1f948c,#228c8d,#238a8d,#25858e,#26828e,#24878e,#228b8d,#26828e,#287d8e,#2b758e,#2b758e,#2b758e)"></i><i style="background:linear-gradient(#32658e,#31688e,#32658e,#31668e,#2f6c8e,#30698e,#31678e,#355f8d,#34608d,#31668e,#2f6c8e,#2b758e,#287c8e,#26818e,#228c8d,#1f9e89,#1fa187,#1fa187,#1e9d89,#20938c,#23898e,#24878e,#25858e,#25848e,#23888e,#228b8d,#26828e,#29798e,#2c728e,#2e6f8e,#2f6b8e)"></i><i style="background:linear-gradient(#34618d,#32658e,#33628d,#2f6b8e,#2d718e,#2d718e,#306a8e,#34618d,#34608d,#33628d,#31678e,#2e6f8e,#2c718e,#277e8e,#23898e,#20938c,#1e9b8a,#1e9c89,#1f958b,#21908d,#228d8d,#23888e,#26828e,#27808e,#24868e,#24878e,#277e8e,#2a768e,#2c728e,#2c718e,#306a8e)"></i><i style="background:linear-gradient(#38588c,#365c8d,#38588c,#32648e,#31668e,#31688e,#31678e,#355f8d,#365d8d,#355e8d,#33628d,#2e6d8e,#2d708e,#287c8e,#24878e,#23898e,#218f8d,#228d8d,#23888e,#23888e,#228d8d,#23888e,#277e8e,#297a8e,#26828e,#25848e,#26828e,#29798e,#2a788e,#287c8e,#2d718e)"></i><i style="background:linear-gradient(#3f4788,#3d4e8a,#3f4788,#3b528b,#3b528b,#39568c,#375b8d,#38588c,#38598c,#365c8d,#33628d,#2e6f8e,#2a768e,#277e8e,#25858e,#25848e,#23888e,#24868e,#27808e,#277f8e,#25858e,#24868e,#287c8e,#29798e,#277f8e,#25838e,#25858e,#277e8e,#26828e,#24878e,#27808e)"></i><i style="background:linear-gradient(#3f4889,#3d4e8a,#3e4c8a,#39558c,#39558c,#3a548c,#38598c,#375b8d,#34608d,#31668e,#2e6f8e,#2a778e,#287d8e,#26818e,#25848e,#23898e,#228b8d,#228c8d,#24878e,#25848e,#24868e,#238a8d,#25848e,#25848e,#24878e,#23898e,#228b8d,#25838e,#228b8d,#21918c,#228d8d)"></i><i style="background:linear-gradient(#33638d,#31668e,#31688e,#2f6b8e,#30698e,#30698e,#2d708e,#2b758e,#29798e,#27808e,#23898e,#21908d,#218f8d,#21908d,#1f948c,#1f9f88,#1fa287,#1fa088,#1e9b8a,#1f998a,#1f968b,#1e9c89,#1f998a,#1f9f88,#1fa188,#1fa088,#1fa088,#1e9c89,#20a486,#23a983,#1fa088)"></i><i style="background:linear-gradient(#34618d,#33628d,#34618d,#34618d,#355f8d,#33628d,#30698e,#2d718e,#2c738e,#29798e,#26818e,#228d8d,#228b8d,#228d8d,#1f958b,#20a386,#27ad81,#22a884,#1fa287,#1e9d89,#1f998a,#1fa088,#1fa188,#25ac82,#2cb17e,#27ad81,#28ae80,#29af7f,#34b679,#3fbc73,#2cb17e)"></i><i style="background:linear-gradient(#365c8d,#375b8d,#39568c,#365c8d,#365c8d,#33638d,#31668e,#2e6e8e,#2d718e,#2a778e,#25838e,#20928c,#20928c,#1f948c,#1f998a,#21a685,#2db27d,#2cb17e,#24aa83,#1fa188,#1f978b,#1e9c89,#1fa188,#27ad81,#2fb47c,#2ab07f,#32b67a,#3dbc74,#48c16e,#54c568,#3aba76)"></i><i style="background:linear-gradient(#365c8d,#39558c,#3c508b,#38588c,#3a538b,#39568c,#375b8d,#355e8d,#33638d,#306a8e,#297a8e,#25858e,#24878e,#218e8d,#1f968b,#1f9f88,#20a386,#22a785,#1f9e89,#1e9b8a,#20928c,#1f948c,#1e9b8a,#22a785,#25ab82,#23a983,#27ad81,#2eb37c,#35b779,#35b779,#25ab82)"></i><i style="background:linear-gradient(#34618d,#39568c,#3a538b,#375a8c,#3c4f8a,#3e4c8a,#39568c,#39558c,#375a8c,#365d8d,#31688e,#2c718e,#297a8e,#26828e,#228b8d,#218f8d,#218f8d,#20938c,#218f8d,#21908d,#218f8d,#20928c,#1f948c,#1e9d89,#1e9b8a,#1e9b8a,#1e9c89,#1fa188,#1fa187,#1f9f88,#21918c)"></i><i style="background:linear-gradient(#2f6c8e,#32658e,#355f8d,#32648e,#375b8d,#38588c,#33628d,#365d8d,#355e8d,#38598c,#355e8d,#31668e,#2c738e,#29798e,#277f8e,#26828e,#27808e,#26818e,#26818e,#24868e,#23898e,#228d8d,#228d8d,#20938c,#21918c,#218e8d,#228d8d,#20928c,#218f8d,#20928c,#25858e)"></i><i style="background:linear-gradient(#2e6d8e,#2f6b8e,#32648e,#31668e,#355f8d,#355f8d,#32658e,#31668e,#32648e,#365d8d,#355e8d,#33638d,#2e6e8e,#2a778e,#277e8e,#27808e,#287d8e,#297b8e,#287d8e,#25838e,#23888e,#218e8d,#21908d,#1f948c,#21918c,#218e8d,#228d8d,#20928c,#228d8d,#1f948c,#228d8d)"></i><i style="background:linear-gradient(#2d718e,#2d708e,#31688e,#31678e,#365d8d,#355f8d,#33628d,#30698e,#31688e,#31668e,#32658e,#30698e,#2e6e8e,#2b748e,#287c8e,#277f8e,#277f8e,#277e8e,#26828e,#25838e,#24878e,#218f8d,#1f948c,#1f978b,#218e8d,#218e8d,#20938c,#1f998a,#1f948c,#1f9a8a,#1f958b)"></i><i style="background:linear-gradient(#287d8e,#297a8e,#2d718e,#2f6b8e,#34618d,#34618d,#34618d,#2f6c8e,#2e6f8e,#2e6e8e,#2f6c8e,#2d708e,#2c728e,#2b748e,#2a778e,#287c8e,#27808e,#26818e,#23898e,#23888e,#23888e,#21908d,#1f9a8a,#1f9a8a,#20928c,#20928c,#1e9c89,#21a685,#1fa187,#20a486,#1fa088)"></i><i style="background:linear-gradient(#2c738e,#2e6f8e,#32658e,#365c8d,#3b528b,#3a548c,#3c508b,#365c8d,#34608d,#375a8c,#365d8d,#33638d,#31668e,#2e6e8e,#2d708e,#2a778e,#287c8e,#277e8e,#25848e,#24868e,#25858e,#228b8d,#1f968b,#20928c,#218e8d,#218f8d,#1f958b,#1fa187,#1f9e89,#1fa187,#1f998a)"></i><i style="background:linear-gradient(#2d718e,#2f6b8e,#365d8d,#3a538b,#3f4788,#3f4788,#414487,#3e4a89,#3e4c8a,#3f4889,#3a538b,#355f8d,#32658e,#2a768e,#277e8e,#25838e,#26828e,#27808e,#27808e,#25848e,#25858e,#228d8d,#1f948c,#1f978b,#1f958b,#1f988b,#1f9f88,#21a685,#21a685,#22a884,#1e9d89)"></i><i style="background:linear-gradient(#2d718e,#30698e,#38598c,#3d4d8a,#423f85,#453781,#46337f,#46337f,#472f7d,#453781,#3e4989,#375b8d,#31668e,#297a8e,#25858e,#228c8d,#25848e,#297a8e,#2b758e,#2a788e,#297b8e,#26828e,#23888e,#20928c,#1f948c,#1e9b8a,#1fa188,#1fa187,#21a685,#1fa287,#20928c)"></i><i style="background:linear-gradient(#297a8e,#2d718e,#375b8d,#3c4f8a,#404688,#443983,#46327e,#482979,#482677,#453781,#404688,#375a8c,#31668e,#29798e,#25838e,#23888e,#25858e,#287d8e,#2b758e,#2a768e,#2a778e,#287d8e,#26828e,#228d8d,#1f958b,#1f998a,#1e9c89,#1f988b,#1f9f88,#1f998a,#23898e)"></i><i style="background:linear-gradient(#2a778e,#2f6b8e,#3a548c,#404688,#424086,#453581,#472f7d,#482475,#482475,#453882,#3e4989,#34618d,#2d708e,#26828e,#24878e,#238a8d,#218e8d,#24878e,#277e8e,#287d8e,#297a8e,#297b8e,#287d8e,#26828e,#218e8d,#218f8d,#20928c,#20928c,#1e9c89,#1f998a,#24878e)"></i><i style="background:linear-gradient(#33638d,#375a8c,#3f4788,#433d84,#453882,#46337f,#472f7d,#482677,#482878,#433d84,#3a548c,#2f6c8e,#26828e,#20938c,#1f948c,#20938c,#1f978b,#218e8d,#25858e,#25838e,#26828e,#25838e,#26828e,#27808e,#218e8d,#218e8d,#1f958b,#1e9d89,#22a785,#24aa83,#1f978b)"></i><i style="background:linear-gradient(#443983,#453882,#472f7d,#472e7c,#472d7b,#472c7a,#482878,#482374,#472a7a,#433e85,#39558c,#2f6b8e,#277e8e,#21918c,#21908d,#21908d,#20928c,#228d8d,#25858e,#26818e,#277f8e,#287d8e,#287d8e,#297a8e,#25848e,#25848e,#218e8d,#1f958b,#1f9f88,#22a884,#1f9e89)"></i><i style="background:linear-gradient(#472d7b,#46307e,#472a7a,#472e7c,#472f7d,#453581,#46337f,#472f7d,#443a83,#3e4a89,#365c8d,#2f6b8e,#2a778e,#23898e,#228d8d,#1f958b,#1f958b,#1f998a,#1f958b,#21918c,#228b8d,#23898e,#23898e,#23888e,#218f8d,#218e8d,#1f968b,#1f9f88,#22a785,#2ab07f,#22a884)"></i><i style="background:linear-gradient(#3d4e8a,#3e4c8a,#414487,#3f4889,#3e4a89,#3c508b,#3a538b,#3c508b,#3a538b,#355f8d,#2d708e,#297a8e,#27808e,#218f8d,#20928c,#1f9e89,#1e9b8a,#20a386,#21a585,#21a585,#20a486,#21a685,#21a685,#22a884,#25ac82,#22a884,#26ad81,#37b878,#3dbc74,#42be71,#2db27d)"></i><i style="background:linear-gradient(#3d4d8a,#3f4788,#453882,#414287,#3c508b,#39558c,#375b8d,#39558c,#39568c,#365d8d,#2d718e,#297a8e,#277e8e,#23898e,#23888e,#1f958b,#1f948c,#1f9f88,#21a585,#23a983,#26ad81,#25ac82,#21a685,#23a983,#26ad81,#24aa83,#23a983,#2fb47c,#38b977,#3bbb75,#25ab82)"></i><i style="background:linear-gradient(#404588,#463480,#481769,#46307e,#3e4c8a,#39558c,#365c8d,#39558c,#39568c,#375b8d,#2e6d8e,#2c728e,#2a768e,#277e8e,#287d8e,#25858e,#238a8d,#1f978b,#1fa187,#21a685,#23a983,#22a884,#1fa187,#21a585,#23a983,#23a983,#25ab82,#2cb17e,#3dbc74,#3bbb75,#23a983)"></i><i style="background:linear-gradient(#306a8e,#39558c,#443a83,#3d4e8a,#31688e,#2e6d8e,#2c718e,#31678e,#32648e,#30698e,#2a768e,#287d8e,#26828e,#23888e,#228c8d,#1f948c,#1f9e89,#26ad81,#31b57b,#34b679,#32b67a,#31b57b,#2db27d,#31b57b,#3aba76,#44bf70,#4ac16d,#58c765,#6ece58,#63cb5f,#37b878)"></i><i style="background:linear-gradient(#2c728e,#34618d,#3e4c8a,#3b518b,#32658e,#30698e,#2d708e,#31668e,#33628d,#31678e,#2c728e,#287c8e,#26828e,#238a8d,#1f958b,#1f9e89,#23a983,#2eb37c,#32b67a,#2fb47c,#29af7f,#2cb17e,#2ab07f,#2eb37c,#44bf70,#5ac864,#58c765,#69cd5b,#75d054,#69cd5b,#3fbc73)"></i><i style="background:linear-gradient(#2a768e,#2e6d8e,#355f8d,#375b8d,#33638d,#31678e,#2e6f8e,#2f6c8e,#30698e,#2e6e8e,#2b748e,#26828e,#24878e,#21908d,#1fa187,#22a785,#27ad81,#2eb37c,#2cb17e,#28ae80,#23a983,#22a884,#22a884,#25ab82,#3aba76,#50c46a,#4cc26c,#54c568,#5cc863,#5ec962,#3fbc73)"></i><i style="background:linear-gradient(#2f6b8e,#31678e,#375b8d,#3b528b,#3b528b,#375b8d,#32658e,#31678e,#2f6b8e,#2b758e,#287c8e,#23898e,#24868e,#238a8d,#1e9d89,#1fa088,#1fa187,#25ab82,#22a884,#20a486,#1f9f88,#1fa088,#1f9e89,#1fa088,#24aa83,#2cb17e,#2cb17e,#2cb17e,#32b67a,#37b878,#29af7f)"></i><i style="background:linear-gradient(#32648e,#365d8d,#3d4e8a,#424186,#443a83,#433e85,#404688,#3d4d8a,#38588c,#2f6b8e,#2a788e,#26828e,#287c8e,#2a788e,#25838e,#25848e,#24878e,#20938c,#1f958b,#21908d,#23888e,#24878e,#25848e,#26828e,#25858e,#23898e,#228d8d,#228c8d,#20928c,#20928c,#238a8d)"></i><i style="background:linear-gradient(#2e6f8e,#31668e,#3a548c,#3e4c8a,#414287,#414287,#424086,#3e4c8a,#38598c,#2f6c8e,#2a778e,#277e8e,#297b8e,#297a8e,#277f8e,#287d8e,#277e8e,#25858e,#238a8d,#25848e,#287d8e,#287d8e,#277e8e,#277e8e,#25838e,#25858e,#23898e,#228c8d,#218e8d,#20928c,#25858e)"></i><i style="background:linear-gradient(#29798e,#2c728e,#32648e,#34608d,#375a8c,#355e8d,#38598c,#33628d,#31678e,#2f6c8e,#2e6f8e,#29798e,#297b8e,#277e8e,#26828e,#277f8e,#277f8e,#25838e,#25848e,#27808e,#297a8e,#297b8e,#287c8e,#27808e,#228c8d,#21918c,#20928c,#1f988b,#1f948c,#1f978b,#228c8d)"></i><i style="background:linear-gradient(#2a768e,#2d708e,#365d8d,#355e8d,#355e8d,#30698e,#30698e,#2d718e,#2d718e,#2d708e,#2f6c8e,#2a778e,#277f8e,#24878e,#23888e,#25848e,#25858e,#218f8d,#228c8d,#23888e,#25848e,#23888e,#24878e,#228d8d,#1f998a,#1f9e89,#1fa188,#21a685,#1fa187,#1e9c89,#21918c)"></i><i style="background:linear-gradient(#1f968b,#21908d,#287c8e,#26828e,#24868e,#218f8d,#20928c,#1f9a8a,#1f968b,#21918c,#238a8d,#20928c,#1f998a,#21a585,#20a386,#1f9f88,#20a386,#29af7f,#26ad81,#25ac82,#24aa83,#29af7f,#26ad81,#31b57b,#3fbc73,#52c569,#58c765,#5cc863,#56c667,#4cc26c,#29af7f)"></i><i style="background:linear-gradient(#1f948c,#218e8d,#29798e,#277f8e,#24878e,#21908d,#20938c,#1e9d89,#1f9e89,#1e9c89,#1f988b,#1e9d89,#1fa187,#28ae80,#2cb17e,#2ab07f,#2db27d,#35b779,#35b779,#3aba76,#32b67a,#37b878,#35b779,#44bf70,#50c46a,#6ece58,#73d056,#73d056,#67cc5c,#5cc863,#2cb17e)"></i><i style="background:linear-gradient(#26828e,#2a768e,#365c8d,#33628d,#2d708e,#297a8e,#26828e,#25858e,#228c8d,#218e8d,#23888e,#238a8d,#21908d,#1e9b8a,#20a386,#21a585,#22a884,#22a785,#25ac82,#2cb17e,#25ac82,#25ac82,#28ae80,#2eb37c,#35b779,#4cc26c,#52c569,#52c569,#46c06f,#3bbb75,#21a585)"></i><i style="background:linear-gradient(#20938c,#25848e,#32658e,#2d708e,#277f8e,#218e8d,#1f988b,#1f968b,#1e9d89,#1f9e89,#1f958b,#1f978b,#1e9c89,#22a785,#24aa83,#22a785,#25ac82,#22a884,#24aa83,#25ac82,#28ae80,#2eb37c,#3bbb75,#3fbc73,#44bf70,#50c46a,#58c765,#58c765,#54c568,#50c46a,#2fb47c)"></i><i style="background:linear-gradient(#1f968b,#23888e,#2f6c8e,#287c8e,#228d8d,#1f9a8a,#20a486,#21a585,#22a785,#21a585,#1fa287,#1fa088,#1fa088,#25ac82,#26ad81,#27ad81,#2db27d,#25ac82,#22a785,#21a585,#25ac82,#35b779,#4ec36b,#4cc26c,#46c06f,#42be71,#4cc26c,#50c46a,#58c765,#5ac864,#3aba76)"></i><i style="background:linear-gradient(#26828e,#297b8e,#31678e,#2b758e,#26828e,#23898e,#228c8d,#228c8d,#228d8d,#238a8d,#218e8d,#228b8d,#228b8d,#1f9a8a,#20a386,#24aa83,#32b67a,#2cb17e,#25ab82,#20a386,#21a685,#2cb17e,#3bbb75,#34b679,#2fb47c,#31b57b,#3aba76,#42be71,#56c667,#4ec36b,#29af7f)"></i><i style="background:linear-gradient(#2e6e8e,#2d708e,#31668e,#2c738e,#2a788e,#2a768e,#2e6d8e,#32648e,#31668e,#32658e,#31678e,#30698e,#2d718e,#277f8e,#21908d,#1f988b,#22a785,#21a585,#1fa187,#1fa088,#1fa188,#22a884,#25ac82,#20a386,#21a585,#26ad81,#31b57b,#31b57b,#3fbc73,#2fb47c,#1f9a8a)"></i><i style="background:linear-gradient(#30698e,#2e6f8e,#30698e,#2c738e,#2a788e,#2a788e,#2c728e,#2f6c8e,#2e6f8e,#2d718e,#2c718e,#2c738e,#277e8e,#25848e,#218f8d,#1f948c,#1e9d89,#1f988b,#1f988b,#1f998a,#1e9b8a,#1fa088,#1e9c89,#1f978b,#1f9a8a,#1fa188,#22a884,#1fa187,#1fa088,#1f958b,#26818e)"></i><i style="background:linear-gradient(#39568c,#375b8d,#3c4f8a,#3b528b,#39558c,#365d8d,#38588c,#3b518b,#39558c,#375a8c,#365c8d,#375b8d,#31668e,#2f6c8e,#2c728e,#2a768e,#29798e,#29798e,#277e8e,#277f8e,#26818e,#26828e,#277f8e,#287d8e,#297b8e,#297b8e,#277e8e,#2a778e,#2c718e,#31678e,#38588c)"></i><i style="background:linear-gradient(#39568c,#39568c,#3f4889,#424086,#3f4788,#3b528b,#3b528b,#3c4f8a,#3a538b,#39568c,#38588c,#38588c,#34608d,#32658e,#2f6b8e,#2e6e8e,#30698e,#2f6b8e,#2e6e8e,#2e6d8e,#2e6d8e,#2e6f8e,#2e6f8e,#2e6e8e,#2f6c8e,#32648e,#32658e,#30698e,#33628d,#375b8d,#3d4e8a)"></i><i style="background:linear-gradient(#34618d,#365c8d,#3c508b,#404588,#404688,#3d4d8a,#3b518b,#3a538b,#38588c,#365d8d,#34608d,#33628d,#2e6d8e,#2d718e,#2b748e,#2c728e,#2e6e8e,#2f6c8e,#2f6c8e,#306a8e,#2f6c8e,#2d718e,#2c718e,#2c738e,#2d718e,#32648e,#31688e,#2d718e,#2e6d8e,#30698e,#38598c)"></i><i style="background:linear-gradient(#2d708e,#31678e,#365d8d,#3b528b,#3d4e8a,#3b518b,#38588c,#33638d,#306a8e,#2d708e,#2b748e,#287c8e,#24868e,#24868e,#228c8d,#23898e,#24868e,#277f8e,#297b8e,#287c8e,#277e8e,#25848e,#25838e,#23888e,#25838e,#297b8e,#26818e,#23898e,#228d8d,#25858e,#2c738e)"></i><i style="background:linear-gradient(#2a768e,#30698e,#355f8d,#3c508b,#3e4a89,#3d4e8a,#3b518b,#33638d,#2f6c8e,#2e6f8e,#2c718e,#297b8e,#27808e,#25848e,#238a8d,#228b8d,#25858e,#287c8e,#2a768e,#297b8e,#287d8e,#26828e,#26828e,#25848e,#26828e,#25838e,#228b8d,#21918c,#1f988b,#21908d,#297b8e)"></i><i style="background:linear-gradient(#29798e,#2e6d8e,#33628d,#3a548c,#3c4f8a,#3b518b,#3b528b,#32658e,#2d718e,#2b748e,#2c728e,#297a8e,#287c8e,#25848e,#238a8d,#228d8d,#25858e,#2a768e,#2d708e,#2b758e,#2a778e,#287d8e,#26828e,#27808e,#277e8e,#25848e,#228d8d,#218e8d,#21918c,#228d8d,#2a788e)"></i><i style="background:linear-gradient(#25848e,#287d8e,#2b758e,#2e6e8e,#306a8e,#2f6c8e,#2f6c8e,#2a788e,#26828e,#25838e,#24868e,#228d8d,#218e8d,#1f988b,#1f9e89,#1fa188,#20928c,#26828e,#2a788e,#297a8e,#297a8e,#27808e,#25858e,#23898e,#23888e,#228d8d,#20928c,#218e8d,#21908d,#21918c,#277f8e)"></i><i style="background:linear-gradient(#2b748e,#2c718e,#2e6d8e,#31668e,#33628d,#32648e,#32658e,#2f6c8e,#2c718e,#2c728e,#277f8e,#25848e,#25858e,#20928c,#1f978b,#1f9a8a,#23888e,#26818e,#2a768e,#2c728e,#2c728e,#2b748e,#2a788e,#27808e,#25838e,#24868e,#228c8d,#228b8d,#21918c,#21918c,#25838e)"></i><i style="background:linear-gradient(#26828e,#26828e,#2a778e,#2a778e,#2a768e,#287d8e,#277f8e,#24868e,#228b8d,#21908d,#1e9b8a,#1e9c89,#1e9b8a,#1fa287,#22a884,#23a983,#1f948c,#20928c,#24878e,#277e8e,#287d8e,#2a768e,#2a778e,#287d8e,#25838e,#24878e,#228c8d,#21908d,#1f968b,#20938c,#23898e)"></i><i style="background:linear-gradient(#228b8d,#218e8d,#287c8e,#2a788e,#297a8e,#25848e,#228b8d,#20928c,#1f948c,#1e9c89,#20a386,#1fa188,#1fa287,#22a785,#25ac82,#25ac82,#1f9e89,#1f968b,#218f8d,#24878e,#25848e,#2b758e,#2b758e,#2a768e,#287d8e,#26828e,#228b8d,#1f968b,#1e9c89,#1f988b,#228c8d)"></i><i style="background:linear-gradient(#228d8d,#21908d,#277e8e,#2c718e,#2c738e,#287c8e,#25848e,#228d8d,#1f948c,#1f9f88,#21a685,#21a585,#23a983,#27ad81,#28ae80,#27ad81,#21a585,#1e9b8a,#1f978b,#1f968b,#1f948c,#24878e,#25858e,#24878e,#238a8d,#21908d,#1e9b8a,#22a785,#27ad81,#25ab82,#1e9c89)"></i><i style="background:linear-gradient(#218e8d,#228c8d,#287d8e,#2d708e,#2b758e,#297a8e,#26828e,#228d8d,#1f978b,#1fa088,#24aa83,#2ab07f,#2eb37c,#31b57b,#2eb37c,#35b779,#2eb37c,#23a983,#22a785,#22a884,#21a685,#1f9e89,#1f998a,#1e9b8a,#1f9f88,#20a486,#31b57b,#3dbc74,#56c667,#5ec962,#38b977)"></i><i style="background:linear-gradient(#21918c,#21908d,#23888e,#27808e,#25858e,#25838e,#24878e,#21918c,#1f988b,#1f9e89,#20a486,#2ab07f,#29af7f,#2ab07f,#2fb47c,#38b977,#3fbc73,#28ae80,#25ac82,#25ac82,#21a585,#1fa187,#1f9e89,#1e9d89,#1fa287,#21a685,#3aba76,#42be71,#5ac864,#67cc5c,#42be71)"></i><i style="background:linear-gradient(#20938c,#1f948c,#21918c,#21908d,#1f948c,#21918c,#21918c,#1f958b,#1e9d89,#1fa188,#20a386,#24aa83,#22a785,#27ad81,#34b679,#35b779,#42be71,#2fb47c,#29af7f,#25ac82,#20a386,#1fa088,#1fa088,#1fa188,#21a585,#21a585,#2eb37c,#34b679,#3aba76,#3fbc73,#27ad81)"></i><i style="background:linear-gradient(#297a8e,#2b758e,#2c718e,#2d708e,#2b748e,#2c728e,#2c738e,#2b748e,#277e8e,#25848e,#25858e,#25848e,#24878e,#21918c,#1f998a,#1f9a8a,#1f9f88,#1f988b,#1f958b,#21908d,#23898e,#24878e,#24868e,#23888e,#218e8d,#228b8d,#21908d,#21908d,#20928c,#21918c,#25858e)"></i><i style="background:linear-gradient(#29798e,#2c718e,#31688e,#355f8d,#365d8d,#34618d,#32648e,#31668e,#2e6f8e,#29798e,#2a778e,#2d708e,#2c738e,#29798e,#287d8e,#287d8e,#27808e,#26828e,#277e8e,#277f8e,#2b748e,#2c728e,#2e6e8e,#2e6e8e,#2c738e,#2c738e,#2a778e,#2a788e,#297a8e,#2a788e,#2e6f8e)"></i><i style="background:linear-gradient(#26828e,#2a778e,#31668e,#38598c,#3c4f8a,#39568c,#365d8d,#33628d,#2d708e,#29798e,#2a788e,#2c738e,#2c728e,#2c718e,#2d708e,#2e6f8e,#2d708e,#29798e,#2c738e,#2a768e,#306a8e,#31688e,#31668e,#32658e,#306a8e,#306a8e,#2c738e,#297a8e,#287c8e,#29798e,#306a8e)"></i><i style="background:linear-gradient(#26818e,#2a768e,#31668e,#38588c,#3b518b,#3a548c,#355e8d,#33638d,#2d708e,#2d718e,#2c718e,#2e6f8e,#2e6f8e,#2f6c8e,#30698e,#31688e,#2f6c8e,#297a8e,#2b758e,#2a768e,#2e6d8e,#2f6c8e,#30698e,#33638d,#32658e,#31688e,#2a778e,#27808e,#25838e,#26818e,#2c718e)"></i><i style="background:linear-gradient(#2a778e,#2e6f8e,#31688e,#34618d,#34608d,#34618d,#31688e,#2e6f8e,#2c728e,#2e6d8e,#306a8e,#31678e,#31668e,#31688e,#30698e,#2f6c8e,#2c738e,#26828e,#277f8e,#27808e,#297b8e,#297b8e,#2b748e,#31678e,#32648e,#306a8e,#29798e,#26828e,#23898e,#24878e,#277f8e)"></i><i style="background:linear-gradient(#375b8d,#3a548c,#3b518b,#3b528b,#3a548c,#3a538b,#375a8c,#32658e,#30698e,#32658e,#365d8d,#38598c,#39568c,#365d8d,#33628d,#30698e,#2b758e,#287d8e,#287c8e,#27808e,#287d8e,#2a788e,#2d718e,#33638d,#365d8d,#32648e,#2e6e8e,#29798e,#24868e,#24868e,#277e8e)"></i><i style="background:linear-gradient(#33638d,#375b8d,#3b528b,#38598c,#38598c,#38588c,#34618d,#2f6b8e,#2c728e,#2c738e,#306a8e,#33638d,#34608d,#31678e,#2e6e8e,#2b758e,#27808e,#26828e,#26828e,#24878e,#26828e,#297b8e,#2c738e,#306a8e,#32648e,#306a8e,#2d718e,#287c8e,#218f8d,#218f8d,#25838e)"></i><i style="background:linear-gradient(#33628d,#38588c,#3c4f8a,#3a538b,#3b518b,#3a548c,#355f8d,#2e6d8e,#2b758e,#29798e,#2c728e,#2f6b8e,#31678e,#2e6e8e,#2a788e,#26818e,#24868e,#23898e,#23898e,#228d8d,#24868e,#27808e,#29798e,#2b758e,#2c728e,#2a778e,#26818e,#218e8d,#1fa287,#1fa287,#1f978b)"></i><i style="background:linear-gradient(#3a538b,#3e4c8a,#3f4889,#414487,#424186,#3f4788,#3a538b,#33628d,#2f6c8e,#2e6f8e,#2f6b8e,#32648e,#32648e,#31688e,#2c728e,#29798e,#277f8e,#25858e,#25848e,#25858e,#277f8e,#29798e,#2a768e,#2c738e,#2c728e,#2b748e,#287c8e,#228c8d,#1e9c89,#1f9e89,#1f988b)"></i><i style="background:linear-gradient(#443a83,#453781,#453581,#472f7d,#472a7a,#453781,#3f4788,#3a538b,#355f8d,#33628d,#34618d,#375b8d,#375b8d,#365c8d,#32658e,#306a8e,#2a768e,#26818e,#26828e,#26828e,#277e8e,#2a768e,#2c738e,#2e6f8e,#2d708e,#2f6c8e,#2d718e,#277e8e,#26828e,#25858e,#26828e)"></i><i style="background:linear-gradient(#472d7b,#472c7a,#482576,#482677,#482878,#443b84,#3e4c8a,#375b8d,#31668e,#30698e,#31678e,#355f8d,#365c8d,#355f8d,#31678e,#2f6c8e,#287d8e,#25858e,#24878e,#23898e,#23888e,#26828e,#277e8e,#2a778e,#297b8e,#2b748e,#2a778e,#27808e,#26818e,#27808e,#287c8e)"></i><i style="background:linear-gradient(#482071,#482475,#481d6f,#482374,#46307e,#404588,#3c4f8a,#34608d,#2d708e,#2d718e,#2d718e,#31668e,#32658e,#32658e,#306a8e,#2c738e,#26828e,#24868e,#23888e,#238a8d,#23898e,#25838e,#26818e,#287c8e,#277e8e,#297b8e,#297b8e,#25848e,#238a8d,#238a8d,#25858e)"></i><i style="background:linear-gradient(#472a7a,#472a7a,#482475,#46327e,#414287,#3d4e8a,#39558c,#32658e,#2a768e,#2a778e,#297a8e,#2d718e,#2d708e,#2e6e8e,#2d708e,#29798e,#26828e,#24878e,#23898e,#228c8d,#228c8d,#23898e,#25858e,#25838e,#25848e,#25858e,#24878e,#20928c,#1f988b,#1e9d89,#1f948c)"></i><i style="background:linear-gradient(#404688,#424086,#443983,#414487,#3a548c,#355e8d,#31678e,#2c738e,#277f8e,#26818e,#25858e,#287d8e,#287d8e,#277f8e,#26828e,#238a8d,#1f958b,#1f9f88,#1fa187,#20a486,#21a685,#21a685,#1fa188,#20a386,#21a685,#22a884,#23a983,#2fb47c,#32b67a,#38b977,#27ad81)"></i><i style="background:linear-gradient(#3e4a89,#424186,#443983,#443b84,#3d4d8a,#38588c,#34608d,#31678e,#2e6e8e,#2c738e,#2c718e,#33638d,#33628d,#30698e,#2e6e8e,#2a768e,#24868e,#20928c,#20938c,#1f988b,#1f9e89,#1e9c89,#1e9d89,#20a386,#22a884,#25ac82,#26ad81,#38b977,#34b679,#3bbb75,#25ab82)"></i><i style="background:linear-gradient(#424186,#443b84,#46337f,#472f7d,#414287,#3c508b,#365c8d,#34618d,#31668e,#30698e,#355e8d,#3e4c8a,#404588,#3c4f8a,#39568c,#32648e,#2a768e,#277f8e,#277f8e,#24868e,#218f8d,#218e8d,#20928c,#1f958b,#1e9b8a,#1fa187,#1fa187,#21a685,#20a486,#20a486,#228b8d)"></i><i style="background:linear-gradient(#453882,#433d84,#463480,#46337f,#404688,#3a548c,#33628d,#2d708e,#287c8e,#277e8e,#2c728e,#34618d,#39568c,#365d8d,#32648e,#2b748e,#25838e,#24868e,#25858e,#238a8d,#20928c,#1f948c,#1f968b,#1f968b,#1f9a8a,#1fa187,#20a386,#1e9d89,#1f9a8a,#1f958b,#297a8e)"></i><i style="background:linear-gradient(#472a7a,#46307e,#482878,#472c7a,#423f85,#3c508b,#365d8d,#2d708e,#277e8e,#25838e,#297a8e,#2e6d8e,#33628d,#34618d,#31678e,#2a768e,#277f8e,#277f8e,#277f8e,#277e8e,#24868e,#23898e,#23898e,#228b8d,#218e8d,#21918c,#21908d,#23888e,#26828e,#297a8e,#32658e)"></i><i style="background:linear-gradient(#453882,#453781,#482979,#472e7c,#443a83,#3d4e8a,#38588c,#33638d,#306a8e,#306a8e,#34608d,#38598c,#375b8d,#355e8d,#30698e,#2c738e,#2a778e,#2c738e,#2c718e,#2f6b8e,#2e6e8e,#2d718e,#2c728e,#2b748e,#2a768e,#297a8e,#29798e,#2b758e,#2c728e,#31688e,#375a8c)"></i><i style="background:linear-gradient(#433e85,#423f85,#453781,#433e85,#424186,#3b518b,#38598c,#34608d,#34608d,#39558c,#3f4889,#414487,#3c508b,#38588c,#31678e,#2d708e,#2b748e,#2c738e,#2f6c8e,#31668e,#306a8e,#2f6b8e,#2d718e,#2c738e,#2b758e,#2a788e,#2a768e,#2d718e,#2e6e8e,#32658e,#38588c)"></i><i style="background:linear-gradient(#414487,#3f4889,#404688,#3d4e8a,#3e4c8a,#365c8d,#33638d,#30698e,#2d708e,#31678e,#355e8d,#39558c,#355e8d,#32658e,#2c718e,#297a8e,#26828e,#26828e,#297b8e,#2c738e,#2c738e,#2c728e,#297a8e,#27808e,#25838e,#25838e,#26828e,#297b8e,#297a8e,#2e6f8e,#365d8d)"></i><i style="background:linear-gradient(#39568c,#39558c,#3c508b,#365c8d,#365c8d,#30698e,#2d718e,#2c728e,#277e8e,#287d8e,#297a8e,#2b748e,#2a788e,#287c8e,#25838e,#228d8d,#20928c,#218f8d,#24868e,#297a8e,#297b8e,#287d8e,#26828e,#23898e,#21918c,#218e8d,#228b8d,#24868e,#25858e,#2b758e,#32648e)"></i><i style="background:linear-gradient(#3b528b,#3c4f8a,#3e4c8a,#38598c,#375b8d,#33638d,#31688e,#32648e,#2e6e8e,#2d708e,#2c738e,#2c738e,#287c8e,#277f8e,#24878e,#20938c,#21908d,#24868e,#297b8e,#2b748e,#2a768e,#277f8e,#25838e,#218e8d,#1f958b,#20928c,#218e8d,#24878e,#27808e,#2c718e,#32658e)"></i><i style="background:linear-gradient(#3c508b,#3d4e8a,#3e4a89,#3b518b,#39558c,#375b8d,#34618d,#365c8d,#33638d,#34618d,#31688e,#2f6b8e,#2c738e,#29798e,#25838e,#218f8d,#23898e,#26828e,#2a778e,#29798e,#297a8e,#25838e,#24878e,#20928c,#20928c,#228d8d,#23898e,#25848e,#287d8e,#2b748e,#2f6c8e)"></i><i style="background:linear-gradient(#424186,#433e85,#46307e,#46307e,#46337f,#443a83,#3f4788,#404588,#3d4e8a,#3f4788,#3d4e8a,#3b518b,#38598c,#33628d,#30698e,#2c728e,#2c738e,#2a768e,#2e6f8e,#2c718e,#2d718e,#2a788e,#287d8e,#25858e,#25848e,#27808e,#277e8e,#277e8e,#26818e,#277f8e,#2a788e)"></i><i style="background:linear-gradient(#433e85,#443a83,#482475,#481d6f,#482475,#472a7a,#443a83,#433e85,#404588,#433d84,#404588,#3e4a89,#3a538b,#365d8d,#31668e,#2d708e,#29798e,#287d8e,#2a778e,#2b748e,#2d718e,#2b758e,#297b8e,#24868e,#238a8d,#24878e,#24878e,#218f8d,#1f948c,#20928c,#228b8d)"></i><i style="background:linear-gradient(#443b84,#453882,#481d6f,#471063,#481467,#481d6f,#46337f,#443a83,#424086,#433d84,#3f4788,#3d4e8a,#39558c,#34618d,#2d708e,#2a788e,#25838e,#25858e,#287d8e,#2c738e,#2d718e,#2d708e,#2a788e,#23888e,#21918c,#20928c,#1f948c,#1e9d89,#1fa187,#1e9d89,#20928c)"></i><i style="background:linear-gradient(#433e85,#443983,#482071,#460a5d,#46085c,#481467,#482878,#453781,#433e85,#433e85,#404588,#3b528b,#375b8d,#31688e,#2b758e,#287d8e,#24878e,#23888e,#26828e,#2a788e,#2b758e,#2d708e,#2a788e,#24868e,#20938c,#1f998a,#1e9d89,#22a785,#25ab82,#24aa83,#1f9f88)"></i><i style="background:linear-gradient(#3e4a89,#414487,#472e7c,#481668,#471365,#481b6d,#482576,#453581,#433d84,#414287,#414487,#3a538b,#34608d,#306a8e,#2b758e,#287d8e,#25858e,#25858e,#25848e,#287d8e,#29798e,#2b748e,#297a8e,#26828e,#228d8d,#1f988b,#1f9f88,#23a983,#25ab82,#2ab07f,#22a884)"></i><i style="background:linear-gradient(#39568c,#3c4f8a,#443b84,#472c7a,#482475,#482374,#472c7a,#433d84,#404688,#3d4d8a,#3d4e8a,#365d8d,#2e6e8e,#2b758e,#26828e,#238a8d,#218f8d,#218f8d,#21908d,#23898e,#25838e,#277f8e,#26828e,#23898e,#20928c,#1fa088,#22a884,#28ae80,#27ad81,#29af7f,#21a685)"></i><i style="background:linear-gradient(#365c8d,#39568c,#414487,#443b84,#46307e,#472e7c,#443983,#404688,#3b518b,#3a548c,#3b518b,#355e8d,#2e6f8e,#2a778e,#26828e,#238a8d,#21908d,#21918c,#20928c,#218e8d,#24878e,#287c8e,#26828e,#24878e,#21908d,#1f9f88,#22a785,#22a884,#1fa287,#1e9c89,#228c8d)"></i><i style="background:linear-gradient(#38598c,#3b528b,#424186,#453581,#472e7c,#472f7d,#46307e,#443a83,#404688,#404588,#404588,#3c4f8a,#38598c,#33628d,#306a8e,#2c728e,#2a768e,#29798e,#277f8e,#27808e,#29798e,#306a8e,#2e6f8e,#2a768e,#277f8e,#228d8d,#21918c,#21908d,#238a8d,#287d8e,#2f6b8e)"></i><i style="background:linear-gradient(#2d718e,#32658e,#3b528b,#404588,#424186,#404688,#424186,#414487,#3c4f8a,#3d4e8a,#3b528b,#39568c,#375a8c,#355f8d,#31678e,#2e6f8e,#2b748e,#2a778e,#277f8e,#277e8e,#2a778e,#2f6c8e,#2d708e,#2b758e,#27808e,#228c8d,#228d8d,#228d8d,#24868e,#2a788e,#30698e)"></i><i style="background:linear-gradient(#23a983,#1f998a,#26828e,#297a8e,#297a8e,#287d8e,#2a788e,#2a768e,#287c8e,#277f8e,#24868e,#24878e,#24868e,#228c8d,#1f958b,#1f998a,#1f9f88,#1fa187,#21a585,#1fa188,#1f988b,#21908d,#1f948c,#1f9a8a,#20a486,#27ad81,#29af7f,#2fb47c,#2fb47c,#25ab82,#1f9a8a)"></i><i style="background:linear-gradient(#28ae80,#20a386,#218e8d,#24878e,#26828e,#277f8e,#2a788e,#2a768e,#287c8e,#26828e,#238a8d,#228d8d,#218f8d,#1f968b,#1fa187,#1fa187,#20a486,#20a486,#20a486,#1fa187,#1f9a8a,#1f968b,#1f988b,#1f9e89,#20a386,#22a785,#27ad81,#31b57b,#3bbb75,#35b779,#22a785)"></i><i style="background:linear-gradient(#1e9b8a,#1f958b,#24868e,#277f8e,#2a768e,#2c728e,#2d718e,#2f6b8e,#2b748e,#287d8e,#25848e,#228b8d,#218f8d,#1f948c,#1e9d89,#1f9e89,#1fa188,#1e9d89,#1f9f88,#1fa287,#1fa088,#1e9d89,#1e9d89,#1fa188,#1fa287,#1fa188,#25ac82,#26ad81,#35b779,#2cb17e,#1fa088)"></i><i style="background:linear-gradient(#228b8d,#23888e,#287d8e,#2c738e,#2e6d8e,#2e6e8e,#2a768e,#2d708e,#2a768e,#277e8e,#25848e,#23898e,#23888e,#228b8d,#21908d,#1f948c,#1f9a8a,#1f9a8a,#1f9e89,#21a685,#21a685,#1fa287,#1fa088,#20a386,#22a785,#22a785,#2eb37c,#2ab07f,#3dbc74,#34b679,#20a386)"></i><i style="background:linear-gradient(#26828e,#26818e,#2a768e,#2e6d8e,#306a8e,#2d708e,#27808e,#26828e,#26828e,#25838e,#25848e,#24878e,#26828e,#25858e,#24878e,#218f8d,#1f958b,#1f978b,#1e9b8a,#20a486,#21a585,#1fa287,#20a386,#26ad81,#37b878,#42be71,#4ec36b,#56c667,#67cc5c,#5ec962,#3dbc74)"></i><i style="background:linear-gradient(#27808e,#2a788e,#2d708e,#31678e,#32648e,#2f6b8e,#2a778e,#26828e,#277e8e,#297a8e,#297a8e,#287c8e,#2a788e,#277e8e,#25858e,#21918c,#1f948c,#1f958b,#1e9c89,#1fa187,#1fa188,#1f9f88,#21a685,#2cb17e,#3dbc74,#4ac16d,#50c46a,#70cf57,#7cd250,#70cf57,#4ec36b)"></i><i style="background:linear-gradient(#218e8d,#25858e,#277f8e,#297a8e,#2b758e,#287c8e,#26828e,#218e8d,#23888e,#26828e,#26828e,#25858e,#25838e,#238a8d,#1f968b,#1fa088,#1f9f88,#1f9e89,#21a585,#22a884,#22a884,#26ad81,#3aba76,#54c568,#67cc5c,#69cd5b,#75d054,#a2da37,#a5db36,#98d83e,#6ccd5a)"></i><i style="background:linear-gradient(#20928c,#228b8d,#25838e,#26818e,#27808e,#23898e,#238a8d,#228d8d,#23888e,#26828e,#25838e,#218e8d,#1f958b,#1e9d89,#1fa287,#20a386,#20a386,#20a386,#28ae80,#2fb47c,#2db27d,#34b679,#50c46a,#63cb5f,#73d056,#75d054,#84d44b,#b2dd2d,#b8de29,#98d83e,#6ece58)"></i><i style="background:linear-gradient(#29798e,#2c728e,#33638d,#31668e,#2e6f8e,#297a8e,#27808e,#26818e,#26828e,#26818e,#26828e,#21908d,#1e9c89,#20a386,#22a884,#20a486,#1fa287,#21a585,#27ad81,#2fb47c,#2cb17e,#32b67a,#44bf70,#44bf70,#44bf70,#50c46a,#63cb5f,#98d83e,#a2da37,#81d34d,#50c46a)"></i><i style="background:linear-gradient(#277f8e,#2c738e,#38598c,#33638d,#2d708e,#297b8e,#26828e,#26828e,#23898e,#23898e,#24868e,#20928c,#1f9a8a,#1fa287,#23a983,#27ad81,#24aa83,#26ad81,#22a785,#25ab82,#28ae80,#38b977,#4ac16d,#46c06f,#42be71,#4ec36b,#70cf57,#9dd93b,#b2dd2d,#9dd93b,#5ec962)"></i><i style="background:linear-gradient(#218f8d,#277e8e,#375b8d,#355f8d,#30698e,#2b758e,#287c8e,#277e8e,#228b8d,#218f8d,#228d8d,#20938c,#1f978b,#1e9d89,#21a585,#2db27d,#2eb37c,#2fb47c,#22a884,#25ab82,#31b57b,#48c16e,#52c569,#52c569,#56c667,#60ca60,#7fd34e,#98d83e,#b8de29,#addc30,#6ccd5a)"></i><i style="background:linear-gradient(#20928c,#287d8e,#38598c,#3a538b,#38598c,#34608d,#32648e,#31678e,#29798e,#26818e,#25838e,#25858e,#23898e,#228c8d,#20938c,#1fa188,#21a685,#20a386,#1f9f88,#1fa287,#28ae80,#37b878,#3aba76,#3bbb75,#42be71,#4cc26c,#5cc863,#67cc5c,#84d44b,#84d44b,#58c765)"></i><i style="background:linear-gradient(#228b8d,#2a778e,#375a8c,#3c4f8a,#3e4a89,#3d4e8a,#39558c,#3b528b,#34618d,#30698e,#2c738e,#2b758e,#287c8e,#297b8e,#26818e,#228b8d,#218f8d,#238a8d,#228d8d,#21908d,#1f9a8a,#20a486,#22a884,#24aa83,#22a785,#26ad81,#28ae80,#2ab07f,#37b878,#3bbb75,#31b57b)"></i><i style="background:linear-gradient(#31688e,#38598c,#404588,#433d84,#46307e,#472e7c,#453581,#463480,#443b84,#414287,#3d4e8a,#39568c,#375b8d,#375a8c,#355f8d,#30698e,#2e6e8e,#30698e,#2f6b8e,#2e6d8e,#2b748e,#26818e,#23898e,#24878e,#277e8e,#25838e,#24868e,#228c8d,#20928c,#20928c,#20938c)"></i><i style="background:linear-gradient(#3e4989,#423f85,#463480,#46327e,#482878,#482677,#482677,#472e7c,#472f7d,#443983,#424086,#3c4f8a,#3c508b,#3b518b,#3a548c,#34608d,#32648e,#34618d,#355e8d,#33628d,#31688e,#29798e,#26828e,#26818e,#29798e,#277f8e,#27808e,#26828e,#25848e,#277e8e,#277f8e)"></i><i style="background:linear-gradient(#453781,#472d7b,#482173,#481f70,#481d6f,#482576,#482173,#46307e,#463480,#414287,#3e4989,#38588c,#375b8d,#38598c,#355e8d,#31668e,#33638d,#34608d,#375b8d,#34608d,#31678e,#29798e,#25848e,#24868e,#25838e,#24878e,#26818e,#297b8e,#2a788e,#2c738e,#2e6f8e)"></i><i style="background:linear-gradient(#472d7b,#482576,#481769,#470e61,#470d60,#481769,#481b6d,#472d7b,#453882,#3e4989,#3b518b,#355e8d,#31678e,#32658e,#30698e,#2e6f8e,#30698e,#32648e,#34608d,#355f8d,#31668e,#2b748e,#27808e,#25848e,#25838e,#26828e,#2b758e,#2f6c8e,#306a8e,#2f6b8e,#32658e)"></i><i style="background:linear-gradient(#472d7b,#482878,#481668,#470d60,#46085c,#46085c,#471365,#482475,#443a83,#3d4d8a,#39568c,#32648e,#2e6e8e,#2e6f8e,#2c728e,#2a768e,#2c738e,#2c718e,#2d708e,#30698e,#2c718e,#2a778e,#297a8e,#297a8e,#277e8e,#287d8e,#2b758e,#2d708e,#2d708e,#2c718e,#2e6d8e)"></i><i style="background:linear-gradient(#453781,#463480,#481f70,#481b6d,#481b6d,#481b6d,#482173,#46307e,#3e4989,#375a8c,#33628d,#2d708e,#297b8e,#287d8e,#277e8e,#26818e,#25838e,#25858e,#23888e,#26828e,#24878e,#23898e,#24868e,#25838e,#228b8d,#228d8d,#218f8d,#228c8d,#228d8d,#218e8d,#25838e)"></i><i style="background:linear-gradient(#443a83,#453581,#482071,#482475,#472c7a,#46327e,#453581,#424086,#38588c,#32648e,#2e6e8e,#287d8e,#228b8d,#218e8d,#218f8d,#218f8d,#20928c,#1f978b,#1e9c89,#1f998a,#1e9b8a,#1f9e89,#1f9e89,#1e9c89,#20a386,#21a585,#24aa83,#23a983,#24aa83,#25ab82,#1f9f88)"></i><i style="background:linear-gradient(#414287,#46337f,#482071,#482576,#46307e,#433e85,#414487,#3e4c8a,#355f8d,#306a8e,#2c738e,#26828e,#20928c,#1f958b,#1f998a,#1f978b,#1f968b,#1f988b,#1e9b8a,#1e9d89,#1fa187,#1fa287,#20a486,#20a386,#25ac82,#27ad81,#2fb47c,#37b878,#40bd72,#3bbb75,#25ac82)"></i><i style="background:linear-gradient(#3a548c,#443b84,#482071,#482071,#46337f,#3f4788,#3c4f8a,#39558c,#31678e,#2e6f8e,#2a768e,#25838e,#21918c,#1f948c,#1f9a8a,#1f988b,#1f988b,#1f9a8a,#1f958b,#1f978b,#1f9f88,#1f9f88,#1fa188,#1f9f88,#22a884,#25ab82,#2cb17e,#3dbc74,#52c569,#44bf70,#27ad81)"></i><i style="background:linear-gradient(#355f8d,#414287,#481668,#48186a,#46337f,#3e4989,#3a538b,#375b8d,#31688e,#2e6d8e,#2a768e,#26818e,#238a8d,#228d8d,#20928c,#21908d,#1f948c,#20928c,#228c8d,#23898e,#20938c,#1f948c,#1f978b,#1f988b,#1fa187,#20a486,#25ab82,#37b878,#40bd72,#34b679,#21a685)"></i><i style="background:linear-gradient(#33638d,#3d4e8a,#481a6c,#482071,#433d84,#3d4d8a,#39558c,#355e8d,#33638d,#31678e,#2b748e,#26818e,#24878e,#23898e,#21908d,#21908d,#1f988b,#1f968b,#1f948c,#20938c,#1e9d89,#1f9e89,#1fa187,#23a983,#24aa83,#2ab07f,#38b977,#52c569,#56c667,#44bf70,#29af7f)"></i><i style="background:linear-gradient(#31678e,#3a548c,#472c7a,#46327e,#3e4989,#3a538b,#355e8d,#31668e,#31678e,#306a8e,#2b748e,#26818e,#25858e,#24878e,#228b8d,#218e8d,#21908d,#20938c,#1f968b,#1f958b,#1f9f88,#1fa187,#22a785,#28ae80,#24aa83,#2eb37c,#48c16e,#60ca60,#6ece58,#5ac864,#34b679)"></i><i style="background:linear-gradient(#32648e,#3b528b,#453581,#443983,#3e4989,#38598c,#31678e,#2d708e,#2c718e,#2a788e,#287c8e,#26828e,#23888e,#23888e,#24878e,#218e8d,#21918c,#1f948c,#1f988b,#1e9b8a,#1fa188,#21a585,#22a785,#23a983,#21a685,#2cb17e,#48c16e,#5cc863,#73d056,#5ec962,#32b67a)"></i><i style="background:linear-gradient(#38598c,#404688,#472e7c,#46327e,#414487,#39558c,#31668e,#2e6f8e,#2c728e,#297b8e,#2a778e,#277e8e,#24878e,#23898e,#23888e,#218e8d,#20928c,#1f968b,#1f988b,#1f9e89,#1fa287,#1fa287,#1fa188,#1e9d89,#1e9c89,#24aa83,#3bbb75,#58c765,#60ca60,#4cc26c,#27ad81)"></i><i style="background:linear-gradient(#3d4e8a,#443a83,#481c6e,#482475,#453781,#3e4989,#375b8d,#33638d,#32648e,#306a8e,#32648e,#2e6e8e,#2a768e,#277f8e,#27808e,#25838e,#24878e,#238a8d,#228d8d,#1f948c,#1f978b,#1f968b,#1f978b,#20938c,#1f968b,#21a585,#31b57b,#4cc26c,#4cc26c,#3aba76,#21a685)"></i><i style="background:linear-gradient(#3f4889,#453581,#471164,#481668,#482878,#423f85,#39568c,#355e8d,#355f8d,#32658e,#34618d,#31688e,#31688e,#2e6d8e,#2b758e,#277e8e,#25838e,#23888e,#218e8d,#20928c,#20928c,#218f8d,#20928c,#20928c,#1f978b,#20a486,#29af7f,#31b57b,#32b67a,#34b679,#20a486)"></i><i style="background:linear-gradient(#39558c,#3f4788,#482878,#482576,#463480,#3d4e8a,#33628d,#306a8e,#2d718e,#2c718e,#2b748e,#2b758e,#2f6c8e,#2f6b8e,#2c718e,#26828e,#238a8d,#20928c,#1f968b,#1f968b,#1f948c,#20928c,#20928c,#1f968b,#1e9d89,#23a983,#29af7f,#2db27d,#31b57b,#3bbb75,#25ab82)"></i><i style="background:linear-gradient(#39568c,#3d4e8a,#46337f,#46307e,#433d84,#39568c,#33638d,#2e6d8e,#2b748e,#2c728e,#297a8e,#2a788e,#2d718e,#2e6f8e,#2e6f8e,#277f8e,#23898e,#1f958b,#20938c,#218f8d,#228d8d,#228b8d,#238a8d,#21918c,#1f988b,#1fa188,#21a585,#29af7f,#2db27d,#2eb37c,#21a585)"></i><i style="background:linear-gradient(#404588,#424086,#482677,#482878,#46307e,#414287,#3d4e8a,#39558c,#375b8d,#365d8d,#31688e,#30698e,#32658e,#33638d,#34608d,#306a8e,#2c718e,#2a788e,#2b748e,#2e6e8e,#2f6c8e,#2f6c8e,#2d708e,#297a8e,#26828e,#24868e,#228b8d,#1f988b,#1f9e89,#1f948c,#238a8d)"></i><i style="background:linear-gradient(#414287,#433d84,#482677,#482677,#46307e,#443a83,#414287,#3f4788,#3e4a89,#3d4d8a,#375a8c,#355e8d,#34618d,#355f8d,#355e8d,#32648e,#306a8e,#2f6b8e,#2f6b8e,#31668e,#31678e,#2f6b8e,#2e6e8e,#2b748e,#2a788e,#2a778e,#29798e,#277f8e,#26828e,#2a778e,#2e6f8e)"></i><i style="background:linear-gradient(#3e4989,#414287,#472e7c,#482878,#46337f,#443b84,#414487,#414487,#3e4989,#3e4c8a,#3c4f8a,#3a548c,#365d8d,#365d8d,#355e8d,#31668e,#2f6b8e,#31688e,#31678e,#30698e,#2c718e,#2a768e,#2b758e,#2a768e,#2a788e,#297b8e,#277e8e,#27808e,#277f8e,#2b748e,#30698e)"></i><i style="background:linear-gradient(#3a538b,#3d4d8a,#443983,#453581,#404588,#3c508b,#365d8d,#355f8d,#33638d,#31668e,#33628d,#31668e,#2e6d8e,#2e6e8e,#2c738e,#29798e,#297b8e,#297b8e,#297b8e,#26818e,#238a8d,#21908d,#218e8d,#228b8d,#21918c,#1f968b,#1f948c,#1f988b,#1e9d89,#20938c,#25838e)"></i><i style="background:linear-gradient(#3b518b,#404688,#482677,#453581,#3e4989,#3a538b,#34608d,#32648e,#31688e,#2f6b8e,#2f6b8e,#2e6e8e,#2c738e,#2b758e,#277e8e,#25838e,#25858e,#238a8d,#23888e,#23888e,#218e8d,#20928c,#20938c,#1f968b,#1f9f88,#21a685,#1fa088,#20a386,#26ad81,#24aa83,#1f998a)"></i><i style="background:linear-gradient(#3c508b,#3f4889,#482677,#443b84,#3e4a89,#3b528b,#38598c,#375b8d,#31668e,#306a8e,#2c738e,#297b8e,#26828e,#25848e,#228d8d,#218f8d,#20928c,#1f958b,#21918c,#218e8d,#218e8d,#20938c,#1f9a8a,#1fa187,#23a983,#26ad81,#25ac82,#25ac82,#2eb37c,#31b57b,#21a685)"></i><i style="background:linear-gradient(#3b518b,#3e4c8a,#453781,#414287,#404688,#3e4c8a,#3c4f8a,#3b518b,#365d8d,#33638d,#2f6c8e,#2a788e,#287d8e,#27808e,#23888e,#23898e,#228d8d,#21908d,#218f8d,#228c8d,#238a8d,#20928c,#1f998a,#1fa287,#20a486,#1fa088,#1fa187,#20a386,#22a884,#22a884,#1f968b)"></i><i style="background:linear-gradient(#3b528b,#3f4889,#453882,#443b84,#433d84,#424186,#3d4d8a,#3a538b,#38588c,#38588c,#38598c,#32658e,#31688e,#31678e,#2d718e,#2c728e,#2a788e,#27808e,#25838e,#25848e,#26818e,#25838e,#24868e,#228d8d,#218e8d,#228c8d,#238a8d,#218f8d,#218e8d,#238a8d,#297a8e)"></i><i style="background:linear-gradient(#3f4889,#443983,#482576,#482071,#482677,#46307e,#424186,#3e4c8a,#3d4d8a,#404588,#414487,#3d4e8a,#3e4a89,#3e4a89,#39568c,#375a8c,#32658e,#2f6c8e,#2e6f8e,#2c718e,#2e6e8e,#2f6b8e,#2e6f8e,#2e6f8e,#2c728e,#2a768e,#2d708e,#2d708e,#31688e,#30698e,#34618d)"></i><i style="background:linear-gradient(#433e85,#472f7d,#481b6d,#471164,#481d6f,#472f7d,#443a83,#414487,#404588,#443b84,#433d84,#3f4788,#423f85,#424186,#3c4f8a,#3a538b,#34608d,#32658e,#32648e,#32648e,#31668e,#33628d,#30698e,#31678e,#2e6d8e,#2e6f8e,#32658e,#375b8d,#3a548c,#375a8c,#39568c)"></i><i style="background:linear-gradient(#46327e,#472d7b,#482173,#481f70,#482878,#453781,#443b84,#414487,#414287,#433d84,#424086,#3f4788,#414287,#414487,#3d4e8a,#3a538b,#355e8d,#33628d,#34618d,#355e8d,#32648e,#33628d,#31688e,#2e6d8e,#2d708e,#2d708e,#32658e,#38598c,#3a548c,#3a548c,#3b528b)"></i><i style="background:linear-gradient(#472a7a,#472a7a,#482677,#472c7a,#472d7b,#453882,#424186,#3f4889,#3f4788,#404588,#404688,#3f4889,#3f4889,#3e4989,#3d4d8a,#39558c,#365c8d,#355f8d,#33638d,#355e8d,#31668e,#33638d,#31688e,#2e6d8e,#2c718e,#2e6f8e,#34618d,#38588c,#3a538b,#3e4a89,#414287)"></i><i style="background:linear-gradient(#404688,#414487,#423f85,#404588,#414487,#3e4989,#3a548c,#365c8d,#355e8d,#375b8d,#38588c,#38588c,#3a548c,#39558c,#375b8d,#30698e,#306a8e,#2e6e8e,#2d718e,#2e6e8e,#2b758e,#2c738e,#2b758e,#2b758e,#287d8e,#297a8e,#306a8e,#32658e,#33638d,#39568c,#3e4a89)"></i><i style="background:linear-gradient(#25848e,#26818e,#287d8e,#27808e,#27808e,#277e8e,#25858e,#24878e,#228d8d,#23888e,#25838e,#26828e,#26828e,#26828e,#25858e,#20928c,#20938c,#1f978b,#1f978b,#1f998a,#1e9d89,#1e9d89,#1f998a,#1f998a,#1fa188,#20a386,#20928c,#218f8d,#21918c,#23888e,#277e8e)"></i><i style="background:linear-gradient(#24878e,#26828e,#26828e,#24868e,#228b8d,#24868e,#228b8d,#24878e,#23888e,#25838e,#277f8e,#25838e,#24878e,#228b8d,#218f8d,#1f9a8a,#1e9c89,#1e9d89,#1f9e89,#20a386,#22a884,#23a983,#1fa287,#1fa287,#27ad81,#28ae80,#21a585,#22a785,#2ab07f,#24aa83,#1fa187)"></i><i style="background:linear-gradient(#25838e,#277f8e,#277e8e,#25858e,#20928c,#20938c,#1f978b,#20938c,#218f8d,#25848e,#27808e,#25848e,#23888e,#228c8d,#218f8d,#1f988b,#1f9a8a,#1f978b,#1e9d89,#21a685,#23a983,#21a585,#20a386,#1fa287,#27ad81,#2cb17e,#26ad81,#2fb47c,#40bd72,#32b67a,#25ab82)"></i><i style="background:linear-gradient(#277f8e,#287d8e,#2a788e,#297b8e,#238a8d,#21918c,#1f988b,#1f948c,#21918c,#23888e,#25848e,#24868e,#23888e,#23888e,#228d8d,#1f978b,#1f968b,#20938c,#1e9b8a,#1fa287,#1fa287,#1f9e89,#1fa287,#22a785,#2cb17e,#32b67a,#32b67a,#44bf70,#56c667,#42be71,#29af7f)"></i><i style="background:linear-gradient(#2b758e,#2b748e,#2e6d8e,#2e6f8e,#277f8e,#24868e,#21918c,#21908d,#20928c,#228c8d,#23898e,#238a8d,#238a8d,#24878e,#218f8d,#1e9d89,#1f9a8a,#1f998a,#1e9c89,#1f9a8a,#1f998a,#1e9c89,#21a585,#26ad81,#2db27d,#31b57b,#3aba76,#4ac16d,#56c667,#40bd72,#25ac82)"></i><i style="background:linear-gradient(#31678e,#32658e,#355f8d,#32648e,#2b748e,#287d8e,#23898e,#24878e,#228b8d,#26828e,#26828e,#25848e,#25858e,#24868e,#228d8d,#1e9c89,#1f998a,#1e9c89,#1f978b,#1f958b,#1f968b,#1e9d89,#1fa287,#21a585,#22a884,#25ab82,#26ad81,#35b779,#3bbb75,#2db27d,#1fa088)"></i><i style="background:linear-gradient(#39558c,#3c4f8a,#424186,#3f4788,#375b8d,#30698e,#2b758e,#2a768e,#2a768e,#2f6b8e,#30698e,#2e6d8e,#2e6d8e,#2c738e,#297b8e,#24878e,#25848e,#25858e,#27808e,#26828e,#24868e,#238a8d,#24868e,#27808e,#25848e,#228c8d,#21908d,#1f9a8a,#1fa188,#1fa088,#20938c)"></i><i style="background:linear-gradient(#3e4a89,#414487,#46307e,#46307e,#424186,#39558c,#34618d,#30698e,#2f6b8e,#355e8d,#365c8d,#34608d,#355f8d,#30698e,#2c738e,#297a8e,#2a788e,#2a768e,#2b748e,#297a8e,#277f8e,#27808e,#2a778e,#2c728e,#2a768e,#287d8e,#25858e,#228b8d,#21908d,#1f968b,#228d8d)"></i><i style="background:linear-gradient(#414287,#433e85,#46307e,#46307e,#46337f,#404588,#3b518b,#355e8d,#32648e,#375a8c,#355e8d,#33628d,#33638d,#2f6b8e,#2a778e,#277e8e,#2b758e,#2a768e,#2b758e,#2a768e,#2a778e,#29798e,#2a768e,#2a788e,#287d8e,#26828e,#24868e,#23888e,#218e8d,#20928c,#25848e)"></i><i style="background:linear-gradient(#463480,#46307e,#482878,#482677,#482374,#472e7c,#443b84,#3d4d8a,#39558c,#3b518b,#375a8c,#355f8d,#32648e,#32658e,#2c728e,#27808e,#2c728e,#2a768e,#2a778e,#2c728e,#2e6f8e,#2c738e,#2c738e,#2a768e,#27808e,#26828e,#26818e,#26828e,#228b8d,#228b8d,#297b8e)"></i><i style="background:linear-gradient(#472f7d,#472e7c,#482576,#482071,#481b6d,#482173,#46307e,#414287,#3e4c8a,#3d4d8a,#3a548c,#355f8d,#31668e,#31688e,#2b748e,#26828e,#2a768e,#2b758e,#297a8e,#2b748e,#2d718e,#2a768e,#2d718e,#2b758e,#297a8e,#27808e,#25858e,#24868e,#218e8d,#218e8d,#27808e)"></i><i style="background:linear-gradient(#453882,#443b84,#472f7d,#482576,#482475,#472e7c,#443b84,#404688,#3b518b,#39568c,#375b8d,#31678e,#2e6f8e,#2c728e,#277e8e,#228d8d,#277e8e,#297b8e,#287d8e,#2a768e,#2c738e,#2b748e,#2c718e,#2a768e,#2b748e,#277e8e,#23898e,#228c8d,#20928c,#20928c,#25858e)"></i><i style="background:linear-gradient(#453781,#443a83,#472d7b,#482374,#472a7a,#453882,#424186,#404688,#3c4f8a,#375b8d,#355e8d,#31668e,#2e6d8e,#2e6f8e,#2a788e,#238a8d,#287c8e,#2a788e,#2a778e,#2d718e,#2e6f8e,#2e6d8e,#2e6f8e,#2c738e,#2c738e,#297b8e,#26828e,#25838e,#228d8d,#228d8d,#277e8e)"></i><i style="background:linear-gradient(#414487,#433e85,#46327e,#46327e,#423f85,#3b518b,#375b8d,#375b8d,#34608d,#306a8e,#2f6b8e,#2f6c8e,#2e6f8e,#2d708e,#2a768e,#23888e,#25858e,#25848e,#25838e,#297b8e,#2b758e,#2c738e,#2a768e,#297b8e,#287d8e,#25838e,#24878e,#24868e,#21908d,#21918c,#27808e)"></i><i style="background:linear-gradient(#3a548c,#3e4a89,#404688,#3b528b,#365d8d,#2f6b8e,#2a788e,#2a778e,#29798e,#27808e,#287d8e,#297b8e,#277e8e,#26818e,#25838e,#20928c,#1f968b,#1f9e89,#1f9e89,#20938c,#23898e,#25858e,#25848e,#24878e,#228b8d,#20928c,#20938c,#1f958b,#1e9d89,#1f9f88,#218f8d)"></i><i style="background:linear-gradient(#355e8d,#38588c,#38598c,#31668e,#2e6d8e,#2a768e,#25858e,#24868e,#23888e,#23898e,#24868e,#25858e,#238a8d,#218e8d,#21908d,#1f988b,#1f9e89,#24aa83,#24aa83,#20a386,#1f998a,#21918c,#218f8d,#1f948c,#1f998a,#1fa187,#20a486,#25ac82,#29af7f,#2cb17e,#23a983)"></i><i style="background:linear-gradient(#365d8d,#375b8d,#375a8c,#34608d,#33638d,#2e6d8e,#29798e,#29798e,#2a788e,#2c738e,#2d718e,#2c718e,#29798e,#277f8e,#25848e,#218e8d,#218f8d,#1f998a,#1e9b8a,#1f988b,#218e8d,#25848e,#24878e,#21918c,#1f968b,#1f9e89,#21a585,#26ad81,#27ad81,#2db27d,#25ab82)"></i><i style="background:linear-gradient(#365d8d,#365c8d,#365c8d,#375b8d,#31668e,#29798e,#24868e,#228b8d,#228b8d,#25838e,#297b8e,#287d8e,#25858e,#228b8d,#218f8d,#1f998a,#1f9a8a,#1fa188,#1fa287,#1f9f88,#1f958b,#218f8d,#218e8d,#1f948c,#1f978b,#1f9a8a,#1fa188,#20a386,#20a486,#22a785,#1e9d89)"></i><i style="background:linear-gradient(#3e4a89,#3d4d8a,#3d4d8a,#3d4e8a,#34608d,#29798e,#25858e,#23898e,#238a8d,#26828e,#29798e,#277e8e,#26828e,#25848e,#24868e,#218f8d,#20928c,#1f988b,#1e9d89,#1f988b,#21908d,#228b8d,#23898e,#228c8d,#21918c,#20928c,#1f958b,#21918c,#20928c,#20928c,#23888e)"></i><i style="background:linear-gradient(#39558c,#39568c,#365d8d,#31678e,#2b758e,#228b8d,#1f978b,#1e9c89,#1e9c89,#1f988b,#20928c,#1f988b,#1e9d89,#1fa088,#1fa287,#21a685,#21a685,#21a685,#25ab82,#23a983,#20a486,#1fa088,#1f9e89,#1fa188,#22a785,#26ad81,#25ab82,#21a585,#22a884,#22a785,#1f998a)"></i><i style="background:linear-gradient(#3b528b,#3d4d8a,#39558c,#33628d,#2e6e8e,#297b8e,#23898e,#21908d,#21908d,#1f948c,#1f958b,#1e9c89,#1fa188,#23a983,#21a685,#20a486,#20a386,#1fa188,#1fa287,#21a585,#24aa83,#22a884,#22a785,#28ae80,#31b57b,#3fbc73,#40bd72,#38b977,#42be71,#44bf70,#28ae80)"></i><i style="background:linear-gradient(#3b528b,#3c508b,#3a548c,#365c8d,#32648e,#2d708e,#27808e,#25848e,#228b8d,#1f948c,#1f9a8a,#1f9e89,#1e9d89,#21a685,#1e9c89,#1f978b,#1f968b,#1f988b,#1e9d89,#1f9f88,#1fa287,#21a685,#21a685,#25ab82,#27ad81,#2fb47c,#3fbc73,#3dbc74,#44bf70,#48c16e,#2fb47c)"></i><i style="background:linear-gradient(#3d4e8a,#3a538b,#38588c,#375b8d,#34618d,#32648e,#2c718e,#2b758e,#26828e,#23888e,#228d8d,#228d8d,#238a8d,#21918c,#24878e,#25848e,#26828e,#25858e,#228b8d,#23888e,#23898e,#21908d,#218f8d,#21908d,#218f8d,#1f968b,#1fa188,#21a685,#23a983,#23a983,#1fa287)"></i><i style="background:linear-gradient(#3f4788,#3e4a89,#3d4e8a,#3d4e8a,#3c508b,#3d4e8a,#39568c,#365c8d,#31678e,#2f6c8e,#2c738e,#2b748e,#2b758e,#29798e,#297a8e,#277e8e,#287c8e,#2a778e,#2a788e,#2b748e,#2c718e,#2c728e,#2c718e,#2e6f8e,#2c718e,#297b8e,#24868e,#228b8d,#228c8d,#228c8d,#24868e)"></i><i style="background:linear-gradient(#3c4f8a,#3e4a89,#3e4a89,#3e4c8a,#3f4788,#3f4788,#3d4d8a,#3c508b,#38588c,#355f8d,#31688e,#306a8e,#2e6f8e,#2c718e,#2a768e,#277e8e,#287c8e,#2a778e,#2b758e,#2d708e,#2e6e8e,#306a8e,#32658e,#32648e,#31688e,#2d708e,#297b8e,#26818e,#277e8e,#29798e,#2c728e)"></i><i style="background:linear-gradient(#375a8c,#3b528b,#3e4c8a,#3c508b,#404688,#3f4788,#3e4a89,#3d4e8a,#39558c,#365d8d,#31668e,#306a8e,#2d708e,#2b748e,#2a788e,#26828e,#26818e,#26828e,#277f8e,#2a788e,#2c728e,#2f6b8e,#32658e,#33638d,#32648e,#2f6b8e,#2a778e,#287c8e,#2a788e,#2e6f8e,#306a8e)"></i><i style="background:linear-gradient(#365d8d,#38598c,#3d4e8a,#3d4d8a,#424086,#414287,#3f4788,#3b528b,#375a8c,#38598c,#355e8d,#32658e,#30698e,#2c728e,#297a8e,#26828e,#26818e,#26828e,#287c8e,#2b758e,#2d708e,#31668e,#355f8d,#34608d,#355f8d,#31668e,#2d718e,#2c718e,#2d708e,#2f6b8e,#31678e)"></i><i style="background:linear-gradient(#375a8c,#375a8c,#3e4989,#423f85,#453781,#423f85,#3e4a89,#39568c,#38598c,#3a538b,#3b528b,#365c8d,#34618d,#2f6c8e,#2c718e,#2a788e,#2a768e,#2b748e,#2c728e,#30698e,#32648e,#365d8d,#375b8d,#355f8d,#34608d,#32658e,#2e6e8e,#2d718e,#2c728e,#2b758e,#2e6e8e)"></i><i style="background:linear-gradient(#30698e,#31678e,#39558c,#404588,#414287,#3d4e8a,#375a8c,#33638d,#33628d,#355f8d,#34618d,#306a8e,#2c718e,#297a8e,#277e8e,#24868e,#24878e,#25858e,#26818e,#2a788e,#2b748e,#2c718e,#2c728e,#2b758e,#2a768e,#29798e,#26828e,#23888e,#218f8d,#21918c,#25848e)"></i><i style="background:linear-gradient(#2f6c8e,#31678e,#3b528b,#414287,#414287,#3d4e8a,#375b8d,#31668e,#30698e,#2f6b8e,#2e6f8e,#2c738e,#297a8e,#27808e,#25848e,#228d8d,#218f8d,#228d8d,#26828e,#26818e,#26828e,#24878e,#23898e,#23888e,#23898e,#23888e,#20938c,#1fa188,#22a785,#20a486,#1f948c)"></i><i style="background:linear-gradient(#31678e,#375a8c,#414287,#453581,#433e85,#3e4c8a,#39558c,#38588c,#355f8d,#34618d,#31688e,#2d708e,#2a768e,#287d8e,#24878e,#218e8d,#228d8d,#228b8d,#25848e,#26828e,#24868e,#218e8d,#21908d,#228b8d,#23898e,#24878e,#20938c,#20a386,#23a983,#20a386,#1f958b)"></i><i style="background:linear-gradient(#31678e,#3a538b,#443a83,#472a7a,#443a83,#3c4f8a,#3a538b,#3c508b,#39568c,#39568c,#355e8d,#31678e,#2e6e8e,#29798e,#25838e,#23898e,#23898e,#24878e,#25858e,#27808e,#277e8e,#24868e,#24868e,#25858e,#26818e,#26828e,#228c8d,#1e9c89,#1fa188,#1e9d89,#20928c)"></i><i style="background:linear-gradient(#2e6d8e,#375a8c,#423f85,#472d7b,#433d84,#39558c,#39558c,#39558c,#365c8d,#365d8d,#355f8d,#31668e,#30698e,#2c718e,#287c8e,#25848e,#25858e,#24868e,#25858e,#26818e,#2a788e,#287c8e,#287c8e,#26828e,#27808e,#27808e,#238a8d,#1f958b,#1f998a,#1f978b,#218e8d)"></i><i style="background:linear-gradient(#31668e,#39568c,#423f85,#46327e,#433d84,#3d4e8a,#3b518b,#3a538b,#38588c,#375b8d,#365d8d,#32648e,#34608d,#33628d,#2f6b8e,#2a778e,#2a768e,#277e8e,#287c8e,#297b8e,#2b748e,#2e6f8e,#2d708e,#297a8e,#297a8e,#2b758e,#287d8e,#24868e,#228c8d,#23888e,#27808e)"></i><i style="background:linear-gradient(#38598c,#3c508b,#424186,#423f85,#404588,#3f4788,#3c4f8a,#3c508b,#3b518b,#39568c,#39558c,#355f8d,#38598c,#38598c,#34608d,#2f6b8e,#2e6f8e,#287c8e,#2a788e,#2b758e,#2c718e,#2e6e8e,#2e6f8e,#2b748e,#2a768e,#2d718e,#2d718e,#2a768e,#277e8e,#287c8e,#2a768e)"></i><i style="background:linear-gradient(#355e8d,#38598c,#3e4a89,#3e4989,#3e4c8a,#3e4989,#3c508b,#3c508b,#3c4f8a,#3b528b,#3b528b,#38598c,#38598c,#355e8d,#32658e,#2e6e8e,#2b748e,#26818e,#297b8e,#2a768e,#2c718e,#2c738e,#2b758e,#2a788e,#2b748e,#2b748e,#2b748e,#2a768e,#277f8e,#26828e,#2a788e)"></i><i style="background:linear-gradient(#2e6e8e,#31688e,#39558c,#3b528b,#3a548c,#38598c,#355f8d,#365d8d,#38588c,#38588c,#38598c,#34608d,#31678e,#2e6d8e,#2a778e,#277e8e,#25858e,#21908d,#228c8d,#228c8d,#228b8d,#20928c,#20928c,#20938c,#228d8d,#218e8d,#20928c,#20938c,#1f9a8a,#1fa088,#218e8d)"></i><i style="background:linear-gradient(#287c8e,#2b748e,#355e8d,#34608d,#30698e,#2d708e,#2d718e,#2f6c8e,#32648e,#32648e,#31668e,#30698e,#2d708e,#2c738e,#27808e,#25858e,#238a8d,#218f8d,#20928c,#1f998a,#1fa088,#21a685,#22a884,#23a983,#20a386,#20a486,#22a785,#25ac82,#2cb17e,#37b878,#1fa287)"></i><i style="background:linear-gradient(#2a768e,#2e6d8e,#38588c,#365c8d,#31688e,#2e6f8e,#2f6b8e,#2f6b8e,#355f8d,#31678e,#2f6c8e,#2e6d8e,#2e6f8e,#2a768e,#26818e,#23888e,#218e8d,#218f8d,#1f948c,#1f9a8a,#22a785,#25ab82,#27ad81,#26ad81,#21a685,#22a884,#27ad81,#31b57b,#31b57b,#38b977,#20a386)"></i><i style="background:linear-gradient(#2b758e,#31688e,#3d4e8a,#3a548c,#33628d,#31688e,#32648e,#31678e,#34618d,#306a8e,#2e6d8e,#2e6e8e,#2d708e,#29798e,#25848e,#228c8d,#20928c,#20928c,#20928c,#1f978b,#1fa187,#21a685,#22a884,#21a585,#1fa187,#22a785,#29af7f,#34b679,#37b878,#2fb47c,#1fa287)"></i><i style="background:linear-gradient(#26818e,#2c728e,#3d4e8a,#3b528b,#34608d,#33638d,#33628d,#33628d,#33638d,#2f6b8e,#2e6d8e,#2e6d8e,#2e6f8e,#2b748e,#277f8e,#26828e,#23898e,#238a8d,#228b8d,#21908d,#1f968b,#1f998a,#1f998a,#1f958b,#1f958b,#1e9c89,#20a486,#2cb17e,#38b977,#2eb37c,#1fa287)"></i><i style="background:linear-gradient(#238a8d,#277e8e,#355e8d,#375a8c,#33628d,#355f8d,#32648e,#32648e,#31678e,#2c728e,#2b748e,#2b758e,#2b758e,#29798e,#26828e,#24868e,#228c8d,#218e8d,#20928c,#1f998a,#1f9f88,#1e9b8a,#1f9a8a,#1f958b,#1f968b,#1e9c89,#20a386,#31b57b,#4ac16d,#3bbb75,#25ac82)"></i><i style="background:linear-gradient(#1f948c,#23888e,#2d708e,#34618d,#34618d,#375b8d,#355f8d,#34608d,#32648e,#2b758e,#287d8e,#287c8e,#26818e,#26828e,#23898e,#20928c,#1f988b,#1f9a8a,#1f9e89,#22a884,#25ab82,#21a685,#20a386,#20a386,#20a486,#20a486,#22a785,#32b67a,#4ac16d,#46c06f,#29af7f)"></i><i style="background:linear-gradient(#1f958b,#228b8d,#2c718e,#355e8d,#375a8c,#3a538b,#3b528b,#38588c,#365c8d,#2d708e,#287c8e,#29798e,#277e8e,#26828e,#24878e,#20928c,#1e9c89,#1f9e89,#20a486,#25ab82,#25ab82,#21a585,#21a585,#21a585,#24aa83,#1fa287,#1fa188,#22a785,#2eb37c,#2eb37c,#1fa187)"></i><i style="background:linear-gradient(#26828e,#2a788e,#365c8d,#404588,#443b84,#46327e,#472f7d,#443a83,#423f85,#39558c,#31668e,#306a8e,#2e6d8e,#2e6f8e,#2c738e,#287c8e,#23888e,#218e8d,#1f948c,#1f958b,#1f958b,#218f8d,#218f8d,#21908d,#1f988b,#21908d,#23898e,#21908d,#1f958b,#20928c,#24878e)"></i><i style="background:linear-gradient(#297a8e,#2e6d8e,#3d4e8a,#453581,#482677,#481c6e,#481b6d,#472c7a,#453581,#404688,#38588c,#355f8d,#32658e,#31678e,#31678e,#306a8e,#2b748e,#277f8e,#26828e,#26818e,#26828e,#27808e,#26818e,#25838e,#23888e,#277f8e,#2a788e,#26818e,#26828e,#287d8e,#2a768e)"></i><i style="background:linear-gradient(#2c728e,#32648e,#404688,#46327e,#481d6f,#481a6c,#481a6c,#482979,#453781,#424086,#3d4d8a,#3b518b,#39568c,#38588c,#38598c,#38588c,#355e8d,#2f6b8e,#2d708e,#2e6f8e,#2e6e8e,#2e6d8e,#2d718e,#2a768e,#2c738e,#2f6c8e,#31678e,#2e6d8e,#2e6e8e,#306a8e,#32658e)"></i><i style="background:linear-gradient(#2c718e,#31668e,#3d4e8a,#443983,#482374,#482071,#482173,#472a7a,#463480,#433e85,#3e4a89,#3e4989,#3b518b,#39558c,#39568c,#39558c,#355e8d,#2f6b8e,#2d718e,#2c738e,#2d708e,#2e6f8e,#2c728e,#2b748e,#2e6e8e,#2f6c8e,#306a8e,#2f6b8e,#2f6c8e,#31678e,#34618d)"></i><i style="background:linear-gradient(#2b748e,#2f6c8e,#38588c,#3f4788,#472f7d,#472e7c,#472f7d,#46337f,#46327e,#433d84,#3e4a89,#3d4d8a,#3a548c,#355f8d,#365c8d,#355f8d,#2e6d8e,#2c718e,#2c728e,#2b748e,#2d718e,#2c718e,#2b758e,#2b748e,#2e6f8e,#2c718e,#2b758e,#2b758e,#2b758e,#2e6d8e,#32648e)"></i><i style="background:linear-gradient(#27808e,#297b8e,#31668e,#375a8c,#3d4d8a,#3e4989,#3e4c8a,#3d4d8a,#3e4c8a,#3c508b,#38598c,#355f8d,#31668e,#2c718e,#2d718e,#2c738e,#297b8e,#2a788e,#2a788e,#297a8e,#2a788e,#297a8e,#27808e,#26818e,#27808e,#24868e,#21908d,#218e8d,#228c8d,#26828e,#2c728e)"></i><i style="background:linear-gradient(#297a8e,#2c728e,#375a8c,#3d4e8a,#3e4989,#404688,#404588,#3d4d8a,#3b518b,#3a538b,#38588c,#34608d,#33628d,#306a8e,#2f6c8e,#2f6c8e,#30698e,#33628d,#33638d,#31668e,#2f6c8e,#2b748e,#2a768e,#297a8e,#26818e,#23898e,#1f948c,#20938c,#228c8d,#27808e,#2e6d8e)"></i><i style="background:linear-gradient(#32658e,#375a8c,#443b84,#46307e,#46307e,#453581,#443a83,#3f4889,#3a538b,#375a8c,#355f8d,#34618d,#34618d,#33638d,#33628d,#33628d,#365d8d,#39568c,#365d8d,#375a8c,#34608d,#306a8e,#31688e,#30698e,#2c718e,#29798e,#277f8e,#277e8e,#2b758e,#2e6e8e,#365d8d)"></i><i style="background:linear-gradient(#38598c,#3d4e8a,#46327e,#482475,#482576,#472d7b,#443983,#404688,#3b518b,#365d8d,#33638d,#33638d,#31668e,#32658e,#34608d,#32658e,#33638d,#38598c,#365c8d,#39558c,#38588c,#365d8d,#355e8d,#355f8d,#30698e,#2c718e,#2c738e,#2c728e,#2e6d8e,#31688e,#375a8c)"></i><i style="background:linear-gradient(#3a548c,#3d4d8a,#453882,#472c7a,#482374,#482677,#453882,#404588,#3c4f8a,#365d8d,#32658e,#31678e,#2e6d8e,#30698e,#31668e,#2e6e8e,#2e6e8e,#365d8d,#38598c,#3a548c,#3b528b,#3a538b,#38588c,#365c8d,#2e6f8e,#297b8e,#297b8e,#2a778e,#2c718e,#31668e,#3b518b)"></i></div><svg class="hm" style="left:60px;top:193.5px" width="277" height="76.5" viewBox="0 0 277 76" preserveAspectRatio="none"><defs><linearGradient id="g30" gradientUnits="userSpaceOnUse" x1="0" x2="277" y1="0" y2="0"><stop offset="0" stop-color="#e6e6e6"/><stop offset="0.00722" stop-color="#c9c9c9"/><stop offset="0.01444" stop-color="#c9c9c9"/><stop offset="0.02166" stop-color="#d9d9d9"/><stop offset="0.02888" stop-color="#a7a7a7"/><stop offset="0.0361" stop-color="#656565"/><stop offset="0.04332" stop-color="#787878"/><stop offset="0.05054" stop-color="#cacaca"/><stop offset="0.05776" stop-color="#ffffff"/><stop offset="0.06498" stop-color="#ffffff"/><stop offset="0.0722" stop-color="#ffffff"/><stop offset="0.07942" stop-color="#ffffff"/><stop offset="0.08664" stop-color="#e2e2e2"/><stop offset="0.09386" stop-color="#afafaf"/><stop offset="0.1011" stop-color="#adadad"/><stop offset="0.1083" stop-color="#c8c8c8"/><stop offset="0.1155" stop-color="#d7d7d7"/><stop offset="0.1227" stop-color="#e8e8e8"/><stop offset="0.13" stop-color="#fdfdfd"/><stop offset="0.1372" stop-color="#ffffff"/><stop offset="0.1444" stop-color="#ffffff"/><stop offset="0.1516" stop-color="#ffffff"/><stop offset="0.1588" stop-color="#eaeaea"/><stop offset="0.1661" stop-color="#bababa"/><stop offset="0.1733" stop-color="#bdbdbd"/><stop offset="0.1805" stop-color="#cacaca"/><stop offset="0.1877" stop-color="#e3e3e3"/><stop offset="0.1949" stop-color="#ffffff"/><stop offset="0.2022" stop-color="#ffffff"/><stop offset="0.2094" stop-color="#fefefe"/><stop offset="0.2166" stop-color="#f5f5f5"/><stop offset="0.2238" stop-color="#d3d3d3"/><stop offset="0.231" stop-color="#d1d1d1"/><stop offset="0.2383" stop-color="#c8c8c8"/><stop offset="0.2455" stop-color="#bbbbbb"/><stop offset="0.2527" stop-color="#a1a1a1"/><stop offset="0.2599" stop-color="#717171"/><stop offset="0.2671" stop-color="#666666"/><stop offset="0.2744" stop-color="#7d7d7d"/><stop offset="0.2816" stop-color="#767676"/><stop offset="0.2888" stop-color="#767676"/><stop offset="0.296" stop-color="#919191"/><stop offset="0.3032" stop-color="#ededed"/><stop offset="0.3105" stop-color="#ffffff"/><stop offset="0.3177" stop-color="#ffffff"/><stop offset="0.3249" stop-color="#ffffff"/><stop offset="0.3321" stop-color="#e6e6e6"/><stop offset="0.3394" stop-color="#f0f0f0"/><stop offset="0.3466" stop-color="#dedede"/><stop offset="0.3538" stop-color="#afafaf"/><stop offset="0.361" stop-color="#b3b3b3"/><stop offset="0.3682" stop-color="#a2a2a2"/><stop offset="0.3755" stop-color="#a1a1a1"/><stop offset="0.3827" stop-color="#e6e6e6"/><stop offset="0.3899" stop-color="#e2e2e2"/><stop offset="0.3971" stop-color="#bbbbbb"/><stop offset="0.4043" stop-color="#a3a3a3"/><stop offset="0.4116" stop-color="#bcbcbc"/><stop offset="0.4188" stop-color="#bcbcbc"/><stop offset="0.426" stop-color="#9f9f9f"/><stop offset="0.4332" stop-color="#9e9e9e"/><stop offset="0.4404" stop-color="#cfcfcf"/><stop offset="0.4477" stop-color="#ffffff"/><stop offset="0.4549" stop-color="#ffffff"/><stop offset="0.4621" stop-color="#cecece"/><stop offset="0.4693" stop-color="#959595"/><stop offset="0.4765" stop-color="#d5d5d5"/><stop offset="0.4838" stop-color="#ffffff"/><stop offset="0.491" stop-color="#ffffff"/><stop offset="0.4982" stop-color="#ffffff"/><stop offset="0.5054" stop-color="#ffffff"/><stop offset="0.5126" stop-color="#ffffff"/><stop offset="0.5199" stop-color="#ffffff"/><stop offset="0.5271" stop-color="#ffffff"/><stop offset="0.5343" stop-color="#e9e9e9"/><stop offset="0.5415" stop-color="#b8b8b8"/><stop offset="0.5487" stop-color="#e7e7e7"/><stop offset="0.556" stop-color="#ffffff"/><stop offset="0.5632" stop-color="#dfdfdf"/><stop offset="0.5704" stop-color="#d1d1d1"/><stop offset="0.5776" stop-color="#bababa"/><stop offset="0.5848" stop-color="#979797"/><stop offset="0.5921" stop-color="#aeaeae"/><stop offset="0.5993" stop-color="#c4c4c4"/><stop offset="0.6065" stop-color="#e8e8e8"/><stop offset="0.6137" stop-color="#ffffff"/><stop offset="0.6209" stop-color="#ffffff"/><stop offset="0.6282" stop-color="#ffffff"/><stop offset="0.6354" stop-color="#ffffff"/><stop offset="0.6426" stop-color="#ffffff"/><stop offset="0.6498" stop-color="#ededed"/><stop offset="0.657" stop-color="#b5b5b5"/><stop offset="0.6643" stop-color="#c4c4c4"/><stop offset="0.6715" stop-color="#c0c0c0"/><stop offset="0.6787" stop-color="#d2d2d2"/><stop offset="0.6859" stop-color="#bebebe"/><stop offset="0.6931" stop-color="#959595"/><stop offset="0.7004" stop-color="#adadad"/><stop offset="0.7076" stop-color="#d9d9d9"/><stop offset="0.7148" stop-color="#eaeaea"/><stop offset="0.722" stop-color="#fefefe"/><stop offset="0.7292" stop-color="#ffffff"/><stop offset="0.7365" stop-color="#ffffff"/><stop offset="0.7437" stop-color="#ffffff"/><stop offset="0.7509" stop-color="#f5f5f5"/><stop offset="0.7581" stop-color="#dddddd"/><stop offset="0.7653" stop-color="#bebebe"/><stop offset="0.7726" stop-color="#c6c6c6"/><stop offset="0.7798" stop-color="#c5c5c5"/><stop offset="0.787" stop-color="#dcdcdc"/><stop offset="0.7942" stop-color="#e6e6e6"/><stop offset="0.8014" stop-color="#dfdfdf"/><stop offset="0.8087" stop-color="#e1e1e1"/><stop offset="0.8159" stop-color="#d8d8d8"/><stop offset="0.8231" stop-color="#b9b9b9"/><stop offset="0.8303" stop-color="#cdcdcd"/><stop offset="0.8375" stop-color="#c6c6c6"/><stop offset="0.8448" stop-color="#8b8b8b"/><stop offset="0.852" stop-color="#b6b6b6"/><stop offset="0.8592" stop-color="#ffffff"/><stop offset="0.8664" stop-color="#fefefe"/><stop offset="0.8736" stop-color="#d4d4d4"/><stop offset="0.8809" stop-color="#bdbdbd"/><stop offset="0.8881" stop-color="#dadada"/><stop offset="0.8953" stop-color="#fdfdfd"/><stop offset="0.9025" stop-color="#ffffff"/><stop offset="0.9097" stop-color="#ffffff"/><stop offset="0.917" stop-color="#ffffff"/><stop offset="0.9242" stop-color="#ffffff"/><stop offset="0.9314" stop-color="#c8c8c8"/><stop offset="0.9386" stop-color="#a8a8a8"/><stop offset="0.9458" stop-color="#a1a1a1"/><stop offset="0.9531" stop-color="#999999"/><stop offset="0.9603" stop-color="#c5c5c5"/><stop offset="0.9675" stop-color="#e9e9e9"/><stop offset="0.9747" stop-color="#dfdfdf"/><stop offset="0.9819" stop-color="#b4b4b4"/><stop offset="0.9892" stop-color="#c6c6c6"/><stop offset="0.9964" stop-color="#ededed"/></linearGradient><mask id="m30" maskUnits="userSpaceOnUse" x="0" y="0" width="277" height="76"><rect width="277" height="76" fill="url(#g30)"/></mask><linearGradient id="g31" gradientUnits="userSpaceOnUse" x1="0" x2="277" y1="0" y2="0"><stop offset="0" stop-color="#ffffff"/><stop offset="0.00722" stop-color="#ffffff"/><stop offset="0.01444" stop-color="#b5b5b5"/><stop offset="0.02166" stop-color="#909090"/><stop offset="0.02888" stop-color="#acacac"/><stop offset="0.0361" stop-color="#ffffff"/><stop offset="0.04332" stop-color="#ffffff"/><stop offset="0.05054" stop-color="#d5d5d5"/><stop offset="0.05776" stop-color="#e1e1e1"/><stop offset="0.06498" stop-color="#a4a4a4"/><stop offset="0.0722" stop-color="#7b7b7b"/><stop offset="0.07942" stop-color="#a9a9a9"/><stop offset="0.08664" stop-color="#bdbdbd"/><stop offset="0.09386" stop-color="#ebebeb"/><stop offset="0.1011" stop-color="#dadada"/><stop offset="0.1083" stop-color="#919191"/><stop offset="0.1155" stop-color="#bdbdbd"/><stop offset="0.1227" stop-color="#ffffff"/><stop offset="0.13" stop-color="#f3f3f3"/><stop offset="0.1372" stop-color="#b8b8b8"/><stop offset="0.1444" stop-color="#c3c3c3"/><stop offset="0.1516" stop-color="#f8f8f8"/><stop offset="0.1588" stop-color="#cecece"/><stop offset="0.1661" stop-color="#e7e7e7"/><stop offset="0.1733" stop-color="#dbdbdb"/><stop offset="0.1805" stop-color="#bababa"/><stop offset="0.1877" stop-color="#d8d8d8"/><stop offset="0.1949" stop-color="#ffffff"/><stop offset="0.2022" stop-color="#939393"/><stop offset="0.2094" stop-color="#3f3f3f"/><stop offset="0.2166" stop-color="#757575"/><stop offset="0.2238" stop-color="#c1c1c1"/><stop offset="0.231" stop-color="#d8d8d8"/><stop offset="0.2383" stop-color="#bebebe"/><stop offset="0.2455" stop-color="#9d9d9d"/><stop offset="0.2527" stop-color="#9d9d9d"/><stop offset="0.2599" stop-color="#969696"/><stop offset="0.2671" stop-color="#b7b7b7"/><stop offset="0.2744" stop-color="#a6a6a6"/><stop offset="0.2816" stop-color="#e3e3e3"/><stop offset="0.2888" stop-color="#f9f9f9"/><stop offset="0.296" stop-color="#ffffff"/><stop offset="0.3032" stop-color="#ffffff"/><stop offset="0.3105" stop-color="#eeeeee"/><stop offset="0.3177" stop-color="#b1b1b1"/><stop offset="0.3249" stop-color="#c4c4c4"/><stop offset="0.3321" stop-color="#d5d5d5"/><stop offset="0.3394" stop-color="#d2d2d2"/><stop offset="0.3466" stop-color="#959595"/><stop offset="0.3538" stop-color="#656565"/><stop offset="0.361" stop-color="#666666"/><stop offset="0.3682" stop-color="#e0e0e0"/><stop offset="0.3755" stop-color="#ffffff"/><stop offset="0.3827" stop-color="#ffffff"/><stop offset="0.3899" stop-color="#c0c0c0"/><stop offset="0.3971" stop-color="#949494"/><stop offset="0.4043" stop-color="#ededed"/><stop offset="0.4116" stop-color="#ffffff"/><stop offset="0.4188" stop-color="#ffffff"/><stop offset="0.426" stop-color="#ffffff"/><stop offset="0.4332" stop-color="#ffffff"/><stop offset="0.4404" stop-color="#e4e4e4"/><stop offset="0.4477" stop-color="#a9a9a9"/><stop offset="0.4549" stop-color="#d4d4d4"/><stop offset="0.4621" stop-color="#fdfdfd"/><stop offset="0.4693" stop-color="#959595"/><stop offset="0.4765" stop-color="#5e5e5e"/><stop offset="0.4838" stop-color="#929292"/><stop offset="0.491" stop-color="#8b8b8b"/><stop offset="0.4982" stop-color="#888888"/><stop offset="0.5054" stop-color="#f0f0f0"/><stop offset="0.5126" stop-color="#ffffff"/><stop offset="0.5199" stop-color="#6d6d6d"/><stop offset="0.5271" stop-color="#434343"/><stop offset="0.5343" stop-color="#737373"/><stop offset="0.5415" stop-color="#898989"/><stop offset="0.5487" stop-color="#b3b3b3"/><stop offset="0.556" stop-color="#d9d9d9"/><stop offset="0.5632" stop-color="#f7f7f7"/><stop offset="0.5704" stop-color="#ffffff"/><stop offset="0.5776" stop-color="#ffffff"/><stop offset="0.5848" stop-color="#ffffff"/><stop offset="0.5921" stop-color="#f8f8f8"/><stop offset="0.5993" stop-color="#a3a3a3"/><stop offset="0.6065" stop-color="#626262"/><stop offset="0.6137" stop-color="#8b8b8b"/><stop offset="0.6209" stop-color="#e8e8e8"/><stop offset="0.6282" stop-color="#ffffff"/><stop offset="0.6354" stop-color="#ffffff"/><stop offset="0.6426" stop-color="#c0c0c0"/><stop offset="0.6498" stop-color="#bababa"/><stop offset="0.657" stop-color="#c8c8c8"/><stop offset="0.6643" stop-color="#6f6f6f"/><stop offset="0.6715" stop-color="#6b6b6b"/><stop offset="0.6787" stop-color="#f8f8f8"/><stop offset="0.6859" stop-color="#ffffff"/><stop offset="0.6931" stop-color="#ffffff"/><stop offset="0.7004" stop-color="#fbfbfb"/><stop offset="0.7076" stop-color="#b9b9b9"/><stop offset="0.7148" stop-color="#919191"/><stop offset="0.722" stop-color="#929292"/><stop offset="0.7292" stop-color="#9e9e9e"/><stop offset="0.7365" stop-color="#e3e3e3"/><stop offset="0.7437" stop-color="#ffffff"/><stop offset="0.7509" stop-color="#ffffff"/><stop offset="0.7581" stop-color="#d1d1d1"/><stop offset="0.7653" stop-color="#949494"/><stop offset="0.7726" stop-color="#6e6e6e"/><stop offset="0.7798" stop-color="#4f4f4f"/><stop offset="0.787" stop-color="#6c6c6c"/><stop offset="0.7942" stop-color="#484848"/><stop offset="0.8014" stop-color="#5c5c5c"/><stop offset="0.8087" stop-color="#dadada"/><stop offset="0.8159" stop-color="#fdfdfd"/><stop offset="0.8231" stop-color="#ffffff"/><stop offset="0.8303" stop-color="#fdfdfd"/><stop offset="0.8375" stop-color="#ffffff"/><stop offset="0.8448" stop-color="#ffffff"/><stop offset="0.852" stop-color="#f4f4f4"/><stop offset="0.8592" stop-color="#929292"/><stop offset="0.8664" stop-color="#888888"/><stop offset="0.8736" stop-color="#b2b2b2"/><stop offset="0.8809" stop-color="#a2a2a2"/><stop offset="0.8881" stop-color="#ededed"/><stop offset="0.8953" stop-color="#e9e9e9"/><stop offset="0.9025" stop-color="#cacaca"/><stop offset="0.9097" stop-color="#fdfdfd"/><stop offset="0.917" stop-color="#f2f2f2"/><stop offset="0.9242" stop-color="#8b8b8b"/><stop offset="0.9314" stop-color="#5d5d5d"/><stop offset="0.9386" stop-color="#3f3f3f"/><stop offset="0.9458" stop-color="#585858"/><stop offset="0.9531" stop-color="#bababa"/><stop offset="0.9603" stop-color="#e5e5e5"/><stop offset="0.9675" stop-color="#dadada"/><stop offset="0.9747" stop-color="#cacaca"/><stop offset="0.9819" stop-color="#ffffff"/><stop offset="0.9892" stop-color="#fdfdfd"/><stop offset="0.9964" stop-color="#fbfbfb"/></linearGradient><mask id="m31" maskUnits="userSpaceOnUse" x="0" y="0" width="277" height="76"><rect width="277" height="76" fill="url(#g31)"/></mask></defs><g fill="none" stroke-linecap="round" stroke-linejoin="round"><g mask="url(#m30)"><g filter="url(#bl)"><path d="M4.5,70.5L5.8,70L7.1,69.7L8.4,69.2L9.7,68.7L11,68.4L12.3,68.0" stroke="#eae51a" stroke-width="2.6"/><path d="M4.5,65.2L5.8,64.7L7.1,64.1L8.4,63.4L9.7,62.8L11,62L12.3,61.4" stroke="#ece51b" stroke-width="2.5"/><path d="M12.9,68.2L14.2,68.2L15.5,68.4L16.8,68.9L18.1,69.1L19.4,69.1L20.7,69.3" stroke="#e7e419" stroke-width="2.8"/><path d="M12.9,61.8L14.2,61.9L15.5,62.1L16.8,62.2L18.1,62.2L19.4,62.5L20.7,62.6" stroke="#e5e419" stroke-width="2.7"/><path d="M21.3,68.6L22.6,68.5L23.9,68.5L25.2,68.9L26.5,69.1L27.8,68.9L29.1,69.2" stroke="#fde725" stroke-width="2.7"/><path d="M21.3,62.5L22.6,62.4L23.9,62.6L25.2,62.6L26.5,62.7L27.8,63L29.1,63.1" stroke="#fde725" stroke-width="2.6"/><path d="M29.7,69L31.2,69L32.7,69.1L34.2,69.4L35.8,69.5L37.3,69.6L38.8,69.6L40.3,69.7" stroke="#f8e621" stroke-width="2.5"/><path d="M29.7,63.5L31.2,63.2L32.7,63.2L34.2,63.4L35.8,63.7L37.3,63.8L38.8,64L40.3,64.1" stroke="#efe51c" stroke-width="2.4"/><path d="M43,71.2L44.3,71L45.6,71.1L46.9,71L48.1,70.7L49.4,70.5L50.7,70.5" stroke="#d8e219" stroke-width="2"/><path d="M43,65.9L44.3,66.1L45.6,66.1L46.9,66.1L48.1,66.2L49.4,66L50.7,65.7" stroke="#fde725" stroke-width="2"/><path d="M43,61.4L44.3,61.7L45.6,61.8L46.9,61.7L48.1,61.7L49.4,61.6L50.7,61.9" stroke="#fde725" stroke-width="1.9"/><path d="M55.6,70.9L57,70.8L58.5,70.7L59.9,70.5L61.3,70.4" stroke="#63cb5f" stroke-width="2"/><path d="M55.6,66.3L57,66.1L58.5,66.2L59.9,66.1L61.3,65.8" stroke="#dfe318" stroke-width="2"/><path d="M55.6,61.6L57,61.8L58.5,61.9L59.9,61.6L61.3,61.2" stroke="#d5e21a" stroke-width="1.9"/><path d="M67.5,69.9L68.7,69.9L70,69.9L71.2,70.2" stroke="#a2da37" stroke-width="2.4"/><path d="M67.5,64.5L68.7,64.4L70,64.4L71.2,64.3" stroke="#95d840" stroke-width="2.3"/><path d="M75.3,67.6L76.8,68.8L78.2,69.9L79.7,70.9" stroke="#3fbc73" stroke-width="2.5"/><path d="M75.3,61.1L76.8,62.7L78.2,64.7L79.7,66.3" stroke="#5ac864" stroke-width="2.5"/><path d="M80.3,70.6L81.7,70.7L83.1,70.8L84.5,70.9L85.9,70.8L87.3,70.7L88.7,70.6" stroke="#d0e11c" stroke-width="1.9"/><path d="M80.3,66.9L81.7,66.8L83.1,66.6L84.5,66.4L85.9,66.2L87.3,66.2L88.7,66.2" stroke="#cae11f" stroke-width="1.9"/><path d="M80.3,62.4L81.7,62.4L83.1,62.4L84.5,62.2L85.9,61.9L87.3,61.9L88.7,61.9" stroke="#a2da37" stroke-width="1.8"/><path d="M95.6,68.4L97,69.1L98.4,69.3L99.9,69.6L101.3,70.0" stroke="#dfe318" stroke-width="2.5"/><path d="M95.6,61.6L97,62.5L98.4,63.4L99.9,64.7L101.3,65.9" stroke="#e2e418" stroke-width="2.4"/><path d="M105.3,71.6L106.4,71.2L107.6,70.8L108.7,70.4" stroke="#bade28" stroke-width="1.9"/><path d="M105.3,67.5L106.4,66.9L107.6,66.4L108.7,65.8" stroke="#d0e11c" stroke-width="1.8"/><path d="M105.3,63.5L106.4,62.9L107.6,62L108.7,61.0" stroke="#a2da37" stroke-width="1.8"/><path d="M109.3,70.4L110.8,70.2L112.3,70.3L113.8,70.4L115.2,70.4L116.7,70.4L118.2,70.3L119.7,70.2" stroke="#cde11d" stroke-width="2.1"/><path d="M109.3,65.4L110.8,65.5L112.3,65.8L113.8,65.8L115.2,65.8L116.7,66L118.2,65.8L119.7,65.6" stroke="#fde725" stroke-width="2"/><path d="M109.3,61.3L110.8,61.3L112.3,61L113.8,61.1L115.2,61.3L116.7,61.2L118.2,61.3L119.7,61.4" stroke="#fde725" stroke-width="2"/><path d="M123.6,70.5L125,70.4L126.4,70.2L127.8,70.1L129.3,70.2L130.7,70.3L132.1,70.4" stroke="#dfe318" stroke-width="2.2"/><path d="M123.6,65.6L125,65.2L126.4,65L127.8,65L129.3,65.2L130.7,65.5L132.1,65.9" stroke="#fde725" stroke-width="2.1"/><path d="M135.3,70.4L136.8,70.5L138.2,70.7" stroke="#60ca60" stroke-width="1.9"/><path d="M135.3,66.1L136.8,66.2L138.2,66.3" stroke="#9dd93b" stroke-width="1.9"/><path d="M135.3,61.9L136.8,62.2L138.2,62.3" stroke="#42be71" stroke-width="1.8"/><path d="M142.6,68.6L143.8,68.3L145,68.2L146.2,68.0" stroke="#fde725" stroke-width="3"/><path d="M142.6,61L143.8,61.2L145,61.3L146.2,61.6" stroke="#a2da37" stroke-width="2.9"/><path d="M152.3,68.3L153.4,69.5L154.6,70.4L155.7,71.3" stroke="#8bd646" stroke-width="2.4"/><path d="M152.3,61.8L153.4,63.6L154.6,65L155.7,66.1" stroke="#63cb5f" stroke-width="2.3"/><path d="M156.3,71.4L157.8,71L159.3,70.8L160.7,70.6L162.2,69.9L163.7,69.2" stroke="#95d840" stroke-width="2.1"/><path d="M156.3,66.5L157.8,66L159.3,65.8L160.7,65.4L162.2,64.9L163.7,64.4" stroke="#c8e020" stroke-width="2.1"/><path d="M169.9,70L171.2,69.8L172.5,70L173.8,70.1L175.1,70.1L176.4,70.3L177.7,70.3" stroke="#81d34d" stroke-width="2.2"/><path d="M169.9,65.2L171.2,65.4L172.5,65.4L173.8,65.1L175.1,65L176.4,65L177.7,64.9" stroke="#eae51a" stroke-width="2.1"/><path d="M183.3,70.9L184.7,70.8L186.1,70.9L187.5,71L188.9,71L190.3,70.9L191.7,70.8" stroke="#fde725" stroke-width="1.9"/><path d="M183.3,66.1L184.7,66.5L186.1,66.6L187.5,66.8L188.9,67L190.3,67.1L191.7,66.8" stroke="#fde725" stroke-width="1.8"/><path d="M183.3,62.1L184.7,62.4L186.1,62.8L187.5,62.9L188.9,62.7L190.3,62.5L191.7,62.1" stroke="#fde725" stroke-width="1.8"/><path d="M197.3,70.4L198.7,70.4L200.1,70.2L201.5,70.2L202.9,70.2L204.3,70L205.7,69.9" stroke="#fde725" stroke-width="2.2"/><path d="M197.3,64.9L198.7,64.9L200.1,64.9L201.5,65.1L202.9,65.2L204.3,65L205.7,65.1" stroke="#eae51a" stroke-width="2.2"/><path d="M204.3,70.1L205.6,69.6L206.9,69.4L208.1,69.5L209.4,69.6L210.7,69.4" stroke="#f8e621" stroke-width="2.3"/><path d="M204.3,65.1L205.6,65L206.9,64.8L208.1,64.4L209.4,64.1L210.7,63.9" stroke="#e5e419" stroke-width="2.2"/><path d="M212.7,69.7L214,70.1L215.2,70.3L216.4,70L217.7,69.6" stroke="#90d743" stroke-width="2.2"/><path d="M212.7,64.6L214,64.9L215.2,65.2L216.4,65.1L217.7,65.1" stroke="#95d840" stroke-width="2.2"/><path d="M223.3,70.8L224.7,70.6L226.1,70.5L227.5,70.6L228.9,70.6L230.3,70.6L231.7,70.8L233.1,70.7L234.5,70.6L235.9,70.5L237.3,70.6L238.7,70.8L240.1,70.8L241.5,70.9" stroke="#c5e021" stroke-width="2"/><path d="M223.3,65.3L224.7,65.5L226.1,65.8L227.5,66.2L228.9,66.2L230.3,66.3L231.7,66.5L233.1,66.6L234.5,66.4L235.9,66.1L237.3,66L238.7,66.1L240.1,66.4L241.5,66.2" stroke="#fde725" stroke-width="2"/><path d="M223.3,60.8L224.7,60.8L226.1,61L227.5,61.4L228.9,61.6L230.3,61.6L231.7,61.7L233.1,61.9L234.5,62.1L235.9,62.1L237.3,62L238.7,61.8L240.1,61.3L241.5,61.0" stroke="#bade28" stroke-width="1.9"/><path d="M242.1,70L243.3,70.3L244.5,70.4L245.7,70.2" stroke="#d2e21b" stroke-width="2.1"/><path d="M242.1,65.7L243.3,65.7L244.5,65.6L245.7,65.2" stroke="#ece51b" stroke-width="2.1"/><path d="M251.3,69.9L252.5,70.4L253.8,70.5L255,70.5L256.2,70.5" stroke="#67cc5c" stroke-width="2.1"/><path d="M251.3,65.4L252.5,65.2L253.8,65.1L255,65.2L256.2,64.8" stroke="#98d83e" stroke-width="2.1"/><path d="M258.6,69.2L260.1,69.6L261.6,69.8L263.1,70.2L264.7,70.5L266.2,70.6L267.7,70.9L269.2,71.2" stroke="#dde318" stroke-width="2.1"/><path d="M258.6,63.4L260.1,64L261.6,64.7L263.1,65.5L264.7,66.3L266.2,67.1L267.7,67.8L269.2,68.5" stroke="#c8e020" stroke-width="2"/><path d="M258.6,57.5L260.1,58.5L261.6,59.6L263.1,60.8L264.7,62L266.2,63.3L267.7,64.5L269.2,65.7" stroke="#8ed645" stroke-width="2"/></g></g><g mask="url(#m31)"><g filter="url(#bl)"><path d="M4.5,60.2L5.8,59.3L7.1,58.5L8.4,57.7L9.7,56.8L11,56L12.3,55.2" stroke="#eae51a" stroke-width="2.4"/><path d="M4.5,55.3L5.8,54L7.1,52.7L8.4,51.5L9.7,50.4L11,49.4L12.3,48.4" stroke="#a5db36" stroke-width="2.1"/><path d="M4.5,50.5L5.8,49.2L7.1,48.1L8.4,46.6L9.7,45.1L11,43.7L12.3,42.9" stroke="#50c46a" stroke-width="1.7"/><path d="M4.5,45.7L5.8,44.6L7.1,43.3L8.4,41.9L9.7,40.7L11,39.6L12.3,38.8" stroke="#2db27d" stroke-width="1.4"/><path d="M4.5,42.2L5.8,40.6L7.1,39.4L8.4,38.2L9.7,36.9L11,35.6L12.3,34.4" stroke="#22a785" stroke-width="1.2"/><path d="M4.5,39.1L5.8,37.4L7.1,36L8.4,34.8L9.7,33.6L11,32.4L12.3,31.3" stroke="#1e9b8a" stroke-width="1"/><path d="M4.5,36.1L5.8,34.6L7.1,33.3L8.4,32.1L9.7,31L11,29.6L12.3,28.5" stroke="#25848e" stroke-width="1"/><path d="M4.5,33.6L5.8,32.1L7.1,30.5L8.4,29.2L9.7,28.1L11,26.8L12.3,25.7" stroke="#277f8e" stroke-width="1"/><path d="M4.5,31.3L5.8,29.8L7.1,28.4L8.4,27.2L9.7,25.8L11,24.5L12.3,23.4" stroke="#2b748e" stroke-width="1"/><path d="M4.5,29.2L5.8,27.7L7.1,26.3L8.4,24.9L9.7,23.6L11,22.4L12.3,21.3" stroke="#2c728e" stroke-width="1"/><path d="M4.5,27.3L5.8,25.8L7.1,24.3L8.4,23L9.7,21.7L11,20.5L12.3,19.4" stroke="#2e6e8e" stroke-width="1"/><path d="M12.9,54.6L14.2,55.3L15.5,55.8L16.8,56L18.1,56.4L19.4,56.8L20.7,57.1" stroke="#c8e020" stroke-width="2.6"/><path d="M12.9,49L14.2,49.1L15.5,49.1L16.8,49.5L18.1,50L19.4,50.3L20.7,50.6" stroke="#7fd34e" stroke-width="2.2"/><path d="M12.9,42.8L14.2,43.3L15.5,43.8L16.8,44L18.1,44.4L19.4,44.7L20.7,45.1" stroke="#50c46a" stroke-width="1.7"/><path d="M12.9,38.5L14.2,39L15.5,39.2L16.8,39.6L18.1,40.3L19.4,40.8L20.7,41.2" stroke="#2db27d" stroke-width="1.4"/><path d="M12.9,34.6L14.2,34.9L15.5,35.4L16.8,36L18.1,36.3L19.4,36.6L20.7,37.0" stroke="#1f9e89" stroke-width="1.2"/><path d="M12.9,30.9L14.2,31.4L15.5,32.1L16.8,32.7L18.1,33.2L19.4,33.6L20.7,34.0" stroke="#23888e" stroke-width="1"/><path d="M12.9,28.5L14.2,28.9L15.5,29.2L16.8,29.6L18.1,30.2L19.4,30.6L20.7,30.9" stroke="#287c8e" stroke-width="1"/><path d="M12.9,25.9L14.2,26.3L15.5,26.6L16.8,27.2L18.1,27.8L19.4,28.2L20.7,28.6" stroke="#2a778e" stroke-width="1"/><path d="M12.9,23.4L14.2,23.8L15.5,24.3L16.8,24.9L18.1,25.3L19.4,25.6L20.7,26.0" stroke="#30698e" stroke-width="1"/><path d="M21.3,56.2L22.6,56.3L23.9,56L25.2,55.9L26.5,56.3L27.8,56.7L29.1,56.7" stroke="#fde725" stroke-width="2.6"/><path d="M21.3,49.7L22.6,49.9L23.9,50.1L25.2,50.1L26.5,50.2L27.8,50.6L29.1,50.9" stroke="#ece51b" stroke-width="2.2"/><path d="M21.3,44.4L22.6,44.7L23.9,45.1L25.2,45.1L26.5,45.1L27.8,45.3L29.1,45.5" stroke="#b0dd2f" stroke-width="1.7"/><path d="M21.3,39.5L22.6,39.7L23.9,40.1L25.2,40.4L26.5,40.7L27.8,40.8L29.1,40.8" stroke="#73d056" stroke-width="1.4"/><path d="M21.3,36.4L22.6,36.5L23.9,36.5L25.2,36.7L26.5,36.9L27.8,36.9L29.1,36.9" stroke="#56c667" stroke-width="1.2"/><path d="M21.3,33L22.6,33L23.9,33.3L25.2,33.5L26.5,33.6L27.8,33.7L29.1,33.8" stroke="#32b67a" stroke-width="1"/><path d="M21.3,30.2L22.6,30.2L23.9,30.4L25.2,30.7L26.5,30.9L27.8,31L29.1,31.1" stroke="#22a785" stroke-width="1"/><path d="M21.3,27.6L22.6,27.6L23.9,27.7L25.2,27.8L26.5,27.9L27.8,28.1L29.1,28.3" stroke="#1fa088" stroke-width="1"/><path d="M21.3,24.9L22.6,25.2L23.9,25.4L25.2,25.7L26.5,25.9L27.8,26.1L29.1,26.2" stroke="#1e9c89" stroke-width="1"/><path d="M21.3,22.8L22.6,23.1L23.9,23.3L25.2,23.4L26.5,23.5L27.8,23.7L29.1,23.8" stroke="#1f9e89" stroke-width="1"/><path d="M29.7,56.7L31.2,57.3L32.7,57.7L34.2,58L35.8,58.4L37.3,58.6L38.8,58.9L40.3,59.2" stroke="#a2da37" stroke-width="2.4"/><path d="M29.7,50.8L31.2,51.4L32.7,52.1L34.2,52.5L35.8,52.6L37.3,53L38.8,53.3L40.3,53.5" stroke="#7cd250" stroke-width="2.2"/><path d="M29.7,45.8L31.2,46.1L32.7,46.4L34.2,46.7L35.8,47L37.3,47.5L38.8,48L40.3,48.4" stroke="#58c765" stroke-width="1.7"/><path d="M29.7,41L31.2,41.3L32.7,41.5L34.2,42.3L35.8,42.9L37.3,43.3L38.8,43.7L40.3,44.2" stroke="#42be71" stroke-width="1.4"/><path d="M29.7,37.3L31.2,37.9L32.7,38.3L34.2,38.6L35.8,38.9L37.3,39.5L38.8,39.9L40.3,40.3" stroke="#28ae80" stroke-width="1.2"/><path d="M29.7,34L31.2,34.5L32.7,35L34.2,35.2L35.8,35.7L37.3,36.3L38.8,36.8L40.3,37.1" stroke="#1f9a8a" stroke-width="1.1"/><path d="M29.7,31.2L31.2,31.5L32.7,32L34.2,32.6L35.8,33.1L37.3,33.6L38.8,33.9L40.3,34.3" stroke="#228b8d" stroke-width="1"/><path d="M29.7,28.5L31.2,29L32.7,29.4L34.2,29.8L35.8,30.3L37.3,30.8L38.8,31.4L40.3,32.0" stroke="#25848e" stroke-width="1"/><path d="M29.7,26L31.2,26.5L32.7,27L34.2,27.5L35.8,28L37.3,28.4L38.8,28.9L40.3,29.6" stroke="#26818e" stroke-width="1"/><path d="M29.7,24L31.2,24.4L32.7,24.9L34.2,25.4L35.8,25.8L37.3,26.3L38.8,26.8L40.3,27.2" stroke="#26818e" stroke-width="1"/><path d="M43,57.3L44.3,57.2L45.6,57.2L46.9,57.4L48.1,57.4L49.4,57.4L50.7,57.5" stroke="#fde725" stroke-width="1.9"/><path d="M43,52.6L44.3,52.5L45.6,52.5L46.9,52.6L48.1,52.5L49.4,52.5L50.7,52.8" stroke="#cae11f" stroke-width="1.8"/><path d="M43,48.2L44.3,48.4L45.6,48.4L46.9,48.4L48.1,48.3L49.4,48.2L50.7,48.0" stroke="#b5de2b" stroke-width="1.5"/><path d="M43,44.7L44.3,44.5L45.6,44.6L46.9,44.6L48.1,44.5L49.4,44.5L50.7,44.6" stroke="#9dd93b" stroke-width="1.3"/><path d="M43,41.1L44.3,41.2L45.6,41.3L46.9,41.3L48.1,41.3L49.4,41.3L50.7,41.2" stroke="#6ece58" stroke-width="1.1"/><path d="M43,38.4L44.3,38.3L45.6,38.4L46.9,38.4L48.1,38.4L49.4,38.3L50.7,38.3" stroke="#46c06f" stroke-width="1"/><path d="M43,35.8L44.3,35.9L45.6,35.9L46.9,35.8L48.1,35.7L49.4,35.6L50.7,35.8" stroke="#28ae80" stroke-width="1"/><path d="M43,33.5L44.3,33.4L45.6,33.4L46.9,33.5L48.1,33.5L49.4,33.5L50.7,33.4" stroke="#20a486" stroke-width="1"/><path d="M43,31.4L44.3,31.3L45.6,31.3L46.9,31.3L48.1,31.2L49.4,31.2L50.7,31.2" stroke="#1f9f88" stroke-width="1"/><path d="M43,29.5L44.3,29.4L45.6,29.3L46.9,29.3L48.1,29.4L49.4,29.4L50.7,29.4" stroke="#20928c" stroke-width="1"/><path d="M43,27.5L44.3,27.5L45.6,27.6L46.9,27.6L48.1,27.5L49.4,27.5L50.7,27.5" stroke="#25848e" stroke-width="1"/><path d="M43,25.9L44.3,25.9L45.6,25.9L46.9,25.9L48.1,26L49.4,26L50.7,25.9" stroke="#287c8e" stroke-width="1"/><path d="M43,24.3L44.3,24.3L45.6,24.4L46.9,24.3L48.1,24.2L49.4,24.3L50.7,24.3" stroke="#29798e" stroke-width="1"/><path d="M55.6,57L57,57L58.5,57.1L59.9,57.1L61.3,57.1" stroke="#75d054" stroke-width="1.9"/><path d="M55.6,52.6L57,52.6L58.5,52.6L59.9,52.2L61.3,52.1" stroke="#4cc26c" stroke-width="1.8"/><path d="M55.6,48.5L57,48.3L58.5,48.2L59.9,48.4L61.3,48.2" stroke="#2eb37c" stroke-width="1.5"/><path d="M55.6,44.5L57,44.3L58.5,44.3L59.9,44.7L61.3,44.9" stroke="#1f988b" stroke-width="1.3"/><path d="M67.5,58.9L68.7,59.1L70,59.2L71.2,58.9" stroke="#4ac16d" stroke-width="2.2"/><path d="M67.5,53.9L68.7,54L70,54.1L71.2,54.1" stroke="#1e9d89" stroke-width="2.1"/><path d="M75.3,53.4L76.8,56.5L78.2,59.5L79.7,62.2" stroke="#34b679" stroke-width="2.3"/><path d="M75.3,46.8L76.8,50.4L78.2,54.3L79.7,58.1" stroke="#25ab82" stroke-width="2.1"/><path d="M75.3,40.9L76.8,44.5L78.2,48.7L79.7,53.6" stroke="#1e9d89" stroke-width="1.7"/><path d="M75.3,36.8L76.8,40.5L78.2,44.8L79.7,49.8" stroke="#228b8d" stroke-width="1.4"/><path d="M75.3,33L76.8,36.6L78.2,40.9L79.7,46.2" stroke="#277f8e" stroke-width="1.2"/><path d="M75.3,29.8L76.8,33.6L78.2,37.7L79.7,42.7" stroke="#2a778e" stroke-width="1.1"/><path d="M75.3,26.8L76.8,30.5L78.2,34.7L79.7,39.8" stroke="#2b758e" stroke-width="1"/><path d="M75.3,24.4L76.8,28L78.2,32.1L79.7,37.2" stroke="#2d718e" stroke-width="1"/><path d="M80.3,58L81.7,58L83.1,58L84.5,58.1L85.9,58.1L87.3,57.9L88.7,57.6" stroke="#75d054" stroke-width="1.8"/><path d="M80.3,54L81.7,54.2L83.1,54.1L84.5,53.8L85.9,53.6L87.3,53.3L88.7,53.1" stroke="#60ca60" stroke-width="1.7"/><path d="M80.3,49.9L81.7,49.8L83.1,49.5L84.5,49.3L85.9,49.2L87.3,49.1L88.7,49.0" stroke="#4ec36b" stroke-width="1.5"/><path d="M80.3,46.1L81.7,46L83.1,45.6L84.5,45.3L85.9,45.5L87.3,45.6L88.7,45.5" stroke="#2ab07f" stroke-width="1.3"/><path d="M80.3,43.1L81.7,43L83.1,42.8L84.5,42.6L85.9,42.4L87.3,42.3L88.7,42.0" stroke="#1f998a" stroke-width="1.1"/><path d="M95.6,55.1L97,56.5L98.4,58L99.9,59.6L101.3,61.4" stroke="#a8db34" stroke-width="2.4"/><path d="M95.6,48.8L97,50.7L98.4,52.4L99.9,54.3L101.3,56.5" stroke="#67cc5c" stroke-width="2.1"/><path d="M95.6,43.3L97,45.1L98.4,47.1L99.9,49.4L101.3,52.0" stroke="#46c06f" stroke-width="1.7"/><path d="M95.6,38.4L97,40.2L98.4,42.3L99.9,44.6L101.3,47.0" stroke="#4cc26c" stroke-width="1.4"/><path d="M95.6,34.5L97,36.6L98.4,38.5L99.9,40.8L101.3,43.3" stroke="#2eb37c" stroke-width="1.2"/><path d="M95.6,31.5L97,33.4L98.4,35.6L99.9,37.8L101.3,40.2" stroke="#1f9f88" stroke-width="1.1"/><path d="M105.3,60.2L106.4,59.1L107.6,57.8L108.7,56.4" stroke="#70cf57" stroke-width="1.8"/><path d="M105.3,56.3L106.4,54.9L107.6,53.4L108.7,52.0" stroke="#4cc26c" stroke-width="1.7"/><path d="M105.3,52.2L106.4,50.5L107.6,49L108.7,47.8" stroke="#29af7f" stroke-width="1.5"/><path d="M105.3,48.6L106.4,47L107.6,45.3L108.7,43.4" stroke="#1fa287" stroke-width="1.3"/><path d="M105.3,45.4L106.4,43.5L107.6,41.9L108.7,40.3" stroke="#1e9d89" stroke-width="1.1"/><path d="M105.3,42.3L106.4,40.8L107.6,39.3L108.7,37.7" stroke="#1f958b" stroke-width="1"/><path d="M109.3,56.5L110.8,57L112.3,57.1L113.8,56.9L115.2,56.6L116.7,56.5L118.2,56.7L119.7,56.7" stroke="#e7e419" stroke-width="1.9"/><path d="M109.3,51.7L110.8,51.9L112.3,52.1L113.8,52.1L115.2,52L116.7,52L118.2,51.9L119.7,52.0" stroke="#9dd93b" stroke-width="1.8"/><path d="M109.3,47.7L110.8,47.6L112.3,47.6L113.8,47.6L115.2,47.8L116.7,47.6L118.2,47.6L119.7,47.8" stroke="#8bd646" stroke-width="1.5"/><path d="M109.3,43.9L110.8,43.9L112.3,43.9L113.8,43.9L115.2,43.8L116.7,43.7L118.2,43.8L119.7,43.9" stroke="#67cc5c" stroke-width="1.3"/><path d="M109.3,40.5L110.8,40.5L112.3,40.6L113.8,40.7L115.2,40.6L116.7,40.5L118.2,40.4L119.7,40.3" stroke="#4ac16d" stroke-width="1.1"/><path d="M109.3,37.5L110.8,37.5L112.3,37.7L113.8,37.7L115.2,37.7L116.7,37.6L118.2,37.7L119.7,37.7" stroke="#34b679" stroke-width="1"/><path d="M109.3,35.1L110.8,35.1L112.3,35.2L113.8,35.3L115.2,35.2L116.7,35.2L118.2,35.3L119.7,35.3" stroke="#27ad81" stroke-width="1"/><path d="M109.3,32.7L110.8,32.8L112.3,32.9L113.8,32.9L115.2,32.9L116.7,32.8L118.2,32.7L119.7,32.9" stroke="#1fa287" stroke-width="1"/><path d="M109.3,30.6L110.8,30.7L112.3,30.7L113.8,30.7L115.2,30.7L116.7,30.7L118.2,30.6L119.7,30.5" stroke="#1f978b" stroke-width="1"/><path d="M109.3,28.6L110.8,28.6L112.3,28.7L113.8,28.7L115.2,28.7L116.7,28.6L118.2,28.6L119.7,28.7" stroke="#238a8d" stroke-width="1"/><path d="M109.3,26.8L110.8,26.8L112.3,26.9L113.8,26.9L115.2,26.9L116.7,27L118.2,27L119.7,27.0" stroke="#25848e" stroke-width="1"/><path d="M109.3,25.1L110.8,25.1L112.3,25.1L113.8,25.1L115.2,25.2L116.7,25.2L118.2,25.3L119.7,25.3" stroke="#287d8e" stroke-width="1"/><path d="M109.3,23.6L110.8,23.5L112.3,23.5L113.8,23.5L115.2,23.5L116.7,23.6L118.2,23.7L119.7,23.6" stroke="#2e6d8e" stroke-width="1"/><path d="M109.3,22.2L110.8,22.2L112.3,22.1L113.8,22.1L115.2,22.1L116.7,22.1L118.2,22.1L119.7,22.1" stroke="#32648e" stroke-width="1"/><path d="M123.6,61L125,60.7L126.4,60.3L127.8,60L129.3,60.3L130.7,60.6L132.1,60.9" stroke="#fde725" stroke-width="2.1"/><path d="M123.6,56.1L125,55.9L126.4,55.4L127.8,55.2L129.3,55.2L130.7,55.3L132.1,55.9" stroke="#d2e21b" stroke-width="2"/><path d="M123.6,51.1L125,50.7L126.4,50.3L127.8,50L129.3,50.1L130.7,50.6L132.1,51.2" stroke="#95d840" stroke-width="1.8"/><path d="M123.6,46.8L125,46.4L126.4,46.2L127.8,45.8L129.3,45.9L130.7,46.3L132.1,46.9" stroke="#8bd646" stroke-width="1.5"/><path d="M123.6,42.8L125,42.4L126.4,42L127.8,41.9L129.3,42.1L130.7,42.4L132.1,42.8" stroke="#6ece58" stroke-width="1.2"/><path d="M123.6,39.5L125,39L126.4,38.7L127.8,38.5L129.3,38.8L130.7,39.2L132.1,39.8" stroke="#58c765" stroke-width="1.1"/><path d="M123.6,36.6L125,36.2L126.4,35.9L127.8,35.7L129.3,35.9L130.7,36.3L132.1,36.7" stroke="#4ac16d" stroke-width="1"/><path d="M123.6,34.3L125,33.9L126.4,33.5L127.8,33.1L129.3,33.3L130.7,33.7L132.1,34.1" stroke="#34b679" stroke-width="1"/><path d="M123.6,31.8L125,31.4L126.4,31.1L127.8,31L129.3,31.2L130.7,31.4L132.1,31.8" stroke="#22a884" stroke-width="1"/><path d="M123.6,29.7L125,29.3L126.4,28.9L127.8,28.6L129.3,29L130.7,29.4L132.1,29.8" stroke="#1f9e89" stroke-width="1"/><path d="M123.6,27.7L125,27.3L126.4,26.9L127.8,26.7L129.3,26.9L130.7,27.3L132.1,27.8" stroke="#1f978b" stroke-width="1"/><path d="M123.6,26L125,25.6L126.4,25.2L127.8,25L129.3,25.1L130.7,25.5L132.1,26.0" stroke="#1f948c" stroke-width="1"/><path d="M123.6,24.3L125,23.9L126.4,23.6L127.8,23.3L129.3,23.6L130.7,23.9L132.1,24.3" stroke="#1f948c" stroke-width="1"/><path d="M123.6,22.8L125,22.3L126.4,21.9L127.8,21.6L129.3,22L130.7,22.4L132.1,22.8" stroke="#1f958b" stroke-width="1"/><path d="M135.3,57.9L136.8,57.5L138.2,57.3" stroke="#31b57b" stroke-width="1.8"/><path d="M135.3,53.8L136.8,53.8L138.2,53.8" stroke="#1fa088" stroke-width="1.7"/><path d="M152.3,55.4L153.4,57.6L154.6,60.1L155.7,62.7" stroke="#40bd72" stroke-width="2.3"/><path d="M152.3,49L153.4,52.1L154.6,55.3L155.7,58.7" stroke="#37b878" stroke-width="2"/><path d="M152.3,43.8L153.4,46.7L154.6,50.1L155.7,54.2" stroke="#29af7f" stroke-width="1.7"/><path d="M152.3,39L153.4,42.1L154.6,45.6L155.7,50.0" stroke="#20a486" stroke-width="1.5"/><path d="M152.3,35L153.4,38.2L154.6,41.9L155.7,46.2" stroke="#1f9a8a" stroke-width="1.2"/><path d="M152.3,31.7L153.4,35L154.6,38.6L155.7,43.0" stroke="#25838e" stroke-width="1.1"/><path d="M156.3,62.6L157.8,62L159.3,61L160.7,60.1L162.2,59.6L163.7,59.2" stroke="#95d840" stroke-width="2"/><path d="M156.3,58.8L157.8,57.5L159.3,56.2L160.7,55.2L162.2,54.3L163.7,53.4" stroke="#6ccd5a" stroke-width="2"/><path d="M156.3,54.2L157.8,53.2L159.3,51.9L160.7,50.6L162.2,49.2L163.7,47.7" stroke="#3fbc73" stroke-width="1.8"/><path d="M156.3,50.3L157.8,48.7L159.3,47.4L160.7,46L162.2,44.8L163.7,43.5" stroke="#2eb37c" stroke-width="1.5"/><path d="M156.3,46.3L157.8,44.9L159.3,43.6L160.7,42.2L162.2,40.8L163.7,39.5" stroke="#22a785" stroke-width="1.2"/><path d="M156.3,43.1L157.8,41.4L159.3,39.9L160.7,38.8L162.2,37.8L163.7,36.9" stroke="#1f958b" stroke-width="1.1"/><path d="M156.3,39.9L157.8,38.7L159.3,37.5L160.7,36.2L162.2,34.9L163.7,33.8" stroke="#287d8e" stroke-width="1"/><path d="M169.9,60.6L171.2,60.7L172.5,60.6L173.8,60.6L175.1,60.5L176.4,60.3L177.7,60.3" stroke="#c2df23" stroke-width="2.1"/><path d="M169.9,55.3L171.2,55.4L172.5,55.4L173.8,55.6L175.1,55.6L176.4,55.4L177.7,55.8" stroke="#3fbc73" stroke-width="2"/><path d="M169.9,50.7L171.2,50.6L172.5,50.4L173.8,50.4L175.1,50.7L176.4,50.8L177.7,50.6" stroke="#29af7f" stroke-width="1.8"/><path d="M169.9,46.7L171.2,46.3L172.5,45.9L173.8,45.7L175.1,45.9L176.4,46.2L177.7,46.3" stroke="#25ab82" stroke-width="1.5"/><path d="M169.9,42.7L171.2,42.7L172.5,42.6L173.8,42.5L175.1,42.5L176.4,42.3L177.7,42.3" stroke="#23a983" stroke-width="1.2"/><path d="M169.9,39.1L171.2,39.2L172.5,39.3L173.8,39.2L175.1,39.2L176.4,39.2L177.7,39.3" stroke="#1fa088" stroke-width="1.1"/><path d="M169.9,36.2L171.2,36.3L172.5,36.4L173.8,36.5L175.1,36.5L176.4,36.4L177.7,36.5" stroke="#228b8d" stroke-width="1"/><path d="M169.9,33.7L171.2,33.8L172.5,33.8L173.8,33.7L175.1,33.7L176.4,33.8L177.7,33.8" stroke="#2a778e" stroke-width="1"/><path d="M183.3,57.6L184.7,58.4L186.1,58.9L187.5,58.9L188.9,58.6L190.3,58.2L191.7,57.6" stroke="#fde725" stroke-width="1.7"/><path d="M183.3,53.8L184.7,54.1L186.1,54.4L187.5,54.9L188.9,54.7L190.3,54L191.7,53.6" stroke="#fbe723" stroke-width="1.7"/><path d="M183.3,48.7L184.7,49.5L186.1,50.2L187.5,50.8L188.9,50.4L190.3,49.9L191.7,49.3" stroke="#bddf26" stroke-width="1.5"/><path d="M183.3,45.3L184.7,46.1L186.1,46.6L187.5,47L188.9,46.6L190.3,46.3L191.7,45.7" stroke="#7fd34e" stroke-width="1.3"/><path d="M183.3,41.9L184.7,42.7L186.1,43.3L187.5,43.7L188.9,43.3L190.3,43L191.7,42.3" stroke="#77d153" stroke-width="1.1"/><path d="M183.3,38.8L184.7,39.8L186.1,40.5L187.5,41L188.9,40.6L190.3,40.1L191.7,39.5" stroke="#63cb5f" stroke-width="1"/><path d="M183.3,36.4L184.7,37.2L186.1,37.8L187.5,38.3L188.9,37.9L190.3,37.6L191.7,37.1" stroke="#50c46a" stroke-width="1"/><path d="M183.3,34.4L184.7,35.1L186.1,35.6L187.5,36L188.9,35.7L190.3,35.2L191.7,34.6" stroke="#34b679" stroke-width="1"/><path d="M183.3,32.1L184.7,32.9L186.1,33.4L187.5,33.8L188.9,33.6L190.3,33.1L191.7,32.4" stroke="#25ac82" stroke-width="1"/><path d="M183.3,30.2L184.7,30.8L186.1,31.4L187.5,31.9L188.9,31.7L190.3,31.1L191.7,30.3" stroke="#21a685" stroke-width="1"/><path d="M183.3,28.3L184.7,29L186.1,29.7L187.5,30.2L188.9,29.9L190.3,29.4L191.7,28.8" stroke="#1fa188" stroke-width="1"/><path d="M183.3,26.8L184.7,27.5L186.1,28.1L187.5,28.4L188.9,28.1L190.3,27.6L191.7,26.9" stroke="#1e9c89" stroke-width="1"/><path d="M183.3,25.2L184.7,25.9L186.1,26.4L187.5,26.8L188.9,26.4L190.3,26L191.7,25.4" stroke="#1f978b" stroke-width="1"/><path d="M183.3,23.7L184.7,24.4L186.1,25L187.5,25.4L188.9,25L190.3,24.6L191.7,24.1" stroke="#20938c" stroke-width="1"/><path d="M183.3,22.2L184.7,23L186.1,23.6L187.5,24L188.9,23.7L190.3,23.3L191.7,22.7" stroke="#218f8d" stroke-width="1"/><path d="M197.3,59.8L198.7,59.8L200.1,59.9L201.5,60.2L202.9,60.2L204.3,59.8L205.7,59.7" stroke="#aadc32" stroke-width="2.1"/><path d="M197.3,54.7L198.7,54.7L200.1,54.7L201.5,54.8L202.9,55L204.3,54.9L205.7,54.6" stroke="#84d44b" stroke-width="2.1"/><path d="M197.3,50L198.7,49.9L200.1,50L201.5,49.9L202.9,49.7L204.3,49.9L205.7,49.9" stroke="#52c569" stroke-width="1.8"/><path d="M197.3,45.2L198.7,45.3L200.1,45.2L201.5,45.2L202.9,45.3L204.3,45.3L205.7,45.3" stroke="#38b977" stroke-width="1.5"/><path d="M197.3,41.4L198.7,41.6L200.1,41.8L201.5,41.9L202.9,41.8L204.3,41.7L205.7,41.6" stroke="#29af7f" stroke-width="1.2"/><path d="M197.3,38.5L198.7,38.3L200.1,38.2L201.5,38.4L202.9,38.4L204.3,38.3L205.7,38.1" stroke="#1f9f88" stroke-width="1.1"/><path d="M204.3,60.9L205.6,60.5L206.9,59.8L208.1,59.2L209.4,58.7L210.7,58.5" stroke="#89d548" stroke-width="2.2"/><path d="M204.3,56.1L205.6,55.2L206.9,54.3L208.1,53.7L209.4,53.4L210.7,53.1" stroke="#67cc5c" stroke-width="2.1"/><path d="M204.3,50.9L205.6,50.3L206.9,49.8L208.1,49.4L209.4,48.8L210.7,48.1" stroke="#50c46a" stroke-width="1.8"/><path d="M204.3,46.8L205.6,46L206.9,45.2L208.1,44.4L209.4,43.8L210.7,43.2" stroke="#3fbc73" stroke-width="1.5"/><path d="M204.3,43L205.6,42.2L206.9,41.4L208.1,40.5L209.4,39.7L210.7,39.2" stroke="#23a983" stroke-width="1.2"/><path d="M204.3,39.7L205.6,38.9L206.9,38.2L208.1,37.5L209.4,36.8L210.7,36.2" stroke="#1f9a8a" stroke-width="1.1"/><path d="M204.3,36.7L205.6,36.2L206.9,35.6L208.1,34.9L209.4,34.1L210.7,33.4" stroke="#238a8d" stroke-width="1"/><path d="M204.3,33.9L205.6,33.4L206.9,32.8L208.1,32.2L209.4,31.5L210.7,30.7" stroke="#24868e" stroke-width="1"/><path d="M204.3,31.9L205.6,31.2L206.9,30.4L208.1,29.8L209.4,29L210.7,28.3" stroke="#287d8e" stroke-width="1"/><path d="M212.7,60.1L214,60.2L215.2,60.1L216.4,60.1L217.7,60.2" stroke="#65cb5e" stroke-width="2.1"/><path d="M212.7,54.8L214,55L215.2,55.2L216.4,55.2L217.7,55.1" stroke="#48c16e" stroke-width="2.1"/><path d="M212.7,49.6L214,49.5L215.2,49.7L216.4,49.9L217.7,49.8" stroke="#25ab82" stroke-width="1.8"/><path d="M212.7,45.2L214,45.4L215.2,45.4L216.4,45.2L217.7,44.9" stroke="#1e9b8a" stroke-width="1.5"/><path d="M223.3,56.5L224.7,56.7L226.1,57L227.5,57.3L228.9,57.4L230.3,57.6L231.7,57.9L233.1,57.9L234.5,57.7L235.9,57.4L237.3,57.2L238.7,57L240.1,56.8L241.5,56.4" stroke="#8bd646" stroke-width="1.9"/><path d="M223.3,51.8L224.7,52.1L226.1,52.5L227.5,52.8L228.9,52.9L230.3,53.2L231.7,53.4L233.1,53.3L234.5,53.1L235.9,52.9L237.3,52.9L238.7,52.8L240.1,52.4L241.5,52.0" stroke="#73d056" stroke-width="1.8"/><path d="M223.3,47.1L224.7,47.9L226.1,48.4L227.5,48.5L228.9,48.5L230.3,48.9L231.7,49.1L233.1,48.9L234.5,48.9L235.9,48.8L237.3,48.4L238.7,48.2L240.1,47.8L241.5,47.3" stroke="#70cf57" stroke-width="1.5"/><path d="M223.3,43.6L224.7,43.9L226.1,44.2L227.5,44.4L228.9,44.6L230.3,45L231.7,45.4L233.1,45.3L234.5,45L235.9,44.8L237.3,44.6L238.7,44.4L240.1,44L241.5,43.8" stroke="#5ec962" stroke-width="1.3"/><path d="M223.3,40.4L224.7,40.5L226.1,40.9L227.5,41.3L228.9,41.7L230.3,41.9L231.7,42L233.1,42L234.5,41.8L235.9,41.5L237.3,41.2L238.7,40.9L240.1,40.7L241.5,40.5" stroke="#42be71" stroke-width="1.1"/><path d="M223.3,37.4L224.7,37.7L226.1,38L227.5,38.3L228.9,38.6L230.3,38.8L231.7,39L233.1,39L234.5,39L235.9,38.9L237.3,38.6L238.7,38.3L240.1,38L241.5,37.7" stroke="#38b977" stroke-width="1"/><path d="M223.3,34.8L224.7,35.1L226.1,35.4L227.5,35.7L228.9,36.1L230.3,36.4L231.7,36.6L233.1,36.6L234.5,36.3L235.9,36.1L237.3,35.9L238.7,35.6L240.1,35.3L241.5,34.9" stroke="#22a785" stroke-width="1"/><path d="M223.3,32.4L224.7,32.9L226.1,33.3L227.5,33.6L228.9,33.7L230.3,33.9L231.7,34.2L233.1,34.2L234.5,33.9L235.9,33.8L237.3,33.6L238.7,33.2L240.1,32.8L241.5,32.5" stroke="#1fa187" stroke-width="1"/><path d="M223.3,30.5L224.7,30.8L226.1,31.2L227.5,31.5L228.9,31.7L230.3,31.9L231.7,32.1L233.1,32L234.5,31.8L235.9,31.7L237.3,31.5L238.7,31.1L240.1,30.8L241.5,30.5" stroke="#1e9c89" stroke-width="1"/><path d="M223.3,28.6L224.7,28.8L226.1,29.1L227.5,29.4L228.9,29.7L230.3,29.9L231.7,30.1L233.1,30.1L234.5,29.9L235.9,29.7L237.3,29.4L238.7,29L240.1,28.7L241.5,28.5" stroke="#1f968b" stroke-width="1"/><path d="M223.3,26.9L224.7,27.2L226.1,27.4L227.5,27.7L228.9,27.9L230.3,28.1L231.7,28.3L233.1,28.2L234.5,28L235.9,27.8L237.3,27.6L238.7,27.4L240.1,27.1L241.5,26.7" stroke="#218f8d" stroke-width="1"/><path d="M223.3,25L224.7,25.4L226.1,25.6L227.5,25.9L228.9,26.2L230.3,26.5L231.7,26.6L233.1,26.6L234.5,26.4L235.9,26.2L237.3,25.9L238.7,25.6L240.1,25.4L241.5,25.1" stroke="#228c8d" stroke-width="1"/><path d="M223.3,23.3L224.7,23.8L226.1,24.2L227.5,24.4L228.9,24.7L230.3,25L231.7,25.1L233.1,25.1L234.5,24.8L235.9,24.6L237.3,24.4L238.7,24.1L240.1,23.8L241.5,23.4" stroke="#228d8d" stroke-width="1"/><path d="M223.3,22L224.7,22.3L226.1,22.5L227.5,22.8L228.9,23L230.3,23.3L231.7,23.5L233.1,23.5L234.5,23.3L235.9,23.1L237.3,22.9L238.7,22.6L240.1,22.3L241.5,21.9" stroke="#218e8d" stroke-width="1"/><path d="M223.3,20.7L224.7,21L226.1,21.2L227.5,21.4L228.9,21.7L230.3,21.9L231.7,22L233.1,22.1L234.5,22L235.9,21.8L237.3,21.6L238.7,21.2L240.1,20.9L241.5,20.5" stroke="#20928c" stroke-width="1"/><path d="M242.1,61.3L243.3,60.9L244.5,60.2L245.7,59.9" stroke="#c0df25" stroke-width="2"/><path d="M242.1,57.1L243.3,56.3L244.5,55.5L245.7,55.0" stroke="#89d548" stroke-width="2"/><path d="M242.1,52.4L243.3,51.4L244.5,50.8L245.7,50.4" stroke="#6ece58" stroke-width="1.8"/><path d="M242.1,48L243.3,47L244.5,46.2L245.7,45.8" stroke="#56c667" stroke-width="1.5"/><path d="M242.1,44.2L243.3,43.5L244.5,42.5L245.7,41.6" stroke="#3dbc74" stroke-width="1.2"/><path d="M242.1,41.1L243.3,40.1L244.5,39.1L245.7,38.2" stroke="#37b878" stroke-width="1.1"/><path d="M242.1,38.5L243.3,37.4L244.5,36.5L245.7,35.6" stroke="#2db27d" stroke-width="1"/><path d="M242.1,35.3L243.3,34.5L244.5,33.7L245.7,32.8" stroke="#2fb47c" stroke-width="1"/><path d="M242.1,33.3L243.3,32.3L244.5,31.4L245.7,30.7" stroke="#26ad81" stroke-width="1"/><path d="M251.3,60.4L252.5,60.8L253.8,60.9L255,60.7L256.2,60.6" stroke="#4ac16d" stroke-width="2"/><path d="M251.3,55.8L252.5,55.8L253.8,56L255,55.9L256.2,56.4" stroke="#3aba76" stroke-width="2"/><path d="M251.3,51.3L252.5,51.3L253.8,51.2L255,51.3L256.2,51.6" stroke="#21a685" stroke-width="1.8"/><path d="M251.3,46.9L252.5,46.8L253.8,46.9L255,46.7L256.2,46.4" stroke="#1e9b8a" stroke-width="1.5"/><path d="M251.3,42.5L252.5,42.9L253.8,42.9L255,42.8L256.2,42.7" stroke="#1f968b" stroke-width="1.2"/><path d="M258.6,51.2L260.1,52.8L261.6,54.2L263.1,55.8L264.7,57.5L266.2,58.8L267.7,60.3L269.2,62.0" stroke="#77d153" stroke-width="1.9"/><path d="M258.6,46L260.1,47.5L261.6,49.4L263.1,51.1L264.7,53.1L266.2,55.1L267.7,57L269.2,58.5" stroke="#5ac864" stroke-width="1.7"/><path d="M258.6,41.2L260.1,42.8L261.6,44.6L263.1,46.5L264.7,48.5L266.2,50.7L267.7,52.8L269.2,55.4" stroke="#34b679" stroke-width="1.5"/><path d="M258.6,37.6L260.1,39.2L261.6,41L263.1,42.9L264.7,45L266.2,47.4L267.7,49.6L269.2,52.1" stroke="#24aa83" stroke-width="1.3"/><path d="M258.6,34.8L260.1,36.2L261.6,37.8L263.1,39.7L264.7,41.7L266.2,44L267.7,46.3L269.2,48.9" stroke="#1f9f88" stroke-width="1.1"/><path d="M258.6,31.7L260.1,33.3L261.6,35L263.1,36.8L264.7,38.8L266.2,41.1L267.7,43.5L269.2,46.2" stroke="#218e8d" stroke-width="1"/><path d="M4.5,50.0L6.5,26.0L8.5,4.0" stroke="#2cb17e" stroke-width="1.7"/><path d="M89.0,70.0L89.5,4.0" stroke="#22a884" stroke-width="1.6"/><path d="M180.5,70.0L181.0,3.0" stroke="#2cb17e" stroke-width="2"/><path d="M155.0,60.0L154.0,30.0" stroke="#21918c" stroke-width="1.3"/><path d="M161.0,60.0L163.0,20.0" stroke="#1f958b" stroke-width="1.4"/></g></g></g></svg>
<div style="position:absolute;left:349px;top:10.3px;width:4.5px;height:77.7px;background:linear-gradient(#fde725,#e2e418,#c5e021,#a8db34,#8bd646,#70cf57,#58c765,#42be71,#2fb47c,#24aa83,#1fa088,#1f958b,#228b8d,#26818e,#2a768e,#2f6c8e,#34608d,#3a548c,#3f4889,#443b84,#472e7c,#482071,#471164,#440154)"></div>
<div style="position:absolute;left:349px;top:102.3px;width:4.5px;height:78px;background:linear-gradient(#fde725,#e2e418,#c5e021,#a8db34,#8bd646,#70cf57,#58c765,#42be71,#2fb47c,#24aa83,#1fa088,#1f958b,#228b8d,#26818e,#2a768e,#2f6c8e,#34608d,#3a548c,#3f4889,#443b84,#472e7c,#482071,#471164,#440154)"></div>
<div style="position:absolute;left:349.6px;top:193.3px;width:4.5px;height:77.1px;background:linear-gradient(#fde725,#e2e418,#c5e021,#a8db34,#8bd646,#70cf57,#58c765,#42be71,#2fb47c,#24aa83,#1fa088,#1f958b,#228b8d,#26818e,#2a768e,#2f6c8e,#34608d,#3a548c,#3f4889,#443b84,#472e7c,#482071,#471164,#440154)"></div>
<div class="sp p2" style="left:376.5px;top:67px;width:76.5px;height:76px"><i style="background:linear-gradient(#1f9f88,#1f968b,#23898e,#277f8e,#297b8e,#27808e,#25848e,#238a8d,#21908d,#218e8d,#24878e,#26828e,#26828e,#25838e,#25848e,#25858e,#24868e,#23888e,#23898e,#238a8d,#218e8d,#1f948c,#1f998a,#1f958b,#23898e,#26828e)"></i><i style="background:linear-gradient(#1f998a,#20928c,#24868e,#287c8e,#29798e,#277e8e,#26818e,#26828e,#24868e,#24868e,#25838e,#277f8e,#277e8e,#277f8e,#27808e,#26818e,#26828e,#25858e,#24878e,#23898e,#218e8d,#1f958b,#1f9a8a,#1f968b,#228c8d,#25858e)"></i><i style="background:linear-gradient(#20938c,#21908d,#24868e,#277e8e,#297a8e,#277e8e,#27808e,#27808e,#26818e,#25838e,#25848e,#26828e,#27808e,#277e8e,#277e8e,#27808e,#25838e,#24878e,#23888e,#228b8d,#21908d,#1f978b,#1e9d89,#1f998a,#218f8d,#238a8d)"></i><i style="background:linear-gradient(#20928c,#21918c,#228c8d,#25838e,#277f8e,#26828e,#25858e,#24868e,#24868e,#238a8d,#218f8d,#21908d,#228b8d,#25858e,#26828e,#25858e,#238a8d,#228d8d,#228d8d,#218e8d,#20928c,#1f9a8a,#1fa088,#1f9a8a,#21918c,#228b8d)"></i><i style="background:linear-gradient(#21918c,#21918c,#218f8d,#23888e,#26828e,#25848e,#23898e,#218e8d,#218f8d,#21918c,#1f968b,#1f998a,#20938c,#228c8d,#24878e,#238a8d,#218f8d,#21918c,#218f8d,#218f8d,#20928c,#1f988b,#1e9d89,#1f998a,#218f8d,#23888e)"></i><i style="background:linear-gradient(#218f8d,#218f8d,#218e8d,#23888e,#26828e,#26828e,#23898e,#21918c,#20938c,#20938c,#1f978b,#1f9a8a,#1f968b,#21908d,#228b8d,#228d8d,#21908d,#21918c,#21918c,#218f8d,#218e8d,#20928c,#1f988b,#1f968b,#228b8d,#25838e)"></i><i style="background:linear-gradient(#218e8d,#218e8d,#228c8d,#24878e,#26828e,#26828e,#24878e,#21918c,#1f948c,#20938c,#1f948c,#1f978b,#1f968b,#20928c,#218f8d,#21908d,#21918c,#21918c,#20928c,#21908d,#228c8d,#21908d,#1f968b,#1f958b,#23898e,#26818e)"></i><i style="background:linear-gradient(#20928c,#21918c,#218e8d,#228b8d,#23888e,#24878e,#238a8d,#20928c,#1f978b,#1f958b,#20938c,#1f968b,#1f968b,#20928c,#20928c,#21918c,#21918c,#21918c,#20928c,#21908d,#228c8d,#21908d,#1f978b,#1f968b,#238a8d,#26828e)"></i><i style="background:linear-gradient(#1f968b,#1f958b,#20928c,#21908d,#21918c,#21908d,#21908d,#20938c,#1f988b,#1f968b,#20938c,#1f958b,#1f968b,#20938c,#21918c,#218f8d,#218e8d,#218f8d,#21908d,#228d8d,#228b8d,#21908d,#1f988b,#1f978b,#228c8d,#25848e)"></i><i style="background:linear-gradient(#20928c,#20928c,#21908d,#218f8d,#20928c,#20928c,#21918c,#20928c,#1f958b,#1f948c,#21918c,#21918c,#20928c,#21908d,#228d8d,#23898e,#24878e,#23898e,#238a8d,#23898e,#24878e,#228d8d,#1f948c,#1f948c,#228d8d,#24878e)"></i><i style="background:linear-gradient(#2e6e8e,#2e6f8e,#2e6e8e,#2e6e8e,#2c728e,#2b758e,#2c718e,#2d718e,#2c738e,#2c738e,#2e6f8e,#2e6d8e,#2e6e8e,#2e6e8e,#2f6c8e,#31678e,#31668e,#30698e,#306a8e,#306a8e,#306a8e,#2d708e,#2b758e,#2a768e,#2b748e,#2c718e)"></i><i style="background:linear-gradient(#404588,#3e4989,#3e4a89,#3e4c8a,#3b518b,#3a538b,#3c4f8a,#3e4c8a,#3c508b,#3b518b,#3e4a89,#3f4788,#3f4788,#3f4889,#3f4889,#414487,#414287,#3f4788,#3f4889,#3f4889,#3e4a89,#3c508b,#3a538b,#39568c,#375b8d,#365d8d)"></i><i style="background:linear-gradient(#3e4c8a,#3b518b,#39558c,#39568c,#375b8d,#375a8c,#3b528b,#3c4f8a,#3a548c,#38588c,#3a538b,#3c4f8a,#3d4e8a,#3c4f8a,#3c4f8a,#3e4989,#3e4a89,#3c508b,#3c508b,#3c4f8a,#3b528b,#39558c,#38588c,#365c8d,#32658e,#30698e)"></i><i style="background:linear-gradient(#2e6f8e,#2b748e,#2a788e,#297a8e,#287d8e,#2a788e,#2d708e,#2e6f8e,#2b758e,#2a788e,#2a778e,#2b748e,#2d708e,#2d708e,#2d718e,#2e6d8e,#2e6e8e,#2c728e,#2c718e,#2d718e,#2c728e,#2c738e,#2b748e,#29798e,#26828e,#24878e)"></i><i style="background:linear-gradient(#27808e,#25838e,#23888e,#228b8d,#228c8d,#25848e,#287c8e,#287d8e,#25838e,#24878e,#24878e,#25858e,#27808e,#277f8e,#26828e,#27808e,#27808e,#25838e,#26828e,#277f8e,#26818e,#27808e,#26818e,#25858e,#228c8d,#21918c)"></i><i style="background:linear-gradient(#1f998a,#1e9c89,#1f9f88,#1fa287,#1fa287,#1f9a8a,#20938c,#1f968b,#1e9b8a,#1f9e89,#1fa088,#1e9d89,#1f988b,#1f988b,#1f9e89,#1fa088,#1f9f88,#1f9f88,#1f9a8a,#1f988b,#1e9b8a,#1f998a,#1f9a8a,#1f9e89,#1fa188,#1fa187)"></i><i style="background:linear-gradient(#1fa187,#1fa187,#20a386,#22a785,#21a685,#1fa188,#1f9e89,#1fa188,#21a585,#22a785,#22a884,#20a486,#1fa188,#1fa287,#24aa83,#2ab07f,#29af7f,#25ab82,#20a486,#20a386,#21a685,#21a585,#22a785,#24aa83,#22a884,#22a785)"></i><i style="background:linear-gradient(#1fa287,#1fa088,#1fa088,#1fa287,#1fa287,#1fa088,#1fa187,#21a685,#25ab82,#25ac82,#23a983,#20a486,#1fa187,#20a386,#25ab82,#2eb37c,#2db27d,#26ad81,#22a785,#22a785,#24aa83,#24aa83,#27ad81,#2ab07f,#27ad81,#25ab82)"></i><i style="background:linear-gradient(#1fa088,#1e9c89,#1f998a,#1e9b8a,#1e9c89,#1e9d89,#1fa188,#21a585,#25ab82,#25ac82,#20a486,#1f9e89,#1e9c89,#1f9e89,#20a386,#24aa83,#24aa83,#21a685,#20a486,#20a486,#21a585,#21a585,#24aa83,#29af7f,#28ae80,#27ad81)"></i><i style="background:linear-gradient(#228d8d,#23888e,#25848e,#25858e,#24868e,#23888e,#228c8d,#218e8d,#21918c,#20928c,#228b8d,#26828e,#27808e,#26818e,#26828e,#25848e,#25848e,#25838e,#25848e,#25838e,#26828e,#27808e,#25838e,#228b8d,#218e8d,#218e8d)"></i><i style="background:linear-gradient(#29798e,#2a768e,#2c728e,#2c728e,#2c738e,#2b748e,#2a778e,#2a768e,#2a768e,#2a778e,#2c728e,#30698e,#32658e,#32658e,#32648e,#33628d,#34618d,#33628d,#32648e,#33638d,#355e8d,#38598c,#365c8d,#32648e,#30698e,#30698e)"></i><i style="background:linear-gradient(#2a778e,#2a768e,#2b758e,#2c738e,#2c728e,#2c738e,#2a768e,#2b748e,#2c728e,#2c738e,#2d708e,#30698e,#32658e,#32648e,#34618d,#355e8d,#355f8d,#355e8d,#355f8d,#355e8d,#38598c,#3b528b,#39558c,#355f8d,#33638d,#34618d)"></i><i style="background:linear-gradient(#2a788e,#29798e,#29798e,#2a768e,#2c728e,#2c728e,#2b748e,#2b748e,#2c728e,#2c728e,#2d708e,#2f6b8e,#30698e,#31678e,#33638d,#33628d,#34618d,#355e8d,#365d8d,#365d8d,#38588c,#3b528b,#3a548c,#355f8d,#33628d,#34608d)"></i><i style="background:linear-gradient(#27808e,#26818e,#277f8e,#297a8e,#2a778e,#2b758e,#2a768e,#2a778e,#2a778e,#2a778e,#2b748e,#2c718e,#2d718e,#2e6f8e,#2f6b8e,#2f6b8e,#2f6b8e,#32658e,#33638d,#33638d,#355f8d,#375b8d,#355e8d,#31688e,#2f6c8e,#306a8e)"></i><i style="background:linear-gradient(#21918c,#218f8d,#228b8d,#24868e,#25858e,#25838e,#26828e,#25838e,#24868e,#24868e,#25858e,#25858e,#25858e,#26828e,#287d8e,#27808e,#27808e,#287c8e,#297b8e,#287d8e,#2a788e,#2b748e,#29798e,#26828e,#24868e,#25858e)"></i><i style="background:linear-gradient(#1f958b,#20928c,#228c8d,#238a8d,#228b8d,#23888e,#24868e,#24868e,#23898e,#228b8d,#228b8d,#228d8d,#228c8d,#25858e,#26818e,#25848e,#24868e,#26828e,#25848e,#24868e,#26828e,#277e8e,#26828e,#228c8d,#218f8d,#228d8d)"></i><i style="background:linear-gradient(#20928c,#218f8d,#238a8d,#228b8d,#228d8d,#228b8d,#24878e,#24868e,#23898e,#228d8d,#218e8d,#21908d,#218e8d,#24878e,#26828e,#25858e,#24878e,#25838e,#25858e,#23898e,#24878e,#26828e,#25848e,#228b8d,#228d8d,#228b8d)"></i><i style="background:linear-gradient(#218e8d,#228c8d,#23888e,#238a8d,#228c8d,#228b8d,#23888e,#24878e,#228b8d,#21908d,#20928c,#20928c,#21918c,#228b8d,#24868e,#23888e,#23888e,#25858e,#24868e,#228b8d,#238a8d,#25848e,#25848e,#24878e,#24878e,#25858e)"></i><i style="background:linear-gradient(#228d8d,#238a8d,#24868e,#24868e,#24878e,#23888e,#24878e,#24878e,#228b8d,#21908d,#20928c,#1f948c,#20938c,#21908d,#228b8d,#238a8d,#238a8d,#23888e,#23888e,#228b8d,#228b8d,#24878e,#25838e,#26828e,#27808e,#277e8e)"></i><i style="background:linear-gradient(#25848e,#26828e,#277e8e,#297b8e,#297a8e,#287d8e,#27808e,#27808e,#26828e,#25858e,#23898e,#218e8d,#21908d,#228d8d,#23898e,#24868e,#24878e,#24878e,#23888e,#23898e,#23898e,#24878e,#26828e,#287d8e,#29798e,#2a778e)"></i><i style="background:linear-gradient(#32648e,#33628d,#34608d,#365c8d,#375b8d,#34608d,#31668e,#31678e,#31688e,#2f6b8e,#2e6f8e,#2a778e,#287c8e,#297b8e,#2a788e,#2a768e,#29798e,#287d8e,#277f8e,#27808e,#26818e,#26818e,#297b8e,#2b758e,#2c738e,#2c728e)"></i><i style="background:linear-gradient(#39558c,#3a548c,#3a538b,#3b518b,#3c508b,#39558c,#365d8d,#355e8d,#355f8d,#33628d,#31678e,#2d708e,#2b748e,#2c728e,#2d708e,#2d718e,#2b758e,#29798e,#297b8e,#287c8e,#277f8e,#26818e,#287c8e,#2a768e,#2b748e,#2c738e)"></i><i style="background:linear-gradient(#3d4e8a,#3d4d8a,#3c508b,#3c508b,#3c4f8a,#3a538b,#375b8d,#365c8d,#355f8d,#33638d,#31688e,#2d718e,#2c738e,#2d708e,#2e6d8e,#2d708e,#2b758e,#2a778e,#2a778e,#2a788e,#287d8e,#26828e,#277f8e,#29798e,#2a778e,#2a768e)"></i><i style="background:linear-gradient(#3f4889,#3f4889,#3d4e8a,#3b518b,#3c4f8a,#3b528b,#38588c,#375b8d,#355e8d,#32658e,#2e6d8e,#2b748e,#2a788e,#2c728e,#2e6d8e,#2d718e,#2b758e,#2b758e,#2c738e,#2b748e,#297a8e,#277f8e,#277e8e,#297a8e,#29798e,#29798e)"></i><i style="background:linear-gradient(#3f4788,#3f4889,#3d4e8a,#3c508b,#3d4e8a,#3d4e8a,#3a538b,#38588c,#365d8d,#31688e,#2c728e,#287d8e,#26828e,#287c8e,#2b748e,#2b758e,#2a768e,#2c728e,#2d708e,#2c728e,#2a778e,#287c8e,#287d8e,#297b8e,#297a8e,#29798e)"></i><i style="background:linear-gradient(#414287,#414287,#3f4788,#3e4989,#404688,#404588,#3e4989,#3c4f8a,#38588c,#30698e,#2a788e,#24868e,#218f8d,#23898e,#277f8e,#297a8e,#2b748e,#2e6f8e,#2f6c8e,#2d708e,#2b758e,#29798e,#297b8e,#297a8e,#2a788e,#2a768e)"></i><i style="background:linear-gradient(#424086,#424086,#404588,#404688,#414287,#423f85,#414287,#3e4989,#39558c,#2f6b8e,#277f8e,#21908d,#1f988b,#20928c,#24868e,#287d8e,#2c738e,#2e6d8e,#306a8e,#2e6d8e,#2c728e,#2a778e,#29798e,#2a788e,#2b748e,#2c728e)"></i><i style="background:linear-gradient(#404588,#404688,#3e4c8a,#3c4f8a,#3e4a89,#404588,#404588,#3e4989,#38588c,#2e6d8e,#27808e,#21918c,#1f978b,#21908d,#25848e,#297b8e,#2c738e,#2e6e8e,#2f6c8e,#2f6c8e,#2d708e,#2b758e,#2a778e,#2b758e,#2c718e,#2e6f8e)"></i><i style="background:linear-gradient(#3f4889,#3e4989,#3b518b,#39558c,#3b518b,#3e4a89,#3f4788,#3e4a89,#39568c,#306a8e,#297b8e,#23898e,#218e8d,#25858e,#287c8e,#2b758e,#2d718e,#2e6e8e,#2f6c8e,#2f6c8e,#2e6e8e,#2c738e,#2a768e,#2b748e,#2d708e,#2e6e8e)"></i></div><svg class="hm" style="left:376.5px;top:67px" width="76.5" height="76" viewBox="0 0 77 76" preserveAspectRatio="none"><defs><filter id="pba" x="-20%" y="-20%" width="140%" height="140%"><feGaussianBlur stdDeviation="0.5"/></filter></defs><g fill="none" stroke-linecap="butt" stroke-linejoin="round" filter="url(#pba)"><path d="M30.6,24.3L39.0,24.3" stroke="#32b67a" stroke-width="1.9"/><path d="M30.6,28.4L39.0,28.4" stroke="#32b67a" stroke-width="1.9"/><path d="M30.6,32.4L39.0,32.4" stroke="#32b67a" stroke-width="1.9"/><path d="M30.6,36.5L39.0,36.5" stroke="#32b67a" stroke-width="1.9"/><path d="M30.6,40.5L39.0,40.5" stroke="#32b67a" stroke-width="1.9"/><path d="M30.6,44.6L39.0,44.6" stroke="#32b67a" stroke-width="1.9"/><path d="M30.6,48.6L39.0,48.6" stroke="#32b67a" stroke-width="1.9"/><path d="M30.6,52.7L39.0,52.7" stroke="#32b67a" stroke-width="1.9"/><path d="M30.6,56.8L39.0,56.8" stroke="#32b67a" stroke-width="1.9"/><path d="M30.6,60.8L39.0,60.8" stroke="#32b67a" stroke-width="1.9"/><path d="M30.6,64.9L39.0,64.9" stroke="#32b67a" stroke-width="1.9"/><path d="M30.6,68.9L39.0,68.9" stroke="#32b67a" stroke-width="1.9"/></g></svg>
<div class="sp p3" style="left:468px;top:67px;width:77px;height:76px"><i style="background:linear-gradient(#218e8d,#218f8d,#21908d,#21918c,#228d8d,#23888e,#23898e,#228d8d,#1f948c,#1e9d89,#1f9f88,#1e9b8a,#1f978b,#1f968b,#1fa088,#22a785,#21a685,#20a486,#20a386,#22a884,#27ad81,#1fa088,#1e9c89,#1e9d89,#1f9a8a,#1f958b)"></i><i style="background:linear-gradient(#228d8d,#228d8d,#218e8d,#218e8d,#238a8d,#23888e,#23898e,#218e8d,#1f958b,#1e9b8a,#1f9e89,#1e9d89,#1e9b8a,#1f998a,#1fa188,#21a585,#21a585,#21a585,#20a486,#24aa83,#29af7f,#20a386,#1fa187,#1fa088,#1e9c89,#1f968b)"></i><i style="background:linear-gradient(#24868e,#24868e,#238a8d,#228b8d,#238a8d,#23888e,#24878e,#228d8d,#1f958b,#1f998a,#1e9b8a,#1e9b8a,#1e9b8a,#1e9b8a,#1fa287,#21a585,#22a785,#23a983,#22a884,#26ad81,#2db27d,#23a983,#23a983,#20a386,#1f9e89,#1f978b)"></i><i style="background:linear-gradient(#25838e,#25848e,#23888e,#228d8d,#21908d,#218e8d,#228b8d,#218e8d,#20928c,#20928c,#1f948c,#1f958b,#1f968b,#1f9a8a,#20a486,#23a983,#26ad81,#28ae80,#28ae80,#2ab07f,#2fb47c,#26ad81,#27ad81,#22a884,#1fa188,#1f9a8a)"></i><i style="background:linear-gradient(#23898e,#23898e,#228b8d,#21908d,#20938c,#20928c,#218e8d,#228c8d,#23898e,#23888e,#228d8d,#21918c,#20938c,#1f9a8a,#21a585,#25ab82,#29af7f,#2db27d,#2ab07f,#2ab07f,#2cb17e,#26ad81,#28ae80,#26ad81,#22a785,#1fa188)"></i><i style="background:linear-gradient(#228c8d,#228c8d,#228d8d,#218f8d,#21918c,#21908d,#228c8d,#24868e,#25838e,#25838e,#23888e,#218e8d,#1f948c,#1f9e89,#21a685,#24aa83,#27ad81,#2ab07f,#26ad81,#25ab82,#25ac82,#25ab82,#26ad81,#25ac82,#22a785,#1fa287)"></i><i style="background:linear-gradient(#218e8d,#228c8d,#238a8d,#228b8d,#238a8d,#228b8d,#23888e,#26828e,#26828e,#24868e,#23898e,#228c8d,#1f948c,#1fa088,#22a884,#24aa83,#25ac82,#26ad81,#22a884,#21a685,#22a884,#23a983,#23a983,#20a486,#1fa188,#1e9c89)"></i><i style="background:linear-gradient(#21908d,#228b8d,#24868e,#25848e,#25848e,#23898e,#23898e,#25848e,#24868e,#228b8d,#228d8d,#218e8d,#1f958b,#1fa088,#21a585,#22a884,#25ac82,#25ac82,#23a983,#22a785,#23a983,#24aa83,#24aa83,#20a386,#1f9e89,#1f9a8a)"></i><i style="background:linear-gradient(#228d8d,#23888e,#26828e,#277f8e,#277f8e,#23888e,#228c8d,#24878e,#24868e,#228b8d,#218e8d,#21918c,#1f958b,#1e9c89,#1fa188,#20a386,#22a785,#24aa83,#25ab82,#26ad81,#27ad81,#27ad81,#25ac82,#21a685,#1f9f88,#1f9a8a)"></i><i style="background:linear-gradient(#25858e,#25838e,#27808e,#287d8e,#287c8e,#25838e,#24878e,#26828e,#26828e,#25858e,#238a8d,#218f8d,#1f948c,#1e9c89,#1fa088,#1f9f88,#1f9f88,#1fa287,#21a685,#27ad81,#2cb17e,#2ab07f,#28ae80,#25ab82,#20a386,#1f9e89)"></i><i style="background:linear-gradient(#25848e,#26828e,#26818e,#26818e,#277f8e,#277f8e,#27808e,#297b8e,#29798e,#277e8e,#25848e,#228b8d,#1f948c,#1f9e89,#1fa188,#1e9d89,#1f998a,#1f998a,#1e9b8a,#22a884,#2ab07f,#2ab07f,#29af7f,#29af7f,#27ad81,#24aa83)"></i><i style="background:linear-gradient(#24878e,#24868e,#25858e,#25858e,#25838e,#26818e,#27808e,#287c8e,#29798e,#287d8e,#25858e,#228d8d,#1f958b,#1e9c89,#1f9e89,#1f9a8a,#1f978b,#1f948c,#1f958b,#1fa287,#27ad81,#2ab07f,#2ab07f,#2cb17e,#2fb47c,#2fb47c)"></i><i style="background:linear-gradient(#25838e,#24868e,#23888e,#23888e,#24878e,#25848e,#25848e,#25838e,#26828e,#24868e,#228c8d,#20928c,#1f968b,#1f998a,#1e9b8a,#1e9b8a,#1e9b8a,#1e9b8a,#1e9c89,#20a386,#24aa83,#26ad81,#28ae80,#28ae80,#2ab07f,#29af7f)"></i><i style="background:linear-gradient(#287c8e,#26828e,#23888e,#24878e,#25858e,#25848e,#25838e,#25858e,#238a8d,#218e8d,#218f8d,#20928c,#1f978b,#1e9c89,#1fa088,#1fa187,#20a486,#22a785,#22a884,#23a983,#22a884,#22a884,#25ab82,#22a884,#20a486,#1fa188)"></i><i style="background:linear-gradient(#277e8e,#26828e,#238a8d,#23888e,#25848e,#25838e,#25838e,#25858e,#228b8d,#228c8d,#228b8d,#21908d,#1f988b,#1fa088,#20a486,#22a884,#24aa83,#27ad81,#28ae80,#28ae80,#27ad81,#24aa83,#22a884,#1fa187,#1f988b,#20928c)"></i><i style="background:linear-gradient(#25848e,#24878e,#228c8d,#228b8d,#24878e,#23888e,#23898e,#228c8d,#218e8d,#228b8d,#23888e,#218e8d,#1f978b,#1f9f88,#20a486,#22a884,#25ac82,#28ae80,#27ad81,#29af7f,#2db27d,#29af7f,#24aa83,#1fa187,#1f958b,#228d8d)"></i><i style="background:linear-gradient(#24868e,#24868e,#23888e,#23888e,#24868e,#23898e,#228d8d,#21908d,#20928c,#228d8d,#23898e,#228c8d,#20938c,#1f9a8a,#1fa188,#21a685,#25ab82,#27ad81,#25ac82,#27ad81,#2db27d,#2cb17e,#25ac82,#21a585,#1e9b8a,#20938c)"></i><i style="background:linear-gradient(#25858e,#25858e,#25858e,#25838e,#26828e,#24868e,#23898e,#228c8d,#218f8d,#228d8d,#228b8d,#218e8d,#20928c,#1f968b,#1e9d89,#20a386,#22a785,#25ab82,#25ab82,#25ab82,#28ae80,#28ae80,#25ab82,#22a884,#1fa187,#1e9d89)"></i><i style="background:linear-gradient(#25848e,#25838e,#25838e,#26828e,#27808e,#26828e,#25848e,#24878e,#218e8d,#218f8d,#218f8d,#20928c,#1f948c,#1f988b,#1e9d89,#1fa188,#20a386,#21a685,#22a785,#22a785,#24aa83,#25ab82,#22a884,#21a685,#1fa287,#1fa088)"></i><i style="background:linear-gradient(#27808e,#277f8e,#277e8e,#277e8e,#287c8e,#287d8e,#26818e,#24868e,#218e8d,#20928c,#20928c,#1f958b,#1f968b,#1f988b,#1f9e89,#1fa088,#1f9f88,#1f9f88,#1f9f88,#1fa187,#21a585,#22a884,#21a685,#20a386,#1fa088,#1f9e89)"></i><i style="background:linear-gradient(#277e8e,#297b8e,#2a788e,#2a778e,#29798e,#287d8e,#26828e,#24868e,#228b8d,#218f8d,#20938c,#1f988b,#1f978b,#1f978b,#1e9c89,#1e9d89,#1f988b,#1f948c,#1f968b,#1e9d89,#1fa187,#20a486,#21a685,#20a486,#1fa088,#1f9e89)"></i><i style="background:linear-gradient(#287d8e,#29798e,#2b758e,#2b748e,#2a778e,#287d8e,#26828e,#25848e,#25848e,#23888e,#20928c,#1e9b8a,#1f9a8a,#1f978b,#1f998a,#1f9a8a,#1f948c,#218f8d,#20928c,#1e9b8a,#1fa088,#1fa187,#22a785,#22a785,#1fa188,#1e9d89)"></i><i style="background:linear-gradient(#2a778e,#2b748e,#2d718e,#2d708e,#2c728e,#29798e,#277f8e,#26818e,#26828e,#24868e,#20928c,#1f9a8a,#1f9a8a,#1f978b,#1f978b,#1f988b,#20928c,#228c8d,#21908d,#1e9b8a,#1f9f88,#1f9f88,#20a486,#21a585,#1e9d89,#1f988b)"></i><i style="background:linear-gradient(#2c728e,#2d708e,#2f6b8e,#2f6b8e,#2d718e,#2a788e,#277e8e,#26828e,#26828e,#25858e,#218e8d,#20938c,#20938c,#20928c,#1f958b,#1f958b,#21908d,#228c8d,#21908d,#1f988b,#1e9b8a,#1f9a8a,#1f9e89,#1f9f88,#1f988b,#20938c)"></i><i style="background:linear-gradient(#2b748e,#2d708e,#2f6c8e,#2e6d8e,#2c718e,#29798e,#26828e,#24868e,#25838e,#26828e,#24868e,#228b8d,#218f8d,#21918c,#1f948c,#20938c,#21908d,#21908d,#20928c,#1f958b,#1f958b,#20938c,#1f968b,#1f998a,#20928c,#218f8d)"></i><i style="background:linear-gradient(#2a778e,#2c728e,#2e6f8e,#2e6f8e,#2c728e,#29798e,#26828e,#23888e,#25838e,#277f8e,#26818e,#23888e,#218f8d,#20928c,#1f958b,#20938c,#21908d,#21918c,#20938c,#1f948c,#20928c,#218f8d,#20928c,#1f958b,#218f8d,#228b8d)"></i></div><svg class="hm" style="left:468px;top:67px" width="77" height="76" viewBox="0 0 77 76" preserveAspectRatio="none"><defs><filter id="pbc" x="-20%" y="-20%" width="140%" height="140%"><feGaussianBlur stdDeviation="1.9"/></filter></defs><g fill="none" stroke-linecap="butt" stroke-linejoin="round" filter="url(#pbc)"><path d="M-2.0,27.4L16.2,28.3L22.7,21.5L28.3,13.4L33.0,10.3L37.8,12.6L42.2,20.4L47.0,31.6L52.6,48.4L58.2,65.2" stroke="#26ad81" stroke-width="7"/><path d="M-2.0,38.9L18.2,38.9" stroke="#1fa188" stroke-width="4"/><path d="M-2.0,49.8L18.2,49.2L24.6,44.2L29.4,39.4L33.6,38.0L37.8,40.0L42.8,46.2L47.8,55.1L53.4,65.2" stroke="#63cb5f" stroke-width="10"/><path d="M-2.0,51.2L12.0,51.2" stroke="#b0dd2f" stroke-width="6.5"/><path d="M-2.0,66.0L24.6,66.0L30.2,63.2L34.4,62.1L38.9,64.1L43.4,68.5L46.2,73.0" stroke="#75d054" stroke-width="9"/><path d="M-2.0,74.4L26.0,74.4" stroke="#22a884" stroke-width="3.5"/></g></svg>
<div class="sp p2" style="left:377px;top:157.5px;width:78.5px;height:78.5px"><i style="background:linear-gradient(#21918c,#218e8d,#218e8d,#21918c,#20928c,#20928c,#21908d,#228b8d,#24878e,#218e8d,#20928c,#23898e,#25838e,#26818e,#277f8e,#287c8e,#2b758e,#2c728e,#297a8e,#26828e,#26818e,#287d8e,#25838e,#238a8d,#25848e,#26828e,#24868e)"></i><i style="background:linear-gradient(#218f8d,#218e8d,#21908d,#20928c,#20928c,#20928c,#218f8d,#238a8d,#24878e,#218e8d,#21908d,#238a8d,#24878e,#24878e,#24868e,#26828e,#297b8e,#2a788e,#287d8e,#26828e,#277f8e,#297a8e,#277e8e,#25838e,#277e8e,#277e8e,#26828e)"></i><i style="background:linear-gradient(#228b8d,#228d8d,#20928c,#20928c,#20928c,#20928c,#218e8d,#23888e,#24868e,#228d8d,#218e8d,#228c8d,#228d8d,#21918c,#21918c,#228c8d,#25848e,#27808e,#26828e,#26828e,#277e8e,#2a788e,#297b8e,#287d8e,#2a778e,#2a788e,#277e8e)"></i><i style="background:linear-gradient(#23888e,#228c8d,#20928c,#1f948c,#20928c,#21918c,#228d8d,#24878e,#24868e,#228c8d,#228c8d,#228c8d,#21918c,#1f978b,#1e9b8a,#1f968b,#218e8d,#23898e,#23898e,#25858e,#27808e,#297b8e,#297b8e,#2a788e,#2c738e,#2a768e,#297a8e)"></i><i style="background:linear-gradient(#23888e,#228c8d,#20928c,#1f958b,#20938c,#21908d,#228b8d,#24868e,#24878e,#228b8d,#238a8d,#238a8d,#21918c,#1f998a,#1fa088,#1e9d89,#1f948c,#21908d,#218e8d,#23888e,#26828e,#277f8e,#287d8e,#2a778e,#2c728e,#2a768e,#297a8e)"></i><i style="background:linear-gradient(#228c8d,#228d8d,#20928c,#1f958b,#20928c,#218e8d,#238a8d,#24868e,#23888e,#238a8d,#24878e,#24868e,#228c8d,#1f978b,#1f9f88,#1e9c89,#1f948c,#21918c,#21908d,#23898e,#25848e,#25838e,#27808e,#2a788e,#2b748e,#2a788e,#287c8e)"></i><i style="background:linear-gradient(#218f8d,#218f8d,#21908d,#20928c,#20928c,#228c8d,#23898e,#24878e,#23888e,#23888e,#25848e,#26828e,#24878e,#20928c,#1f9a8a,#1f978b,#21908d,#218e8d,#218f8d,#228b8d,#23888e,#23888e,#25838e,#287d8e,#29798e,#287c8e,#277f8e)"></i><i style="background:linear-gradient(#20928c,#21908d,#218e8d,#21908d,#218f8d,#23898e,#24878e,#23888e,#23888e,#24868e,#25838e,#26828e,#25848e,#228d8d,#20928c,#20928c,#228b8d,#228b8d,#218e8d,#218f8d,#218f8d,#218f8d,#228b8d,#25858e,#26828e,#26828e,#26828e)"></i><i style="background:linear-gradient(#21918c,#218f8d,#228b8d,#228b8d,#228b8d,#24868e,#25848e,#24868e,#24868e,#25858e,#25838e,#26828e,#25838e,#23888e,#228d8d,#228d8d,#23898e,#23898e,#228d8d,#21918c,#20928c,#20928c,#21918c,#228d8d,#24878e,#25848e,#25848e)"></i><i style="background:linear-gradient(#23898e,#23888e,#24878e,#24878e,#23888e,#25858e,#26828e,#26828e,#25848e,#25848e,#26828e,#26828e,#25838e,#24868e,#23898e,#238a8d,#23888e,#23888e,#238a8d,#228d8d,#218f8d,#21908d,#218f8d,#228d8d,#24878e,#26828e,#277f8e)"></i><i style="background:linear-gradient(#2a768e,#2a778e,#297a8e,#287c8e,#277e8e,#287c8e,#2a778e,#2a778e,#29798e,#29798e,#2a778e,#2a778e,#297a8e,#287c8e,#277e8e,#277f8e,#287d8e,#287d8e,#277f8e,#27808e,#26828e,#26828e,#25838e,#25848e,#277e8e,#2b748e,#2e6f8e)"></i><i style="background:linear-gradient(#404588,#3e4989,#3c4f8a,#3a538b,#39558c,#3a548c,#3c508b,#3c4f8a,#3b528b,#3b528b,#3d4e8a,#3d4e8a,#3b518b,#3a548c,#39558c,#3a548c,#3b528b,#3a538b,#39568c,#38598c,#365c8d,#355e8d,#33628d,#32658e,#355e8d,#3c508b,#3f4788)"></i><i style="background:linear-gradient(#443b84,#423f85,#404588,#3f4788,#3f4889,#3f4788,#414487,#404588,#3f4889,#3f4788,#414487,#414287,#404588,#3f4788,#3f4788,#414487,#423f85,#424186,#404688,#3e4a89,#3c508b,#39558c,#375a8c,#365d8d,#39568c,#3e4989,#424186)"></i><i style="background:linear-gradient(#3d4e8a,#3c508b,#3b528b,#3b518b,#3c508b,#3c4f8a,#3d4d8a,#3c4f8a,#3b518b,#3b528b,#3b528b,#3b518b,#3b518b,#3b518b,#3c4f8a,#3e4c8a,#3f4788,#3f4889,#3e4c8a,#3c508b,#38588c,#355f8d,#33628d,#32648e,#34618d,#38588c,#3a538b)"></i><i style="background:linear-gradient(#2a768e,#2a768e,#2b748e,#2c718e,#2d718e,#2e6f8e,#2e6e8e,#2d708e,#2c718e,#2b758e,#29798e,#29798e,#2a788e,#2a768e,#2c718e,#2e6e8e,#2f6b8e,#2f6b8e,#2f6c8e,#2e6f8e,#2b758e,#297b8e,#277e8e,#277f8e,#27808e,#297b8e,#29798e)"></i><i style="background:linear-gradient(#26818e,#27808e,#287c8e,#2a788e,#2a778e,#2a778e,#2a778e,#29798e,#29798e,#277f8e,#25858e,#25858e,#25848e,#26828e,#297b8e,#2a778e,#2a768e,#2b758e,#2b748e,#2a778e,#297a8e,#277e8e,#27808e,#26828e,#24868e,#25858e,#25838e)"></i><i style="background:linear-gradient(#24868e,#25858e,#27808e,#297b8e,#287c8e,#27808e,#26828e,#26828e,#26818e,#25858e,#228c8d,#228d8d,#228c8d,#23898e,#25838e,#27808e,#277f8e,#277e8e,#287d8e,#277f8e,#287d8e,#277e8e,#26818e,#25848e,#228b8d,#228c8d,#238a8d)"></i><i style="background:linear-gradient(#1f9e89,#1e9b8a,#1f948c,#218f8d,#20928c,#1f998a,#1e9d89,#1e9d89,#1f9a8a,#1e9c89,#1fa188,#1fa287,#20a386,#1fa287,#1f9f88,#1e9b8a,#1f9a8a,#1f988b,#1f988b,#1f988b,#20928c,#20928c,#1f948c,#1f988b,#1f9f88,#1fa187,#1fa188)"></i><i style="background:linear-gradient(#21a585,#20a386,#1e9b8a,#1f958b,#1f998a,#1fa188,#21a685,#21a685,#20a486,#21a585,#23a983,#24aa83,#25ac82,#26ad81,#25ab82,#22a785,#21a585,#20a486,#21a585,#1fa287,#1e9c89,#1e9b8a,#1e9d89,#1f9e89,#1fa187,#21a685,#22a785)"></i><i style="background:linear-gradient(#22a785,#21a585,#1f9f88,#1f9a8a,#1e9b8a,#1fa088,#21a585,#22a785,#22a785,#23a983,#25ab82,#24aa83,#25ab82,#27ad81,#27ad81,#24aa83,#22a884,#23a983,#25ac82,#22a884,#1fa188,#1fa187,#1fa187,#1f9f88,#1fa088,#20a486,#21a685)"></i><i style="background:linear-gradient(#21a685,#21a585,#1fa187,#1f9e89,#1e9c89,#1e9d89,#1fa187,#21a685,#22a785,#23a983,#24aa83,#22a785,#22a785,#24aa83,#24aa83,#22a785,#22a785,#24aa83,#27ad81,#25ab82,#20a486,#21a585,#21a585,#1fa187,#1fa188,#1fa287,#20a386)"></i><i style="background:linear-gradient(#1f9e89,#1f9e89,#1e9c89,#1f998a,#1f968b,#1f968b,#1e9b8a,#1fa088,#1fa187,#1fa187,#1fa088,#1e9d89,#1e9d89,#1f9f88,#1f9f88,#1f9e89,#1e9d89,#1fa088,#20a486,#20a386,#1f9f88,#1fa088,#1fa088,#1f9e89,#1e9c89,#1f9a8a,#1f998a)"></i><i style="background:linear-gradient(#25858e,#25858e,#25838e,#26828e,#26828e,#26828e,#24878e,#228d8d,#218e8d,#228b8d,#24878e,#25858e,#24878e,#24868e,#24868e,#24868e,#25838e,#25858e,#238a8d,#228b8d,#23898e,#23888e,#23888e,#23888e,#24868e,#26828e,#26818e)"></i><i style="background:linear-gradient(#297b8e,#297b8e,#297b8e,#287c8e,#277e8e,#277f8e,#26828e,#24868e,#23888e,#25858e,#26818e,#26818e,#26828e,#277f8e,#287d8e,#277e8e,#287c8e,#297b8e,#277f8e,#26828e,#26828e,#26818e,#277e8e,#287c8e,#297b8e,#297a8e,#297a8e)"></i><i style="background:linear-gradient(#32658e,#32648e,#32658e,#31688e,#2e6d8e,#2e6e8e,#2e6d8e,#2e6f8e,#2c728e,#2c718e,#2e6f8e,#2e6f8e,#2e6f8e,#306a8e,#31668e,#30698e,#30698e,#31678e,#30698e,#2e6d8e,#2e6f8e,#2f6c8e,#32658e,#34618d,#33628d,#32658e,#31688e)"></i><i style="background:linear-gradient(#365c8d,#375a8c,#375a8c,#355f8d,#32658e,#32658e,#355f8d,#355f8d,#32648e,#32648e,#33628d,#34618d,#355f8d,#375a8c,#39568c,#375a8c,#375b8d,#39568c,#39558c,#375a8c,#365c8d,#39568c,#3e4c8a,#3f4788,#3e4a89,#3b518b,#39568c)"></i><i style="background:linear-gradient(#24878e,#25838e,#27808e,#26828e,#23898e,#24878e,#27808e,#287d8e,#27808e,#27808e,#287c8e,#2a788e,#2b748e,#2d708e,#2e6d8e,#2e6f8e,#2e6d8e,#31668e,#34608d,#33628d,#33638d,#365d8d,#3b528b,#3d4e8a,#3c508b,#38588c,#365d8d)"></i><i style="background:linear-gradient(#1f998a,#20928c,#228c8d,#218e8d,#20928c,#20928c,#228b8d,#23898e,#228b8d,#23898e,#25858e,#27808e,#297a8e,#2b758e,#2b748e,#2c738e,#2e6f8e,#31668e,#365c8d,#375a8c,#375b8d,#39568c,#3d4e8a,#3d4d8a,#3b518b,#375a8c,#355f8d)"></i><i style="background:linear-gradient(#1f9f88,#1f978b,#21908d,#218f8d,#21908d,#218e8d,#228d8d,#218e8d,#218f8d,#228c8d,#24878e,#26828e,#297b8e,#2a768e,#2b748e,#2c718e,#2f6b8e,#34618d,#3a548c,#3c4f8a,#3c4f8a,#3e4c8a,#3f4788,#3f4889,#3d4e8a,#375a8c,#34608d)"></i><i style="background:linear-gradient(#1f9e89,#1f988b,#21918c,#218e8d,#238a8d,#23888e,#228b8d,#218e8d,#218f8d,#228c8d,#24878e,#26828e,#287c8e,#2a768e,#2c728e,#2e6e8e,#31678e,#355e8d,#3b528b,#3e4c8a,#3e4a89,#3f4788,#414487,#404588,#3e4c8a,#38588c,#355e8d)"></i><i style="background:linear-gradient(#1f968b,#20928c,#228d8d,#238a8d,#25858e,#26828e,#25858e,#238a8d,#228b8d,#23888e,#25838e,#277f8e,#29798e,#2b758e,#2d708e,#2f6b8e,#31668e,#355f8d,#39558c,#3c4f8a,#3d4e8a,#3e4c8a,#3e4989,#3f4788,#3e4989,#3b528b,#39568c)"></i><i style="background:linear-gradient(#27808e,#277e8e,#287d8e,#297b8e,#29798e,#2a778e,#29798e,#287d8e,#277f8e,#287c8e,#2a778e,#2c738e,#2c728e,#2d718e,#2f6c8e,#31668e,#32648e,#34618d,#365c8d,#39558c,#3a548c,#39558c,#39558c,#3b518b,#3d4d8a,#3d4e8a,#3c4f8a)"></i><i style="background:linear-gradient(#3e4c8a,#3d4e8a,#3b518b,#3a538b,#39568c,#38598c,#375a8c,#365d8d,#34608d,#34608d,#355e8d,#365d8d,#34608d,#33628d,#355e8d,#375b8d,#365c8d,#355f8d,#355e8d,#38588c,#38588c,#355e8d,#33638d,#355f8d,#38598c,#3a548c,#3a548c)"></i><i style="background:linear-gradient(#443b84,#423f85,#414287,#404588,#3e4c8a,#3b518b,#3b518b,#3b518b,#3a548c,#39558c,#39558c,#38588c,#365d8d,#34608d,#365d8d,#38598c,#375b8d,#34608d,#34608d,#375a8c,#375a8c,#33628d,#30698e,#31668e,#355f8d,#375b8d,#375b8d)"></i><i style="background:linear-gradient(#424086,#414487,#404588,#404588,#3e4c8a,#3b518b,#3c508b,#3c508b,#3a538b,#3a548c,#39558c,#375b8d,#34618d,#32648e,#33638d,#355f8d,#365d8d,#34608d,#34608d,#375a8c,#375b8d,#32648e,#306a8e,#31688e,#33628d,#34608d,#33628d)"></i><i style="background:linear-gradient(#3e4a89,#3e4c8a,#3e4c8a,#3e4989,#3d4d8a,#3c508b,#3c4f8a,#3c4f8a,#3a538b,#39568c,#375a8c,#33628d,#30698e,#2e6f8e,#2d718e,#2f6c8e,#31688e,#31668e,#33638d,#365d8d,#355e8d,#32658e,#306a8e,#31688e,#32658e,#31678e,#2f6b8e)"></i><i style="background:linear-gradient(#3b528b,#3b518b,#3c508b,#3d4e8a,#3d4e8a,#3c4f8a,#3d4e8a,#3c508b,#39558c,#375a8c,#34618d,#2f6b8e,#2b748e,#277f8e,#26828e,#27808e,#2a788e,#2c718e,#2f6b8e,#32648e,#33638d,#31678e,#30698e,#31688e,#31688e,#2f6c8e,#2d718e)"></i><i style="background:linear-gradient(#3b518b,#3c508b,#3c508b,#3c4f8a,#3d4e8a,#3d4e8a,#3c508b,#3b528b,#38588c,#365d8d,#31668e,#2c728e,#287d8e,#23898e,#21908d,#228d8d,#25858e,#297b8e,#2c738e,#2e6d8e,#31688e,#31668e,#31668e,#31668e,#30698e,#2e6e8e,#2c738e)"></i><i style="background:linear-gradient(#3e4c8a,#3d4d8a,#3d4e8a,#3d4d8a,#3e4c8a,#3d4e8a,#3a538b,#38588c,#375a8c,#365c8d,#33638d,#2e6f8e,#297a8e,#25848e,#238a8d,#23898e,#26828e,#297a8e,#2b748e,#2d718e,#30698e,#33638d,#33628d,#32658e,#30698e,#2e6e8e,#2c718e)"></i><i style="background:linear-gradient(#3e4989,#3e4a89,#3d4d8a,#3d4d8a,#3e4a89,#3c4f8a,#39558c,#375a8c,#375b8d,#38598c,#365d8d,#31688e,#2d718e,#2a788e,#287d8e,#287d8e,#29798e,#2c728e,#2d718e,#2e6f8e,#31688e,#34618d,#34608d,#32648e,#31688e,#2e6d8e,#2d708e)"></i></div>
<div class="sp p3" style="left:468px;top:158.5px;width:78.5px;height:78px"><i style="background:linear-gradient(#287d8e,#27808e,#26828e,#26828e,#25858e,#24878e,#228b8d,#218f8d,#218e8d,#228b8d,#238a8d,#228d8d,#21908d,#228c8d,#228c8d,#21918c,#21908d,#21918c,#1f948c,#20928c,#20928c,#20928c,#20938c,#21918c,#23888e,#25838e,#26828e)"></i><i style="background:linear-gradient(#277f8e,#26828e,#25838e,#26828e,#25848e,#24878e,#23898e,#228d8d,#218e8d,#218e8d,#228d8d,#228c8d,#228c8d,#238a8d,#228d8d,#20928c,#20928c,#1f948c,#1f978b,#1f948c,#20928c,#20938c,#1f978b,#1f968b,#218e8d,#24868e,#25848e)"></i><i style="background:linear-gradient(#24868e,#24868e,#25858e,#26828e,#26828e,#25848e,#24878e,#228b8d,#218e8d,#218f8d,#218f8d,#218e8d,#228b8d,#23898e,#218e8d,#1f948c,#1f948c,#1f958b,#1f988b,#1f968b,#20928c,#20938c,#1f988b,#1f978b,#21908d,#23898e,#24868e)"></i><i style="background:linear-gradient(#228b8d,#23888e,#25848e,#26818e,#27808e,#26828e,#24868e,#23898e,#238a8d,#23898e,#238a8d,#228c8d,#218e8d,#228d8d,#218f8d,#20928c,#20928c,#20928c,#1f968b,#1f958b,#20928c,#20928c,#1f968b,#1f958b,#21918c,#228c8d,#23898e)"></i><i style="background:linear-gradient(#25858e,#26828e,#27808e,#277f8e,#277f8e,#26828e,#24868e,#24878e,#25838e,#26818e,#26828e,#24878e,#218e8d,#21908d,#228d8d,#228d8d,#218e8d,#21908d,#20938c,#20938c,#21918c,#21918c,#20928c,#21908d,#228c8d,#228b8d,#238a8d)"></i><i style="background:linear-gradient(#277e8e,#287d8e,#297b8e,#287d8e,#26818e,#24868e,#228b8d,#23898e,#26828e,#287c8e,#277e8e,#25848e,#228d8d,#21908d,#228c8d,#228b8d,#218e8d,#20928c,#20938c,#20928c,#21908d,#21918c,#21908d,#238a8d,#24878e,#23898e,#238a8d)"></i><i style="background:linear-gradient(#27808e,#277e8e,#297b8e,#287c8e,#25838e,#238a8d,#228d8d,#228c8d,#25848e,#277f8e,#26818e,#24868e,#238a8d,#228c8d,#238a8d,#228d8d,#20928c,#1f948c,#1f948c,#20928c,#21908d,#21918c,#21908d,#23898e,#24868e,#23898e,#23898e)"></i><i style="background:linear-gradient(#25858e,#25838e,#26818e,#27808e,#25838e,#24878e,#23898e,#23898e,#24868e,#25858e,#23898e,#23898e,#24878e,#25858e,#24868e,#228c8d,#20928c,#20928c,#21918c,#21918c,#20928c,#20928c,#21918c,#228c8d,#23888e,#24878e,#24868e)"></i><i style="background:linear-gradient(#25858e,#25838e,#26828e,#26818e,#26818e,#26818e,#26828e,#25838e,#25848e,#23888e,#228c8d,#23898e,#25838e,#26828e,#25848e,#23898e,#218f8d,#218e8d,#228d8d,#20928c,#1f968b,#1f958b,#20928c,#218e8d,#238a8d,#238a8d,#238a8d)"></i><i style="background:linear-gradient(#287c8e,#287c8e,#297b8e,#29798e,#2a788e,#297b8e,#277e8e,#26818e,#26828e,#25858e,#23898e,#25858e,#25838e,#25858e,#24868e,#23898e,#228d8d,#238a8d,#228b8d,#20928c,#1f968b,#1f968b,#20938c,#218f8d,#228b8d,#228c8d,#228c8d)"></i><i style="background:linear-gradient(#2a768e,#2b758e,#2c738e,#2c718e,#2c728e,#2a778e,#297b8e,#277e8e,#26818e,#25848e,#25858e,#25838e,#25848e,#23898e,#23888e,#24868e,#24878e,#24868e,#23898e,#218f8d,#21908d,#20928c,#20928c,#218f8d,#228b8d,#238a8d,#238a8d)"></i><i style="background:linear-gradient(#287d8e,#297a8e,#2a778e,#2b748e,#2b748e,#2a788e,#297a8e,#287c8e,#26828e,#24868e,#24868e,#25838e,#25858e,#23898e,#23898e,#24878e,#25848e,#26828e,#25848e,#23898e,#228b8d,#228c8d,#218e8d,#228d8d,#238a8d,#24878e,#25858e)"></i><i style="background:linear-gradient(#23898e,#25858e,#277f8e,#297b8e,#297a8e,#297b8e,#287c8e,#287d8e,#26828e,#24878e,#25858e,#25838e,#25848e,#24878e,#238a8d,#228b8d,#24868e,#26828e,#26828e,#24868e,#238a8d,#238a8d,#238a8d,#228b8d,#24878e,#26818e,#287d8e)"></i><i style="background:linear-gradient(#21918c,#228c8d,#26828e,#287d8e,#277e8e,#287d8e,#297b8e,#287c8e,#26818e,#26818e,#277f8e,#27808e,#25848e,#23898e,#228c8d,#228c8d,#23888e,#24868e,#23888e,#228d8d,#218e8d,#228b8d,#23898e,#24878e,#26828e,#2a788e,#2c738e)"></i><i style="background:linear-gradient(#218e8d,#23898e,#26818e,#287d8e,#277f8e,#287c8e,#2a788e,#29798e,#277e8e,#277e8e,#287c8e,#287d8e,#25838e,#238a8d,#228b8d,#23888e,#24868e,#23888e,#218e8d,#20928c,#21918c,#228b8d,#24878e,#25858e,#25838e,#287d8e,#29798e)"></i><i style="background:linear-gradient(#23888e,#25838e,#287d8e,#297b8e,#277e8e,#287d8e,#2a788e,#2a778e,#297b8e,#277e8e,#277e8e,#287d8e,#26818e,#25858e,#25858e,#26828e,#26828e,#25848e,#23898e,#228d8d,#228b8d,#25848e,#26818e,#25838e,#238a8d,#238a8d,#24878e)"></i><i style="background:linear-gradient(#238a8d,#24868e,#27808e,#297a8e,#287d8e,#277f8e,#297a8e,#2b748e,#2c738e,#2a768e,#2a788e,#297b8e,#277f8e,#26828e,#26828e,#26818e,#27808e,#27808e,#26828e,#24868e,#25858e,#277f8e,#297b8e,#26818e,#228b8d,#21918c,#21918c)"></i><i style="background:linear-gradient(#228d8d,#228c8d,#25858e,#287d8e,#277e8e,#27808e,#297a8e,#2c738e,#2d708e,#2e6f8e,#2d718e,#2a768e,#297a8e,#277e8e,#26828e,#25858e,#25848e,#26818e,#26828e,#24878e,#24868e,#26818e,#277f8e,#26828e,#23898e,#228d8d,#228c8d)"></i><i style="background:linear-gradient(#23898e,#228c8d,#228b8d,#25858e,#26828e,#27808e,#297a8e,#2b758e,#2c728e,#2c718e,#2c738e,#2a768e,#2a768e,#297a8e,#25848e,#228d8d,#218e8d,#24868e,#25858e,#23898e,#23888e,#25858e,#25848e,#25858e,#24878e,#25858e,#26828e)"></i><i style="background:linear-gradient(#25848e,#23888e,#228c8d,#228b8d,#24868e,#26828e,#277f8e,#297a8e,#29798e,#287c8e,#26818e,#26828e,#287c8e,#287c8e,#25858e,#21918c,#20938c,#228d8d,#238a8d,#228b8d,#23898e,#23888e,#23888e,#23898e,#23898e,#24868e,#25838e)"></i><i style="background:linear-gradient(#25848e,#25858e,#24878e,#24868e,#25838e,#25838e,#25848e,#26828e,#26828e,#25858e,#228c8d,#228b8d,#25838e,#27808e,#25858e,#218e8d,#218f8d,#228d8d,#218e8d,#228d8d,#23888e,#24868e,#25858e,#24868e,#23898e,#238a8d,#228b8d)"></i><i style="background:linear-gradient(#277e8e,#287d8e,#297a8e,#2a778e,#29798e,#287d8e,#26818e,#26828e,#26828e,#25838e,#24878e,#25858e,#26818e,#277f8e,#26828e,#25858e,#26828e,#26828e,#25858e,#24868e,#25838e,#27808e,#287d8e,#277e8e,#26828e,#23888e,#228b8d)"></i><i style="background:linear-gradient(#2c728e,#2c728e,#2e6f8e,#2f6b8e,#2e6d8e,#2d718e,#2b758e,#297a8e,#297b8e,#297a8e,#2a788e,#2a768e,#2a778e,#297a8e,#297b8e,#287c8e,#2a788e,#2b758e,#2a788e,#297b8e,#287d8e,#287c8e,#29798e,#297b8e,#26818e,#25858e,#23888e)"></i><i style="background:linear-gradient(#2d718e,#2d718e,#2e6e8e,#2f6b8e,#306a8e,#30698e,#2e6d8e,#2c728e,#2a768e,#2b748e,#2d718e,#2e6e8e,#2c728e,#2a778e,#297a8e,#297b8e,#2a788e,#2b748e,#2b758e,#2a788e,#297b8e,#287c8e,#297b8e,#277e8e,#26828e,#25838e,#25838e)"></i><i style="background:linear-gradient(#2d718e,#2e6f8e,#2f6b8e,#31688e,#31688e,#31678e,#31688e,#2e6d8e,#2c718e,#2c718e,#2e6f8e,#2e6e8e,#2c728e,#29798e,#287c8e,#297b8e,#2a788e,#2a778e,#2a788e,#2a788e,#2a768e,#2b748e,#2a788e,#277e8e,#277e8e,#297b8e,#29798e)"></i><i style="background:linear-gradient(#2c738e,#2d708e,#31678e,#32648e,#31678e,#2f6c8e,#2f6c8e,#2e6e8e,#2d708e,#2e6e8e,#2e6e8e,#2d708e,#2c738e,#2a788e,#297b8e,#29798e,#2a768e,#29798e,#287c8e,#2a788e,#2d708e,#2f6c8e,#2c738e,#297a8e,#2a788e,#2c728e,#2d718e)"></i><i style="background:linear-gradient(#2b758e,#2c718e,#31678e,#33638d,#31688e,#2e6e8e,#2e6f8e,#2e6f8e,#2e6f8e,#2f6b8e,#2f6c8e,#2e6f8e,#2c728e,#2a768e,#297a8e,#2a778e,#2b758e,#297a8e,#287d8e,#2a788e,#2e6e8e,#30698e,#2c718e,#29798e,#2b758e,#2d718e,#2e6e8e)"></i></div><svg class="hm" style="left:468px;top:158.5px" width="78.5" height="78" viewBox="0 0 79 78" preserveAspectRatio="none"><defs><filter id="pbd" x="-20%" y="-20%" width="140%" height="140%"><feGaussianBlur stdDeviation="1.5"/></filter></defs><g fill="none" stroke-linecap="butt" stroke-linejoin="round" filter="url(#pbd)"><path d="M13.1,10.6L28.3,19.1L46.5,43.5L55.6,64.7" stroke="#1e9c89" stroke-width="5"/><path d="M-2.1,25.8L19.1,24.3L34.3,34.3L49.5,55.6L56.2,71.4" stroke="#29af7f" stroke-width="6.5"/><path d="M-2.1,41.0L16.1,41.0L28.3,45.3L40.4,56.2L48.0,64.7" stroke="#b0dd2f" stroke-width="8"/><path d="M48.0,64.7L52.0,69.0" stroke="#44bf70" stroke-width="6"/><path d="M11.6,42.2L31.3,47.1" stroke="#fde725" stroke-width="5.5"/><path d="M-2.1,52.0L13.1,52.6L28.3,59.3L40.4,66.9L47.1,72.6" stroke="#7ad151" stroke-width="7"/><path d="M-2.1,63.8L19.1,65.7L34.3,71.1L41.9,75.4" stroke="#44bf70" stroke-width="5.6"/><path d="M-2.1,72.9L25.2,74.8" stroke="#26ad81" stroke-width="4.2"/></g></svg>
<div class="t" style="left:4.5px;top:8.9px;font-size:9.1px;line-height:10.6px;white-space:nowrap">Referenc<br>e</div>
<div class="t" style="left:2px;top:102.5px;font-size:9.1px">Our Model</div>
<div class="t" style="left:2.4px;top:191.7px;font-size:9.1px">Tacotron2</div>
<svg width="550" height="286" viewBox="0 0 550 286"><text transform="translate(205.5,7.6) scale(.125)" font-size="48.4" text-anchor="middle">Mel-Spectrogram</text><text transform="translate(204,98.7) scale(.125)" font-size="48.8" text-anchor="middle">Frames</text><text transform="translate(50.2,53) rotate(-90) scale(.125)" font-size="49.6" text-anchor="middle">Channel</text><text transform="translate(57.6,88.25) scale(.125)" font-size="28" text-anchor="end">0</text><rect x="58.6" y="86.8" width="1.4" height="0.4" fill="#333"/><text transform="translate(57.6,78.6875) scale(.125)" font-size="28" text-anchor="end">10</text><rect x="58.6" y="77.2375" width="1.4" height="0.4" fill="#333"/><text transform="translate(57.6,69.125) scale(.125)" font-size="28" text-anchor="end">20</text><rect x="58.6" y="67.675" width="1.4" height="0.4" fill="#333"/><text transform="translate(57.6,59.5625) scale(.125)" font-size="28" text-anchor="end">30</text><rect x="58.6" y="58.1125" width="1.4" height="0.4" fill="#333"/><text transform="translate(57.6,50) scale(.125)" font-size="28" text-anchor="end">40</text><rect x="58.6" y="48.55" width="1.4" height="0.4" fill="#333"/><text transform="translate(57.6,40.4375) scale(.125)" font-size="28" text-anchor="end">50</text><rect x="58.6" y="38.9875" width="1.4" height="0.4" fill="#333"/><text transform="translate(57.6,30.875) scale(.125)" font-size="28" text-anchor="end">60</text><rect x="58.6" y="29.425" width="1.4" height="0.4" fill="#333"/><text transform="translate(57.6,21.3125) scale(.125)" font-size="28" text-anchor="end">70</text><rect x="58.6" y="19.8625" width="1.4" height="0.4" fill="#333"/><text transform="translate(60,92.4) scale(.125)" font-size="28" text-anchor="middle">0</text><rect x="59.8" y="87.5" width="0.4" height="1.4" fill="#333"/><text transform="translate(96,92.4) scale(.125)" font-size="28" text-anchor="middle">100</text><rect x="95.8" y="87.5" width="0.4" height="1.4" fill="#333"/><text transform="translate(132,92.4) scale(.125)" font-size="28" text-anchor="middle">200</text><rect x="131.8" y="87.5" width="0.4" height="1.4" fill="#333"/><text transform="translate(168,92.4) scale(.125)" font-size="28" text-anchor="middle">300</text><rect x="167.8" y="87.5" width="0.4" height="1.4" fill="#333"/><text transform="translate(204,92.4) scale(.125)" font-size="28" text-anchor="middle">400</text><rect x="203.8" y="87.5" width="0.4" height="1.4" fill="#333"/><text transform="translate(240,92.4) scale(.125)" font-size="28" text-anchor="middle">500</text><rect x="239.8" y="87.5" width="0.4" height="1.4" fill="#333"/><text transform="translate(276,92.4) scale(.125)" font-size="28" text-anchor="middle">600</text><rect x="275.8" y="87.5" width="0.4" height="1.4" fill="#333"/><text transform="translate(312,92.4) scale(.125)" font-size="28" text-anchor="middle">700</text><rect x="311.8" y="87.5" width="0.4" height="1.4" fill="#333"/><text transform="translate(204,189.8) scale(.125)" font-size="48.8" text-anchor="middle">Frames</text><text transform="translate(50.2,145) rotate(-90) scale(.125)" font-size="49.6" text-anchor="middle">Channel</text><text transform="translate(57.6,179.75) scale(.125)" font-size="28" text-anchor="end">0</text><rect x="58.6" y="178.3" width="1.4" height="0.4" fill="#333"/><text transform="translate(57.6,170.25) scale(.125)" font-size="28" text-anchor="end">10</text><rect x="58.6" y="168.8" width="1.4" height="0.4" fill="#333"/><text transform="translate(57.6,160.75) scale(.125)" font-size="28" text-anchor="end">20</text><rect x="58.6" y="159.3" width="1.4" height="0.4" fill="#333"/><text transform="translate(57.6,151.25) scale(.125)" font-size="28" text-anchor="end">30</text><rect x="58.6" y="149.8" width="1.4" height="0.4" fill="#333"/><text transform="translate(57.6,141.75) scale(.125)" font-size="28" text-anchor="end">40</text><rect x="58.6" y="140.3" width="1.4" height="0.4" fill="#333"/><text transform="translate(57.6,132.25) scale(.125)" font-size="28" text-anchor="end">50</text><rect x="58.6" y="130.8" width="1.4" height="0.4" fill="#333"/><text transform="translate(57.6,122.75) scale(.125)" font-size="28" text-anchor="end">60</text><rect x="58.6" y="121.3" width="1.4" height="0.4" fill="#333"/><text transform="translate(57.6,113.25) scale(.125)" font-size="28" text-anchor="end">70</text><rect x="58.6" y="111.8" width="1.4" height="0.4" fill="#333"/><text transform="translate(60,183.9) scale(.125)" font-size="28" text-anchor="middle">0</text><rect x="59.8" y="179" width="0.4" height="1.4" fill="#333"/><text transform="translate(100,183.9) scale(.125)" font-size="28" text-anchor="middle">100</text><rect x="99.8" y="179" width="0.4" height="1.4" fill="#333"/><text transform="translate(140,183.9) scale(.125)" font-size="28" text-anchor="middle">200</text><rect x="139.8" y="179" width="0.4" height="1.4" fill="#333"/><text transform="translate(180,183.9) scale(.125)" font-size="28" text-anchor="middle">300</text><rect x="179.8" y="179" width="0.4" height="1.4" fill="#333"/><text transform="translate(220,183.9) scale(.125)" font-size="28" text-anchor="middle">400</text><rect x="219.8" y="179" width="0.4" height="1.4" fill="#333"/><text transform="translate(260,183.9) scale(.125)" font-size="28" text-anchor="middle">500</text><rect x="259.8" y="179" width="0.4" height="1.4" fill="#333"/><text transform="translate(300,183.9) scale(.125)" font-size="28" text-anchor="middle">600</text><rect x="299.8" y="179" width="0.4" height="1.4" fill="#333"/><text transform="translate(204,281.8) scale(.125)" font-size="48.8" text-anchor="middle">Frames</text><text transform="translate(50.2,235.5) rotate(-90) scale(.125)" font-size="49.6" text-anchor="middle">Channel</text><text transform="translate(57.6,270.75) scale(.125)" font-size="28" text-anchor="end">0</text><rect x="58.6" y="269.3" width="1.4" height="0.4" fill="#333"/><text transform="translate(57.6,261.188) scale(.125)" font-size="28" text-anchor="end">10</text><rect x="58.6" y="259.738" width="1.4" height="0.4" fill="#333"/><text transform="translate(57.6,251.625) scale(.125)" font-size="28" text-anchor="end">20</text><rect x="58.6" y="250.175" width="1.4" height="0.4" fill="#333"/><text transform="translate(57.6,242.062) scale(.125)" font-size="28" text-anchor="end">30</text><rect x="58.6" y="240.613" width="1.4" height="0.4" fill="#333"/><text transform="translate(57.6,232.5) scale(.125)" font-size="28" text-anchor="end">40</text><rect x="58.6" y="231.05" width="1.4" height="0.4" fill="#333"/><text transform="translate(57.6,222.938) scale(.125)" font-size="28" text-anchor="end">50</text><rect x="58.6" y="221.488" width="1.4" height="0.4" fill="#333"/><text transform="translate(57.6,213.375) scale(.125)" font-size="28" text-anchor="end">60</text><rect x="58.6" y="211.925" width="1.4" height="0.4" fill="#333"/><text transform="translate(57.6,203.812) scale(.125)" font-size="28" text-anchor="end">70</text><rect x="58.6" y="202.363" width="1.4" height="0.4" fill="#333"/><text transform="translate(60,274.9) scale(.125)" font-size="28" text-anchor="middle">0</text><rect x="59.8" y="270" width="0.4" height="1.4" fill="#333"/><text transform="translate(107.65,274.9) scale(.125)" font-size="28" text-anchor="middle">100</text><rect x="107.45" y="270" width="0.4" height="1.4" fill="#333"/><text transform="translate(155.3,274.9) scale(.125)" font-size="28" text-anchor="middle">200</text><rect x="155.1" y="270" width="0.4" height="1.4" fill="#333"/><text transform="translate(202.95,274.9) scale(.125)" font-size="28" text-anchor="middle">300</text><rect x="202.75" y="270" width="0.4" height="1.4" fill="#333"/><text transform="translate(250.6,274.9) scale(.125)" font-size="28" text-anchor="middle">400</text><rect x="250.4" y="270" width="0.4" height="1.4" fill="#333"/><text transform="translate(298.25,274.9) scale(.125)" font-size="28" text-anchor="middle">500</text><rect x="298.05" y="270" width="0.4" height="1.4" fill="#333"/><text transform="translate(356.4,16.25) scale(.125)" font-size="28">0</text><rect x="353.5" y="14.8" width="1.3" height="0.4" fill="#333"/><text transform="translate(356.4,29.09) scale(.125)" font-size="28">−2</text><rect x="353.5" y="27.64" width="1.3" height="0.4" fill="#333"/><text transform="translate(356.4,41.93) scale(.125)" font-size="28">−4</text><rect x="353.5" y="40.48" width="1.3" height="0.4" fill="#333"/><text transform="translate(356.4,54.77) scale(.125)" font-size="28">−6</text><rect x="353.5" y="53.32" width="1.3" height="0.4" fill="#333"/><text transform="translate(356.4,67.61) scale(.125)" font-size="28">−8</text><rect x="353.5" y="66.16" width="1.3" height="0.4" fill="#333"/><text transform="translate(356.4,80.45) scale(.125)" font-size="28">−10</text><rect x="353.5" y="79" width="1.3" height="0.4" fill="#333"/><text transform="translate(356.4,109.25) scale(.125)" font-size="28">0</text><rect x="353.5" y="107.8" width="1.3" height="0.4" fill="#333"/><text transform="translate(356.4,121.85) scale(.125)" font-size="28">−2</text><rect x="353.5" y="120.4" width="1.3" height="0.4" fill="#333"/><text transform="translate(356.4,134.45) scale(.125)" font-size="28">−4</text><rect x="353.5" y="133" width="1.3" height="0.4" fill="#333"/><text transform="translate(356.4,147.05) scale(.125)" font-size="28">−6</text><rect x="353.5" y="145.6" width="1.3" height="0.4" fill="#333"/><text transform="translate(356.4,159.65) scale(.125)" font-size="28">−8</text><rect x="353.5" y="158.2" width="1.3" height="0.4" fill="#333"/><text transform="translate(356.4,172.25) scale(.125)" font-size="28">−10</text><rect x="353.5" y="170.8" width="1.3" height="0.4" fill="#333"/><text transform="translate(357,199.65) scale(.125)" font-size="28">0</text><rect x="354.1" y="198.2" width="1.3" height="0.4" fill="#333"/><text transform="translate(357,212.45) scale(.125)" font-size="28">−2</text><rect x="354.1" y="211" width="1.3" height="0.4" fill="#333"/><text transform="translate(357,225.25) scale(.125)" font-size="28">−4</text><rect x="354.1" y="223.8" width="1.3" height="0.4" fill="#333"/><text transform="translate(357,238.05) scale(.125)" font-size="28">−6</text><rect x="354.1" y="236.6" width="1.3" height="0.4" fill="#333"/><text transform="translate(357,250.85) scale(.125)" font-size="28">−8</text><rect x="354.1" y="249.4" width="1.3" height="0.4" fill="#333"/><text transform="translate(357,263.65) scale(.125)" font-size="28">−10</text><rect x="354.1" y="262.2" width="1.3" height="0.4" fill="#333"/></svg>
<div class="rb" style="left:149.4px;top:6.8px;width:20.5px;height:85px"></div>
<div class="rb" style="left:248.3px;top:6.8px;width:19.9px;height:85px"></div>
<div class="rb" style="left:161.9px;top:100.2px;width:20.4px;height:84.1px"></div>
<div class="rb" style="left:281.5px;top:100.2px;width:20px;height:84.4px"></div>
<svg width="550" height="286" viewBox="0 0 550 286"><g fill="none" stroke="#f0a81c" stroke-width="1.25" stroke-dasharray="3.7 1.3"><rect x="118.9" y="117.2" width="11.7" height="18.2"/><rect x="317.5" y="150.1" width="13" height="28.2"/><rect x="125" y="204.7" width="10.1" height="17.2"/><rect x="317.5" y="240.7" width="13" height="28.6"/></g></svg>
<div class="yl" style="left:109px;top:108.53px">A)</div>
<div class="yl" style="left:308.2px;top:139.73px">C)</div>
<div class="yl" style="left:114px;top:195.43px">B)</div>
<div class="yl" style="left:308.2px;top:233.43px">D)</div>
<div class="pl" style="left:380px;top:69.46px">A)</div>
<div class="pl" style="left:471.2px;top:69.66px">C)</div>
<div class="pl" style="left:382.3px;top:161.76px">B)</div>
<div class="pl" style="left:471.3px;top:161.36px">D)</div>
</body></html>
